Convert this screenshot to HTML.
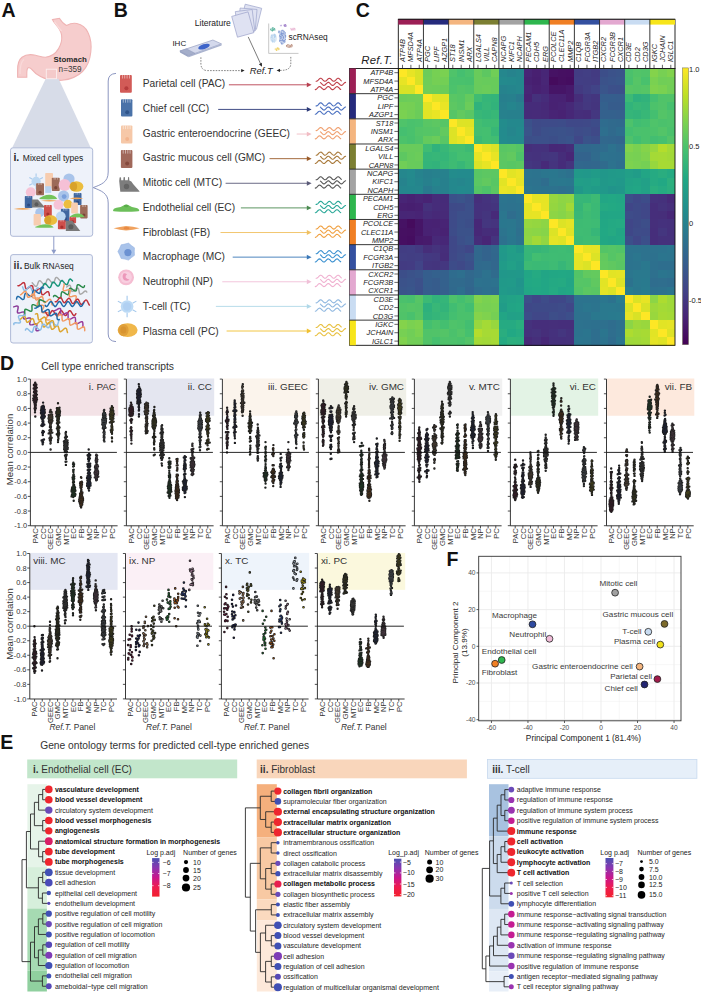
<!DOCTYPE html>
<html><head><meta charset="utf-8"><style>
html,body{margin:0;padding:0;background:#fff;}
body{width:701px;height:993px;overflow:hidden;}
svg{display:block;font-family:"Liberation Sans",sans-serif;}
</style></head><body>
<svg width="701" height="993" viewBox="0 0 701 993">
<rect width="701" height="993" fill="#fff"/>
<text x="1.6" y="16.7" font-weight="bold" font-size="19.5" fill="#111">A</text>
<path d="M52.4 19.6 L59.4 18.3 C61 21 63.5 24 66.5 25.4 C70 23.6 73.5 22.8 76.8 23.5 C82 24.6 86 28 88 32.5 C90.6 38 91.6 45 90.8 52 C90 60 87 67 82.5 71.5 C77.5 76.5 70 79.5 62 80.2 C54 80.8 46 79.6 40.5 76.6 C36.5 74.4 33.5 71.8 31.5 69.2 C30.4 68 29.2 67.2 28.2 67.8 C27 68.6 26.8 71 26.8 73.5 L26.8 77.2 L17.6 77.2 L17.6 70 C17.6 64 19 59.5 22 57.2 C25.5 54.6 30.5 54.2 35.5 55.2 C39.5 56 42.5 57.4 45.5 57.2 C50.5 56.8 55.5 53.8 58.6 48.6 C61.2 44.2 62.2 39.4 61.6 35.2 C61 31.6 58.8 28 56.2 25 C54.6 23.2 53.2 21.4 52.4 19.6 Z" fill="#f6cdcd" stroke="#efb4b4" stroke-width="1.1"/>
<path d="M54.5 21.5 C56.5 25 59.5 28.5 61.5 31" fill="none" stroke="#f9dada" stroke-width="1.4"/>
<path d="M20 74 C20 66 21 61.5 24 59.4" fill="none" stroke="#f9dada" stroke-width="1.2"/>
<text x="53.6" y="62.2" font-weight="bold" font-size="7.9" fill="#2a2a2a">Stomach</text>
<text x="58.6" y="71.8" font-size="8.2" fill="#3a3a3a">n=359</text>
<polygon points="45.7,78.8 58.6,78.8 90.6,147.6 12.3,147.6" fill="#d7dce8"/>
<rect x="46.3" y="69.2" width="10.2" height="9.5" fill="#f4caca" stroke="#fbeeee" stroke-width="0.9"/>
<rect x="10.5" y="147.8" width="82.2" height="88.5" rx="2.4" fill="#eef2fa" stroke="#a7b2d2" stroke-width="0.9"/>
<text x="13.4" y="161.4" font-size="10.5" font-weight="bold" fill="#222">i.</text><text x="22.8" y="161.4" font-size="8.5" fill="#222">Mixed cell types</text>
<g><line x1="36.1" y1="176.8" x2="36.1" y2="173.58" stroke="#a9cbec" stroke-width="1.1"/><line x1="32.12" y1="179.1" x2="29.33" y2="177.49" stroke="#a9cbec" stroke-width="1.1"/><line x1="32.12" y1="183.7" x2="29.33" y2="185.31" stroke="#a9cbec" stroke-width="1.1"/><line x1="36.1" y1="186" x2="36.1" y2="189.22" stroke="#a9cbec" stroke-width="1.1"/><line x1="40.08" y1="183.7" x2="42.87" y2="185.31" stroke="#a9cbec" stroke-width="1.1"/><line x1="40.08" y1="179.1" x2="42.87" y2="177.49" stroke="#a9cbec" stroke-width="1.1"/><circle cx="36.1" cy="181.4" r="4.6" fill="#bcd8f2"/><circle cx="69" cy="179" r="5.6" fill="#a9c4ea"/><rect x="45.2" y="172.9" width="7.8" height="15.7" rx="0.8" fill="#f7cdb0"/><rect x="51.8" y="177.7" width="7.9" height="13.3" rx="0.8" fill="#9c6a58"/><circle cx="55.75" cy="187.68" r="1.58" fill="#7a4436"/><line x1="54.17" y1="177.7" x2="54.17" y2="179.69" stroke="#fff" stroke-width="0.5" opacity="0.7"/><line x1="55.75" y1="177.7" x2="55.75" y2="179.69" stroke="#fff" stroke-width="0.5" opacity="0.7"/><line x1="57.33" y1="177.7" x2="57.33" y2="179.69" stroke="#fff" stroke-width="0.5" opacity="0.7"/><circle cx="64.6" cy="185" r="6" fill="#f5c0d6"/><ellipse cx="76.4" cy="186.5" rx="7" ry="5.2" fill="#ebbd3e"/><ellipse cx="73.6" cy="186.5" rx="3.5" ry="4.42" fill="#d8a22a"/><circle cx="30.8" cy="192.3" r="5" fill="#f6c3d6"/><rect x="45.2" y="186.2" width="6" height="6.7" fill="#b7d3f0"/><rect x="36.1" y="183.2" width="7.9" height="12.1" rx="0.8" fill="#9c6a58"/><circle cx="40.05" cy="192.28" r="1.58" fill="#7a4436"/><line x1="38.47" y1="183.2" x2="38.47" y2="185.01" stroke="#fff" stroke-width="0.5" opacity="0.7"/><line x1="40.05" y1="183.2" x2="40.05" y2="185.01" stroke="#fff" stroke-width="0.5" opacity="0.7"/><line x1="41.63" y1="183.2" x2="41.63" y2="185.01" stroke="#fff" stroke-width="0.5" opacity="0.7"/><path d="M39.1 199 C42.74 194.5 53.66 192.5 57.3 199 C51.84 199.6 44.56 199.6 39.1 199 Z" fill="#74c45a"/><circle cx="63.6" cy="196" r="5.6" fill="#a9c4ea"/><circle cx="64.16" cy="196.56" r="2.4" fill="#7aa0dc"/><rect x="73.7" y="192.9" width="7.8" height="12.1" rx="0.8" fill="#3f66a0"/><circle cx="77.6" cy="201.97" r="1.56" fill="#2c4a80"/><line x1="76.04" y1="192.9" x2="76.04" y2="194.72" stroke="#fff" stroke-width="0.5" opacity="0.7"/><line x1="77.6" y1="192.9" x2="77.6" y2="194.72" stroke="#fff" stroke-width="0.5" opacity="0.7"/><line x1="79.16" y1="192.9" x2="79.16" y2="194.72" stroke="#fff" stroke-width="0.5" opacity="0.7"/><path d="M69.4 198.4 Q76.4 196.8 83.4 198.4 Q76.4 200 69.4 198.4 Z" fill="#f0a55a"/><rect x="24.8" y="195.9" width="7.6" height="12.1" rx="0.8" fill="#3f66a0"/><circle cx="28.6" cy="204.97" r="1.52" fill="#2c4a80"/><line x1="27.08" y1="195.9" x2="27.08" y2="197.72" stroke="#fff" stroke-width="0.5" opacity="0.7"/><line x1="28.6" y1="195.9" x2="28.6" y2="197.72" stroke="#fff" stroke-width="0.5" opacity="0.7"/><line x1="30.12" y1="195.9" x2="30.12" y2="197.72" stroke="#fff" stroke-width="0.5" opacity="0.7"/><path d="M31.8 199.6 L37.83 199.6 L45.2 207.4 L31.8 207.4 Z" fill="#7a7a7a"/><circle cx="36.49" cy="204.3" r="1.95" fill="#5a5a5a"/><path d="M40.9 200.8 Q49.4 199.3 57.9 200.8 Q49.4 202.3 40.9 200.8 Z" fill="#f0a55a"/><circle cx="58.5" cy="204.7" r="5" fill="#f6c3d6"/><circle cx="67.9" cy="204.2" r="4.4" fill="#ecbd3e"/><rect x="71.2" y="202.6" width="6.7" height="10.9" rx="0.8" fill="#f7cdb0"/><rect x="80.1" y="205" width="7.5" height="13.4" rx="0.8" fill="#9c6a58"/><circle cx="83.85" cy="215.05" r="1.5" fill="#7a4436"/><line x1="82.35" y1="205" x2="82.35" y2="207.01" stroke="#fff" stroke-width="0.5" opacity="0.7"/><line x1="83.85" y1="205" x2="83.85" y2="207.01" stroke="#fff" stroke-width="0.5" opacity="0.7"/><line x1="85.35" y1="205" x2="85.35" y2="207.01" stroke="#fff" stroke-width="0.5" opacity="0.7"/><path d="M13.6 208.9 Q22.7 207.3 31.8 208.9 Q22.7 210.5 13.6 208.9 Z" fill="#f0a55a"/><circle cx="39.8" cy="212.5" r="4.6" fill="#a9c4ea"/><rect x="44" y="205" width="7.8" height="12.1" rx="0.8" fill="#cf4f4b"/><circle cx="47.9" cy="214.07" r="1.56" fill="#a8302e"/><line x1="46.34" y1="205" x2="46.34" y2="206.81" stroke="#fff" stroke-width="0.5" opacity="0.7"/><line x1="47.9" y1="205" x2="47.9" y2="206.81" stroke="#fff" stroke-width="0.5" opacity="0.7"/><line x1="49.46" y1="205" x2="49.46" y2="206.81" stroke="#fff" stroke-width="0.5" opacity="0.7"/><rect x="60.9" y="208.7" width="8.5" height="13.3" rx="0.8" fill="#3f66a0"/><circle cx="65.15" cy="218.68" r="1.7" fill="#2c4a80"/><line x1="63.45" y1="208.7" x2="63.45" y2="210.69" stroke="#fff" stroke-width="0.5" opacity="0.7"/><line x1="65.15" y1="208.7" x2="65.15" y2="210.69" stroke="#fff" stroke-width="0.5" opacity="0.7"/><line x1="66.85" y1="208.7" x2="66.85" y2="210.69" stroke="#fff" stroke-width="0.5" opacity="0.7"/><circle cx="60.8" cy="216.5" r="4.9" fill="#bcd6f2"/><path d="M69.4 217.1 C72.44 213.3 81.56 211.3 84.6 217.1 C80.04 217.7 73.96 217.7 69.4 217.1 Z" fill="#74c45a"/><rect x="33.6" y="214.1" width="7.3" height="11.5" rx="0.8" fill="#f7cdb0"/><ellipse cx="50.6" cy="220.2" rx="6.6" ry="4.9" fill="#ebbd3e"/><ellipse cx="47.96" cy="220.2" rx="3.3" ry="4.17" fill="#d8a22a"/><rect x="57.9" y="220.2" width="7.9" height="9.1" rx="0.8" fill="#cf4f4b"/><circle cx="61.85" cy="227.03" r="1.58" fill="#a8302e"/><line x1="60.27" y1="220.2" x2="60.27" y2="221.56" stroke="#fff" stroke-width="0.5" opacity="0.7"/><line x1="61.85" y1="220.2" x2="61.85" y2="221.56" stroke="#fff" stroke-width="0.5" opacity="0.7"/><line x1="63.43" y1="220.2" x2="63.43" y2="221.56" stroke="#fff" stroke-width="0.5" opacity="0.7"/><rect x="69.4" y="217.1" width="6.7" height="6.1" rx="0.8" fill="#cf4f4b"/><circle cx="72.75" cy="221.67" r="1.34" fill="#a8302e"/><line x1="71.41" y1="217.1" x2="71.41" y2="218.01" stroke="#fff" stroke-width="0.5" opacity="0.7"/><line x1="72.75" y1="217.1" x2="72.75" y2="218.01" stroke="#fff" stroke-width="0.5" opacity="0.7"/><line x1="74.09" y1="217.1" x2="74.09" y2="218.01" stroke="#fff" stroke-width="0.5" opacity="0.7"/><path d="M34.9 227.4 C38.66 224.2 49.94 222.2 53.7 227.4 C48.06 228 40.54 228 34.9 227.4 Z" fill="#74c45a"/><path d="M65.8 220.8 L72.33 220.8 L80.3 231.1 L65.8 231.1 Z" fill="#7a7a7a"/><circle cx="70.88" cy="226.75" r="2.57" fill="#5a5a5a"/></g>
<line x1="53.8" y1="236.3" x2="53.8" y2="250.5" stroke="#8d9bc8" stroke-width="1"/>
<polygon points="51.3,249.8 56.3,249.8 53.8,254.2" fill="#8d9bc8"/>
<rect x="10.6" y="254.6" width="81.8" height="88.4" rx="2.4" fill="#eef2fa" stroke="#a7b2d2" stroke-width="0.9"/>
<text x="13.6" y="268.6" font-size="10.5" font-weight="bold" fill="#333">ii.</text><text x="23.9" y="268.6" font-size="8.4" fill="#222">Bulk RNAseq</text>
<polyline points="17.9,285.7 18.8,285.8 19.8,285.2 21.1,284.2 22.3,283.2 23.4,282.6 24.2,282.8 24.7,283.7 25,285.2 25.3,286.8 25.6,288.1 26.2,288.8 27.1,288.7 28.3,287.9 29.5,286.9 30.7,285.9 31.7,285.6 32.4,285.9 32.9,287.1 33.1,288.6 33.4,290.2 33.8,291.4 34.5,291.8 35.5,291.5 36.7,290.6 37.9,289.5 39.1,288.7 40,288.6 40.6,289.2 41,290.5 41.3,292.1 41.6,293.6 42.1,294.6 42.9,294.8 43.9,294.3 45.1,293.3 46.4,292.2 47.5,291.6 48.3,291.6 48.8,292.5 49.2,293.9 49.4,295.5" fill="none" stroke="#c0303a" stroke-width="1.45" stroke-linecap="round" stroke-linejoin="round"/>
<polyline points="32.2,282.8 33.2,283.9 34.3,285.2 35.3,286.2 36.2,286.4 36.9,285.8 37.5,284.5 38,283 38.6,281.5 39.3,280.8 40.1,280.8 41.1,281.6 42.2,282.9 43.2,284.1 44.2,284.7 45,284.6 45.6,283.6 46.2,282.1 46.7,280.6 47.3,279.4 48.1,279 49,279.5 50,280.6 51.1,281.9 52.2,282.8 53,283.1 53.8,282.6 54.4,281.3 54.9,279.7 55.4,278.3 56.1,277.5 56.9,277.5 57.9,278.3 59,279.6 60.1,280.8 61,281.4 61.9,281.3 62.5,280.4" fill="none" stroke="#a8a8a8" stroke-width="1.45" stroke-linecap="round" stroke-linejoin="round"/>
<polyline points="40.9,289.2 41.7,289 42.4,288 42.9,286.5 43.5,285 44.1,283.9 44.9,283.5 45.8,284 46.8,285.1 47.9,286.4 48.9,287.4 49.7,287.7 50.5,287.2 51.1,285.9 51.6,284.4 52.2,282.9 52.9,282.1 53.7,282.1 54.7,282.9 55.7,284.1 56.7,285.4 57.7,286.1 58.5,286.1 59.2,285.2 59.8,283.8 60.3,282.2 60.9,281 61.7,280.5 62.5,280.8 63.6,281.9 64.6,283.2 65.6,284.2 66.5,284.7 67.3,284.3 67.9,283.2 68.5,281.6 69,280.1 69.7,279.2 70.5,279 71.4,279.7 72.5,280.9" fill="none" stroke="#17957a" stroke-width="1.45" stroke-linecap="round" stroke-linejoin="round"/>
<polyline points="22.5,286.8 23.1,288.3 23.7,289.7 24.3,290.7 25.1,290.8 26,290.2 27,289 28,287.7 29,286.8 29.8,286.6 30.5,287.2 31.2,288.4 31.8,290 32.4,291.3 33.1,292.1 33.9,292 34.8,291.1 35.8,289.9 36.8,288.6 37.7,287.9 38.5,287.9" fill="none" stroke="#8cbde6" stroke-width="1.45" stroke-linecap="round" stroke-linejoin="round"/>
<polyline points="66.7,287 68,285.9 69.1,285.2 70,285.3 70.5,286.2 70.9,287.7 71.1,289.4 71.5,290.7 72.2,291.4 73.1,291.2 74.3,290.3 75.6,289.2 76.7,288.3 77.7,288 78.4,288.6 78.8,289.9 79.1,291.5 79.4,293.1 80,294.1 80.8,294.2 81.8,293.7 83.1,292.6 84.3,291.5 85.4,291 86.2,291.1 86.8,292.1" fill="none" stroke="#a8a8a8" stroke-width="1.45" stroke-linecap="round" stroke-linejoin="round"/>
<polyline points="53.5,296.7 53.9,295.7 54.7,295.4 55.8,295.8 57.1,296.7 58.4,297.7 59.6,298.2 60.4,298.1 60.9,297.1 61.1,295.6 61.2,293.9 61.5,292.6 62.1,291.8 63,291.9 64.2,292.6 65.6,293.6 66.8,294.4 67.9,294.7 68.5,294.1 68.8,292.9 69,291.2 69.2,289.7 69.5,288.6 70.3,288.2 71.4,288.6 72.7,289.5 74,290.5 75.2,291 76,290.9 76.5,290 76.7,288.6 76.9,286.9 77.1,285.5 77.7,284.7 78.6,284.7 79.8,285.4 81.1,286.4 82.4,287.2 83.4,287.5 84.1,287 84.5,285.8" fill="none" stroke="#2a8a4a" stroke-width="1.45" stroke-linecap="round" stroke-linejoin="round"/>
<polyline points="64,283.9 64.1,284.9 63.9,286.3 63.4,287.9 63.1,289.4 63.3,290.3 64.1,290.7 65.4,290.5 67,290.1 68.5,289.7 69.6,289.7 70.2,290.3 70.2,291.5 69.8,293 69.3,294.6 69.2,295.8 69.6,296.6 70.6,296.8 72,296.5 73.6,296 75,295.7 76,295.9 76.3,296.7 76.1,298.1 75.7,299.6 75.3,301.2 75.3,302.3 76,302.8 77.1,302.8" fill="none" stroke="#f29a62" stroke-width="1.45" stroke-linecap="round" stroke-linejoin="round"/>
<polyline points="16.5,299.1 16.8,297.6 17.3,296.6 18,296.3 19.1,296.8 20.4,297.8 21.6,298.9 22.7,299.5 23.6,299.4 24.1,298.5 24.4,297 24.6,295.4 25,294 25.6,293.3 26.5,293.4 27.7,294.2 29,295.3 30.2,296.2 31.2,296.5 31.9,296 32.3,294.9 32.5,293.2 32.8,291.7 33.3,290.6 34,290.2 35,290.6 36.3,291.6 37.5,292.6 38.7,293.3 39.6,293.4 40.1,292.6 40.5,291.1 40.7,289.5 41,288 41.6,287.2 42.5,287.3 43.6,288" fill="none" stroke="#1f6aa8" stroke-width="1.45" stroke-linecap="round" stroke-linejoin="round"/>
<polyline points="20.4,294.8 21.4,294.3 22.5,293.2 23.7,292.1 24.8,291.4 25.7,291.4 26.3,292.1 26.7,293.5 27,295.1 27.4,296.5 28,297.3 28.8,297.3 29.8,296.7 31,295.6 32.2,294.5 33.2,294 34,294.1 34.6,295 34.9,296.5 35.3,298.1 35.7,299.4 36.3,300 37.2,299.9 38.3,299.1 39.5,297.9 40.7,297 41.7,296.5 42.4,296.9 42.9,298 43.2,299.5 43.6,301.1 44,302.3 44.7,302.7 45.7,302.3 46.8,301.4 48,300.3 49.1,299.4 50.1,299.2 50.7,299.8 51.2,301 51.5,302.6 51.8,304.1 52.4,305.1" fill="none" stroke="#f29a62" stroke-width="1.45" stroke-linecap="round" stroke-linejoin="round"/>
<polyline points="55.2,301.7 56,301.9 56.9,301.3 57.8,300.1 58.8,298.7 59.7,297.7 60.5,297.4 61.3,298 62,299.3 62.7,300.8 63.4,302.1 64.1,302.8 65,302.6 65.9,301.6 66.8,300.2 67.8,299 68.7,298.3 69.5,298.4 70.2,299.4 70.9,300.9 71.6,302.4 72.3,303.4 73.1,303.6 74,303 74.9,301.8 75.9,300.4 76.8,299.4 77.6,299.1 78.4,299.7 79.1,300.9 79.8,302.5 80.5,303.8 81.2,304.5 82.1,304.3 83,303.3 83.9,302 84.9,300.7 85.8,300 86.6,300.1 87.3,301.1 88,302.5 88.7,304 89.4,305.1" fill="none" stroke="#c0303a" stroke-width="1.45" stroke-linecap="round" stroke-linejoin="round"/>
<polyline points="45.1,305.2 45.9,306.2 46.7,306.5 47.5,305.9 48.3,304.7 49.1,303.2 50,302 50.8,301.5 51.6,301.8 52.4,302.9 53.2,304.3 54,305.6 54.8,306.4 55.6,306.4 56.4,305.5 57.2,304.1 58,302.7 58.8,301.7 59.7,301.5 60.5,302.1 61.3,303.4 62.1,304.8 62.9,306 63.7,306.5 64.5,306.1 65.3,305.1 66.1,303.6 66.9,302.3 67.7,301.6 68.5,301.7 69.4,302.5 70.2,303.9 71,305.3 71.8,306.3 72.6,306.5 73.4,305.8 74.2,304.6 75,303.1 75.8,302 76.6,301.5 77.4,301.9 78.2,303 79.1,304.4 79.9,305.7 80.7,306.4 81.5,306.3 82.3,305.4 83.1,304 83.9,302.6" fill="none" stroke="#1f6aa8" stroke-width="1.45" stroke-linecap="round" stroke-linejoin="round"/>
<polyline points="34.6,291.2 34.8,292 34.3,293.3 33.5,294.7 32.8,296.1 32.6,297.2 33.1,297.9 34.2,298.1 35.8,298.1 37.5,298 38.7,298.2 39.3,298.8 39.2,299.8 38.6,301.1 37.8,302.6 37.2,303.9 37.3,304.8 38,305.3 39.4,305.4 41.1,305.3 42.6,305.3 43.6,305.6 43.9,306.4 43.6,307.6 42.8,309 42.1,310.4 41.7,311.6 42,312.4 43.1,312.7 44.6,312.7 46.3,312.6 47.6,312.7 48.4,313.2 48.4,314.1 47.9,315.4 47,316.9 46.4,318.2 46.3,319.2 46.9,319.8 48.2,320 49.8,319.9" fill="none" stroke="#f29a62" stroke-width="1.45" stroke-linecap="round" stroke-linejoin="round"/>
<polyline points="13.7,306.9 15.3,306.4 16.7,306 17.8,306.1 18.2,306.8 18.1,308 17.8,309.6 17.4,311.2 17.4,312.4 17.9,313 19,313 20.4,312.6 22,312.1 23.4,311.9 24.2,312.2 24.5,313.1 24.2,314.5 23.8,316.1 23.5,317.6 23.7,318.6 24.4,319 25.7,318.9 27.2,318.4 28.7,318 29.9,317.9 30.6,318.4 30.6,319.5 30.3,321 29.9,322.6 29.7,323.9 30.1,324.7 31,324.9 32.4,324.7 34,324.2 35.4,323.8 36.4,323.9 36.9,324.7 36.8,325.9 36.4,327.5 36,329.1 36,330.2 36.6,330.8 37.7,330.8 39.2,330.4" fill="none" stroke="#8a3a98" stroke-width="1.45" stroke-linecap="round" stroke-linejoin="round"/>
<polyline points="23.4,316 24.3,315.8 24.8,315 24.8,313.6 24.7,312 24.7,310.5 25,309.5 25.8,309.2 27,309.6 28.5,310.3 29.9,311 31,311.3 31.8,310.9 32,309.8 32,308.3 31.9,306.6 32,305.3 32.5,304.6 33.4,304.6 34.8,305.1 36.2,305.9 37.6,306.5 38.6,306.5 39.1,305.9 39.2,304.6 39.1,302.9 39.1,301.3 39.3,300.2 40,299.8 41.1,300 42.5,300.7 44,301.4 45.2,301.9" fill="none" stroke="#2a8a4a" stroke-width="1.45" stroke-linecap="round" stroke-linejoin="round"/>
<polyline points="45.1,311.4 45.9,312.7 46.7,314.1 47.5,315.2 48.3,315.6 49.2,315.1 50,313.9 50.8,312.5 51.6,311.2 52.4,310.6 53.2,310.9 54,311.8 54.8,313.3 55.6,314.6 56.4,315.5 57.3,315.5 58.1,314.7 58.9,313.4 59.7,312 60.5,310.9 61.3,310.6 62.1,311.2 62.9,312.4 63.7,313.8 64.6,315 65.4,315.6 66.2,315.3 67,314.2 67.8,312.8 68.6,311.5 69.4,310.7 70.2,310.7 71,311.6 71.8,312.9 72.7,314.4 73.5,315.3 74.3,315.6 75.1,315 75.9,313.7" fill="none" stroke="#c0303a" stroke-width="1.45" stroke-linecap="round" stroke-linejoin="round"/>
<polyline points="54.1,310.6 55.1,310.5 56.5,309.8 57.9,309 59.2,308.4 60.2,308.4 60.7,309.2 60.8,310.6 60.7,312.2 60.8,313.7 61.1,314.8 61.9,315.1 63,314.7 64.4,313.9 65.8,313.1 67,312.8 67.8,313.1 68.1,314.1 68.1,315.6 68.1,317.3 68.2,318.6 68.7,319.4 69.6,319.4 70.9,318.9 72.4,318 73.7,317.4 74.7,317.2 75.3,317.8 75.5,319.1 75.5,320.7 75.5,322.3 75.7,323.5 76.4,323.9 77.5,323.7 78.9,323 80.3,322.1 81.5,321.7 82.4,321.8 82.8,322.7 82.9,324.1 82.9,325.8 82.9,327.2" fill="none" stroke="#9a3a9a" stroke-width="1.45" stroke-linecap="round" stroke-linejoin="round"/>
<polyline points="57,316.5 58.4,315.7 59.8,314.8 60.9,314.5 61.6,314.8 62,316 62,317.5 62.1,319.2 62.3,320.5 62.9,321.1 63.9,320.9 65.3,320.2 66.7,319.3 67.9,318.7 68.9,318.7 69.4,319.4 69.6,320.8 69.6,322.5 69.7,324 70.1,325 70.9,325.2 72.1,324.7 73.5,323.8 74.9,323 76,322.7 76.8,323 77.1,324.1 77.2,325.7 77.2,327.4 77.4,328.7 78.1,329.3 79.1,329.1 80.4,328.4 81.8,327.5 83.1,326.8 84,326.8 84.5,327.6 84.7,329 84.7,330.7" fill="none" stroke="#f29a62" stroke-width="1.45" stroke-linecap="round" stroke-linejoin="round"/>
<polyline points="19.3,319.9 20.3,319.4 21.5,318.3 22.6,317.2 23.7,316.4 24.5,316.3 25.2,317 25.6,318.4 26,320 26.4,321.4 27,322.2 27.9,322.2 28.9,321.4 30.1,320.3 31.2,319.2 32.2,318.6 33,318.8 33.6,319.8 34,321.2 34.4,322.8 34.9,324.1 35.5,324.6 36.4,324.4 37.5,323.5 38.7,322.3 39.8,321.4 40.8,321 41.5,321.4 42,322.5 42.4,324.1 42.8,325.6 43.3,326.7 44.1,327 45,326.5 46.2,325.5 47.3,324.4 48.4,323.5 49.3,323.4 49.9,324 50.4,325.3 50.8,326.9 51.2,328.4 51.8,329.2 52.6,329.3 53.6,328.6 54.8,327.5 55.9,326.4 56.9,325.8 57.8,325.8 58.3,326.7 58.8,328.2 59.1,329.8 59.6,331.1 60.3,331.7 61.1,331.5 62.2,330.7 63.4,329.5 64.5,328.5 65.5,328.1 66.2,328.4 66.8,329.5 67.1,331 67.5,332.6" fill="none" stroke="#dca530" stroke-width="1.45" stroke-linecap="round" stroke-linejoin="round"/>
<polyline points="13.9,324.6 13.8,323.6 14.4,323 15.7,322.8 17.3,322.9 18.9,323 20.1,322.7 20.5,322 20.2,320.9 19.5,319.4 18.7,318 18.4,316.7 18.7,315.9 19.7,315.6 21.2,315.6 22.9,315.7 24.3,315.6 25.1,315.1 25.1,314.2" fill="none" stroke="#8cbde6" stroke-width="1.45" stroke-linecap="round" stroke-linejoin="round"/>
<polyline points="25.4,330.1 25.9,329 26.6,328.5 27.5,328.8 28.6,329.8 29.8,331 30.9,331.9 31.8,332.3 32.5,331.8 33,330.6 33.4,329 33.8,327.5 34.4,326.5 35.2,326.3 36.2,326.9 37.3,327.9 38.4,329.1 39.5,329.9 40.3,330 41,329.3 41.4,327.9 41.8,326.3 42.3,324.9 42.9,324.1 43.8,324.2 44.8,324.9 46,326.1 47.1,327.2 48.1,327.8 48.9,327.6 49.4,326.7 49.9,325.2 50.3,323.6 50.8,322.4 51.5,321.9 52.4,322.1 53.5,323.1 54.6,324.2 55.7,325.2 56.6,325.6 57.4,325.2 57.9,324.1 58.3,322.5 58.7,321 59.3,319.9" fill="none" stroke="#8cbde6" stroke-width="1.45" stroke-linecap="round" stroke-linejoin="round"/>
<polyline points="35.4,314.1 36.5,313.6 37.3,313.8 37.7,314.8 37.9,316.3 38.1,318 38.4,319.3 38.9,320 39.9,319.9 41.1,319.1 42.4,318.2 43.6,317.3 44.6,317 45.3,317.5 45.6,318.7 45.8,320.3 46,321.9 46.4,323 47.1,323.5 48.1,323.2 49.3,322.3 50.6,321.3 51.8,320.6 52.7,320.6 53.3,321.3 53.6,322.7 53.7,324.3 54,325.8 54.4,326.7" fill="none" stroke="#dca530" stroke-width="1.45" stroke-linecap="round" stroke-linejoin="round"/>
<polyline points="34.9,308.2 35.9,308.1 37.1,307.4 38.5,306.4 39.8,305.7 40.8,305.6 41.3,306.2 41.6,307.6 41.7,309.2 41.8,310.8 42.2,311.8 42.9,312.1 44.1,311.7 45.4,310.8 46.8,309.9 47.9,309.4 48.7,309.6 49.2,310.6 49.3,312.1 49.4,313.8 49.6,315.1 50.2,315.9 51.1,315.8 52.3,315.2 53.7,314.2 55,313.5 56,313.2 56.7,313.8 56.9,315 57,316.7 57.1,318.2 57.5,319.4 58.2,319.8 59.3,319.5" fill="none" stroke="#1f6aa8" stroke-width="1.45" stroke-linecap="round" stroke-linejoin="round"/>
<text x="113.7" y="16.8" font-weight="bold" font-size="19.5" fill="#111">B</text>
<rect x="0" y="0" width="17" height="21.6" fill="#dfe2f2" stroke="#959cc6" stroke-width="0.6" transform="translate(245.2 4.2) rotate(14)"/>
<rect x="0" y="0" width="17" height="21.6" fill="#dfe2f2" stroke="#959cc6" stroke-width="0.6" transform="translate(240.1 8) rotate(5)"/>
<rect x="0" y="0" width="17" height="21.6" fill="#dfe2f2" stroke="#959cc6" stroke-width="0.6" transform="translate(235.3 11.6) rotate(-7)"/>
<rect x="0" y="0" width="17" height="21.6" fill="#dfe2f2" stroke="#959cc6" stroke-width="0.6" transform="translate(231.7 16.4) rotate(-15.5)"/>
<text x="194.8" y="26" font-size="8.5" fill="#222">Literature</text>
<polygon points="179.9,51 212.9,40 221.5,43.9 188.5,55.7" fill="#d4d9ec" stroke="#8a94b8" stroke-width="0.6"/>
<polygon points="179.9,51 188.5,55.7 188.6,57.2 180,52.5" fill="#9aa5c4"/>
<polygon points="188.5,55.7 221.5,43.9 221.6,45.4 188.6,57.2" fill="#aab3cf"/>
<polygon points="179.9,51 186.5,48.8 195.2,53.3 188.5,55.7" fill="#a4aeca" stroke="#8a94b8" stroke-width="0.4"/>
<ellipse cx="204" cy="46.6" rx="6" ry="2.4" fill="#3d63c9" transform="rotate(-18 204 46.6)"/>
<text x="172.4" y="46.3" font-size="8" fill="#222">IHC</text>
<path d="M268.7 23.5V53.4H298.5" fill="none" stroke="#b0b0b0" stroke-width="0.7"/>
<ellipse cx="272.8" cy="29.3" rx="2.6" ry="1.8" fill="#4fae96" opacity="0.45"/>
<path d="M274.1 29.6h0M272.7 29h0M273 29.7h0M272.1 30.7h0M272.1 30.6h0M275 30h0M273.5 29.9h0M270.4 29.3h0M272.9 27.5h0M272.9 28.2h0M271 30.1h0M272.5 30.9h0M274.7 28.5h0" stroke="#4fae96" stroke-width="1.0" stroke-linecap="round"/>
<ellipse cx="273.5" cy="38.2" rx="3.4" ry="4.4" fill="#b3d0ec" opacity="0.45"/>
<path d="M272.1 38h0M273 40.4h0M272.4 40.8h0M272 37.6h0M274.4 34.6h0M274.5 36.4h0M271.4 35.9h0M271.8 40h0M274.5 35h0M275.4 36.4h0M275 34.6h0M274.3 34.2h0M272.8 35.4h0M272.4 41.9h0M274.9 40.3h0M273.8 41.6h0M275 36.5h0M274.5 34.5h0M272.7 36.3h0M274.5 35.5h0M273.3 35.2h0M275.4 35.4h0M274.2 39.8h0M274.7 36h0M273 38.8h0M271.5 35.3h0M274.7 37h0M274.4 36.8h0M272 40.1h0M271.3 36.8h0M271.1 37.6h0M275 37.3h0M274.3 42h0M272.6 41.6h0M274.3 37.7h0" stroke="#b3d0ec" stroke-width="1.0" stroke-linecap="round"/>
<ellipse cx="282.5" cy="37" rx="3.6" ry="7.4" fill="#7f98d2" opacity="0.45"/>
<path d="M282.6 35.6h0M280.1 36.7h0M281.3 30.9h0M283.4 37.6h0M280.1 33.2h0M284.1 41.7h0M283.9 41.1h0M285.8 36.2h0M281.6 32.3h0M285.2 33.8h0M285.5 37.1h0M280.3 34.6h0M280.5 38.7h0M281.8 43.4h0M282.2 34.1h0M282.7 30.5h0M282.4 33.5h0M281.6 40.4h0M285.3 32.7h0M281.5 35.1h0M283.9 40.4h0M284.4 40.5h0M282.4 39.5h0M283.3 40.9h0M281.5 33.4h0M280.4 36.4h0M283.4 38.2h0M282.5 40.5h0M285.4 39.5h0M280.6 37.1h0M283.3 33h0M283.2 41.1h0M281.6 33.5h0M282.2 43.9h0M279.5 35.4h0M284 34.7h0M281.2 36.4h0M285.7 35.4h0M281.6 34.3h0M283.2 36.7h0M279.4 40.3h0M281.2 42.9h0M285.5 36h0M281.4 43.9h0M279.7 41.4h0M284.9 42.2h0M282.5 35.4h0M281.6 34h0M279.9 36.4h0M285 41.2h0M285.2 35.7h0M280.1 40.4h0M280.3 40.5h0M281.2 38.2h0M283.8 33.5h0M283.1 37.9h0M281.3 37.7h0M282.2 35.2h0M283.6 37h0M283.5 31.2h0M284.6 31.9h0" stroke="#7f98d2" stroke-width="1.0" stroke-linecap="round"/>
<ellipse cx="285" cy="25.4" rx="1.6" ry="1.3" fill="#9a78c6" opacity="0.45"/>
<path d="M285.2 26.3h0M284.2 25.2h0M284.4 25.9h0M286.2 26h0M285 25.3h0M285.1 26.1h0M285.3 24.5h0" stroke="#9a78c6" stroke-width="1.0" stroke-linecap="round"/>
<ellipse cx="292.7" cy="29.3" rx="2.6" ry="1.6" fill="#e9b7d4" opacity="0.45"/>
<path d="M291.4 29.5h0M290.8 28.4h0M293.1 29.3h0M292.2 29.2h0M293.9 28.2h0M291.6 29.8h0M295 29.9h0M294.8 28.5h0M293.1 29.2h0M293.1 29.1h0M294.9 29.1h0M294.5 28.4h0" stroke="#e9b7d4" stroke-width="1.0" stroke-linecap="round"/>
<ellipse cx="289.5" cy="46" rx="3.6" ry="1.6" fill="#b88a78" opacity="0.45"/>
<path d="M292.1 45.2h0M290 45.9h0M288.1 44.7h0M290.1 45.8h0M286.8 46.2h0M289.9 47h0M291.4 44.6h0M287.8 44.7h0M291 46.9h0M290.8 46.4h0M286.6 45.7h0M289.1 47.3h0M291.8 45h0M286.8 45.4h0M288.1 47.1h0" stroke="#b88a78" stroke-width="1.0" stroke-linecap="round"/>
<ellipse cx="277.3" cy="49" rx="2.4" ry="1.6" fill="#efd062" opacity="0.45"/>
<path d="M277.1 48.7h0M278.7 49.2h0M277.9 48h0M278.1 48.3h0M276.5 50.4h0M276.1 49.8h0M277.7 48.1h0M279.1 49h0M276.4 49.9h0M276.8 50.2h0M275.1 49.1h0" stroke="#efd062" stroke-width="1.0" stroke-linecap="round"/>
<ellipse cx="281" cy="25.5" rx="0.8" ry="0.8" fill="#c3b0e0" opacity="0.45"/>
<path d="M280.7 25.8h0M280.3 25.4h0M281.4 25.3h0M281.5 25.7h0" stroke="#c3b0e0" stroke-width="1.0" stroke-linecap="round"/>
<ellipse cx="279" cy="32" rx="1.2" ry="1" fill="#8aa2d6" opacity="0.45"/>
<path d="M279 31.2h0M279.1 31.3h0M278.5 32.7h0M279 31.2h0M279.7 32.1h0" stroke="#8aa2d6" stroke-width="1.0" stroke-linecap="round"/>
<text x="288.5" y="40" font-size="8.3" fill="#222">scRNAseq</text>
<path d="M200.9 57.3 V64 Q201.2 70.5 207.5 70.6 H241.5" fill="none" stroke="#333" stroke-width="0.6" stroke-dasharray="1.6 1.2"/>
<polygon points="241.2,68.9 244.6,70.6 241.2,72.3" fill="#222"/>
<line x1="248.2" y1="36.9" x2="260.6" y2="63.8" stroke="#222" stroke-width="0.6"/>
<polygon points="258.9,64.2 262,66.8 261.8,62.8" fill="#222"/>
<path d="M290.8 56.9 V64 Q290.6 70.3 281 70.4 H279.5" fill="none" stroke="#333" stroke-width="0.6" stroke-dasharray="1.6 1.2"/>
<polygon points="280,68.8 276.6,70.4 280,72" fill="#222"/>
<text x="249.8" y="73.6" font-style="italic" font-size="9.4" fill="#222">Ref.T</text>
<path d="M116 73.4 Q108.3 73.8 108.2 81 V172 C108.2 182.5 101 184.5 93.2 187.6 C101 190.7 108.2 193 108.2 203 V334 Q108.3 341.3 116 341.6" fill="none" stroke="#8690bd" stroke-width="0.95"/>
<text x="142.8" y="87.1" font-size="10.2" fill="#333">Parietal cell (PAC)</text>
<line x1="228.9" y1="84.8" x2="307.5" y2="84.8" stroke="#b84050" stroke-width="0.9"/>
<polygon points="306.8,82.4 311.6,84.8 306.8,87.2" fill="#b84050"/>
<polyline points="316.1,81.3 316.8,81.3 317.5,80.8 318.2,80.2 318.9,79.4 319.6,78.7 320.3,78.3 321,78.3 321.7,78.6 322.4,79.3 323.1,80.1 323.8,80.8 324.5,81.2 325.2,81.3 325.9,81.1 326.6,80.5 327.3,79.7 328,79 328.7,78.4 329.4,78.2 330.1,78.4 330.8,79 331.5,79.7 332.2,80.5 332.9,81.1 333.6,81.3 334.3,81.2 335,80.8 335.7,80.1 336.4,79.3 337.1,78.6 337.8,78.3 338.5,78.3 339.2,78.7 339.9,79.4 340.6,80.2 341.3,80.8" fill="none" stroke="#c0404a" stroke-width="1.1" stroke-linecap="round"/>
<polyline points="320.4,82.6 321.1,83.2 321.8,83.9 322.5,84.7 323.2,85.2 323.9,85.4 324.6,85.3 325.3,84.8 326,84 326.7,83.3 327.4,82.7 328.1,82.4 328.8,82.4 329.5,82.9 330.2,83.6 330.9,84.4 331.6,85 332.3,85.4 333,85.4 333.7,85 334.4,84.4 335.1,83.6 335.8,82.9 336.5,82.4 337.2,82.4 337.9,82.7 338.6,83.3 339.3,84 340,84.8 340.7,85.3 341.4,85.4 342.1,85.2 342.8,84.7 343.5,83.9 344.2,83.2 344.9,82.6 345.6,82.4" fill="none" stroke="#c0404a" stroke-width="1.1" stroke-linecap="round"/>
<polyline points="315.3,89.6 316,89.4 316.7,88.9 317.4,88.1 318.1,87.4 318.8,86.8 319.5,86.6 320.2,86.7 320.9,87.2 321.6,88 322.4,88.7 323.1,89.3 323.8,89.6 324.5,89.5 325.2,89.1 325.9,88.4 326.6,87.6 327.3,86.9 328,86.6 328.7,86.6 329.4,87 330.1,87.7 330.8,88.5 331.5,89.2 332.2,89.6 332.9,89.6 333.6,89.3 334.4,88.6 335.1,87.8 335.8,87.1 336.5,86.7 337.2,86.6 337.9,86.9 338.6,87.5 339.3,88.2 340,89 340.7,89.5" fill="none" stroke="#c0404a" stroke-width="1.1" stroke-linecap="round"/>
<text x="142.8" y="111.84" font-size="10.2" fill="#333">Chief cell (CC)</text>
<line x1="218.2" y1="109.42" x2="307.5" y2="109.42" stroke="#2c3a78" stroke-width="0.9"/>
<polygon points="306.8,107.02 311.6,109.42 306.8,111.82" fill="#2c3a78"/>
<polyline points="316.1,105.9 316.8,105.9 317.5,105.5 318.2,104.8 318.9,104 319.6,103.3 320.3,102.9 321,102.9 321.7,103.3 322.4,103.9 323.1,104.7 323.8,105.4 324.5,105.8 325.2,106 325.9,105.7 326.6,105.1 327.3,104.3 328,103.6 328.7,103.1 329.4,102.9 330.1,103.1 330.8,103.6 331.5,104.3 332.2,105.1 332.9,105.7 333.6,106 334.3,105.8 335,105.4 335.7,104.7 336.4,103.9 337.1,103.3 337.8,102.9 338.5,102.9 339.2,103.3 339.9,104 340.6,104.8 341.3,105.5" fill="none" stroke="#4a70c0" stroke-width="1.1" stroke-linecap="round"/>
<polyline points="320.4,107.2 321.1,107.8 321.8,108.5 322.5,109.3 323.2,109.8 323.9,110.1 324.6,109.9 325.3,109.4 326,108.7 326.7,107.9 327.4,107.3 328.1,107 328.8,107.1 329.5,107.5 330.2,108.2 330.9,109 331.6,109.6 332.3,110 333,110 333.7,109.6 334.4,109 335.1,108.2 335.8,107.5 336.5,107.1 337.2,107 337.9,107.3 338.6,107.9 339.3,108.7 340,109.4 340.7,109.9 341.4,110.1 342.1,109.8 342.8,109.3 343.5,108.5 344.2,107.8 344.9,107.2 345.6,107" fill="none" stroke="#4a70c0" stroke-width="1.1" stroke-linecap="round"/>
<polyline points="315.3,114.3 316,114 316.7,113.5 317.4,112.7 318.1,112 318.8,111.4 319.5,111.2 320.2,111.3 320.9,111.8 321.6,112.6 322.4,113.4 323.1,114 323.8,114.3 324.5,114.2 325.2,113.7 325.9,113 326.6,112.2 327.3,111.6 328,111.2 328.7,111.2 329.4,111.6 330.1,112.3 330.8,113.1 331.5,113.8 332.2,114.2 332.9,114.2 333.6,113.9 334.4,113.2 335.1,112.5 335.8,111.8 336.5,111.3 337.2,111.2 337.9,111.5 338.6,112.1 339.3,112.8 340,113.6 340.7,114.1" fill="none" stroke="#4a70c0" stroke-width="1.1" stroke-linecap="round"/>
<text x="142.8" y="136.58" font-size="10.2" fill="#333">Gastric enteroendocrine (GEEC)</text>
<line x1="296.7" y1="134.04" x2="307.5" y2="134.04" stroke="#f1bcc4" stroke-width="0.9"/>
<polygon points="306.8,131.64 311.6,134.04 306.8,136.44" fill="#f1bcc4"/>
<polyline points="316.1,130.6 316.8,130.5 317.5,130.1 318.2,129.4 318.9,128.6 319.6,128 320.3,127.6 321,127.5 321.7,127.9 322.4,128.5 323.1,129.3 323.8,130 324.5,130.5 325.2,130.6 325.9,130.3 326.6,129.7 327.3,129 328,128.2 328.7,127.7 329.4,127.5 330.1,127.7 330.8,128.2 331.5,129 332.2,129.7 332.9,130.3 333.6,130.6 334.3,130.5 335,130 335.7,129.3 336.4,128.5 337.1,127.9 337.8,127.5 338.5,127.6 339.2,128 339.9,128.6 340.6,129.4 341.3,130.1" fill="none" stroke="#f0a070" stroke-width="1.1" stroke-linecap="round"/>
<polyline points="320.4,131.8 321.1,132.4 321.8,133.2 322.5,133.9 323.2,134.5 323.9,134.7 324.6,134.5 325.3,134 326,133.3 326.7,132.5 327.4,131.9 328.1,131.6 328.8,131.7 329.5,132.1 330.2,132.8 330.9,133.6 331.6,134.3 332.3,134.6 333,134.6 333.7,134.3 334.4,133.6 335.1,132.8 335.8,132.1 336.5,131.7 337.2,131.6 337.9,131.9 338.6,132.5 339.3,133.3 340,134 340.7,134.5 341.4,134.7 342.1,134.5 342.8,133.9 343.5,133.2 344.2,132.4 344.9,131.8 345.6,131.6" fill="none" stroke="#f0a070" stroke-width="1.1" stroke-linecap="round"/>
<polyline points="315.3,138.9 316,138.7 316.7,138.1 317.4,137.3 318.1,136.6 318.8,136 319.5,135.8 320.2,136 320.9,136.5 321.6,137.2 322.4,138 323.1,138.6 323.8,138.9 324.5,138.8 325.2,138.3 325.9,137.6 326.6,136.8 327.3,136.2 328,135.8 328.7,135.9 329.4,136.3 330.1,136.9 330.8,137.7 331.5,138.4 332.2,138.8 332.9,138.9 333.6,138.5 334.4,137.9 335.1,137.1 335.8,136.4 336.5,135.9 337.2,135.8 337.9,136.1 338.6,136.7 339.3,137.5 340,138.2 340.7,138.7" fill="none" stroke="#f0a070" stroke-width="1.1" stroke-linecap="round"/>
<text x="142.8" y="161.32" font-size="10.2" fill="#333">Gastric mucous cell (GMC)</text>
<line x1="269.5" y1="158.66" x2="307.5" y2="158.66" stroke="#9a5a28" stroke-width="0.9"/>
<polygon points="306.8,156.26 311.6,158.66 306.8,161.06" fill="#9a5a28"/>
<polyline points="316.1,155.2 316.8,155.1 317.5,154.7 318.2,154 318.9,153.2 319.6,152.6 320.3,152.2 321,152.1 321.7,152.5 322.4,153.1 323.1,153.9 323.8,154.6 324.5,155.1 325.2,155.2 325.9,154.9 326.6,154.3 327.3,153.6 328,152.8 328.7,152.3 329.4,152.1 330.1,152.3 330.8,152.8 331.5,153.6 332.2,154.3 332.9,154.9 333.6,155.2 334.3,155.1 335,154.6 335.7,153.9 336.4,153.1 337.1,152.5 337.8,152.1 338.5,152.2 339.2,152.6 339.9,153.2 340.6,154 341.3,154.7" fill="none" stroke="#a87838" stroke-width="1.1" stroke-linecap="round"/>
<polyline points="320.4,156.5 321.1,157 321.8,157.8 322.5,158.5 323.2,159.1 323.9,159.3 324.6,159.1 325.3,158.6 326,157.9 326.7,157.1 327.4,156.5 328.1,156.2 328.8,156.3 329.5,156.8 330.2,157.5 330.9,158.2 331.6,158.9 332.3,159.3 333,159.3 333.7,158.9 334.4,158.2 335.1,157.5 335.8,156.8 336.5,156.3 337.2,156.2 337.9,156.5 338.6,157.1 339.3,157.9 340,158.6 340.7,159.1 341.4,159.3 342.1,159.1 342.8,158.5 343.5,157.8 344.2,157 344.9,156.5 345.6,156.2" fill="none" stroke="#a87838" stroke-width="1.1" stroke-linecap="round"/>
<polyline points="315.3,163.5 316,163.3 316.7,162.7 317.4,162 318.1,161.2 318.8,160.6 319.5,160.4 320.2,160.6 320.9,161.1 321.6,161.8 322.4,162.6 323.1,163.2 323.8,163.5 324.5,163.4 325.2,162.9 325.9,162.2 326.6,161.5 327.3,160.8 328,160.4 328.7,160.5 329.4,160.9 330.1,161.6 330.8,162.3 331.5,163 332.2,163.4 332.9,163.5 333.6,163.1 334.4,162.5 335.1,161.7 335.8,161 336.5,160.5 337.2,160.4 337.9,160.7 338.6,161.3 339.3,162.1 340,162.8 340.7,163.3" fill="none" stroke="#a87838" stroke-width="1.1" stroke-linecap="round"/>
<text x="142.8" y="186.06" font-size="10.2" fill="#333">Mitotic cell (MTC)</text>
<line x1="225.6" y1="183.28" x2="307.5" y2="183.28" stroke="#5a5a78" stroke-width="0.9"/>
<polygon points="306.8,180.88 311.6,183.28 306.8,185.68" fill="#5a5a78"/>
<polyline points="316.1,179.8 316.8,179.7 317.5,179.3 318.2,178.6 318.9,177.9 319.6,177.2 320.3,176.8 321,176.8 321.7,177.1 322.4,177.8 323.1,178.5 323.8,179.2 324.5,179.7 325.2,179.8 325.9,179.5 326.6,179 327.3,178.2 328,177.5 328.7,176.9 329.4,176.7 330.1,176.9 330.8,177.5 331.5,178.2 332.2,179 332.9,179.5 333.6,179.8 334.3,179.7 335,179.2 335.7,178.5 336.4,177.8 337.1,177.1 337.8,176.8 338.5,176.8 339.2,177.2 339.9,177.9 340.6,178.6 341.3,179.3" fill="none" stroke="#555555" stroke-width="1.1" stroke-linecap="round"/>
<polyline points="320.4,181.1 321.1,181.7 321.8,182.4 322.5,183.2 323.2,183.7 323.9,183.9 324.6,183.8 325.3,183.2 326,182.5 326.7,181.8 327.4,181.1 328.1,180.8 328.8,180.9 329.5,181.4 330.2,182.1 330.9,182.8 331.6,183.5 332.3,183.9 333,183.9 333.7,183.5 334.4,182.8 335.1,182.1 335.8,181.4 336.5,180.9 337.2,180.8 337.9,181.1 338.6,181.8 339.3,182.5 340,183.2 340.7,183.8 341.4,183.9 342.1,183.7 342.8,183.2 343.5,182.4 344.2,181.7 344.9,181.1 345.6,180.8" fill="none" stroke="#555555" stroke-width="1.1" stroke-linecap="round"/>
<polyline points="315.3,188.1 316,187.9 316.7,187.3 317.4,186.6 318.1,185.8 318.8,185.3 319.5,185 320.2,185.2 320.9,185.7 321.6,186.4 322.4,187.2 323.1,187.8 323.8,188.1 324.5,188 325.2,187.6 325.9,186.8 326.6,186.1 327.3,185.4 328,185.1 328.7,185.1 329.4,185.5 330.1,186.2 330.8,187 331.5,187.6 332.2,188.1 332.9,188.1 333.6,187.7 334.4,187.1 335.1,186.3 335.8,185.6 336.5,185.1 337.2,185 337.9,185.3 338.6,185.9 339.3,186.7 340,187.4 340.7,188" fill="none" stroke="#555555" stroke-width="1.1" stroke-linecap="round"/>
<text x="142.8" y="210.8" font-size="10.2" fill="#333">Endothelial cell (EC)</text>
<line x1="240.9" y1="207.9" x2="307.5" y2="207.9" stroke="#4a8a50" stroke-width="0.9"/>
<polygon points="306.8,205.5 311.6,207.9 306.8,210.3" fill="#4a8a50"/>
<polyline points="316.1,204.4 316.8,204.4 317.5,203.9 318.2,203.3 318.9,202.5 319.6,201.8 320.3,201.4 321,201.4 321.7,201.7 322.4,202.4 323.1,203.2 323.8,203.9 324.5,204.3 325.2,204.4 325.9,204.2 326.6,203.6 327.3,202.8 328,202.1 328.7,201.5 329.4,201.3 330.1,201.5 330.8,202.1 331.5,202.8 332.2,203.6 332.9,204.2 333.6,204.4 334.3,204.3 335,203.9 335.7,203.2 336.4,202.4 337.1,201.7 337.8,201.4 338.5,201.4 339.2,201.8 339.9,202.5 340.6,203.3 341.3,203.9" fill="none" stroke="#2aa898" stroke-width="1.1" stroke-linecap="round"/>
<polyline points="320.4,205.7 321.1,206.3 321.8,207 322.5,207.8 323.2,208.3 323.9,208.5 324.6,208.4 325.3,207.9 326,207.1 326.7,206.4 327.4,205.8 328.1,205.5 328.8,205.5 329.5,206 330.2,206.7 330.9,207.5 331.6,208.1 332.3,208.5 333,208.5 333.7,208.1 334.4,207.5 335.1,206.7 335.8,206 336.5,205.5 337.2,205.5 337.9,205.8 338.6,206.4 339.3,207.1 340,207.9 340.7,208.4 341.4,208.5 342.1,208.3 342.8,207.8 343.5,207 344.2,206.3 344.9,205.7 345.6,205.5" fill="none" stroke="#2aa898" stroke-width="1.1" stroke-linecap="round"/>
<polyline points="315.3,212.7 316,212.5 316.7,212 317.4,211.2 318.1,210.5 318.8,209.9 319.5,209.7 320.2,209.8 320.9,210.3 321.6,211.1 322.4,211.8 323.1,212.4 323.8,212.7 324.5,212.6 325.2,212.2 325.9,211.5 326.6,210.7 327.3,210 328,209.7 328.7,209.7 329.4,210.1 330.1,210.8 330.8,211.6 331.5,212.3 332.2,212.7 332.9,212.7 333.6,212.4 334.4,211.7 335.1,210.9 335.8,210.2 336.5,209.8 337.2,209.7 337.9,210 338.6,210.6 339.3,211.3 340,212.1 340.7,212.6" fill="none" stroke="#2aa898" stroke-width="1.1" stroke-linecap="round"/>
<text x="142.8" y="235.54" font-size="10.2" fill="#333">Fibroblast (FB)</text>
<line x1="220.5" y1="232.52" x2="307.5" y2="232.52" stroke="#f0c060" stroke-width="0.9"/>
<polygon points="306.8,230.12 311.6,232.52 306.8,234.92" fill="#f0c060"/>
<polyline points="316.1,229 316.8,229 317.5,228.6 318.2,227.9 318.9,227.1 319.6,226.4 320.3,226 321,226 321.7,226.4 322.4,227 323.1,227.8 323.8,228.5 324.5,228.9 325.2,229.1 325.9,228.8 326.6,228.2 327.3,227.4 328,226.7 328.7,226.2 329.4,226 330.1,226.2 330.8,226.7 331.5,227.4 332.2,228.2 332.9,228.8 333.6,229.1 334.3,228.9 335,228.5 335.7,227.8 336.4,227 337.1,226.4 337.8,226 338.5,226 339.2,226.4 339.9,227.1 340.6,227.9 341.3,228.6" fill="none" stroke="#f0a040" stroke-width="1.1" stroke-linecap="round"/>
<polyline points="320.4,230.3 321.1,230.9 321.8,231.6 322.5,232.4 323.2,232.9 323.9,233.2 324.6,233 325.3,232.5 326,231.8 326.7,231 327.4,230.4 328.1,230.1 328.8,230.2 329.5,230.6 330.2,231.3 330.9,232.1 331.6,232.7 332.3,233.1 333,233.1 333.7,232.7 334.4,232.1 335.1,231.3 335.8,230.6 336.5,230.2 337.2,230.1 337.9,230.4 338.6,231 339.3,231.8 340,232.5 340.7,233 341.4,233.2 342.1,232.9 342.8,232.4 343.5,231.6 344.2,230.9 344.9,230.3 345.6,230.1" fill="none" stroke="#f0a040" stroke-width="1.1" stroke-linecap="round"/>
<polyline points="315.3,237.4 316,237.1 316.7,236.6 317.4,235.8 318.1,235.1 318.8,234.5 319.5,234.3 320.2,234.4 320.9,234.9 321.6,235.7 322.4,236.5 323.1,237.1 323.8,237.4 324.5,237.3 325.2,236.8 325.9,236.1 326.6,235.3 327.3,234.7 328,234.3 328.7,234.3 329.4,234.7 330.1,235.4 330.8,236.2 331.5,236.9 332.2,237.3 332.9,237.3 333.6,237 334.4,236.3 335.1,235.6 335.8,234.9 336.5,234.4 337.2,234.3 337.9,234.6 338.6,235.2 339.3,235.9 340,236.7 340.7,237.2" fill="none" stroke="#f0a040" stroke-width="1.1" stroke-linecap="round"/>
<text x="142.8" y="260.28" font-size="10.2" fill="#333">Macrophage (MC)</text>
<line x1="232.7" y1="257.14" x2="307.5" y2="257.14" stroke="#3a78b8" stroke-width="0.9"/>
<polygon points="306.8,254.74 311.6,257.14 306.8,259.54" fill="#3a78b8"/>
<polyline points="316.1,253.7 316.8,253.6 317.5,253.2 318.2,252.5 318.9,251.7 319.6,251.1 320.3,250.7 321,250.6 321.7,251 322.4,251.6 323.1,252.4 323.8,253.1 324.5,253.6 325.2,253.7 325.9,253.4 326.6,252.8 327.3,252.1 328,251.3 328.7,250.8 329.4,250.6 330.1,250.8 330.8,251.3 331.5,252.1 332.2,252.8 332.9,253.4 333.6,253.7 334.3,253.6 335,253.1 335.7,252.4 336.4,251.6 337.1,251 337.8,250.6 338.5,250.7 339.2,251.1 339.9,251.7 340.6,252.5 341.3,253.2" fill="none" stroke="#3a90d0" stroke-width="1.1" stroke-linecap="round"/>
<polyline points="320.4,254.9 321.1,255.5 321.8,256.3 322.5,257 323.2,257.6 323.9,257.8 324.6,257.6 325.3,257.1 326,256.4 326.7,255.6 327.4,255 328.1,254.7 328.8,254.8 329.5,255.2 330.2,255.9 330.9,256.7 331.6,257.4 332.3,257.7 333,257.7 333.7,257.4 334.4,256.7 335.1,255.9 335.8,255.2 336.5,254.8 337.2,254.7 337.9,255 338.6,255.6 339.3,256.4 340,257.1 340.7,257.6 341.4,257.8 342.1,257.6 342.8,257 343.5,256.3 344.2,255.5 344.9,254.9 345.6,254.7" fill="none" stroke="#3a90d0" stroke-width="1.1" stroke-linecap="round"/>
<polyline points="315.3,262 316,261.8 316.7,261.2 317.4,260.4 318.1,259.7 318.8,259.1 319.5,258.9 320.2,259.1 320.9,259.6 321.6,260.3 322.4,261.1 323.1,261.7 323.8,262 324.5,261.9 325.2,261.4 325.9,260.7 326.6,259.9 327.3,259.3 328,258.9 328.7,259 329.4,259.4 330.1,260 330.8,260.8 331.5,261.5 332.2,261.9 332.9,262 333.6,261.6 334.4,261 335.1,260.2 335.8,259.5 336.5,259 337.2,258.9 337.9,259.2 338.6,259.8 339.3,260.6 340,261.3 340.7,261.8" fill="none" stroke="#3a90d0" stroke-width="1.1" stroke-linecap="round"/>
<text x="142.8" y="285.02" font-size="10.2" fill="#333">Neutrophil (NP)</text>
<line x1="222.3" y1="281.76" x2="307.5" y2="281.76" stroke="#f0c0d8" stroke-width="0.9"/>
<polygon points="306.8,279.36 311.6,281.76 306.8,284.16" fill="#f0c0d8"/>
<polyline points="316.1,278.3 316.8,278.2 317.5,277.8 318.2,277.1 318.9,276.3 319.6,275.7 320.3,275.3 321,275.2 321.7,275.6 322.4,276.2 323.1,277 323.8,277.7 324.5,278.2 325.2,278.3 325.9,278 326.6,277.4 327.3,276.7 328,275.9 328.7,275.4 329.4,275.2 330.1,275.4 330.8,275.9 331.5,276.7 332.2,277.4 332.9,278 333.6,278.3 334.3,278.2 335,277.7 335.7,277 336.4,276.2 337.1,275.6 337.8,275.2 338.5,275.3 339.2,275.7 339.9,276.3 340.6,277.1 341.3,277.8" fill="none" stroke="#f0b0d0" stroke-width="1.1" stroke-linecap="round"/>
<polyline points="320.4,279.6 321.1,280.1 321.8,280.9 322.5,281.6 323.2,282.2 323.9,282.4 324.6,282.2 325.3,281.7 326,281 326.7,280.2 327.4,279.6 328.1,279.3 328.8,279.4 329.5,279.9 330.2,280.6 330.9,281.3 331.6,282 332.3,282.4 333,282.4 333.7,282 334.4,281.3 335.1,280.6 335.8,279.9 336.5,279.4 337.2,279.3 337.9,279.6 338.6,280.2 339.3,281 340,281.7 340.7,282.2 341.4,282.4 342.1,282.2 342.8,281.6 343.5,280.9 344.2,280.1 344.9,279.6 345.6,279.3" fill="none" stroke="#f0b0d0" stroke-width="1.1" stroke-linecap="round"/>
<polyline points="315.3,286.6 316,286.4 316.7,285.8 317.4,285.1 318.1,284.3 318.8,283.7 319.5,283.5 320.2,283.7 320.9,284.2 321.6,284.9 322.4,285.7 323.1,286.3 323.8,286.6 324.5,286.5 325.2,286 325.9,285.3 326.6,284.6 327.3,283.9 328,283.5 328.7,283.6 329.4,284 330.1,284.7 330.8,285.4 331.5,286.1 332.2,286.5 332.9,286.6 333.6,286.2 334.4,285.6 335.1,284.8 335.8,284.1 336.5,283.6 337.2,283.5 337.9,283.8 338.6,284.4 339.3,285.2 340,285.9 340.7,286.4" fill="none" stroke="#f0b0d0" stroke-width="1.1" stroke-linecap="round"/>
<text x="142.8" y="309.76" font-size="10.2" fill="#333">T-cell (TC)</text>
<line x1="215.9" y1="306.38" x2="307.5" y2="306.38" stroke="#b0d8e8" stroke-width="0.9"/>
<polygon points="306.8,303.98 311.6,306.38 306.8,308.78" fill="#b0d8e8"/>
<polyline points="316.1,302.9 316.8,302.8 317.5,302.4 318.2,301.7 318.9,301 319.6,300.3 320.3,299.9 321,299.9 321.7,300.2 322.4,300.9 323.1,301.6 323.8,302.3 324.5,302.8 325.2,302.9 325.9,302.6 326.6,302.1 327.3,301.3 328,300.6 328.7,300 329.4,299.8 330.1,300 330.8,300.6 331.5,301.3 332.2,302.1 332.9,302.6 333.6,302.9 334.3,302.8 335,302.3 335.7,301.6 336.4,300.9 337.1,300.2 337.8,299.9 338.5,299.9 339.2,300.3 339.9,301 340.6,301.7 341.3,302.4" fill="none" stroke="#90b8e0" stroke-width="1.1" stroke-linecap="round"/>
<polyline points="320.4,304.2 321.1,304.8 321.8,305.5 322.5,306.3 323.2,306.8 323.9,307 324.6,306.9 325.3,306.3 326,305.6 326.7,304.9 327.4,304.2 328.1,303.9 328.8,304 329.5,304.5 330.2,305.2 330.9,305.9 331.6,306.6 332.3,307 333,307 333.7,306.6 334.4,305.9 335.1,305.2 335.8,304.5 336.5,304 337.2,303.9 337.9,304.2 338.6,304.9 339.3,305.6 340,306.3 340.7,306.9 341.4,307 342.1,306.8 342.8,306.3 343.5,305.5 344.2,304.8 344.9,304.2 345.6,303.9" fill="none" stroke="#90b8e0" stroke-width="1.1" stroke-linecap="round"/>
<polyline points="315.3,311.2 316,311 316.7,310.4 317.4,309.7 318.1,308.9 318.8,308.4 319.5,308.1 320.2,308.3 320.9,308.8 321.6,309.5 322.4,310.3 323.1,310.9 323.8,311.2 324.5,311.1 325.2,310.7 325.9,309.9 326.6,309.2 327.3,308.5 328,308.2 328.7,308.2 329.4,308.6 330.1,309.3 330.8,310.1 331.5,310.7 332.2,311.2 332.9,311.2 333.6,310.8 334.4,310.2 335.1,309.4 335.8,308.7 336.5,308.2 337.2,308.1 337.9,308.4 338.6,309 339.3,309.8 340,310.5 340.7,311.1" fill="none" stroke="#90b8e0" stroke-width="1.1" stroke-linecap="round"/>
<text x="142.8" y="334.5" font-size="10.2" fill="#333">Plasma cell (PC)</text>
<line x1="226.6" y1="331" x2="307.5" y2="331" stroke="#f0c030" stroke-width="0.9"/>
<polygon points="306.8,328.6 311.6,331 306.8,333.4" fill="#f0c030"/>
<polyline points="316.1,327.5 316.8,327.5 317.5,327 318.2,326.4 318.9,325.6 319.6,324.9 320.3,324.5 321,324.5 321.7,324.8 322.4,325.5 323.1,326.3 323.8,327 324.5,327.4 325.2,327.5 325.9,327.3 326.6,326.7 327.3,325.9 328,325.2 328.7,324.6 329.4,324.4 330.1,324.6 330.8,325.2 331.5,325.9 332.2,326.7 332.9,327.3 333.6,327.5 334.3,327.4 335,327 335.7,326.3 336.4,325.5 337.1,324.8 337.8,324.5 338.5,324.5 339.2,324.9 339.9,325.6 340.6,326.4 341.3,327" fill="none" stroke="#e8c040" stroke-width="1.1" stroke-linecap="round"/>
<polyline points="320.4,328.8 321.1,329.4 321.8,330.1 322.5,330.9 323.2,331.4 323.9,331.6 324.6,331.5 325.3,331 326,330.2 326.7,329.5 327.4,328.9 328.1,328.6 328.8,328.6 329.5,329.1 330.2,329.8 330.9,330.6 331.6,331.2 332.3,331.6 333,331.6 333.7,331.2 334.4,330.6 335.1,329.8 335.8,329.1 336.5,328.6 337.2,328.6 337.9,328.9 338.6,329.5 339.3,330.2 340,331 340.7,331.5 341.4,331.6 342.1,331.4 342.8,330.9 343.5,330.1 344.2,329.4 344.9,328.8 345.6,328.6" fill="none" stroke="#e8c040" stroke-width="1.1" stroke-linecap="round"/>
<polyline points="315.3,335.8 316,335.6 316.7,335.1 317.4,334.3 318.1,333.6 318.8,333 319.5,332.8 320.2,332.9 320.9,333.4 321.6,334.2 322.4,334.9 323.1,335.5 323.8,335.8 324.5,335.7 325.2,335.3 325.9,334.6 326.6,333.8 327.3,333.1 328,332.8 328.7,332.8 329.4,333.2 330.1,333.9 330.8,334.7 331.5,335.4 332.2,335.8 332.9,335.8 333.6,335.5 334.4,334.8 335.1,334 335.8,333.3 336.5,332.9 337.2,332.8 337.9,333.1 338.6,333.7 339.3,334.4 340,335.2 340.7,335.7" fill="none" stroke="#e8c040" stroke-width="1.1" stroke-linecap="round"/>
<rect x="120" y="75" width="11.8" height="17.8" rx="1" fill="#d25b57"/><line x1="122.36" y1="75" x2="122.36" y2="78.56" stroke="#fff" stroke-width="0.6" opacity="0.8"/><line x1="124.72" y1="75" x2="124.72" y2="78.56" stroke="#fff" stroke-width="0.6" opacity="0.8"/><line x1="127.08" y1="75" x2="127.08" y2="78.56" stroke="#fff" stroke-width="0.6" opacity="0.8"/><line x1="129.44" y1="75" x2="129.44" y2="78.56" stroke="#fff" stroke-width="0.6" opacity="0.8"/><circle cx="126.4" cy="88.35" r="2.01" fill="#b63c3c"/>
<rect x="121" y="99.2" width="11.4" height="17.4" rx="1" fill="#4a72a8"/><line x1="123.28" y1="99.2" x2="123.28" y2="102.68" stroke="#fff" stroke-width="0.6" opacity="0.8"/><line x1="125.56" y1="99.2" x2="125.56" y2="102.68" stroke="#fff" stroke-width="0.6" opacity="0.8"/><line x1="127.84" y1="99.2" x2="127.84" y2="102.68" stroke="#fff" stroke-width="0.6" opacity="0.8"/><line x1="130.12" y1="99.2" x2="130.12" y2="102.68" stroke="#fff" stroke-width="0.6" opacity="0.8"/><circle cx="127.2" cy="112.25" r="1.94" fill="#2f548a"/>
<rect x="121" y="125.6" width="11.4" height="17.8" rx="1" fill="#f6c8a8"/><line x1="123.28" y1="125.6" x2="123.28" y2="129.16" stroke="#fff" stroke-width="0.6" opacity="0.8"/><line x1="125.56" y1="125.6" x2="125.56" y2="129.16" stroke="#fff" stroke-width="0.6" opacity="0.8"/><line x1="127.84" y1="125.6" x2="127.84" y2="129.16" stroke="#fff" stroke-width="0.6" opacity="0.8"/><line x1="130.12" y1="125.6" x2="130.12" y2="129.16" stroke="#fff" stroke-width="0.6" opacity="0.8"/><circle cx="127.2" cy="138.95" r="1.94" fill="#f2b48e"/>
<rect x="120.9" y="150" width="11.5" height="18" rx="1" fill="#a0685a"/><line x1="123.2" y1="150" x2="123.2" y2="153.6" stroke="#fff" stroke-width="0.6" opacity="0.8"/><line x1="125.5" y1="150" x2="125.5" y2="153.6" stroke="#fff" stroke-width="0.6" opacity="0.8"/><line x1="127.8" y1="150" x2="127.8" y2="153.6" stroke="#fff" stroke-width="0.6" opacity="0.8"/><line x1="130.1" y1="150" x2="130.1" y2="153.6" stroke="#fff" stroke-width="0.6" opacity="0.8"/><circle cx="127.15" cy="163.5" r="1.96" fill="#84493c"/>
<path d="M120.3 191.8 L119.2 181 L119.6 177.6 Q120.3 176.8 121 177.6 L121.2 180.3 L123.3 180.3 L123.6 177.3 Q124.2 176.7 124.9 177.3 L125.1 180.3 L127.8 180.3 L128.1 177.3 Q128.6 176.8 129.1 177.3 L129.3 180.5 Q131.5 180.8 133.1 184.1 L139.5 191.2 Q139.6 191.8 139 191.8 Z" fill="#7d7d7d"/>
<circle cx="126.5" cy="186.5" r="2.7" fill="#646464"/>
<path d="M113 211 Q113.2 208.4 116.5 207.8 Q121 207.4 124 205.3 Q126 203.9 128.5 205.2 Q131.5 207.2 136.5 207.9 Q139.5 208.6 139.2 211 Q138.8 211.8 126 211.8 Q113.2 211.8 113 211 Z" fill="#6cbf5a"/>
<ellipse cx="126.3" cy="206" rx="2.4" ry="1.2" fill="#5aad4a"/>
<path d="M113.5 228.3 Q120 226.7 126 226 Q133 226.2 139.7 228.3 Q133 230.2 126 230.6 Q120 230 113.5 228.3 Z" fill="#f0a25e"/>
<ellipse cx="126.5" cy="228.3" rx="3" ry="1.3" fill="#e88a44"/>
<polygon points="134.3,251.6 134.44,255.37 131.4,257.62 128.54,260.08 124.89,259.11 121.18,258.4 119.66,254.94 117.9,251.6 119.66,248.26 121.18,244.8 124.89,244.09 128.54,243.12 131.4,245.58 134.44,247.83" fill="#a9c3ea" stroke="#98b5e2" stroke-width="0.6" stroke-linejoin="round"/>
<circle cx="127.9" cy="252.6" r="3.6" fill="#6c92d2"/>
<circle cx="126.1" cy="277.3" r="7.9" fill="#f5bdd2"/>
<circle cx="126.1" cy="277.3" r="5.8" fill="#f8cfe0"/>
<path d="M123.5 273.5 Q121.5 276.8 124 280 Q127.5 281.8 129.6 279.4 Q127 279.6 125.6 277.6 Q125.2 275.6 127 274.3 Q125 272.8 123.5 273.5 Z" fill="#ec98ba"/>
<line x1="127.1" y1="300.2" x2="127.1" y2="295.79" stroke="#a3c8ec" stroke-width="1.1"/><line x1="121.64" y1="303.35" x2="117.82" y2="301.14" stroke="#a3c8ec" stroke-width="1.1"/><line x1="121.64" y1="309.65" x2="117.82" y2="311.86" stroke="#a3c8ec" stroke-width="1.1"/><line x1="127.1" y1="312.8" x2="127.1" y2="317.21" stroke="#a3c8ec" stroke-width="1.1"/><line x1="132.56" y1="309.65" x2="136.38" y2="311.86" stroke="#a3c8ec" stroke-width="1.1"/><line x1="132.56" y1="303.35" x2="136.38" y2="301.14" stroke="#a3c8ec" stroke-width="1.1"/><circle cx="127.1" cy="306.5" r="6.3" fill="#bcdaf5"/>
<circle cx="127.1" cy="306.5" r="4.2" fill="#b0d0f2"/>
<ellipse cx="127.6" cy="330.1" rx="10" ry="6.9" fill="#f0b74a"/>
<ellipse cx="123.4" cy="330.1" rx="5.2" ry="6.1" fill="#e0a03a"/>
<ellipse cx="123.4" cy="330.1" rx="3" ry="3.5" fill="#d89430"/>
<g shape-rendering="crispEdges">
<rect x="398.3" y="68.5" width="8.68" height="8.69" fill="#fde725"/>
<rect x="406.68" y="68.5" width="8.68" height="8.69" fill="#e7e425"/>
<rect x="415.07" y="68.5" width="8.68" height="8.69" fill="#d8e226"/>
<rect x="423.45" y="68.5" width="8.68" height="8.69" fill="#6bcc5a"/>
<rect x="431.84" y="68.5" width="8.68" height="8.69" fill="#76d053"/>
<rect x="440.22" y="68.5" width="8.68" height="8.69" fill="#7ad151"/>
<rect x="448.61" y="68.5" width="8.68" height="8.69" fill="#4fc36a"/>
<rect x="456.99" y="68.5" width="8.68" height="8.69" fill="#45bf70"/>
<rect x="465.38" y="68.5" width="8.68" height="8.69" fill="#4cc26b"/>
<rect x="473.76" y="68.5" width="8.68" height="8.69" fill="#69cb5b"/>
<rect x="482.15" y="68.5" width="8.68" height="8.69" fill="#5dc761"/>
<rect x="490.53" y="68.5" width="8.68" height="8.69" fill="#70ce57"/>
<rect x="498.92" y="68.5" width="8.68" height="8.69" fill="#25878d"/>
<rect x="507.3" y="68.5" width="8.68" height="8.69" fill="#26838d"/>
<rect x="515.69" y="68.5" width="8.68" height="8.69" fill="#25868d"/>
<rect x="524.07" y="68.5" width="8.68" height="8.69" fill="#482576"/>
<rect x="532.46" y="68.5" width="8.68" height="8.69" fill="#482071"/>
<rect x="540.84" y="68.5" width="8.68" height="8.69" fill="#472676"/>
<rect x="549.23" y="68.5" width="8.68" height="8.69" fill="#461264"/>
<rect x="557.61" y="68.5" width="8.68" height="8.69" fill="#461062"/>
<rect x="566" y="68.5" width="8.68" height="8.69" fill="#460f62"/>
<rect x="574.38" y="68.5" width="8.68" height="8.69" fill="#423d83"/>
<rect x="582.77" y="68.5" width="8.68" height="8.69" fill="#423f84"/>
<rect x="591.15" y="68.5" width="8.68" height="8.69" fill="#433b82"/>
<rect x="599.54" y="68.5" width="8.68" height="8.69" fill="#3c4e89"/>
<rect x="607.92" y="68.5" width="8.68" height="8.69" fill="#3b528a"/>
<rect x="616.31" y="68.5" width="8.68" height="8.69" fill="#3a548a"/>
<rect x="624.69" y="68.5" width="8.68" height="8.69" fill="#4bc16c"/>
<rect x="633.08" y="68.5" width="8.68" height="8.69" fill="#52c468"/>
<rect x="641.46" y="68.5" width="8.68" height="8.69" fill="#50c369"/>
<rect x="649.85" y="68.5" width="8.68" height="8.69" fill="#84d34b"/>
<rect x="658.23" y="68.5" width="8.68" height="8.69" fill="#77d053"/>
<rect x="666.62" y="68.5" width="8.68" height="8.69" fill="#80d24d"/>
<rect x="398.3" y="76.89" width="8.68" height="8.69" fill="#e7e425"/>
<rect x="406.68" y="76.89" width="8.68" height="8.69" fill="#fde725"/>
<rect x="415.07" y="76.89" width="8.68" height="8.69" fill="#d8e226"/>
<rect x="423.45" y="76.89" width="8.68" height="8.69" fill="#6dcd59"/>
<rect x="431.84" y="76.89" width="8.68" height="8.69" fill="#75cf54"/>
<rect x="440.22" y="76.89" width="8.68" height="8.69" fill="#73cf55"/>
<rect x="448.61" y="76.89" width="8.68" height="8.69" fill="#4ac16d"/>
<rect x="456.99" y="76.89" width="8.68" height="8.69" fill="#49c16d"/>
<rect x="465.38" y="76.89" width="8.68" height="8.69" fill="#48c06d"/>
<rect x="473.76" y="76.89" width="8.68" height="8.69" fill="#69cb5b"/>
<rect x="482.15" y="76.89" width="8.68" height="8.69" fill="#67cb5c"/>
<rect x="490.53" y="76.89" width="8.68" height="8.69" fill="#68cb5b"/>
<rect x="498.92" y="76.89" width="8.68" height="8.69" fill="#248a8d"/>
<rect x="507.3" y="76.89" width="8.68" height="8.69" fill="#24898d"/>
<rect x="515.69" y="76.89" width="8.68" height="8.69" fill="#24878d"/>
<rect x="524.07" y="76.89" width="8.68" height="8.69" fill="#482273"/>
<rect x="532.46" y="76.89" width="8.68" height="8.69" fill="#471f70"/>
<rect x="540.84" y="76.89" width="8.68" height="8.69" fill="#482676"/>
<rect x="549.23" y="76.89" width="8.68" height="8.69" fill="#450b5d"/>
<rect x="557.61" y="76.89" width="8.68" height="8.69" fill="#460f61"/>
<rect x="566" y="76.89" width="8.68" height="8.69" fill="#450d60"/>
<rect x="574.38" y="76.89" width="8.68" height="8.69" fill="#423e84"/>
<rect x="582.77" y="76.89" width="8.68" height="8.69" fill="#423e83"/>
<rect x="591.15" y="76.89" width="8.68" height="8.69" fill="#433c83"/>
<rect x="599.54" y="76.89" width="8.68" height="8.69" fill="#3b528a"/>
<rect x="607.92" y="76.89" width="8.68" height="8.69" fill="#3a548b"/>
<rect x="616.31" y="76.89" width="8.68" height="8.69" fill="#39568b"/>
<rect x="624.69" y="76.89" width="8.68" height="8.69" fill="#48c06e"/>
<rect x="633.08" y="76.89" width="8.68" height="8.69" fill="#56c566"/>
<rect x="641.46" y="76.89" width="8.68" height="8.69" fill="#49c16d"/>
<rect x="649.85" y="76.89" width="8.68" height="8.69" fill="#7ad151"/>
<rect x="658.23" y="76.89" width="8.68" height="8.69" fill="#70ce57"/>
<rect x="666.62" y="76.89" width="8.68" height="8.69" fill="#72ce56"/>
<rect x="398.3" y="85.28" width="8.68" height="8.69" fill="#d8e226"/>
<rect x="406.68" y="85.28" width="8.68" height="8.69" fill="#d8e226"/>
<rect x="415.07" y="85.28" width="8.68" height="8.69" fill="#fde725"/>
<rect x="423.45" y="85.28" width="8.68" height="8.69" fill="#6fcd58"/>
<rect x="431.84" y="85.28" width="8.68" height="8.69" fill="#6dcd58"/>
<rect x="440.22" y="85.28" width="8.68" height="8.69" fill="#6bcc59"/>
<rect x="448.61" y="85.28" width="8.68" height="8.69" fill="#4cc26c"/>
<rect x="456.99" y="85.28" width="8.68" height="8.69" fill="#53c467"/>
<rect x="465.38" y="85.28" width="8.68" height="8.69" fill="#50c369"/>
<rect x="473.76" y="85.28" width="8.68" height="8.69" fill="#68cb5c"/>
<rect x="482.15" y="85.28" width="8.68" height="8.69" fill="#6bcc5a"/>
<rect x="490.53" y="85.28" width="8.68" height="8.69" fill="#67cb5c"/>
<rect x="498.92" y="85.28" width="8.68" height="8.69" fill="#26838d"/>
<rect x="507.3" y="85.28" width="8.68" height="8.69" fill="#25858d"/>
<rect x="515.69" y="85.28" width="8.68" height="8.69" fill="#25878d"/>
<rect x="524.07" y="85.28" width="8.68" height="8.69" fill="#482676"/>
<rect x="532.46" y="85.28" width="8.68" height="8.69" fill="#482172"/>
<rect x="540.84" y="85.28" width="8.68" height="8.69" fill="#482475"/>
<rect x="549.23" y="85.28" width="8.68" height="8.69" fill="#461567"/>
<rect x="557.61" y="85.28" width="8.68" height="8.69" fill="#461567"/>
<rect x="566" y="85.28" width="8.68" height="8.69" fill="#47196b"/>
<rect x="574.38" y="85.28" width="8.68" height="8.69" fill="#433a81"/>
<rect x="582.77" y="85.28" width="8.68" height="8.69" fill="#423f84"/>
<rect x="591.15" y="85.28" width="8.68" height="8.69" fill="#414487"/>
<rect x="599.54" y="85.28" width="8.68" height="8.69" fill="#3a558b"/>
<rect x="607.92" y="85.28" width="8.68" height="8.69" fill="#3c508a"/>
<rect x="616.31" y="85.28" width="8.68" height="8.69" fill="#3b508a"/>
<rect x="624.69" y="85.28" width="8.68" height="8.69" fill="#57c565"/>
<rect x="633.08" y="85.28" width="8.68" height="8.69" fill="#54c467"/>
<rect x="641.46" y="85.28" width="8.68" height="8.69" fill="#56c566"/>
<rect x="649.85" y="85.28" width="8.68" height="8.69" fill="#7fd24e"/>
<rect x="658.23" y="85.28" width="8.68" height="8.69" fill="#7ad151"/>
<rect x="666.62" y="85.28" width="8.68" height="8.69" fill="#70ce57"/>
<rect x="398.3" y="93.66" width="8.68" height="8.69" fill="#6bcc5a"/>
<rect x="406.68" y="93.66" width="8.68" height="8.69" fill="#6dcd59"/>
<rect x="415.07" y="93.66" width="8.68" height="8.69" fill="#6fcd58"/>
<rect x="423.45" y="93.66" width="8.68" height="8.69" fill="#fde725"/>
<rect x="431.84" y="93.66" width="8.68" height="8.69" fill="#e3e425"/>
<rect x="440.22" y="93.66" width="8.68" height="8.69" fill="#e1e425"/>
<rect x="448.61" y="93.66" width="8.68" height="8.69" fill="#59c664"/>
<rect x="456.99" y="93.66" width="8.68" height="8.69" fill="#55c566"/>
<rect x="465.38" y="93.66" width="8.68" height="8.69" fill="#64ca5d"/>
<rect x="473.76" y="93.66" width="8.68" height="8.69" fill="#3fbc73"/>
<rect x="482.15" y="93.66" width="8.68" height="8.69" fill="#35b579"/>
<rect x="490.53" y="93.66" width="8.68" height="8.69" fill="#33b47a"/>
<rect x="498.92" y="93.66" width="8.68" height="8.69" fill="#277f8d"/>
<rect x="507.3" y="93.66" width="8.68" height="8.69" fill="#27808d"/>
<rect x="515.69" y="93.66" width="8.68" height="8.69" fill="#297a8e"/>
<rect x="524.07" y="93.66" width="8.68" height="8.69" fill="#482374"/>
<rect x="532.46" y="93.66" width="8.68" height="8.69" fill="#45317c"/>
<rect x="540.84" y="93.66" width="8.68" height="8.69" fill="#462c7a"/>
<rect x="549.23" y="93.66" width="8.68" height="8.69" fill="#482274"/>
<rect x="557.61" y="93.66" width="8.68" height="8.69" fill="#482273"/>
<rect x="566" y="93.66" width="8.68" height="8.69" fill="#471b6c"/>
<rect x="574.38" y="93.66" width="8.68" height="8.69" fill="#462e7a"/>
<rect x="582.77" y="93.66" width="8.68" height="8.69" fill="#433981"/>
<rect x="591.15" y="93.66" width="8.68" height="8.69" fill="#44367f"/>
<rect x="599.54" y="93.66" width="8.68" height="8.69" fill="#355e8d"/>
<rect x="607.92" y="93.66" width="8.68" height="8.69" fill="#355e8d"/>
<rect x="616.31" y="93.66" width="8.68" height="8.69" fill="#365d8d"/>
<rect x="624.69" y="93.66" width="8.68" height="8.69" fill="#3cba75"/>
<rect x="633.08" y="93.66" width="8.68" height="8.69" fill="#2eb07d"/>
<rect x="641.46" y="93.66" width="8.68" height="8.69" fill="#31b27b"/>
<rect x="649.85" y="93.66" width="8.68" height="8.69" fill="#44bf70"/>
<rect x="658.23" y="93.66" width="8.68" height="8.69" fill="#50c369"/>
<rect x="666.62" y="93.66" width="8.68" height="8.69" fill="#51c368"/>
<rect x="398.3" y="102.05" width="8.68" height="8.69" fill="#76d053"/>
<rect x="406.68" y="102.05" width="8.68" height="8.69" fill="#75cf54"/>
<rect x="415.07" y="102.05" width="8.68" height="8.69" fill="#6dcd58"/>
<rect x="423.45" y="102.05" width="8.68" height="8.69" fill="#e3e425"/>
<rect x="431.84" y="102.05" width="8.68" height="8.69" fill="#fde725"/>
<rect x="440.22" y="102.05" width="8.68" height="8.69" fill="#e9e525"/>
<rect x="448.61" y="102.05" width="8.68" height="8.69" fill="#5dc762"/>
<rect x="456.99" y="102.05" width="8.68" height="8.69" fill="#57c565"/>
<rect x="465.38" y="102.05" width="8.68" height="8.69" fill="#6bcc5a"/>
<rect x="473.76" y="102.05" width="8.68" height="8.69" fill="#30b27c"/>
<rect x="482.15" y="102.05" width="8.68" height="8.69" fill="#37b678"/>
<rect x="490.53" y="102.05" width="8.68" height="8.69" fill="#32b27b"/>
<rect x="498.92" y="102.05" width="8.68" height="8.69" fill="#27818d"/>
<rect x="507.3" y="102.05" width="8.68" height="8.69" fill="#25858d"/>
<rect x="515.69" y="102.05" width="8.68" height="8.69" fill="#27818d"/>
<rect x="524.07" y="102.05" width="8.68" height="8.69" fill="#462c7a"/>
<rect x="532.46" y="102.05" width="8.68" height="8.69" fill="#462c7a"/>
<rect x="540.84" y="102.05" width="8.68" height="8.69" fill="#472978"/>
<rect x="549.23" y="102.05" width="8.68" height="8.69" fill="#482273"/>
<rect x="557.61" y="102.05" width="8.68" height="8.69" fill="#482475"/>
<rect x="566" y="102.05" width="8.68" height="8.69" fill="#472978"/>
<rect x="574.38" y="102.05" width="8.68" height="8.69" fill="#45337d"/>
<rect x="582.77" y="102.05" width="8.68" height="8.69" fill="#443880"/>
<rect x="591.15" y="102.05" width="8.68" height="8.69" fill="#44357e"/>
<rect x="599.54" y="102.05" width="8.68" height="8.69" fill="#34618d"/>
<rect x="607.92" y="102.05" width="8.68" height="8.69" fill="#365c8c"/>
<rect x="616.31" y="102.05" width="8.68" height="8.69" fill="#365c8c"/>
<rect x="624.69" y="102.05" width="8.68" height="8.69" fill="#32b37b"/>
<rect x="633.08" y="102.05" width="8.68" height="8.69" fill="#38b777"/>
<rect x="641.46" y="102.05" width="8.68" height="8.69" fill="#35b579"/>
<rect x="649.85" y="102.05" width="8.68" height="8.69" fill="#4cc26b"/>
<rect x="658.23" y="102.05" width="8.68" height="8.69" fill="#51c369"/>
<rect x="666.62" y="102.05" width="8.68" height="8.69" fill="#46c06f"/>
<rect x="398.3" y="110.44" width="8.68" height="8.69" fill="#7ad151"/>
<rect x="406.68" y="110.44" width="8.68" height="8.69" fill="#73cf55"/>
<rect x="415.07" y="110.44" width="8.68" height="8.69" fill="#6bcc59"/>
<rect x="423.45" y="110.44" width="8.68" height="8.69" fill="#e1e425"/>
<rect x="431.84" y="110.44" width="8.68" height="8.69" fill="#e9e525"/>
<rect x="440.22" y="110.44" width="8.68" height="8.69" fill="#fde725"/>
<rect x="448.61" y="110.44" width="8.68" height="8.69" fill="#56c566"/>
<rect x="456.99" y="110.44" width="8.68" height="8.69" fill="#62c95f"/>
<rect x="465.38" y="110.44" width="8.68" height="8.69" fill="#5ac664"/>
<rect x="473.76" y="110.44" width="8.68" height="8.69" fill="#38b777"/>
<rect x="482.15" y="110.44" width="8.68" height="8.69" fill="#35b579"/>
<rect x="490.53" y="110.44" width="8.68" height="8.69" fill="#38b777"/>
<rect x="498.92" y="110.44" width="8.68" height="8.69" fill="#27818d"/>
<rect x="507.3" y="110.44" width="8.68" height="8.69" fill="#27808d"/>
<rect x="515.69" y="110.44" width="8.68" height="8.69" fill="#27808d"/>
<rect x="524.07" y="110.44" width="8.68" height="8.69" fill="#462b79"/>
<rect x="532.46" y="110.44" width="8.68" height="8.69" fill="#472b79"/>
<rect x="540.84" y="110.44" width="8.68" height="8.69" fill="#472a78"/>
<rect x="549.23" y="110.44" width="8.68" height="8.69" fill="#482475"/>
<rect x="557.61" y="110.44" width="8.68" height="8.69" fill="#482273"/>
<rect x="566" y="110.44" width="8.68" height="8.69" fill="#472777"/>
<rect x="574.38" y="110.44" width="8.68" height="8.69" fill="#462e7b"/>
<rect x="582.77" y="110.44" width="8.68" height="8.69" fill="#462d7a"/>
<rect x="591.15" y="110.44" width="8.68" height="8.69" fill="#443780"/>
<rect x="599.54" y="110.44" width="8.68" height="8.69" fill="#34618d"/>
<rect x="607.92" y="110.44" width="8.68" height="8.69" fill="#34618d"/>
<rect x="616.31" y="110.44" width="8.68" height="8.69" fill="#35608d"/>
<rect x="624.69" y="110.44" width="8.68" height="8.69" fill="#35b579"/>
<rect x="633.08" y="110.44" width="8.68" height="8.69" fill="#33b37a"/>
<rect x="641.46" y="110.44" width="8.68" height="8.69" fill="#38b777"/>
<rect x="649.85" y="110.44" width="8.68" height="8.69" fill="#44bf70"/>
<rect x="658.23" y="110.44" width="8.68" height="8.69" fill="#54c467"/>
<rect x="666.62" y="110.44" width="8.68" height="8.69" fill="#4ec26a"/>
<rect x="398.3" y="118.83" width="8.68" height="8.69" fill="#4fc36a"/>
<rect x="406.68" y="118.83" width="8.68" height="8.69" fill="#4ac16d"/>
<rect x="415.07" y="118.83" width="8.68" height="8.69" fill="#4cc26c"/>
<rect x="423.45" y="118.83" width="8.68" height="8.69" fill="#59c664"/>
<rect x="431.84" y="118.83" width="8.68" height="8.69" fill="#5dc762"/>
<rect x="440.22" y="118.83" width="8.68" height="8.69" fill="#56c566"/>
<rect x="448.61" y="118.83" width="8.68" height="8.69" fill="#fde725"/>
<rect x="456.99" y="118.83" width="8.68" height="8.69" fill="#dde326"/>
<rect x="465.38" y="118.83" width="8.68" height="8.69" fill="#dde325"/>
<rect x="473.76" y="118.83" width="8.68" height="8.69" fill="#42be71"/>
<rect x="482.15" y="118.83" width="8.68" height="8.69" fill="#3dbb74"/>
<rect x="490.53" y="118.83" width="8.68" height="8.69" fill="#3ebb73"/>
<rect x="498.92" y="118.83" width="8.68" height="8.69" fill="#238c8c"/>
<rect x="507.3" y="118.83" width="8.68" height="8.69" fill="#24888d"/>
<rect x="515.69" y="118.83" width="8.68" height="8.69" fill="#24888d"/>
<rect x="524.07" y="118.83" width="8.68" height="8.69" fill="#3b518a"/>
<rect x="532.46" y="118.83" width="8.68" height="8.69" fill="#3e4a88"/>
<rect x="540.84" y="118.83" width="8.68" height="8.69" fill="#3e4b89"/>
<rect x="549.23" y="118.83" width="8.68" height="8.69" fill="#3e4b89"/>
<rect x="557.61" y="118.83" width="8.68" height="8.69" fill="#3d4c89"/>
<rect x="566" y="118.83" width="8.68" height="8.69" fill="#3f4888"/>
<rect x="574.38" y="118.83" width="8.68" height="8.69" fill="#3f4888"/>
<rect x="582.77" y="118.83" width="8.68" height="8.69" fill="#3f4988"/>
<rect x="591.15" y="118.83" width="8.68" height="8.69" fill="#3d4c89"/>
<rect x="599.54" y="118.83" width="8.68" height="8.69" fill="#2f6c8e"/>
<rect x="607.92" y="118.83" width="8.68" height="8.69" fill="#306a8d"/>
<rect x="616.31" y="118.83" width="8.68" height="8.69" fill="#30698d"/>
<rect x="624.69" y="118.83" width="8.68" height="8.69" fill="#4dc26b"/>
<rect x="633.08" y="118.83" width="8.68" height="8.69" fill="#41bd72"/>
<rect x="641.46" y="118.83" width="8.68" height="8.69" fill="#44bf70"/>
<rect x="649.85" y="118.83" width="8.68" height="8.69" fill="#4fc36a"/>
<rect x="658.23" y="118.83" width="8.68" height="8.69" fill="#4bc16c"/>
<rect x="666.62" y="118.83" width="8.68" height="8.69" fill="#4dc26b"/>
<rect x="398.3" y="127.22" width="8.68" height="8.69" fill="#45bf70"/>
<rect x="406.68" y="127.22" width="8.68" height="8.69" fill="#49c16d"/>
<rect x="415.07" y="127.22" width="8.68" height="8.69" fill="#53c467"/>
<rect x="423.45" y="127.22" width="8.68" height="8.69" fill="#55c566"/>
<rect x="431.84" y="127.22" width="8.68" height="8.69" fill="#57c565"/>
<rect x="440.22" y="127.22" width="8.68" height="8.69" fill="#62c95f"/>
<rect x="448.61" y="127.22" width="8.68" height="8.69" fill="#dde326"/>
<rect x="456.99" y="127.22" width="8.68" height="8.69" fill="#fde725"/>
<rect x="465.38" y="127.22" width="8.68" height="8.69" fill="#e8e425"/>
<rect x="473.76" y="127.22" width="8.68" height="8.69" fill="#43be71"/>
<rect x="482.15" y="127.22" width="8.68" height="8.69" fill="#44bf70"/>
<rect x="490.53" y="127.22" width="8.68" height="8.69" fill="#38b777"/>
<rect x="498.92" y="127.22" width="8.68" height="8.69" fill="#238b8d"/>
<rect x="507.3" y="127.22" width="8.68" height="8.69" fill="#25868d"/>
<rect x="515.69" y="127.22" width="8.68" height="8.69" fill="#238a8d"/>
<rect x="524.07" y="127.22" width="8.68" height="8.69" fill="#3a548a"/>
<rect x="532.46" y="127.22" width="8.68" height="8.69" fill="#3e4b88"/>
<rect x="540.84" y="127.22" width="8.68" height="8.69" fill="#3c508a"/>
<rect x="549.23" y="127.22" width="8.68" height="8.69" fill="#3b518a"/>
<rect x="557.61" y="127.22" width="8.68" height="8.69" fill="#3b528a"/>
<rect x="566" y="127.22" width="8.68" height="8.69" fill="#3c508a"/>
<rect x="574.38" y="127.22" width="8.68" height="8.69" fill="#3e4c89"/>
<rect x="582.77" y="127.22" width="8.68" height="8.69" fill="#3d4e89"/>
<rect x="591.15" y="127.22" width="8.68" height="8.69" fill="#3f4988"/>
<rect x="599.54" y="127.22" width="8.68" height="8.69" fill="#2e6f8e"/>
<rect x="607.92" y="127.22" width="8.68" height="8.69" fill="#306a8d"/>
<rect x="616.31" y="127.22" width="8.68" height="8.69" fill="#2e6e8e"/>
<rect x="624.69" y="127.22" width="8.68" height="8.69" fill="#44bf70"/>
<rect x="633.08" y="127.22" width="8.68" height="8.69" fill="#4ac16d"/>
<rect x="641.46" y="127.22" width="8.68" height="8.69" fill="#4ac16c"/>
<rect x="649.85" y="127.22" width="8.68" height="8.69" fill="#4cc26b"/>
<rect x="658.23" y="127.22" width="8.68" height="8.69" fill="#53c468"/>
<rect x="666.62" y="127.22" width="8.68" height="8.69" fill="#4ac16c"/>
<rect x="398.3" y="135.6" width="8.68" height="8.69" fill="#4cc26b"/>
<rect x="406.68" y="135.6" width="8.68" height="8.69" fill="#48c06d"/>
<rect x="415.07" y="135.6" width="8.68" height="8.69" fill="#50c369"/>
<rect x="423.45" y="135.6" width="8.68" height="8.69" fill="#64ca5d"/>
<rect x="431.84" y="135.6" width="8.68" height="8.69" fill="#6bcc5a"/>
<rect x="440.22" y="135.6" width="8.68" height="8.69" fill="#5ac664"/>
<rect x="448.61" y="135.6" width="8.68" height="8.69" fill="#dde325"/>
<rect x="456.99" y="135.6" width="8.68" height="8.69" fill="#e8e425"/>
<rect x="465.38" y="135.6" width="8.68" height="8.69" fill="#fde725"/>
<rect x="473.76" y="135.6" width="8.68" height="8.69" fill="#3dba74"/>
<rect x="482.15" y="135.6" width="8.68" height="8.69" fill="#43bf70"/>
<rect x="490.53" y="135.6" width="8.68" height="8.69" fill="#41bd72"/>
<rect x="498.92" y="135.6" width="8.68" height="8.69" fill="#238b8d"/>
<rect x="507.3" y="135.6" width="8.68" height="8.69" fill="#24898d"/>
<rect x="515.69" y="135.6" width="8.68" height="8.69" fill="#24898d"/>
<rect x="524.07" y="135.6" width="8.68" height="8.69" fill="#3c4f89"/>
<rect x="532.46" y="135.6" width="8.68" height="8.69" fill="#3c508a"/>
<rect x="540.84" y="135.6" width="8.68" height="8.69" fill="#3c508a"/>
<rect x="549.23" y="135.6" width="8.68" height="8.69" fill="#3c4e89"/>
<rect x="557.61" y="135.6" width="8.68" height="8.69" fill="#3b528a"/>
<rect x="566" y="135.6" width="8.68" height="8.69" fill="#3a548b"/>
<rect x="574.38" y="135.6" width="8.68" height="8.69" fill="#404788"/>
<rect x="582.77" y="135.6" width="8.68" height="8.69" fill="#3a538a"/>
<rect x="591.15" y="135.6" width="8.68" height="8.69" fill="#3c4f8a"/>
<rect x="599.54" y="135.6" width="8.68" height="8.69" fill="#31688d"/>
<rect x="607.92" y="135.6" width="8.68" height="8.69" fill="#31678d"/>
<rect x="616.31" y="135.6" width="8.68" height="8.69" fill="#32658d"/>
<rect x="624.69" y="135.6" width="8.68" height="8.69" fill="#4ec26a"/>
<rect x="633.08" y="135.6" width="8.68" height="8.69" fill="#42be71"/>
<rect x="641.46" y="135.6" width="8.68" height="8.69" fill="#4ac16c"/>
<rect x="649.85" y="135.6" width="8.68" height="8.69" fill="#43be71"/>
<rect x="658.23" y="135.6" width="8.68" height="8.69" fill="#46c06f"/>
<rect x="666.62" y="135.6" width="8.68" height="8.69" fill="#53c468"/>
<rect x="398.3" y="143.99" width="8.68" height="8.69" fill="#69cb5b"/>
<rect x="406.68" y="143.99" width="8.68" height="8.69" fill="#69cb5b"/>
<rect x="415.07" y="143.99" width="8.68" height="8.69" fill="#68cb5c"/>
<rect x="423.45" y="143.99" width="8.68" height="8.69" fill="#3fbc73"/>
<rect x="431.84" y="143.99" width="8.68" height="8.69" fill="#30b27c"/>
<rect x="440.22" y="143.99" width="8.68" height="8.69" fill="#38b777"/>
<rect x="448.61" y="143.99" width="8.68" height="8.69" fill="#42be71"/>
<rect x="456.99" y="143.99" width="8.68" height="8.69" fill="#43be71"/>
<rect x="465.38" y="143.99" width="8.68" height="8.69" fill="#3dba74"/>
<rect x="473.76" y="143.99" width="8.68" height="8.69" fill="#fde725"/>
<rect x="482.15" y="143.99" width="8.68" height="8.69" fill="#e8e425"/>
<rect x="490.53" y="143.99" width="8.68" height="8.69" fill="#dbe326"/>
<rect x="498.92" y="143.99" width="8.68" height="8.69" fill="#59c664"/>
<rect x="507.3" y="143.99" width="8.68" height="8.69" fill="#5bc763"/>
<rect x="515.69" y="143.99" width="8.68" height="8.69" fill="#55c566"/>
<rect x="524.07" y="143.99" width="8.68" height="8.69" fill="#462f7b"/>
<rect x="532.46" y="143.99" width="8.68" height="8.69" fill="#45317d"/>
<rect x="540.84" y="143.99" width="8.68" height="8.69" fill="#45317c"/>
<rect x="549.23" y="143.99" width="8.68" height="8.69" fill="#472777"/>
<rect x="557.61" y="143.99" width="8.68" height="8.69" fill="#472877"/>
<rect x="566" y="143.99" width="8.68" height="8.69" fill="#462d7a"/>
<rect x="574.38" y="143.99" width="8.68" height="8.69" fill="#31688d"/>
<rect x="582.77" y="143.99" width="8.68" height="8.69" fill="#31688d"/>
<rect x="591.15" y="143.99" width="8.68" height="8.69" fill="#306a8d"/>
<rect x="599.54" y="143.99" width="8.68" height="8.69" fill="#2f6c8e"/>
<rect x="607.92" y="143.99" width="8.68" height="8.69" fill="#2d728e"/>
<rect x="616.31" y="143.99" width="8.68" height="8.69" fill="#2f6d8e"/>
<rect x="624.69" y="143.99" width="8.68" height="8.69" fill="#82d34c"/>
<rect x="633.08" y="143.99" width="8.68" height="8.69" fill="#79d151"/>
<rect x="641.46" y="143.99" width="8.68" height="8.69" fill="#85d34a"/>
<rect x="649.85" y="143.99" width="8.68" height="8.69" fill="#97d73e"/>
<rect x="658.23" y="143.99" width="8.68" height="8.69" fill="#b3dd2d"/>
<rect x="666.62" y="143.99" width="8.68" height="8.69" fill="#a4da36"/>
<rect x="398.3" y="152.38" width="8.68" height="8.69" fill="#5dc761"/>
<rect x="406.68" y="152.38" width="8.68" height="8.69" fill="#67cb5c"/>
<rect x="415.07" y="152.38" width="8.68" height="8.69" fill="#6bcc5a"/>
<rect x="423.45" y="152.38" width="8.68" height="8.69" fill="#35b579"/>
<rect x="431.84" y="152.38" width="8.68" height="8.69" fill="#37b678"/>
<rect x="440.22" y="152.38" width="8.68" height="8.69" fill="#35b579"/>
<rect x="448.61" y="152.38" width="8.68" height="8.69" fill="#3dbb74"/>
<rect x="456.99" y="152.38" width="8.68" height="8.69" fill="#44bf70"/>
<rect x="465.38" y="152.38" width="8.68" height="8.69" fill="#43bf70"/>
<rect x="473.76" y="152.38" width="8.68" height="8.69" fill="#e8e425"/>
<rect x="482.15" y="152.38" width="8.68" height="8.69" fill="#fde725"/>
<rect x="490.53" y="152.38" width="8.68" height="8.69" fill="#e7e425"/>
<rect x="498.92" y="152.38" width="8.68" height="8.69" fill="#5dc762"/>
<rect x="507.3" y="152.38" width="8.68" height="8.69" fill="#62c95f"/>
<rect x="515.69" y="152.38" width="8.68" height="8.69" fill="#4ec26a"/>
<rect x="524.07" y="152.38" width="8.68" height="8.69" fill="#45337e"/>
<rect x="532.46" y="152.38" width="8.68" height="8.69" fill="#45327d"/>
<rect x="540.84" y="152.38" width="8.68" height="8.69" fill="#44357e"/>
<rect x="549.23" y="152.38" width="8.68" height="8.69" fill="#44367f"/>
<rect x="557.61" y="152.38" width="8.68" height="8.69" fill="#462d7a"/>
<rect x="566" y="152.38" width="8.68" height="8.69" fill="#482676"/>
<rect x="574.38" y="152.38" width="8.68" height="8.69" fill="#33638d"/>
<rect x="582.77" y="152.38" width="8.68" height="8.69" fill="#33638d"/>
<rect x="591.15" y="152.38" width="8.68" height="8.69" fill="#306b8d"/>
<rect x="599.54" y="152.38" width="8.68" height="8.69" fill="#2d728e"/>
<rect x="607.92" y="152.38" width="8.68" height="8.69" fill="#2d718e"/>
<rect x="616.31" y="152.38" width="8.68" height="8.69" fill="#2d708e"/>
<rect x="624.69" y="152.38" width="8.68" height="8.69" fill="#79d151"/>
<rect x="633.08" y="152.38" width="8.68" height="8.69" fill="#77d053"/>
<rect x="641.46" y="152.38" width="8.68" height="8.69" fill="#7fd24e"/>
<rect x="649.85" y="152.38" width="8.68" height="8.69" fill="#a4da36"/>
<rect x="658.23" y="152.38" width="8.68" height="8.69" fill="#a6da35"/>
<rect x="666.62" y="152.38" width="8.68" height="8.69" fill="#a2d937"/>
<rect x="398.3" y="160.77" width="8.68" height="8.69" fill="#70ce57"/>
<rect x="406.68" y="160.77" width="8.68" height="8.69" fill="#68cb5b"/>
<rect x="415.07" y="160.77" width="8.68" height="8.69" fill="#67cb5c"/>
<rect x="423.45" y="160.77" width="8.68" height="8.69" fill="#33b47a"/>
<rect x="431.84" y="160.77" width="8.68" height="8.69" fill="#32b27b"/>
<rect x="440.22" y="160.77" width="8.68" height="8.69" fill="#38b777"/>
<rect x="448.61" y="160.77" width="8.68" height="8.69" fill="#3ebb73"/>
<rect x="456.99" y="160.77" width="8.68" height="8.69" fill="#38b777"/>
<rect x="465.38" y="160.77" width="8.68" height="8.69" fill="#41bd72"/>
<rect x="473.76" y="160.77" width="8.68" height="8.69" fill="#dbe326"/>
<rect x="482.15" y="160.77" width="8.68" height="8.69" fill="#e7e425"/>
<rect x="490.53" y="160.77" width="8.68" height="8.69" fill="#fde725"/>
<rect x="498.92" y="160.77" width="8.68" height="8.69" fill="#5bc763"/>
<rect x="507.3" y="160.77" width="8.68" height="8.69" fill="#58c664"/>
<rect x="515.69" y="160.77" width="8.68" height="8.69" fill="#5cc762"/>
<rect x="524.07" y="160.77" width="8.68" height="8.69" fill="#443780"/>
<rect x="532.46" y="160.77" width="8.68" height="8.69" fill="#44347e"/>
<rect x="540.84" y="160.77" width="8.68" height="8.69" fill="#472a79"/>
<rect x="549.23" y="160.77" width="8.68" height="8.69" fill="#45347e"/>
<rect x="557.61" y="160.77" width="8.68" height="8.69" fill="#462c7a"/>
<rect x="566" y="160.77" width="8.68" height="8.69" fill="#45347e"/>
<rect x="574.38" y="160.77" width="8.68" height="8.69" fill="#31688d"/>
<rect x="582.77" y="160.77" width="8.68" height="8.69" fill="#31678d"/>
<rect x="591.15" y="160.77" width="8.68" height="8.69" fill="#32678d"/>
<rect x="599.54" y="160.77" width="8.68" height="8.69" fill="#306b8d"/>
<rect x="607.92" y="160.77" width="8.68" height="8.69" fill="#2d728e"/>
<rect x="616.31" y="160.77" width="8.68" height="8.69" fill="#2e6e8e"/>
<rect x="624.69" y="160.77" width="8.68" height="8.69" fill="#7dd24f"/>
<rect x="633.08" y="160.77" width="8.68" height="8.69" fill="#79d152"/>
<rect x="641.46" y="160.77" width="8.68" height="8.69" fill="#75cf54"/>
<rect x="649.85" y="160.77" width="8.68" height="8.69" fill="#97d73e"/>
<rect x="658.23" y="160.77" width="8.68" height="8.69" fill="#a7da34"/>
<rect x="666.62" y="160.77" width="8.68" height="8.69" fill="#a6da35"/>
<rect x="398.3" y="169.15" width="8.68" height="8.69" fill="#25878d"/>
<rect x="406.68" y="169.15" width="8.68" height="8.69" fill="#248a8d"/>
<rect x="415.07" y="169.15" width="8.68" height="8.69" fill="#26838d"/>
<rect x="423.45" y="169.15" width="8.68" height="8.69" fill="#277f8d"/>
<rect x="431.84" y="169.15" width="8.68" height="8.69" fill="#27818d"/>
<rect x="440.22" y="169.15" width="8.68" height="8.69" fill="#27818d"/>
<rect x="448.61" y="169.15" width="8.68" height="8.69" fill="#238c8c"/>
<rect x="456.99" y="169.15" width="8.68" height="8.69" fill="#238b8d"/>
<rect x="465.38" y="169.15" width="8.68" height="8.69" fill="#238b8d"/>
<rect x="473.76" y="169.15" width="8.68" height="8.69" fill="#59c664"/>
<rect x="482.15" y="169.15" width="8.68" height="8.69" fill="#5dc762"/>
<rect x="490.53" y="169.15" width="8.68" height="8.69" fill="#5bc763"/>
<rect x="498.92" y="169.15" width="8.68" height="8.69" fill="#fde725"/>
<rect x="507.3" y="169.15" width="8.68" height="8.69" fill="#e2e425"/>
<rect x="515.69" y="169.15" width="8.68" height="8.69" fill="#eae525"/>
<rect x="524.07" y="169.15" width="8.68" height="8.69" fill="#2c748e"/>
<rect x="532.46" y="169.15" width="8.68" height="8.69" fill="#2c738e"/>
<rect x="540.84" y="169.15" width="8.68" height="8.69" fill="#2b768e"/>
<rect x="549.23" y="169.15" width="8.68" height="8.69" fill="#2a778e"/>
<rect x="557.61" y="169.15" width="8.68" height="8.69" fill="#2c748e"/>
<rect x="566" y="169.15" width="8.68" height="8.69" fill="#2d718e"/>
<rect x="574.38" y="169.15" width="8.68" height="8.69" fill="#219989"/>
<rect x="582.77" y="169.15" width="8.68" height="8.69" fill="#21988a"/>
<rect x="591.15" y="169.15" width="8.68" height="8.69" fill="#219b88"/>
<rect x="599.54" y="169.15" width="8.68" height="8.69" fill="#21978a"/>
<rect x="607.92" y="169.15" width="8.68" height="8.69" fill="#219989"/>
<rect x="616.31" y="169.15" width="8.68" height="8.69" fill="#219a89"/>
<rect x="624.69" y="169.15" width="8.68" height="8.69" fill="#229f87"/>
<rect x="633.08" y="169.15" width="8.68" height="8.69" fill="#219c88"/>
<rect x="641.46" y="169.15" width="8.68" height="8.69" fill="#22a585"/>
<rect x="649.85" y="169.15" width="8.68" height="8.69" fill="#26aa82"/>
<rect x="658.23" y="169.15" width="8.68" height="8.69" fill="#2aad7f"/>
<rect x="666.62" y="169.15" width="8.68" height="8.69" fill="#25aa82"/>
<rect x="398.3" y="177.54" width="8.68" height="8.69" fill="#26838d"/>
<rect x="406.68" y="177.54" width="8.68" height="8.69" fill="#24898d"/>
<rect x="415.07" y="177.54" width="8.68" height="8.69" fill="#25858d"/>
<rect x="423.45" y="177.54" width="8.68" height="8.69" fill="#27808d"/>
<rect x="431.84" y="177.54" width="8.68" height="8.69" fill="#25858d"/>
<rect x="440.22" y="177.54" width="8.68" height="8.69" fill="#27808d"/>
<rect x="448.61" y="177.54" width="8.68" height="8.69" fill="#24888d"/>
<rect x="456.99" y="177.54" width="8.68" height="8.69" fill="#25868d"/>
<rect x="465.38" y="177.54" width="8.68" height="8.69" fill="#24898d"/>
<rect x="473.76" y="177.54" width="8.68" height="8.69" fill="#5bc763"/>
<rect x="482.15" y="177.54" width="8.68" height="8.69" fill="#62c95f"/>
<rect x="490.53" y="177.54" width="8.68" height="8.69" fill="#58c664"/>
<rect x="498.92" y="177.54" width="8.68" height="8.69" fill="#e2e425"/>
<rect x="507.3" y="177.54" width="8.68" height="8.69" fill="#fde725"/>
<rect x="515.69" y="177.54" width="8.68" height="8.69" fill="#e7e425"/>
<rect x="524.07" y="177.54" width="8.68" height="8.69" fill="#2c738e"/>
<rect x="532.46" y="177.54" width="8.68" height="8.69" fill="#2d728e"/>
<rect x="540.84" y="177.54" width="8.68" height="8.69" fill="#2f6d8e"/>
<rect x="549.23" y="177.54" width="8.68" height="8.69" fill="#2b778e"/>
<rect x="557.61" y="177.54" width="8.68" height="8.69" fill="#2a788e"/>
<rect x="566" y="177.54" width="8.68" height="8.69" fill="#2a778e"/>
<rect x="574.38" y="177.54" width="8.68" height="8.69" fill="#229e87"/>
<rect x="582.77" y="177.54" width="8.68" height="8.69" fill="#229d88"/>
<rect x="591.15" y="177.54" width="8.68" height="8.69" fill="#22a087"/>
<rect x="599.54" y="177.54" width="8.68" height="8.69" fill="#219889"/>
<rect x="607.92" y="177.54" width="8.68" height="8.69" fill="#219a89"/>
<rect x="616.31" y="177.54" width="8.68" height="8.69" fill="#21988a"/>
<rect x="624.69" y="177.54" width="8.68" height="8.69" fill="#22a286"/>
<rect x="633.08" y="177.54" width="8.68" height="8.69" fill="#22a485"/>
<rect x="641.46" y="177.54" width="8.68" height="8.69" fill="#22a087"/>
<rect x="649.85" y="177.54" width="8.68" height="8.69" fill="#26aa82"/>
<rect x="658.23" y="177.54" width="8.68" height="8.69" fill="#22a884"/>
<rect x="666.62" y="177.54" width="8.68" height="8.69" fill="#2caf7e"/>
<rect x="398.3" y="185.93" width="8.68" height="8.69" fill="#25868d"/>
<rect x="406.68" y="185.93" width="8.68" height="8.69" fill="#24878d"/>
<rect x="415.07" y="185.93" width="8.68" height="8.69" fill="#25878d"/>
<rect x="423.45" y="185.93" width="8.68" height="8.69" fill="#297a8e"/>
<rect x="431.84" y="185.93" width="8.68" height="8.69" fill="#27818d"/>
<rect x="440.22" y="185.93" width="8.68" height="8.69" fill="#27808d"/>
<rect x="448.61" y="185.93" width="8.68" height="8.69" fill="#24888d"/>
<rect x="456.99" y="185.93" width="8.68" height="8.69" fill="#238a8d"/>
<rect x="465.38" y="185.93" width="8.68" height="8.69" fill="#24898d"/>
<rect x="473.76" y="185.93" width="8.68" height="8.69" fill="#55c566"/>
<rect x="482.15" y="185.93" width="8.68" height="8.69" fill="#4ec26a"/>
<rect x="490.53" y="185.93" width="8.68" height="8.69" fill="#5cc762"/>
<rect x="498.92" y="185.93" width="8.68" height="8.69" fill="#eae525"/>
<rect x="507.3" y="185.93" width="8.68" height="8.69" fill="#e7e425"/>
<rect x="515.69" y="185.93" width="8.68" height="8.69" fill="#fde725"/>
<rect x="524.07" y="185.93" width="8.68" height="8.69" fill="#2c758e"/>
<rect x="532.46" y="185.93" width="8.68" height="8.69" fill="#2c738e"/>
<rect x="540.84" y="185.93" width="8.68" height="8.69" fill="#2c728e"/>
<rect x="549.23" y="185.93" width="8.68" height="8.69" fill="#2d728e"/>
<rect x="557.61" y="185.93" width="8.68" height="8.69" fill="#2e708e"/>
<rect x="566" y="185.93" width="8.68" height="8.69" fill="#2c728e"/>
<rect x="574.38" y="185.93" width="8.68" height="8.69" fill="#219889"/>
<rect x="582.77" y="185.93" width="8.68" height="8.69" fill="#229e87"/>
<rect x="591.15" y="185.93" width="8.68" height="8.69" fill="#219b88"/>
<rect x="599.54" y="185.93" width="8.68" height="8.69" fill="#21988a"/>
<rect x="607.92" y="185.93" width="8.68" height="8.69" fill="#21948b"/>
<rect x="616.31" y="185.93" width="8.68" height="8.69" fill="#21968a"/>
<rect x="624.69" y="185.93" width="8.68" height="8.69" fill="#22a485"/>
<rect x="633.08" y="185.93" width="8.68" height="8.69" fill="#22a685"/>
<rect x="641.46" y="185.93" width="8.68" height="8.69" fill="#22a186"/>
<rect x="649.85" y="185.93" width="8.68" height="8.69" fill="#2aae7f"/>
<rect x="658.23" y="185.93" width="8.68" height="8.69" fill="#26ab82"/>
<rect x="666.62" y="185.93" width="8.68" height="8.69" fill="#2bae7f"/>
<rect x="398.3" y="194.32" width="8.68" height="8.69" fill="#482576"/>
<rect x="406.68" y="194.32" width="8.68" height="8.69" fill="#482273"/>
<rect x="415.07" y="194.32" width="8.68" height="8.69" fill="#482676"/>
<rect x="423.45" y="194.32" width="8.68" height="8.69" fill="#482374"/>
<rect x="431.84" y="194.32" width="8.68" height="8.69" fill="#462c7a"/>
<rect x="440.22" y="194.32" width="8.68" height="8.69" fill="#462b79"/>
<rect x="448.61" y="194.32" width="8.68" height="8.69" fill="#3b518a"/>
<rect x="456.99" y="194.32" width="8.68" height="8.69" fill="#3a548a"/>
<rect x="465.38" y="194.32" width="8.68" height="8.69" fill="#3c4f89"/>
<rect x="473.76" y="194.32" width="8.68" height="8.69" fill="#462f7b"/>
<rect x="482.15" y="194.32" width="8.68" height="8.69" fill="#45337e"/>
<rect x="490.53" y="194.32" width="8.68" height="8.69" fill="#443780"/>
<rect x="498.92" y="194.32" width="8.68" height="8.69" fill="#2c748e"/>
<rect x="507.3" y="194.32" width="8.68" height="8.69" fill="#2c738e"/>
<rect x="515.69" y="194.32" width="8.68" height="8.69" fill="#2c758e"/>
<rect x="524.07" y="194.32" width="8.68" height="8.69" fill="#fde725"/>
<rect x="532.46" y="194.32" width="8.68" height="8.69" fill="#e5e425"/>
<rect x="540.84" y="194.32" width="8.68" height="8.69" fill="#e6e425"/>
<rect x="549.23" y="194.32" width="8.68" height="8.69" fill="#97d73f"/>
<rect x="557.61" y="194.32" width="8.68" height="8.69" fill="#8ed544"/>
<rect x="566" y="194.32" width="8.68" height="8.69" fill="#91d642"/>
<rect x="574.38" y="194.32" width="8.68" height="8.69" fill="#37b678"/>
<rect x="582.77" y="194.32" width="8.68" height="8.69" fill="#36b678"/>
<rect x="591.15" y="194.32" width="8.68" height="8.69" fill="#3dba74"/>
<rect x="599.54" y="194.32" width="8.68" height="8.69" fill="#22a685"/>
<rect x="607.92" y="194.32" width="8.68" height="8.69" fill="#22a884"/>
<rect x="616.31" y="194.32" width="8.68" height="8.69" fill="#22a685"/>
<rect x="624.69" y="194.32" width="8.68" height="8.69" fill="#3d4e89"/>
<rect x="633.08" y="194.32" width="8.68" height="8.69" fill="#3f4888"/>
<rect x="641.46" y="194.32" width="8.68" height="8.69" fill="#3d4c89"/>
<rect x="649.85" y="194.32" width="8.68" height="8.69" fill="#45327d"/>
<rect x="658.23" y="194.32" width="8.68" height="8.69" fill="#45317c"/>
<rect x="666.62" y="194.32" width="8.68" height="8.69" fill="#472a78"/>
<rect x="398.3" y="202.71" width="8.68" height="8.69" fill="#482071"/>
<rect x="406.68" y="202.71" width="8.68" height="8.69" fill="#471f70"/>
<rect x="415.07" y="202.71" width="8.68" height="8.69" fill="#482172"/>
<rect x="423.45" y="202.71" width="8.68" height="8.69" fill="#45317c"/>
<rect x="431.84" y="202.71" width="8.68" height="8.69" fill="#462c7a"/>
<rect x="440.22" y="202.71" width="8.68" height="8.69" fill="#472b79"/>
<rect x="448.61" y="202.71" width="8.68" height="8.69" fill="#3e4a88"/>
<rect x="456.99" y="202.71" width="8.68" height="8.69" fill="#3e4b88"/>
<rect x="465.38" y="202.71" width="8.68" height="8.69" fill="#3c508a"/>
<rect x="473.76" y="202.71" width="8.68" height="8.69" fill="#45317d"/>
<rect x="482.15" y="202.71" width="8.68" height="8.69" fill="#45327d"/>
<rect x="490.53" y="202.71" width="8.68" height="8.69" fill="#44347e"/>
<rect x="498.92" y="202.71" width="8.68" height="8.69" fill="#2c738e"/>
<rect x="507.3" y="202.71" width="8.68" height="8.69" fill="#2d728e"/>
<rect x="515.69" y="202.71" width="8.68" height="8.69" fill="#2c738e"/>
<rect x="524.07" y="202.71" width="8.68" height="8.69" fill="#e5e425"/>
<rect x="532.46" y="202.71" width="8.68" height="8.69" fill="#fde725"/>
<rect x="540.84" y="202.71" width="8.68" height="8.69" fill="#e7e425"/>
<rect x="549.23" y="202.71" width="8.68" height="8.69" fill="#94d640"/>
<rect x="557.61" y="202.71" width="8.68" height="8.69" fill="#8bd546"/>
<rect x="566" y="202.71" width="8.68" height="8.69" fill="#a2d937"/>
<rect x="574.38" y="202.71" width="8.68" height="8.69" fill="#36b578"/>
<rect x="582.77" y="202.71" width="8.68" height="8.69" fill="#42be71"/>
<rect x="591.15" y="202.71" width="8.68" height="8.69" fill="#3bb975"/>
<rect x="599.54" y="202.71" width="8.68" height="8.69" fill="#25aa82"/>
<rect x="607.92" y="202.71" width="8.68" height="8.69" fill="#23a983"/>
<rect x="616.31" y="202.71" width="8.68" height="8.69" fill="#22a884"/>
<rect x="624.69" y="202.71" width="8.68" height="8.69" fill="#404688"/>
<rect x="633.08" y="202.71" width="8.68" height="8.69" fill="#3e4a88"/>
<rect x="641.46" y="202.71" width="8.68" height="8.69" fill="#404788"/>
<rect x="649.85" y="202.71" width="8.68" height="8.69" fill="#462e7b"/>
<rect x="658.23" y="202.71" width="8.68" height="8.69" fill="#45337d"/>
<rect x="666.62" y="202.71" width="8.68" height="8.69" fill="#462f7b"/>
<rect x="398.3" y="211.09" width="8.68" height="8.69" fill="#472676"/>
<rect x="406.68" y="211.09" width="8.68" height="8.69" fill="#482676"/>
<rect x="415.07" y="211.09" width="8.68" height="8.69" fill="#482475"/>
<rect x="423.45" y="211.09" width="8.68" height="8.69" fill="#462c7a"/>
<rect x="431.84" y="211.09" width="8.68" height="8.69" fill="#472978"/>
<rect x="440.22" y="211.09" width="8.68" height="8.69" fill="#472a78"/>
<rect x="448.61" y="211.09" width="8.68" height="8.69" fill="#3e4b89"/>
<rect x="456.99" y="211.09" width="8.68" height="8.69" fill="#3c508a"/>
<rect x="465.38" y="211.09" width="8.68" height="8.69" fill="#3c508a"/>
<rect x="473.76" y="211.09" width="8.68" height="8.69" fill="#45317c"/>
<rect x="482.15" y="211.09" width="8.68" height="8.69" fill="#44357e"/>
<rect x="490.53" y="211.09" width="8.68" height="8.69" fill="#472a79"/>
<rect x="498.92" y="211.09" width="8.68" height="8.69" fill="#2b768e"/>
<rect x="507.3" y="211.09" width="8.68" height="8.69" fill="#2f6d8e"/>
<rect x="515.69" y="211.09" width="8.68" height="8.69" fill="#2c728e"/>
<rect x="524.07" y="211.09" width="8.68" height="8.69" fill="#e6e425"/>
<rect x="532.46" y="211.09" width="8.68" height="8.69" fill="#e7e425"/>
<rect x="540.84" y="211.09" width="8.68" height="8.69" fill="#fde725"/>
<rect x="549.23" y="211.09" width="8.68" height="8.69" fill="#8dd545"/>
<rect x="557.61" y="211.09" width="8.68" height="8.69" fill="#87d449"/>
<rect x="566" y="211.09" width="8.68" height="8.69" fill="#92d642"/>
<rect x="574.38" y="211.09" width="8.68" height="8.69" fill="#39b777"/>
<rect x="582.77" y="211.09" width="8.68" height="8.69" fill="#3fbb73"/>
<rect x="591.15" y="211.09" width="8.68" height="8.69" fill="#3bb976"/>
<rect x="599.54" y="211.09" width="8.68" height="8.69" fill="#22a585"/>
<rect x="607.92" y="211.09" width="8.68" height="8.69" fill="#22a685"/>
<rect x="616.31" y="211.09" width="8.68" height="8.69" fill="#22a685"/>
<rect x="624.69" y="211.09" width="8.68" height="8.69" fill="#3e4c89"/>
<rect x="633.08" y="211.09" width="8.68" height="8.69" fill="#3e4a88"/>
<rect x="641.46" y="211.09" width="8.68" height="8.69" fill="#404788"/>
<rect x="649.85" y="211.09" width="8.68" height="8.69" fill="#462e7b"/>
<rect x="658.23" y="211.09" width="8.68" height="8.69" fill="#462e7a"/>
<rect x="666.62" y="211.09" width="8.68" height="8.69" fill="#472777"/>
<rect x="398.3" y="219.48" width="8.68" height="8.69" fill="#461264"/>
<rect x="406.68" y="219.48" width="8.68" height="8.69" fill="#450b5d"/>
<rect x="415.07" y="219.48" width="8.68" height="8.69" fill="#461567"/>
<rect x="423.45" y="219.48" width="8.68" height="8.69" fill="#482274"/>
<rect x="431.84" y="219.48" width="8.68" height="8.69" fill="#482273"/>
<rect x="440.22" y="219.48" width="8.68" height="8.69" fill="#482475"/>
<rect x="448.61" y="219.48" width="8.68" height="8.69" fill="#3e4b89"/>
<rect x="456.99" y="219.48" width="8.68" height="8.69" fill="#3b518a"/>
<rect x="465.38" y="219.48" width="8.68" height="8.69" fill="#3c4e89"/>
<rect x="473.76" y="219.48" width="8.68" height="8.69" fill="#472777"/>
<rect x="482.15" y="219.48" width="8.68" height="8.69" fill="#44367f"/>
<rect x="490.53" y="219.48" width="8.68" height="8.69" fill="#45347e"/>
<rect x="498.92" y="219.48" width="8.68" height="8.69" fill="#2a778e"/>
<rect x="507.3" y="219.48" width="8.68" height="8.69" fill="#2b778e"/>
<rect x="515.69" y="219.48" width="8.68" height="8.69" fill="#2d728e"/>
<rect x="524.07" y="219.48" width="8.68" height="8.69" fill="#97d73f"/>
<rect x="532.46" y="219.48" width="8.68" height="8.69" fill="#94d640"/>
<rect x="540.84" y="219.48" width="8.68" height="8.69" fill="#8dd545"/>
<rect x="549.23" y="219.48" width="8.68" height="8.69" fill="#fde725"/>
<rect x="557.61" y="219.48" width="8.68" height="8.69" fill="#dce326"/>
<rect x="566" y="219.48" width="8.68" height="8.69" fill="#e4e425"/>
<rect x="574.38" y="219.48" width="8.68" height="8.69" fill="#3ebb73"/>
<rect x="582.77" y="219.48" width="8.68" height="8.69" fill="#3fbc73"/>
<rect x="591.15" y="219.48" width="8.68" height="8.69" fill="#3ebb74"/>
<rect x="599.54" y="219.48" width="8.68" height="8.69" fill="#22a784"/>
<rect x="607.92" y="219.48" width="8.68" height="8.69" fill="#24a983"/>
<rect x="616.31" y="219.48" width="8.68" height="8.69" fill="#25aa83"/>
<rect x="624.69" y="219.48" width="8.68" height="8.69" fill="#404688"/>
<rect x="633.08" y="219.48" width="8.68" height="8.69" fill="#3e4a88"/>
<rect x="641.46" y="219.48" width="8.68" height="8.69" fill="#3d4e89"/>
<rect x="649.85" y="219.48" width="8.68" height="8.69" fill="#462f7b"/>
<rect x="658.23" y="219.48" width="8.68" height="8.69" fill="#45317d"/>
<rect x="666.62" y="219.48" width="8.68" height="8.69" fill="#45307c"/>
<rect x="398.3" y="227.87" width="8.68" height="8.69" fill="#461062"/>
<rect x="406.68" y="227.87" width="8.68" height="8.69" fill="#460f61"/>
<rect x="415.07" y="227.87" width="8.68" height="8.69" fill="#461567"/>
<rect x="423.45" y="227.87" width="8.68" height="8.69" fill="#482273"/>
<rect x="431.84" y="227.87" width="8.68" height="8.69" fill="#482475"/>
<rect x="440.22" y="227.87" width="8.68" height="8.69" fill="#482273"/>
<rect x="448.61" y="227.87" width="8.68" height="8.69" fill="#3d4c89"/>
<rect x="456.99" y="227.87" width="8.68" height="8.69" fill="#3b528a"/>
<rect x="465.38" y="227.87" width="8.68" height="8.69" fill="#3b528a"/>
<rect x="473.76" y="227.87" width="8.68" height="8.69" fill="#472877"/>
<rect x="482.15" y="227.87" width="8.68" height="8.69" fill="#462d7a"/>
<rect x="490.53" y="227.87" width="8.68" height="8.69" fill="#462c7a"/>
<rect x="498.92" y="227.87" width="8.68" height="8.69" fill="#2c748e"/>
<rect x="507.3" y="227.87" width="8.68" height="8.69" fill="#2a788e"/>
<rect x="515.69" y="227.87" width="8.68" height="8.69" fill="#2e708e"/>
<rect x="524.07" y="227.87" width="8.68" height="8.69" fill="#8ed544"/>
<rect x="532.46" y="227.87" width="8.68" height="8.69" fill="#8bd546"/>
<rect x="540.84" y="227.87" width="8.68" height="8.69" fill="#87d449"/>
<rect x="549.23" y="227.87" width="8.68" height="8.69" fill="#dce326"/>
<rect x="557.61" y="227.87" width="8.68" height="8.69" fill="#fde725"/>
<rect x="566" y="227.87" width="8.68" height="8.69" fill="#dfe325"/>
<rect x="574.38" y="227.87" width="8.68" height="8.69" fill="#3fbc73"/>
<rect x="582.77" y="227.87" width="8.68" height="8.69" fill="#3fbb73"/>
<rect x="591.15" y="227.87" width="8.68" height="8.69" fill="#37b678"/>
<rect x="599.54" y="227.87" width="8.68" height="8.69" fill="#22a884"/>
<rect x="607.92" y="227.87" width="8.68" height="8.69" fill="#25aa82"/>
<rect x="616.31" y="227.87" width="8.68" height="8.69" fill="#22a585"/>
<rect x="624.69" y="227.87" width="8.68" height="8.69" fill="#3f4788"/>
<rect x="633.08" y="227.87" width="8.68" height="8.69" fill="#3e4c89"/>
<rect x="641.46" y="227.87" width="8.68" height="8.69" fill="#3e4b89"/>
<rect x="649.85" y="227.87" width="8.68" height="8.69" fill="#462e7b"/>
<rect x="658.23" y="227.87" width="8.68" height="8.69" fill="#44367f"/>
<rect x="666.62" y="227.87" width="8.68" height="8.69" fill="#45307c"/>
<rect x="398.3" y="236.26" width="8.68" height="8.69" fill="#460f62"/>
<rect x="406.68" y="236.26" width="8.68" height="8.69" fill="#450d60"/>
<rect x="415.07" y="236.26" width="8.68" height="8.69" fill="#47196b"/>
<rect x="423.45" y="236.26" width="8.68" height="8.69" fill="#471b6c"/>
<rect x="431.84" y="236.26" width="8.68" height="8.69" fill="#472978"/>
<rect x="440.22" y="236.26" width="8.68" height="8.69" fill="#472777"/>
<rect x="448.61" y="236.26" width="8.68" height="8.69" fill="#3f4888"/>
<rect x="456.99" y="236.26" width="8.68" height="8.69" fill="#3c508a"/>
<rect x="465.38" y="236.26" width="8.68" height="8.69" fill="#3a548b"/>
<rect x="473.76" y="236.26" width="8.68" height="8.69" fill="#462d7a"/>
<rect x="482.15" y="236.26" width="8.68" height="8.69" fill="#482676"/>
<rect x="490.53" y="236.26" width="8.68" height="8.69" fill="#45347e"/>
<rect x="498.92" y="236.26" width="8.68" height="8.69" fill="#2d718e"/>
<rect x="507.3" y="236.26" width="8.68" height="8.69" fill="#2a778e"/>
<rect x="515.69" y="236.26" width="8.68" height="8.69" fill="#2c728e"/>
<rect x="524.07" y="236.26" width="8.68" height="8.69" fill="#91d642"/>
<rect x="532.46" y="236.26" width="8.68" height="8.69" fill="#a2d937"/>
<rect x="540.84" y="236.26" width="8.68" height="8.69" fill="#92d642"/>
<rect x="549.23" y="236.26" width="8.68" height="8.69" fill="#e4e425"/>
<rect x="557.61" y="236.26" width="8.68" height="8.69" fill="#dfe325"/>
<rect x="566" y="236.26" width="8.68" height="8.69" fill="#fde725"/>
<rect x="574.38" y="236.26" width="8.68" height="8.69" fill="#3dba74"/>
<rect x="582.77" y="236.26" width="8.68" height="8.69" fill="#3fbc73"/>
<rect x="591.15" y="236.26" width="8.68" height="8.69" fill="#3fbb73"/>
<rect x="599.54" y="236.26" width="8.68" height="8.69" fill="#22a784"/>
<rect x="607.92" y="236.26" width="8.68" height="8.69" fill="#22a585"/>
<rect x="616.31" y="236.26" width="8.68" height="8.69" fill="#22a784"/>
<rect x="624.69" y="236.26" width="8.68" height="8.69" fill="#3c4f8a"/>
<rect x="633.08" y="236.26" width="8.68" height="8.69" fill="#404788"/>
<rect x="641.46" y="236.26" width="8.68" height="8.69" fill="#3c4f8a"/>
<rect x="649.85" y="236.26" width="8.68" height="8.69" fill="#462e7b"/>
<rect x="658.23" y="236.26" width="8.68" height="8.69" fill="#45317c"/>
<rect x="666.62" y="236.26" width="8.68" height="8.69" fill="#45317c"/>
<rect x="398.3" y="244.65" width="8.68" height="8.69" fill="#423d83"/>
<rect x="406.68" y="244.65" width="8.68" height="8.69" fill="#423e84"/>
<rect x="415.07" y="244.65" width="8.68" height="8.69" fill="#433a81"/>
<rect x="423.45" y="244.65" width="8.68" height="8.69" fill="#462e7a"/>
<rect x="431.84" y="244.65" width="8.68" height="8.69" fill="#45337d"/>
<rect x="440.22" y="244.65" width="8.68" height="8.69" fill="#462e7b"/>
<rect x="448.61" y="244.65" width="8.68" height="8.69" fill="#3f4888"/>
<rect x="456.99" y="244.65" width="8.68" height="8.69" fill="#3e4c89"/>
<rect x="465.38" y="244.65" width="8.68" height="8.69" fill="#404788"/>
<rect x="473.76" y="244.65" width="8.68" height="8.69" fill="#31688d"/>
<rect x="482.15" y="244.65" width="8.68" height="8.69" fill="#33638d"/>
<rect x="490.53" y="244.65" width="8.68" height="8.69" fill="#31688d"/>
<rect x="498.92" y="244.65" width="8.68" height="8.69" fill="#219989"/>
<rect x="507.3" y="244.65" width="8.68" height="8.69" fill="#229e87"/>
<rect x="515.69" y="244.65" width="8.68" height="8.69" fill="#219889"/>
<rect x="524.07" y="244.65" width="8.68" height="8.69" fill="#37b678"/>
<rect x="532.46" y="244.65" width="8.68" height="8.69" fill="#36b578"/>
<rect x="540.84" y="244.65" width="8.68" height="8.69" fill="#39b777"/>
<rect x="549.23" y="244.65" width="8.68" height="8.69" fill="#3ebb73"/>
<rect x="557.61" y="244.65" width="8.68" height="8.69" fill="#3fbc73"/>
<rect x="566" y="244.65" width="8.68" height="8.69" fill="#3dba74"/>
<rect x="574.38" y="244.65" width="8.68" height="8.69" fill="#fde725"/>
<rect x="582.77" y="244.65" width="8.68" height="8.69" fill="#e7e425"/>
<rect x="591.15" y="244.65" width="8.68" height="8.69" fill="#e5e425"/>
<rect x="599.54" y="244.65" width="8.68" height="8.69" fill="#53c467"/>
<rect x="607.92" y="244.65" width="8.68" height="8.69" fill="#56c566"/>
<rect x="616.31" y="244.65" width="8.68" height="8.69" fill="#52c468"/>
<rect x="624.69" y="244.65" width="8.68" height="8.69" fill="#2c738e"/>
<rect x="633.08" y="244.65" width="8.68" height="8.69" fill="#2c738e"/>
<rect x="641.46" y="244.65" width="8.68" height="8.69" fill="#2d728e"/>
<rect x="649.85" y="244.65" width="8.68" height="8.69" fill="#2d728e"/>
<rect x="658.23" y="244.65" width="8.68" height="8.69" fill="#2c738e"/>
<rect x="666.62" y="244.65" width="8.68" height="8.69" fill="#2b758e"/>
<rect x="398.3" y="253.03" width="8.68" height="8.69" fill="#423f84"/>
<rect x="406.68" y="253.03" width="8.68" height="8.69" fill="#423e83"/>
<rect x="415.07" y="253.03" width="8.68" height="8.69" fill="#423f84"/>
<rect x="423.45" y="253.03" width="8.68" height="8.69" fill="#433981"/>
<rect x="431.84" y="253.03" width="8.68" height="8.69" fill="#443880"/>
<rect x="440.22" y="253.03" width="8.68" height="8.69" fill="#462d7a"/>
<rect x="448.61" y="253.03" width="8.68" height="8.69" fill="#3f4988"/>
<rect x="456.99" y="253.03" width="8.68" height="8.69" fill="#3d4e89"/>
<rect x="465.38" y="253.03" width="8.68" height="8.69" fill="#3a538a"/>
<rect x="473.76" y="253.03" width="8.68" height="8.69" fill="#31688d"/>
<rect x="482.15" y="253.03" width="8.68" height="8.69" fill="#33638d"/>
<rect x="490.53" y="253.03" width="8.68" height="8.69" fill="#31678d"/>
<rect x="498.92" y="253.03" width="8.68" height="8.69" fill="#21988a"/>
<rect x="507.3" y="253.03" width="8.68" height="8.69" fill="#229d88"/>
<rect x="515.69" y="253.03" width="8.68" height="8.69" fill="#229e87"/>
<rect x="524.07" y="253.03" width="8.68" height="8.69" fill="#36b678"/>
<rect x="532.46" y="253.03" width="8.68" height="8.69" fill="#42be71"/>
<rect x="540.84" y="253.03" width="8.68" height="8.69" fill="#3fbb73"/>
<rect x="549.23" y="253.03" width="8.68" height="8.69" fill="#3fbc73"/>
<rect x="557.61" y="253.03" width="8.68" height="8.69" fill="#3fbb73"/>
<rect x="566" y="253.03" width="8.68" height="8.69" fill="#3fbc73"/>
<rect x="574.38" y="253.03" width="8.68" height="8.69" fill="#e7e425"/>
<rect x="582.77" y="253.03" width="8.68" height="8.69" fill="#fde725"/>
<rect x="591.15" y="253.03" width="8.68" height="8.69" fill="#dce326"/>
<rect x="599.54" y="253.03" width="8.68" height="8.69" fill="#62c95f"/>
<rect x="607.92" y="253.03" width="8.68" height="8.69" fill="#55c566"/>
<rect x="616.31" y="253.03" width="8.68" height="8.69" fill="#5cc762"/>
<rect x="624.69" y="253.03" width="8.68" height="8.69" fill="#2c738e"/>
<rect x="633.08" y="253.03" width="8.68" height="8.69" fill="#2b768e"/>
<rect x="641.46" y="253.03" width="8.68" height="8.69" fill="#2d728e"/>
<rect x="649.85" y="253.03" width="8.68" height="8.69" fill="#2d718e"/>
<rect x="658.23" y="253.03" width="8.68" height="8.69" fill="#2b758e"/>
<rect x="666.62" y="253.03" width="8.68" height="8.69" fill="#2c748e"/>
<rect x="398.3" y="261.42" width="8.68" height="8.69" fill="#433b82"/>
<rect x="406.68" y="261.42" width="8.68" height="8.69" fill="#433c83"/>
<rect x="415.07" y="261.42" width="8.68" height="8.69" fill="#414487"/>
<rect x="423.45" y="261.42" width="8.68" height="8.69" fill="#44367f"/>
<rect x="431.84" y="261.42" width="8.68" height="8.69" fill="#44357e"/>
<rect x="440.22" y="261.42" width="8.68" height="8.69" fill="#443780"/>
<rect x="448.61" y="261.42" width="8.68" height="8.69" fill="#3d4c89"/>
<rect x="456.99" y="261.42" width="8.68" height="8.69" fill="#3f4988"/>
<rect x="465.38" y="261.42" width="8.68" height="8.69" fill="#3c4f8a"/>
<rect x="473.76" y="261.42" width="8.68" height="8.69" fill="#306a8d"/>
<rect x="482.15" y="261.42" width="8.68" height="8.69" fill="#306b8d"/>
<rect x="490.53" y="261.42" width="8.68" height="8.69" fill="#32678d"/>
<rect x="498.92" y="261.42" width="8.68" height="8.69" fill="#219b88"/>
<rect x="507.3" y="261.42" width="8.68" height="8.69" fill="#22a087"/>
<rect x="515.69" y="261.42" width="8.68" height="8.69" fill="#219b88"/>
<rect x="524.07" y="261.42" width="8.68" height="8.69" fill="#3dba74"/>
<rect x="532.46" y="261.42" width="8.68" height="8.69" fill="#3bb975"/>
<rect x="540.84" y="261.42" width="8.68" height="8.69" fill="#3bb976"/>
<rect x="549.23" y="261.42" width="8.68" height="8.69" fill="#3ebb74"/>
<rect x="557.61" y="261.42" width="8.68" height="8.69" fill="#37b678"/>
<rect x="566" y="261.42" width="8.68" height="8.69" fill="#3fbb73"/>
<rect x="574.38" y="261.42" width="8.68" height="8.69" fill="#e5e425"/>
<rect x="582.77" y="261.42" width="8.68" height="8.69" fill="#dce326"/>
<rect x="591.15" y="261.42" width="8.68" height="8.69" fill="#fde725"/>
<rect x="599.54" y="261.42" width="8.68" height="8.69" fill="#64ca5e"/>
<rect x="607.92" y="261.42" width="8.68" height="8.69" fill="#60c860"/>
<rect x="616.31" y="261.42" width="8.68" height="8.69" fill="#5ac663"/>
<rect x="624.69" y="261.42" width="8.68" height="8.69" fill="#2c738e"/>
<rect x="633.08" y="261.42" width="8.68" height="8.69" fill="#2c748e"/>
<rect x="641.46" y="261.42" width="8.68" height="8.69" fill="#2a788e"/>
<rect x="649.85" y="261.42" width="8.68" height="8.69" fill="#2d708e"/>
<rect x="658.23" y="261.42" width="8.68" height="8.69" fill="#2e6e8e"/>
<rect x="666.62" y="261.42" width="8.68" height="8.69" fill="#2e6e8e"/>
<rect x="398.3" y="269.81" width="8.68" height="8.69" fill="#3c4e89"/>
<rect x="406.68" y="269.81" width="8.68" height="8.69" fill="#3b528a"/>
<rect x="415.07" y="269.81" width="8.68" height="8.69" fill="#3a558b"/>
<rect x="423.45" y="269.81" width="8.68" height="8.69" fill="#355e8d"/>
<rect x="431.84" y="269.81" width="8.68" height="8.69" fill="#34618d"/>
<rect x="440.22" y="269.81" width="8.68" height="8.69" fill="#34618d"/>
<rect x="448.61" y="269.81" width="8.68" height="8.69" fill="#2f6c8e"/>
<rect x="456.99" y="269.81" width="8.68" height="8.69" fill="#2e6f8e"/>
<rect x="465.38" y="269.81" width="8.68" height="8.69" fill="#31688d"/>
<rect x="473.76" y="269.81" width="8.68" height="8.69" fill="#2f6c8e"/>
<rect x="482.15" y="269.81" width="8.68" height="8.69" fill="#2d728e"/>
<rect x="490.53" y="269.81" width="8.68" height="8.69" fill="#306b8d"/>
<rect x="498.92" y="269.81" width="8.68" height="8.69" fill="#21978a"/>
<rect x="507.3" y="269.81" width="8.68" height="8.69" fill="#219889"/>
<rect x="515.69" y="269.81" width="8.68" height="8.69" fill="#21988a"/>
<rect x="524.07" y="269.81" width="8.68" height="8.69" fill="#22a685"/>
<rect x="532.46" y="269.81" width="8.68" height="8.69" fill="#25aa82"/>
<rect x="540.84" y="269.81" width="8.68" height="8.69" fill="#22a585"/>
<rect x="549.23" y="269.81" width="8.68" height="8.69" fill="#22a784"/>
<rect x="557.61" y="269.81" width="8.68" height="8.69" fill="#22a884"/>
<rect x="566" y="269.81" width="8.68" height="8.69" fill="#22a784"/>
<rect x="574.38" y="269.81" width="8.68" height="8.69" fill="#53c467"/>
<rect x="582.77" y="269.81" width="8.68" height="8.69" fill="#62c95f"/>
<rect x="591.15" y="269.81" width="8.68" height="8.69" fill="#64ca5e"/>
<rect x="599.54" y="269.81" width="8.68" height="8.69" fill="#fde725"/>
<rect x="607.92" y="269.81" width="8.68" height="8.69" fill="#e2e425"/>
<rect x="616.31" y="269.81" width="8.68" height="8.69" fill="#e5e425"/>
<rect x="624.69" y="269.81" width="8.68" height="8.69" fill="#2b768e"/>
<rect x="633.08" y="269.81" width="8.68" height="8.69" fill="#2a798e"/>
<rect x="641.46" y="269.81" width="8.68" height="8.69" fill="#2a798e"/>
<rect x="649.85" y="269.81" width="8.68" height="8.69" fill="#2e708e"/>
<rect x="658.23" y="269.81" width="8.68" height="8.69" fill="#2b758e"/>
<rect x="666.62" y="269.81" width="8.68" height="8.69" fill="#2c738e"/>
<rect x="398.3" y="278.2" width="8.68" height="8.69" fill="#3b528a"/>
<rect x="406.68" y="278.2" width="8.68" height="8.69" fill="#3a548b"/>
<rect x="415.07" y="278.2" width="8.68" height="8.69" fill="#3c508a"/>
<rect x="423.45" y="278.2" width="8.68" height="8.69" fill="#355e8d"/>
<rect x="431.84" y="278.2" width="8.68" height="8.69" fill="#365c8c"/>
<rect x="440.22" y="278.2" width="8.68" height="8.69" fill="#34618d"/>
<rect x="448.61" y="278.2" width="8.68" height="8.69" fill="#306a8d"/>
<rect x="456.99" y="278.2" width="8.68" height="8.69" fill="#306a8d"/>
<rect x="465.38" y="278.2" width="8.68" height="8.69" fill="#31678d"/>
<rect x="473.76" y="278.2" width="8.68" height="8.69" fill="#2d728e"/>
<rect x="482.15" y="278.2" width="8.68" height="8.69" fill="#2d718e"/>
<rect x="490.53" y="278.2" width="8.68" height="8.69" fill="#2d728e"/>
<rect x="498.92" y="278.2" width="8.68" height="8.69" fill="#219989"/>
<rect x="507.3" y="278.2" width="8.68" height="8.69" fill="#219a89"/>
<rect x="515.69" y="278.2" width="8.68" height="8.69" fill="#21948b"/>
<rect x="524.07" y="278.2" width="8.68" height="8.69" fill="#22a884"/>
<rect x="532.46" y="278.2" width="8.68" height="8.69" fill="#23a983"/>
<rect x="540.84" y="278.2" width="8.68" height="8.69" fill="#22a685"/>
<rect x="549.23" y="278.2" width="8.68" height="8.69" fill="#24a983"/>
<rect x="557.61" y="278.2" width="8.68" height="8.69" fill="#25aa82"/>
<rect x="566" y="278.2" width="8.68" height="8.69" fill="#22a585"/>
<rect x="574.38" y="278.2" width="8.68" height="8.69" fill="#56c566"/>
<rect x="582.77" y="278.2" width="8.68" height="8.69" fill="#55c566"/>
<rect x="591.15" y="278.2" width="8.68" height="8.69" fill="#60c860"/>
<rect x="599.54" y="278.2" width="8.68" height="8.69" fill="#e2e425"/>
<rect x="607.92" y="278.2" width="8.68" height="8.69" fill="#fde725"/>
<rect x="616.31" y="278.2" width="8.68" height="8.69" fill="#dce326"/>
<rect x="624.69" y="278.2" width="8.68" height="8.69" fill="#2c728e"/>
<rect x="633.08" y="278.2" width="8.68" height="8.69" fill="#2a798e"/>
<rect x="641.46" y="278.2" width="8.68" height="8.69" fill="#297a8e"/>
<rect x="649.85" y="278.2" width="8.68" height="8.69" fill="#2f6d8e"/>
<rect x="658.23" y="278.2" width="8.68" height="8.69" fill="#2f6e8e"/>
<rect x="666.62" y="278.2" width="8.68" height="8.69" fill="#2f6c8e"/>
<rect x="398.3" y="286.58" width="8.68" height="8.69" fill="#3a548a"/>
<rect x="406.68" y="286.58" width="8.68" height="8.69" fill="#39568b"/>
<rect x="415.07" y="286.58" width="8.68" height="8.69" fill="#3b508a"/>
<rect x="423.45" y="286.58" width="8.68" height="8.69" fill="#365d8d"/>
<rect x="431.84" y="286.58" width="8.68" height="8.69" fill="#365c8c"/>
<rect x="440.22" y="286.58" width="8.68" height="8.69" fill="#35608d"/>
<rect x="448.61" y="286.58" width="8.68" height="8.69" fill="#30698d"/>
<rect x="456.99" y="286.58" width="8.68" height="8.69" fill="#2e6e8e"/>
<rect x="465.38" y="286.58" width="8.68" height="8.69" fill="#32658d"/>
<rect x="473.76" y="286.58" width="8.68" height="8.69" fill="#2f6d8e"/>
<rect x="482.15" y="286.58" width="8.68" height="8.69" fill="#2d708e"/>
<rect x="490.53" y="286.58" width="8.68" height="8.69" fill="#2e6e8e"/>
<rect x="498.92" y="286.58" width="8.68" height="8.69" fill="#219a89"/>
<rect x="507.3" y="286.58" width="8.68" height="8.69" fill="#21988a"/>
<rect x="515.69" y="286.58" width="8.68" height="8.69" fill="#21968a"/>
<rect x="524.07" y="286.58" width="8.68" height="8.69" fill="#22a685"/>
<rect x="532.46" y="286.58" width="8.68" height="8.69" fill="#22a884"/>
<rect x="540.84" y="286.58" width="8.68" height="8.69" fill="#22a685"/>
<rect x="549.23" y="286.58" width="8.68" height="8.69" fill="#25aa83"/>
<rect x="557.61" y="286.58" width="8.68" height="8.69" fill="#22a585"/>
<rect x="566" y="286.58" width="8.68" height="8.69" fill="#22a784"/>
<rect x="574.38" y="286.58" width="8.68" height="8.69" fill="#52c468"/>
<rect x="582.77" y="286.58" width="8.68" height="8.69" fill="#5cc762"/>
<rect x="591.15" y="286.58" width="8.68" height="8.69" fill="#5ac663"/>
<rect x="599.54" y="286.58" width="8.68" height="8.69" fill="#e5e425"/>
<rect x="607.92" y="286.58" width="8.68" height="8.69" fill="#dce326"/>
<rect x="616.31" y="286.58" width="8.68" height="8.69" fill="#fde725"/>
<rect x="624.69" y="286.58" width="8.68" height="8.69" fill="#297c8e"/>
<rect x="633.08" y="286.58" width="8.68" height="8.69" fill="#2a788e"/>
<rect x="641.46" y="286.58" width="8.68" height="8.69" fill="#297b8e"/>
<rect x="649.85" y="286.58" width="8.68" height="8.69" fill="#2d718e"/>
<rect x="658.23" y="286.58" width="8.68" height="8.69" fill="#2d728e"/>
<rect x="666.62" y="286.58" width="8.68" height="8.69" fill="#2b758e"/>
<rect x="398.3" y="294.97" width="8.68" height="8.69" fill="#4bc16c"/>
<rect x="406.68" y="294.97" width="8.68" height="8.69" fill="#48c06e"/>
<rect x="415.07" y="294.97" width="8.68" height="8.69" fill="#57c565"/>
<rect x="423.45" y="294.97" width="8.68" height="8.69" fill="#3cba75"/>
<rect x="431.84" y="294.97" width="8.68" height="8.69" fill="#32b37b"/>
<rect x="440.22" y="294.97" width="8.68" height="8.69" fill="#35b579"/>
<rect x="448.61" y="294.97" width="8.68" height="8.69" fill="#4dc26b"/>
<rect x="456.99" y="294.97" width="8.68" height="8.69" fill="#44bf70"/>
<rect x="465.38" y="294.97" width="8.68" height="8.69" fill="#4ec26a"/>
<rect x="473.76" y="294.97" width="8.68" height="8.69" fill="#82d34c"/>
<rect x="482.15" y="294.97" width="8.68" height="8.69" fill="#79d151"/>
<rect x="490.53" y="294.97" width="8.68" height="8.69" fill="#7dd24f"/>
<rect x="498.92" y="294.97" width="8.68" height="8.69" fill="#229f87"/>
<rect x="507.3" y="294.97" width="8.68" height="8.69" fill="#22a286"/>
<rect x="515.69" y="294.97" width="8.68" height="8.69" fill="#22a485"/>
<rect x="524.07" y="294.97" width="8.68" height="8.69" fill="#3d4e89"/>
<rect x="532.46" y="294.97" width="8.68" height="8.69" fill="#404688"/>
<rect x="540.84" y="294.97" width="8.68" height="8.69" fill="#3e4c89"/>
<rect x="549.23" y="294.97" width="8.68" height="8.69" fill="#404688"/>
<rect x="557.61" y="294.97" width="8.68" height="8.69" fill="#3f4788"/>
<rect x="566" y="294.97" width="8.68" height="8.69" fill="#3c4f8a"/>
<rect x="574.38" y="294.97" width="8.68" height="8.69" fill="#2c738e"/>
<rect x="582.77" y="294.97" width="8.68" height="8.69" fill="#2c738e"/>
<rect x="591.15" y="294.97" width="8.68" height="8.69" fill="#2c738e"/>
<rect x="599.54" y="294.97" width="8.68" height="8.69" fill="#2b768e"/>
<rect x="607.92" y="294.97" width="8.68" height="8.69" fill="#2c728e"/>
<rect x="616.31" y="294.97" width="8.68" height="8.69" fill="#297c8e"/>
<rect x="624.69" y="294.97" width="8.68" height="8.69" fill="#fde725"/>
<rect x="633.08" y="294.97" width="8.68" height="8.69" fill="#dbe326"/>
<rect x="641.46" y="294.97" width="8.68" height="8.69" fill="#e7e425"/>
<rect x="649.85" y="294.97" width="8.68" height="8.69" fill="#8cd546"/>
<rect x="658.23" y="294.97" width="8.68" height="8.69" fill="#addc30"/>
<rect x="666.62" y="294.97" width="8.68" height="8.69" fill="#9fd939"/>
<rect x="398.3" y="303.36" width="8.68" height="8.69" fill="#52c468"/>
<rect x="406.68" y="303.36" width="8.68" height="8.69" fill="#56c566"/>
<rect x="415.07" y="303.36" width="8.68" height="8.69" fill="#54c467"/>
<rect x="423.45" y="303.36" width="8.68" height="8.69" fill="#2eb07d"/>
<rect x="431.84" y="303.36" width="8.68" height="8.69" fill="#38b777"/>
<rect x="440.22" y="303.36" width="8.68" height="8.69" fill="#33b37a"/>
<rect x="448.61" y="303.36" width="8.68" height="8.69" fill="#41bd72"/>
<rect x="456.99" y="303.36" width="8.68" height="8.69" fill="#4ac16d"/>
<rect x="465.38" y="303.36" width="8.68" height="8.69" fill="#42be71"/>
<rect x="473.76" y="303.36" width="8.68" height="8.69" fill="#79d151"/>
<rect x="482.15" y="303.36" width="8.68" height="8.69" fill="#77d053"/>
<rect x="490.53" y="303.36" width="8.68" height="8.69" fill="#79d152"/>
<rect x="498.92" y="303.36" width="8.68" height="8.69" fill="#219c88"/>
<rect x="507.3" y="303.36" width="8.68" height="8.69" fill="#22a485"/>
<rect x="515.69" y="303.36" width="8.68" height="8.69" fill="#22a685"/>
<rect x="524.07" y="303.36" width="8.68" height="8.69" fill="#3f4888"/>
<rect x="532.46" y="303.36" width="8.68" height="8.69" fill="#3e4a88"/>
<rect x="540.84" y="303.36" width="8.68" height="8.69" fill="#3e4a88"/>
<rect x="549.23" y="303.36" width="8.68" height="8.69" fill="#3e4a88"/>
<rect x="557.61" y="303.36" width="8.68" height="8.69" fill="#3e4c89"/>
<rect x="566" y="303.36" width="8.68" height="8.69" fill="#404788"/>
<rect x="574.38" y="303.36" width="8.68" height="8.69" fill="#2c738e"/>
<rect x="582.77" y="303.36" width="8.68" height="8.69" fill="#2b768e"/>
<rect x="591.15" y="303.36" width="8.68" height="8.69" fill="#2c748e"/>
<rect x="599.54" y="303.36" width="8.68" height="8.69" fill="#2a798e"/>
<rect x="607.92" y="303.36" width="8.68" height="8.69" fill="#2a798e"/>
<rect x="616.31" y="303.36" width="8.68" height="8.69" fill="#2a788e"/>
<rect x="624.69" y="303.36" width="8.68" height="8.69" fill="#dbe326"/>
<rect x="633.08" y="303.36" width="8.68" height="8.69" fill="#fde725"/>
<rect x="641.46" y="303.36" width="8.68" height="8.69" fill="#d8e226"/>
<rect x="649.85" y="303.36" width="8.68" height="8.69" fill="#9dd83b"/>
<rect x="658.23" y="303.36" width="8.68" height="8.69" fill="#a4da36"/>
<rect x="666.62" y="303.36" width="8.68" height="8.69" fill="#a0d938"/>
<rect x="398.3" y="311.75" width="8.68" height="8.69" fill="#50c369"/>
<rect x="406.68" y="311.75" width="8.68" height="8.69" fill="#49c16d"/>
<rect x="415.07" y="311.75" width="8.68" height="8.69" fill="#56c566"/>
<rect x="423.45" y="311.75" width="8.68" height="8.69" fill="#31b27b"/>
<rect x="431.84" y="311.75" width="8.68" height="8.69" fill="#35b579"/>
<rect x="440.22" y="311.75" width="8.68" height="8.69" fill="#38b777"/>
<rect x="448.61" y="311.75" width="8.68" height="8.69" fill="#44bf70"/>
<rect x="456.99" y="311.75" width="8.68" height="8.69" fill="#4ac16c"/>
<rect x="465.38" y="311.75" width="8.68" height="8.69" fill="#4ac16c"/>
<rect x="473.76" y="311.75" width="8.68" height="8.69" fill="#85d34a"/>
<rect x="482.15" y="311.75" width="8.68" height="8.69" fill="#7fd24e"/>
<rect x="490.53" y="311.75" width="8.68" height="8.69" fill="#75cf54"/>
<rect x="498.92" y="311.75" width="8.68" height="8.69" fill="#22a585"/>
<rect x="507.3" y="311.75" width="8.68" height="8.69" fill="#22a087"/>
<rect x="515.69" y="311.75" width="8.68" height="8.69" fill="#22a186"/>
<rect x="524.07" y="311.75" width="8.68" height="8.69" fill="#3d4c89"/>
<rect x="532.46" y="311.75" width="8.68" height="8.69" fill="#404788"/>
<rect x="540.84" y="311.75" width="8.68" height="8.69" fill="#404788"/>
<rect x="549.23" y="311.75" width="8.68" height="8.69" fill="#3d4e89"/>
<rect x="557.61" y="311.75" width="8.68" height="8.69" fill="#3e4b89"/>
<rect x="566" y="311.75" width="8.68" height="8.69" fill="#3c4f8a"/>
<rect x="574.38" y="311.75" width="8.68" height="8.69" fill="#2d728e"/>
<rect x="582.77" y="311.75" width="8.68" height="8.69" fill="#2d728e"/>
<rect x="591.15" y="311.75" width="8.68" height="8.69" fill="#2a788e"/>
<rect x="599.54" y="311.75" width="8.68" height="8.69" fill="#2a798e"/>
<rect x="607.92" y="311.75" width="8.68" height="8.69" fill="#297a8e"/>
<rect x="616.31" y="311.75" width="8.68" height="8.69" fill="#297b8e"/>
<rect x="624.69" y="311.75" width="8.68" height="8.69" fill="#e7e425"/>
<rect x="633.08" y="311.75" width="8.68" height="8.69" fill="#d8e226"/>
<rect x="641.46" y="311.75" width="8.68" height="8.69" fill="#fde725"/>
<rect x="649.85" y="311.75" width="8.68" height="8.69" fill="#99d73d"/>
<rect x="658.23" y="311.75" width="8.68" height="8.69" fill="#a7da34"/>
<rect x="666.62" y="311.75" width="8.68" height="8.69" fill="#a4da36"/>
<rect x="398.3" y="320.14" width="8.68" height="8.69" fill="#84d34b"/>
<rect x="406.68" y="320.14" width="8.68" height="8.69" fill="#7ad151"/>
<rect x="415.07" y="320.14" width="8.68" height="8.69" fill="#7fd24e"/>
<rect x="423.45" y="320.14" width="8.68" height="8.69" fill="#44bf70"/>
<rect x="431.84" y="320.14" width="8.68" height="8.69" fill="#4cc26b"/>
<rect x="440.22" y="320.14" width="8.68" height="8.69" fill="#44bf70"/>
<rect x="448.61" y="320.14" width="8.68" height="8.69" fill="#4fc36a"/>
<rect x="456.99" y="320.14" width="8.68" height="8.69" fill="#4cc26b"/>
<rect x="465.38" y="320.14" width="8.68" height="8.69" fill="#43be71"/>
<rect x="473.76" y="320.14" width="8.68" height="8.69" fill="#97d73e"/>
<rect x="482.15" y="320.14" width="8.68" height="8.69" fill="#a4da36"/>
<rect x="490.53" y="320.14" width="8.68" height="8.69" fill="#97d73e"/>
<rect x="498.92" y="320.14" width="8.68" height="8.69" fill="#26aa82"/>
<rect x="507.3" y="320.14" width="8.68" height="8.69" fill="#26aa82"/>
<rect x="515.69" y="320.14" width="8.68" height="8.69" fill="#2aae7f"/>
<rect x="524.07" y="320.14" width="8.68" height="8.69" fill="#45327d"/>
<rect x="532.46" y="320.14" width="8.68" height="8.69" fill="#462e7b"/>
<rect x="540.84" y="320.14" width="8.68" height="8.69" fill="#462e7b"/>
<rect x="549.23" y="320.14" width="8.68" height="8.69" fill="#462f7b"/>
<rect x="557.61" y="320.14" width="8.68" height="8.69" fill="#462e7b"/>
<rect x="566" y="320.14" width="8.68" height="8.69" fill="#462e7b"/>
<rect x="574.38" y="320.14" width="8.68" height="8.69" fill="#2d728e"/>
<rect x="582.77" y="320.14" width="8.68" height="8.69" fill="#2d718e"/>
<rect x="591.15" y="320.14" width="8.68" height="8.69" fill="#2d708e"/>
<rect x="599.54" y="320.14" width="8.68" height="8.69" fill="#2e708e"/>
<rect x="607.92" y="320.14" width="8.68" height="8.69" fill="#2f6d8e"/>
<rect x="616.31" y="320.14" width="8.68" height="8.69" fill="#2d718e"/>
<rect x="624.69" y="320.14" width="8.68" height="8.69" fill="#8cd546"/>
<rect x="633.08" y="320.14" width="8.68" height="8.69" fill="#9dd83b"/>
<rect x="641.46" y="320.14" width="8.68" height="8.69" fill="#99d73d"/>
<rect x="649.85" y="320.14" width="8.68" height="8.69" fill="#fde725"/>
<rect x="658.23" y="320.14" width="8.68" height="8.69" fill="#e2e425"/>
<rect x="666.62" y="320.14" width="8.68" height="8.69" fill="#e5e425"/>
<rect x="398.3" y="328.52" width="8.68" height="8.69" fill="#77d053"/>
<rect x="406.68" y="328.52" width="8.68" height="8.69" fill="#70ce57"/>
<rect x="415.07" y="328.52" width="8.68" height="8.69" fill="#7ad151"/>
<rect x="423.45" y="328.52" width="8.68" height="8.69" fill="#50c369"/>
<rect x="431.84" y="328.52" width="8.68" height="8.69" fill="#51c369"/>
<rect x="440.22" y="328.52" width="8.68" height="8.69" fill="#54c467"/>
<rect x="448.61" y="328.52" width="8.68" height="8.69" fill="#4bc16c"/>
<rect x="456.99" y="328.52" width="8.68" height="8.69" fill="#53c468"/>
<rect x="465.38" y="328.52" width="8.68" height="8.69" fill="#46c06f"/>
<rect x="473.76" y="328.52" width="8.68" height="8.69" fill="#b3dd2d"/>
<rect x="482.15" y="328.52" width="8.68" height="8.69" fill="#a6da35"/>
<rect x="490.53" y="328.52" width="8.68" height="8.69" fill="#a7da34"/>
<rect x="498.92" y="328.52" width="8.68" height="8.69" fill="#2aad7f"/>
<rect x="507.3" y="328.52" width="8.68" height="8.69" fill="#22a884"/>
<rect x="515.69" y="328.52" width="8.68" height="8.69" fill="#26ab82"/>
<rect x="524.07" y="328.52" width="8.68" height="8.69" fill="#45317c"/>
<rect x="532.46" y="328.52" width="8.68" height="8.69" fill="#45337d"/>
<rect x="540.84" y="328.52" width="8.68" height="8.69" fill="#462e7a"/>
<rect x="549.23" y="328.52" width="8.68" height="8.69" fill="#45317d"/>
<rect x="557.61" y="328.52" width="8.68" height="8.69" fill="#44367f"/>
<rect x="566" y="328.52" width="8.68" height="8.69" fill="#45317c"/>
<rect x="574.38" y="328.52" width="8.68" height="8.69" fill="#2c738e"/>
<rect x="582.77" y="328.52" width="8.68" height="8.69" fill="#2b758e"/>
<rect x="591.15" y="328.52" width="8.68" height="8.69" fill="#2e6e8e"/>
<rect x="599.54" y="328.52" width="8.68" height="8.69" fill="#2b758e"/>
<rect x="607.92" y="328.52" width="8.68" height="8.69" fill="#2f6e8e"/>
<rect x="616.31" y="328.52" width="8.68" height="8.69" fill="#2d728e"/>
<rect x="624.69" y="328.52" width="8.68" height="8.69" fill="#addc30"/>
<rect x="633.08" y="328.52" width="8.68" height="8.69" fill="#a4da36"/>
<rect x="641.46" y="328.52" width="8.68" height="8.69" fill="#a7da34"/>
<rect x="649.85" y="328.52" width="8.68" height="8.69" fill="#e2e425"/>
<rect x="658.23" y="328.52" width="8.68" height="8.69" fill="#fde725"/>
<rect x="666.62" y="328.52" width="8.68" height="8.69" fill="#dee325"/>
<rect x="398.3" y="336.91" width="8.68" height="8.69" fill="#80d24d"/>
<rect x="406.68" y="336.91" width="8.68" height="8.69" fill="#72ce56"/>
<rect x="415.07" y="336.91" width="8.68" height="8.69" fill="#70ce57"/>
<rect x="423.45" y="336.91" width="8.68" height="8.69" fill="#51c368"/>
<rect x="431.84" y="336.91" width="8.68" height="8.69" fill="#46c06f"/>
<rect x="440.22" y="336.91" width="8.68" height="8.69" fill="#4ec26a"/>
<rect x="448.61" y="336.91" width="8.68" height="8.69" fill="#4dc26b"/>
<rect x="456.99" y="336.91" width="8.68" height="8.69" fill="#4ac16c"/>
<rect x="465.38" y="336.91" width="8.68" height="8.69" fill="#53c468"/>
<rect x="473.76" y="336.91" width="8.68" height="8.69" fill="#a4da36"/>
<rect x="482.15" y="336.91" width="8.68" height="8.69" fill="#a2d937"/>
<rect x="490.53" y="336.91" width="8.68" height="8.69" fill="#a6da35"/>
<rect x="498.92" y="336.91" width="8.68" height="8.69" fill="#25aa82"/>
<rect x="507.3" y="336.91" width="8.68" height="8.69" fill="#2caf7e"/>
<rect x="515.69" y="336.91" width="8.68" height="8.69" fill="#2bae7f"/>
<rect x="524.07" y="336.91" width="8.68" height="8.69" fill="#472a78"/>
<rect x="532.46" y="336.91" width="8.68" height="8.69" fill="#462f7b"/>
<rect x="540.84" y="336.91" width="8.68" height="8.69" fill="#472777"/>
<rect x="549.23" y="336.91" width="8.68" height="8.69" fill="#45307c"/>
<rect x="557.61" y="336.91" width="8.68" height="8.69" fill="#45307c"/>
<rect x="566" y="336.91" width="8.68" height="8.69" fill="#45317c"/>
<rect x="574.38" y="336.91" width="8.68" height="8.69" fill="#2b758e"/>
<rect x="582.77" y="336.91" width="8.68" height="8.69" fill="#2c748e"/>
<rect x="591.15" y="336.91" width="8.68" height="8.69" fill="#2e6e8e"/>
<rect x="599.54" y="336.91" width="8.68" height="8.69" fill="#2c738e"/>
<rect x="607.92" y="336.91" width="8.68" height="8.69" fill="#2f6c8e"/>
<rect x="616.31" y="336.91" width="8.68" height="8.69" fill="#2b758e"/>
<rect x="624.69" y="336.91" width="8.68" height="8.69" fill="#9fd939"/>
<rect x="633.08" y="336.91" width="8.68" height="8.69" fill="#a0d938"/>
<rect x="641.46" y="336.91" width="8.68" height="8.69" fill="#a4da36"/>
<rect x="649.85" y="336.91" width="8.68" height="8.69" fill="#e5e425"/>
<rect x="658.23" y="336.91" width="8.68" height="8.69" fill="#dee325"/>
<rect x="666.62" y="336.91" width="8.68" height="8.69" fill="#fde725"/>
</g>
<rect x="398.3" y="68.5" width="276.7" height="276.8" fill="none" stroke="#111" stroke-width="0.9"/>
<rect x="398.3" y="19.3" width="276.7" height="49.2" fill="#fff" stroke="#111" stroke-width="0.9"/>
<rect x="398.3" y="19.3" width="25.15" height="5.3" fill="#9c1f55"/>
<rect x="423.45" y="19.3" width="25.15" height="5.3" fill="#252a7c"/>
<line x1="423.45" y1="19.3" x2="423.45" y2="68.5" stroke="#222" stroke-width="0.9"/>
<rect x="448.61" y="19.3" width="25.15" height="5.3" fill="#f4b57f"/>
<line x1="448.61" y1="19.3" x2="448.61" y2="68.5" stroke="#222" stroke-width="0.9"/>
<rect x="473.76" y="19.3" width="25.15" height="5.3" fill="#7c7f32"/>
<line x1="473.76" y1="19.3" x2="473.76" y2="68.5" stroke="#222" stroke-width="0.9"/>
<rect x="498.92" y="19.3" width="25.15" height="5.3" fill="#a3a3a3"/>
<line x1="498.92" y1="19.3" x2="498.92" y2="68.5" stroke="#222" stroke-width="0.9"/>
<rect x="524.07" y="19.3" width="25.15" height="5.3" fill="#2eb64e"/>
<line x1="524.07" y1="19.3" x2="524.07" y2="68.5" stroke="#222" stroke-width="0.9"/>
<rect x="549.23" y="19.3" width="25.15" height="5.3" fill="#f07f24"/>
<line x1="549.23" y1="19.3" x2="549.23" y2="68.5" stroke="#222" stroke-width="0.9"/>
<rect x="574.38" y="19.3" width="25.15" height="5.3" fill="#3450a0"/>
<line x1="574.38" y1="19.3" x2="574.38" y2="68.5" stroke="#222" stroke-width="0.9"/>
<rect x="599.54" y="19.3" width="25.15" height="5.3" fill="#e3a8d0"/>
<line x1="599.54" y1="19.3" x2="599.54" y2="68.5" stroke="#222" stroke-width="0.9"/>
<rect x="624.69" y="19.3" width="25.15" height="5.3" fill="#c9dcf2"/>
<line x1="624.69" y1="19.3" x2="624.69" y2="68.5" stroke="#222" stroke-width="0.9"/>
<rect x="649.85" y="19.3" width="25.15" height="5.3" fill="#f7e51a"/>
<line x1="649.85" y1="19.3" x2="649.85" y2="68.5" stroke="#222" stroke-width="0.9"/>
<line x1="398.3" y1="19.3" x2="675" y2="19.3" stroke="#111" stroke-width="0.9"/>
<g font-style="italic" font-size="7.4" fill="#1a1a1a">
<text transform="translate(405.09,62) rotate(-90)">ATP4B</text>
<text transform="translate(413.48,62) rotate(-90)">MFSD4A</text>
<text transform="translate(421.86,62) rotate(-90)">ATP4A</text>
<text transform="translate(430.25,62) rotate(-90)">PGC</text>
<text transform="translate(438.63,62) rotate(-90)">LIPF</text>
<text transform="translate(447.02,62) rotate(-90)">AZGP1</text>
<text transform="translate(455.4,62) rotate(-90)">ST18</text>
<text transform="translate(463.79,62) rotate(-90)">INSM1</text>
<text transform="translate(472.17,62) rotate(-90)">ARX</text>
<text transform="translate(480.56,62) rotate(-90)">LGALS4</text>
<text transform="translate(488.94,62) rotate(-90)">VILL</text>
<text transform="translate(497.33,62) rotate(-90)">CAPN8</text>
<text transform="translate(505.71,62) rotate(-90)">NCAPG</text>
<text transform="translate(514.1,62) rotate(-90)">KIFC1</text>
<text transform="translate(522.48,62) rotate(-90)">NCAPH</text>
<text transform="translate(530.87,62) rotate(-90)">PECAM1</text>
<text transform="translate(539.25,62) rotate(-90)">CDH5</text>
<text transform="translate(547.63,62) rotate(-90)">ERG</text>
<text transform="translate(556.02,62) rotate(-90)">PCOLCE</text>
<text transform="translate(564.4,62) rotate(-90)">CLEC11A</text>
<text transform="translate(572.79,62) rotate(-90)">MMP2</text>
<text transform="translate(581.17,62) rotate(-90)">C1QB</text>
<text transform="translate(589.56,62) rotate(-90)">FCGR3A</text>
<text transform="translate(597.94,62) rotate(-90)">ITGB2</text>
<text transform="translate(606.33,62) rotate(-90)">CXCR2</text>
<text transform="translate(614.71,62) rotate(-90)">FCGR3B</text>
<text transform="translate(623.1,62) rotate(-90)">CXCR1</text>
<text transform="translate(631.48,62) rotate(-90)">CD3E</text>
<text transform="translate(639.87,62) rotate(-90)">CD2</text>
<text transform="translate(648.25,62) rotate(-90)">CD3G</text>
<text transform="translate(656.64,62) rotate(-90)">IGKC</text>
<text transform="translate(665.02,62) rotate(-90)">JCHAIN</text>
<text transform="translate(673.41,62) rotate(-90)">IGLC1</text>
</g>
<g stroke="#222" stroke-width="0.7">
<line x1="402.49" y1="64.8" x2="402.49" y2="68.5"/>
<line x1="410.88" y1="64.8" x2="410.88" y2="68.5"/>
<line x1="419.26" y1="64.8" x2="419.26" y2="68.5"/>
<line x1="427.65" y1="64.8" x2="427.65" y2="68.5"/>
<line x1="436.03" y1="64.8" x2="436.03" y2="68.5"/>
<line x1="444.42" y1="64.8" x2="444.42" y2="68.5"/>
<line x1="452.8" y1="64.8" x2="452.8" y2="68.5"/>
<line x1="461.19" y1="64.8" x2="461.19" y2="68.5"/>
<line x1="469.57" y1="64.8" x2="469.57" y2="68.5"/>
<line x1="477.96" y1="64.8" x2="477.96" y2="68.5"/>
<line x1="486.34" y1="64.8" x2="486.34" y2="68.5"/>
<line x1="494.73" y1="64.8" x2="494.73" y2="68.5"/>
<line x1="503.11" y1="64.8" x2="503.11" y2="68.5"/>
<line x1="511.5" y1="64.8" x2="511.5" y2="68.5"/>
<line x1="519.88" y1="64.8" x2="519.88" y2="68.5"/>
<line x1="528.27" y1="64.8" x2="528.27" y2="68.5"/>
<line x1="536.65" y1="64.8" x2="536.65" y2="68.5"/>
<line x1="545.03" y1="64.8" x2="545.03" y2="68.5"/>
<line x1="553.42" y1="64.8" x2="553.42" y2="68.5"/>
<line x1="561.8" y1="64.8" x2="561.8" y2="68.5"/>
<line x1="570.19" y1="64.8" x2="570.19" y2="68.5"/>
<line x1="578.57" y1="64.8" x2="578.57" y2="68.5"/>
<line x1="586.96" y1="64.8" x2="586.96" y2="68.5"/>
<line x1="595.34" y1="64.8" x2="595.34" y2="68.5"/>
<line x1="603.73" y1="64.8" x2="603.73" y2="68.5"/>
<line x1="612.11" y1="64.8" x2="612.11" y2="68.5"/>
<line x1="620.5" y1="64.8" x2="620.5" y2="68.5"/>
<line x1="628.88" y1="64.8" x2="628.88" y2="68.5"/>
<line x1="637.27" y1="64.8" x2="637.27" y2="68.5"/>
<line x1="645.65" y1="64.8" x2="645.65" y2="68.5"/>
<line x1="654.04" y1="64.8" x2="654.04" y2="68.5"/>
<line x1="662.42" y1="64.8" x2="662.42" y2="68.5"/>
<line x1="670.81" y1="64.8" x2="670.81" y2="68.5"/>
</g>
<rect x="349.6" y="68.5" width="48.7" height="276.8" fill="#fff" stroke="#111" stroke-width="0.9"/>
<rect x="349.6" y="68.5" width="6.3" height="25.16" fill="#9c1f55"/>
<rect x="349.6" y="93.66" width="6.3" height="25.16" fill="#252a7c"/>
<line x1="349.6" y1="93.66" x2="398.3" y2="93.66" stroke="#222" stroke-width="0.9"/>
<rect x="349.6" y="118.83" width="6.3" height="25.16" fill="#f4b57f"/>
<line x1="349.6" y1="118.83" x2="398.3" y2="118.83" stroke="#222" stroke-width="0.9"/>
<rect x="349.6" y="143.99" width="6.3" height="25.16" fill="#7c7f32"/>
<line x1="349.6" y1="143.99" x2="398.3" y2="143.99" stroke="#222" stroke-width="0.9"/>
<rect x="349.6" y="169.15" width="6.3" height="25.16" fill="#a3a3a3"/>
<line x1="349.6" y1="169.15" x2="398.3" y2="169.15" stroke="#222" stroke-width="0.9"/>
<rect x="349.6" y="194.32" width="6.3" height="25.16" fill="#2eb64e"/>
<line x1="349.6" y1="194.32" x2="398.3" y2="194.32" stroke="#222" stroke-width="0.9"/>
<rect x="349.6" y="219.48" width="6.3" height="25.16" fill="#f07f24"/>
<line x1="349.6" y1="219.48" x2="398.3" y2="219.48" stroke="#222" stroke-width="0.9"/>
<rect x="349.6" y="244.65" width="6.3" height="25.16" fill="#3450a0"/>
<line x1="349.6" y1="244.65" x2="398.3" y2="244.65" stroke="#222" stroke-width="0.9"/>
<rect x="349.6" y="269.81" width="6.3" height="25.16" fill="#e3a8d0"/>
<line x1="349.6" y1="269.81" x2="398.3" y2="269.81" stroke="#222" stroke-width="0.9"/>
<rect x="349.6" y="294.97" width="6.3" height="25.16" fill="#c9dcf2"/>
<line x1="349.6" y1="294.97" x2="398.3" y2="294.97" stroke="#222" stroke-width="0.9"/>
<rect x="349.6" y="320.14" width="6.3" height="25.16" fill="#f7e51a"/>
<line x1="349.6" y1="320.14" x2="398.3" y2="320.14" stroke="#222" stroke-width="0.9"/>
<g font-style="italic" font-size="7.4" fill="#1a1a1a" text-anchor="end">
<text x="393.3" y="75.29">ATP4B</text>
<text x="393.3" y="83.68">MFSD4A</text>
<text x="393.3" y="92.07">ATP4A</text>
<text x="393.3" y="100.46">PGC</text>
<text x="393.3" y="108.85">LIPF</text>
<text x="393.3" y="117.23">AZGP1</text>
<text x="393.3" y="125.62">ST18</text>
<text x="393.3" y="134.01">INSM1</text>
<text x="393.3" y="142.4">ARX</text>
<text x="393.3" y="150.78">LGALS4</text>
<text x="393.3" y="159.17">VILL</text>
<text x="393.3" y="167.56">CAPN8</text>
<text x="393.3" y="175.95">NCAPG</text>
<text x="393.3" y="184.34">KIFC1</text>
<text x="393.3" y="192.72">NCAPH</text>
<text x="393.3" y="201.11">PECAM1</text>
<text x="393.3" y="209.5">CDH5</text>
<text x="393.3" y="217.89">ERG</text>
<text x="393.3" y="226.28">PCOLCE</text>
<text x="393.3" y="234.66">CLEC11A</text>
<text x="393.3" y="243.05">MMP2</text>
<text x="393.3" y="251.44">C1QB</text>
<text x="393.3" y="259.83">FCGR3A</text>
<text x="393.3" y="268.22">ITGB2</text>
<text x="393.3" y="276.6">CXCR2</text>
<text x="393.3" y="284.99">FCGR3B</text>
<text x="393.3" y="293.38">CXCR1</text>
<text x="393.3" y="301.77">CD3E</text>
<text x="393.3" y="310.15">CD2</text>
<text x="393.3" y="318.54">CD3G</text>
<text x="393.3" y="326.93">IGKC</text>
<text x="393.3" y="335.32">JCHAIN</text>
<text x="393.3" y="343.71">IGLC1</text>
</g>
<g stroke="#222" stroke-width="0.7">
<line x1="394.4" y1="72.69" x2="398.3" y2="72.69"/>
<line x1="394.4" y1="81.08" x2="398.3" y2="81.08"/>
<line x1="394.4" y1="89.47" x2="398.3" y2="89.47"/>
<line x1="394.4" y1="97.86" x2="398.3" y2="97.86"/>
<line x1="394.4" y1="106.25" x2="398.3" y2="106.25"/>
<line x1="394.4" y1="114.63" x2="398.3" y2="114.63"/>
<line x1="394.4" y1="123.02" x2="398.3" y2="123.02"/>
<line x1="394.4" y1="131.41" x2="398.3" y2="131.41"/>
<line x1="394.4" y1="139.8" x2="398.3" y2="139.8"/>
<line x1="394.4" y1="148.18" x2="398.3" y2="148.18"/>
<line x1="394.4" y1="156.57" x2="398.3" y2="156.57"/>
<line x1="394.4" y1="164.96" x2="398.3" y2="164.96"/>
<line x1="394.4" y1="173.35" x2="398.3" y2="173.35"/>
<line x1="394.4" y1="181.74" x2="398.3" y2="181.74"/>
<line x1="394.4" y1="190.12" x2="398.3" y2="190.12"/>
<line x1="394.4" y1="198.51" x2="398.3" y2="198.51"/>
<line x1="394.4" y1="206.9" x2="398.3" y2="206.9"/>
<line x1="394.4" y1="215.29" x2="398.3" y2="215.29"/>
<line x1="394.4" y1="223.68" x2="398.3" y2="223.68"/>
<line x1="394.4" y1="232.06" x2="398.3" y2="232.06"/>
<line x1="394.4" y1="240.45" x2="398.3" y2="240.45"/>
<line x1="394.4" y1="248.84" x2="398.3" y2="248.84"/>
<line x1="394.4" y1="257.23" x2="398.3" y2="257.23"/>
<line x1="394.4" y1="265.62" x2="398.3" y2="265.62"/>
<line x1="394.4" y1="274" x2="398.3" y2="274"/>
<line x1="394.4" y1="282.39" x2="398.3" y2="282.39"/>
<line x1="394.4" y1="290.78" x2="398.3" y2="290.78"/>
<line x1="394.4" y1="299.17" x2="398.3" y2="299.17"/>
<line x1="394.4" y1="307.55" x2="398.3" y2="307.55"/>
<line x1="394.4" y1="315.94" x2="398.3" y2="315.94"/>
<line x1="394.4" y1="324.33" x2="398.3" y2="324.33"/>
<line x1="394.4" y1="332.72" x2="398.3" y2="332.72"/>
<line x1="394.4" y1="341.11" x2="398.3" y2="341.11"/>
</g>
<text x="361.2" y="64.3" font-style="italic" font-size="11.4" letter-spacing="0.3" fill="#222">Ref.T.</text>
<defs><linearGradient id="vg" x1="0" y1="1" x2="0" y2="0">
<stop offset="0" stop-color="#440154"/>
<stop offset="0.1" stop-color="#482475"/>
<stop offset="0.2" stop-color="#414487"/>
<stop offset="0.3" stop-color="#355f8d"/>
<stop offset="0.4" stop-color="#2a788e"/>
<stop offset="0.5" stop-color="#21918c"/>
<stop offset="0.6" stop-color="#22a884"/>
<stop offset="0.7" stop-color="#44bf70"/>
<stop offset="0.8" stop-color="#7ad151"/>
<stop offset="0.9" stop-color="#bddf26"/>
<stop offset="1" stop-color="#fde725"/>
</linearGradient></defs>
<rect x="682.5" y="67.9" width="6.0" height="276.8" fill="url(#vg)" stroke="#6a6a50" stroke-width="0.5"/>
<g font-size="7.5" fill="#222">
<text x="689" y="71.8">1.0</text>
<text x="689" y="148.9">0.5</text>
<text x="689" y="225.9">0</text>
<text x="689" y="303">-0.5</text>
</g>
<text x="355.8" y="16.9" font-weight="bold" font-size="19.5" fill="#111">C</text>
<rect x="31" y="378.5" width="87.2" height="37.25" fill="#f3e2e6"/>
<text x="116" y="389.7" font-size="9.9" fill="#333" text-anchor="end">i. PAC</text>
<g stroke="#222" stroke-width="0.9" fill="none">
<path d="M30.4 379.1V525.8H117.6"/>
<path d="M30.4 525.7h-2.6M30.4 511.04h-2.6M30.4 496.38h-2.6M30.4 481.72h-2.6M30.4 467.06h-2.6M30.4 452.4h-2.6M30.4 437.74h-2.6M30.4 423.08h-2.6M30.4 408.42h-2.6M30.4 393.76h-2.6M30.4 379.1h-2.6M35.2 525.8v2.6M42.86 525.8v2.6M50.52 525.8v2.6M58.18 525.8v2.6M65.84 525.8v2.6M73.5 525.8v2.6M81.16 525.8v2.6M88.82 525.8v2.6M96.48 525.8v2.6M104.14 525.8v2.6M111.8 525.8v2.6" stroke-width="0.8"/>
</g>
<defs>
<path id="di0" d="M35.3 416.5h0M35 412.2h0M35.1 410.1h0M35.3 409.1h0M34.6 408.4h0M35.8 408.3h0M35 406.9h0M35.5 406.5h0M35 405.9h0M35 405.2h0M35.8 404.9h0M34.8 404.4h0M35.6 403.6h0M35.4 403h0M34.3 402.5h0M35 402.3h0M36.1 402.2h0M34.3 401.3h0M35.3 401.2h0M36.3 401.2h0M33.4 400.3h0M33.9 400.1h0M34.4 400.1h0M35.4 400.1h0M35.6 399.8h0M36.6 399.6h0M37 399.6h0M34.6 399.4h0M35.4 398.9h0M35.9 398.5h0M33.3 398.5h0M34.6 398.4h0M35.1 398.3h0M36.2 397.9h0M36.7 397.8h0M34.2 396.4h0M35.3 396.3h0M35.9 395.9h0M33.6 395.4h0M34.2 395.3h0M34.4 395.3h0M34.9 395.1h0M35.2 394.7h0M35.9 394.6h0M36.2 394.6h0M36.9 394.6h0M34.9 393h0M35.7 393h0M34 392.3h0M34.8 392h0M35.8 391.9h0M36.5 391.5h0M34.1 391.4h0M34.7 391.2h0M35.4 390.9h0M36.3 390.7h0M35.3 389.8h0M34.6 389.1h0M35.8 388.6h0M33.7 388.5h0M34.4 388h0M35 387.7h0M36.1 387.6h0M36.8 387.6h0M34.6 387h0M35.1 386.8h0M35.9 386.7h0M33.9 385h0M34.8 385h0M35.5 385h0M36.4 384.8h0M34.4 384.5h0M35.2 384.2h0M35.8 384.2h0M35.2 382.8h0"/>
<path id="di1" d="M42.7 444.3h0M42.5 442.8h0M43.1 442.5h0M42.8 441.2h0M41.6 440.5h0M42.5 439.9h0M43.1 439.7h0M44 439.5h0M42.8 435h0M42.9 433.3h0M42.2 432.5h0M42.9 431.8h0M43.9 431.8h0M42.8 431h0M42.3 426h0M43.2 425.5h0M41.3 425.5h0M42.4 425.2h0M43.4 424.8h0M44.3 424.6h0M42.3 424.1h0M43.4 423.7h0M42.6 423.4h0M43.4 423.2h0M42.7 421.7h0M43.3 421.5h0M42.4 421.1h0M43.3 421.1h0M42.6 419.8h0M42.2 419h0M43.3 418.5h0M41.5 418.2h0M42.3 417.8h0M43.2 417.7h0M44.2 417.5h0M41.2 417.5h0M42 417.5h0M43 417h0M43.5 416.6h0M44.8 416.5h0M41.7 416.2h0M42.4 415.9h0M43.4 415.9h0M44.4 415.8h0M42.1 415.5h0M42.9 415.1h0M43.8 414.8h0M42.6 414.3h0M43.5 413.6h0M41 413.4h0M41.5 413.4h0M42.2 413.2h0M42.8 413h0M43.3 412.9h0M44 412.7h0M44.8 412.7h0M41 412.4h0M41.8 411.9h0M42.7 411.9h0M43 411.7h0M43.8 411.6h0M44.6 411.5h0M41.3 411.3h0M42 411.3h0M42.4 410.9h0M43.4 410.9h0M43.8 410.7h0M44.4 410.6h0M41 410.3h0M41.7 410.2h0M42.4 410.2h0M42.6 410h0M43.3 410h0M44.1 410h0M44.7 409.7h0M42.7 409.4h0M41.4 408.3h0M42.5 408.2h0M43.4 407.9h0M43.9 407.7h0M41.6 407h0M42.3 407h0M43.3 406.9h0M43.9 406.6h0M42.3 406.3h0M43.3 405.6h0M43.1 402.6h0"/>
<path id="di2" d="M50.6 449.5h0M50.5 443.6h0M50.6 443.2h0M50.6 441.6h0M49.9 440.2h0M50.9 440h0M49.5 438.3h0M50.1 437.8h0M51 437.8h0M51.6 437.7h0M50.6 436.6h0M50.6 435.1h0M48.7 433.4h0M49.9 432.9h0M50.5 432.9h0M51.3 432.6h0M52.3 432.6h0M50.7 431.7h0M50.3 431.3h0M51 430.7h0M49.4 430.5h0M50.5 430.2h0M51.4 429.9h0M50.7 428.9h0M49.9 426.9h0M50.9 426.9h0M50.6 425.7h0M50.2 425.3h0M50.7 424.8h0M50.3 424.3h0M50.8 424h0M49.8 423.2h0M50.7 423.2h0M51.4 423h0M49.3 422.3h0M50 422h0M50.9 421.8h0M52 421.6h0M48.9 421.4h0M49.4 421.4h0M49.9 421.1h0M50.8 421.1h0M51.3 421h0M51.9 420.9h0M52.4 420.8h0M50 420.1h0M51.1 420h0M48.9 419.3h0M49.6 419.2h0M50.1 419h0M50.7 418.7h0M51.2 418.7h0M51.7 418.6h0M52.3 418.5h0M48.6 418.5h0M49.4 418.2h0M50.3 418.2h0M50.7 417.8h0M51.5 417.7h0M52.3 417.7h0M48.8 417.4h0M49.3 417.2h0M50 417h0M50.9 416.9h0M51.6 416.8h0M52.3 416.7h0M49 416.5h0M49.6 416.4h0M49.9 416.2h0M50.7 416.1h0M51.1 415.9h0M51.7 415.8h0M52 415.7h0M48.8 415.3h0M49.9 415.2h0M50.7 414.9h0M51.3 414.9h0M52.1 414.8h0M49.9 412.3h0M50.5 412.3h0M51.6 412.3h0M50.3 410.9h0M50.6 409.9h0"/>
<path id="di3" d="M58 442.1h0M58.1 440h0M58.4 438.8h0M58.3 437.1h0M57.9 435.4h0M58.7 435.4h0M56.8 434.2h0M57.6 434h0M58.8 434h0M59.3 433.7h0M58 432.4h0M58.8 432.4h0M58 430.9h0M58.7 430.7h0M57.8 430.2h0M58.5 429.6h0M57.9 429.4h0M58.6 428.8h0M56.9 428.4h0M57.6 428.2h0M58.4 428.2h0M59.5 427.5h0M57.6 426.7h0M58.7 426.5h0M58.1 426.3h0M58 424.9h0M56.9 423.2h0M57.9 422.9h0M58.8 422.6h0M59.3 422.5h0M57.7 422.3h0M58.6 421.7h0M58.2 421.3h0M57.2 420.4h0M58.1 420.3h0M58.8 419.7h0M57.4 419.3h0M58.4 419.1h0M58.8 418.7h0M57.4 418.2h0M58.2 417.9h0M58.9 417.7h0M57.7 417.3h0M58.8 417h0M56.3 416.4h0M57.4 416.2h0M58.2 416.1h0M59.3 416h0M59.7 415.5h0M57.9 415.4h0M56.7 414.1h0M57.2 413.9h0M58.1 413.6h0M58.8 413.5h0M59.7 413.5h0M56.3 413.2h0M57.3 413h0M57.7 412.9h0M58.4 412.8h0M59.2 412.8h0M59.8 412.5h0M56.3 412h0M57.6 411.9h0M58.4 411.9h0M59.2 411.5h0M60 411.5h0M57.3 411.5h0M58.3 410.9h0M59.2 410.6h0M57 410.5h0M57.9 410.3h0M58.7 410.2h0M59.6 410.1h0M57.5 409.3h0M58.3 409.1h0M58.9 408.9h0M56.9 408.2h0M57.6 408.1h0M58.6 408.1h0M59.5 407.7h0M58 403.3h0"/>
<path id="di4" d="M65.9 464.9h0M65.6 461.8h0M66.4 461.6h0M66 458.9h0M65.9 458.2h0M65.5 456.4h0M66.1 456.3h0M65 455.5h0M65.6 455.2h0M66.7 454.8h0M64.8 452h0M66 452h0M66.9 451.8h0M65 451.4h0M66.1 451.2h0M66.5 450.9h0M65.5 450.2h0M66.2 449.6h0M64.2 449.4h0M65.1 449.3h0M66.1 449h0M66.9 449h0M67.6 448.9h0M64.3 448.5h0M64.5 448.4h0M65.1 448.1h0M65.4 448h0M66 448h0M66.1 447.9h0M66.8 447.8h0M67.3 447.7h0M67.7 447.7h0M64.4 447.3h0M65.5 447.1h0M66.4 446.9h0M67 446.6h0M64.4 446.3h0M64.9 446.2h0M65.7 446.1h0M66.8 445.8h0M67.3 445.6h0M64.2 445.5h0M64.7 445.2h0M65.5 445.1h0M65.7 445.1h0M66.4 444.8h0M66.7 444.6h0M67.5 444.6h0M65.1 444.4h0M65.7 444.2h0M66.6 443.7h0M64.3 443.4h0M64.8 443.3h0M65.4 443.2h0M66 443.2h0M66.6 442.9h0M67.7 442.8h0M65.4 442.1h0M66.2 441.7h0M63.9 441.4h0M65.1 441.2h0M66 440.8h0M66.6 440.8h0M67.5 440.5h0M65.2 440.5h0M65.7 440.4h0M66.6 440.4h0M65.8 438.6h0M65 437.5h0M65.8 437.1h0M66.9 436.8h0M66 436.2h0M65.7 434.8h0M65.6 433h0M66 431.9h0"/>
<path id="di5" d="M73.7 500.8h0M73.3 497h0M71.6 496.4h0M72.4 496.3h0M73.3 496.2h0M74 496h0M74.4 495.8h0M75 495.7h0M71.9 495.4h0M72.2 495.3h0M73.1 494.9h0M73.5 494.9h0M74.1 494.7h0M74.5 494.6h0M75.4 494.6h0M72 494.5h0M72.5 494h0M73.1 493.9h0M73.4 493.8h0M73.9 493.7h0M74.4 493.7h0M75.2 493.6h0M72.8 493.3h0M73.3 492.7h0M74.3 492.6h0M72.6 492.3h0M73.6 492.2h0M74.1 492.1h0M71.6 491.5h0M72.2 491.4h0M73 491.4h0M73.5 491.1h0M74.3 491h0M74.6 490.7h0M75.4 490.7h0M71.6 490.3h0M72.4 490h0M73.7 489.7h0M74.3 489.6h0M75 489.5h0M72.7 489.2h0M73.5 488.8h0M74.2 488.6h0M72 488.3h0M72.8 488.2h0M73.5 488h0M74.2 487.8h0M75.1 487.6h0M72.4 487.1h0M73 487.1h0M74 487h0M74.6 486.8h0M73.5 486.2h0M73.3 485.2h0M74.1 484.9h0M73.4 483.6h0M73 482.2h0M74 482h0M73.5 480.6h0M73.2 479.9h0M73.7 479.8h0M72.8 479.1h0M73.7 478.7h0M74.2 478.6h0M73.5 478.2h0M72.6 477.4h0M73.7 477.2h0M74.2 476.5h0M73.3 475.8h0M73.4 474.6h0M73.7 474.5h0M73.4 472h0M73.3 471.2h0M73.2 470h0M73.7 469.8h0M73.2 466.5h0M73.9 466h0M73 464.1h0M74.1 464.1h0M73.4 462.7h0"/>
<path id="di6" d="M81.1 507.4h0M80.5 505.9h0M81.6 505.6h0M80.5 504.7h0M81.4 504.7h0M82.2 504.6h0M80.2 504.5h0M81.2 504.3h0M81.9 503.8h0M79.9 503.3h0M81 503.1h0M81.6 502.9h0M82.5 502.5h0M80.3 502.2h0M81.2 502.1h0M82 501.6h0M79.2 501.4h0M80.2 501.4h0M81.3 501.2h0M82 500.9h0M83 500.6h0M79.3 500h0M79.9 500h0M80.9 499.9h0M81.5 499.8h0M82.2 499.8h0M83 499.5h0M79.3 499.5h0M80.2 499.5h0M80.8 499.3h0M81.4 499.3h0M81.9 499.3h0M82.2 498.8h0M83 498.6h0M79.7 498.2h0M80.5 498.1h0M81.4 498.1h0M82.1 497.6h0M82.7 497.5h0M79.7 497.3h0M80.8 497.1h0M81.8 496.7h0M82.4 496.7h0M80.7 496.2h0M81.7 495.5h0M80.1 495.3h0M81.1 495.3h0M81.9 494.9h0M80.2 494.3h0M81 493.8h0M82.2 493.8h0M80.1 493.4h0M80.9 493.1h0M81.8 492.6h0M82.4 492.5h0M81.1 491.2h0M81.4 490h0M81 488.6h0M80.5 487.5h0M81.6 487.2h0M80.9 486.4h0M81.6 486.2h0M80.3 485.4h0M81.2 485.1h0M82 484.7h0M80.8 484.4h0M81.5 484.3h0M80.1 483.4h0M81.2 483.3h0M82.1 482.8h0M80.4 482.3h0M81.2 481.9h0M81.8 481.7h0M81.3 477.7h0M81 477.3h0"/>
<path id="di7" d="M89 490.5h0M88.2 488.2h0M89.3 488.1h0M88.9 487.3h0M87.2 486.1h0M88 486.1h0M89 485.7h0M89.9 485.7h0M90.5 485.5h0M87.1 485.5h0M87.7 485.4h0M88.7 484.9h0M89.1 484.7h0M90.1 484.7h0M90.3 484.6h0M87.4 484.3h0M87.7 484.3h0M88.3 483.9h0M88.9 483.8h0M90 483.7h0M90.5 483.7h0M87.2 483.4h0M87.8 483.3h0M88.7 483.1h0M89.2 483h0M90 482.8h0M90.4 482.7h0M87.7 482.3h0M88.2 482.3h0M89.5 482.3h0M89.9 481.8h0M88.4 481.4h0M89.1 480.9h0M87.4 480.3h0M88.4 480.3h0M89 479.9h0M90 479.8h0M87 477.9h0M88.1 477.9h0M89 477.9h0M89.7 477.8h0M90.6 477.5h0M87.9 477.4h0M88.6 477.2h0M89.8 476.8h0M87.5 476.2h0M88.4 476.2h0M89.5 476h0M90.3 475.5h0M88.7 475h0M88.6 473.8h0M89.4 473.6h0M87.9 473.4h0M88.9 472.9h0M89.9 472.9h0M88.4 472.4h0M89.2 472.1h0M88.8 471.1h0M87.7 470.1h0M88.2 470h0M89.1 469.6h0M90.1 469.6h0M88.2 467.4h0M88.9 467.2h0M89.7 466.9h0M87.7 466.3h0M88.2 466h0M89.3 466h0M90.2 465.9h0M87.4 464.1h0M88.3 464h0M89.2 464h0M90.2 463.7h0M88.6 461.3h0M89 460.8h0M88.1 459h0M88.9 458.9h0M89.9 458.5h0M88.4 456.9h0M89.4 456.6h0M87.6 455.3h0M88.2 455h0M89.3 454.9h0M90.2 454.9h0M89 453.6h0M88.7 449.5h0"/>
<path id="di8" d="M96.2 480.3h0M96.9 479.8h0M96.1 479.4h0M96.9 478.8h0M96.6 478h0M94.8 477.4h0M95.3 477.1h0M95.8 477.1h0M96.2 477.1h0M96.8 477h0M97.1 477h0M97.8 476.7h0M98.3 476.6h0M96 476h0M96.7 475.8h0M95.3 475.1h0M96.1 475.1h0M96.7 474.8h0M97.8 474.6h0M94.9 474.1h0M95.6 473.8h0M96.2 473.6h0M97.3 473.6h0M98.1 473.6h0M94.7 473.5h0M95.2 473.2h0M95.7 473.1h0M96.1 473h0M96.5 472.9h0M97.4 472.5h0M97.5 472.5h0M98.1 472.5h0M94.6 472.4h0M95.3 471.8h0M96.1 471.8h0M96.8 471.8h0M97.5 471.8h0M98.1 471.5h0M95.2 471.3h0M95.8 471.2h0M96.9 471h0M97.6 470.6h0M95.7 470.2h0M96.3 470.1h0M97.1 469.9h0M95.5 469.2h0M96.5 469h0M97.3 468.9h0M95 467.4h0M95.8 467.2h0M96.5 467h0M97.5 466.6h0M98 466.6h0M95.1 466.4h0M95.9 466.1h0M97.1 466h0M97.6 465.6h0M95.6 465.5h0M96.3 465.2h0M97.5 465.2h0M96.5 463.2h0M95.9 461.7h0M97.1 461.6h0M96.2 460.6h0M97 460.5h0M95.7 460.2h0M96.5 459.7h0M97.4 459.6h0M96.3 459.5h0M96 458.2h0M96.8 458h0M96.6 457.5h0M96.1 455.6h0M97.1 455.5h0M96.3 454.6h0"/>
<path id="di9" d="M104.4 441.4h0M103.9 440.3h0M104.3 438.6h0M103.7 437.3h0M104.5 437.1h0M103.8 435.4h0M104.5 434.6h0M104.3 434.1h0M104 432.8h0M104.5 432.7h0M103.5 432.4h0M104.5 432.1h0M104.1 430.9h0M104 430h0M102.8 428.3h0M103.6 428h0M104.7 427.8h0M105.5 427.7h0M103.2 427h0M104 427h0M104.9 426.8h0M103.5 426.1h0M103.9 426h0M104.8 425.5h0M104 425.4h0M102.3 424.5h0M103.3 424.5h0M104.2 424.3h0M105.2 423.8h0M105.6 423.6h0M102.6 423.5h0M103.3 423.5h0M104.3 423.4h0M105.1 423.1h0M105.7 422.7h0M102.5 421.9h0M102.9 421.9h0M103.8 421.6h0M104.4 421.6h0M105.2 421.6h0M105.9 421.5h0M102.5 421.5h0M103 421.4h0M103.6 421.3h0M104.7 421.2h0M105.3 420.9h0M105.9 420.8h0M102.4 420.3h0M103.2 420.2h0M103.9 420.2h0M105.1 419.7h0M105.7 419.7h0M102.3 419.5h0M103.2 419.5h0M104.3 419.4h0M104.9 419h0M106.1 418.7h0M104.2 418h0M103 417.2h0M103.9 416.8h0M104.5 416.7h0M105.5 416.6h0M103 415h0M103.9 414.9h0M104.5 414.9h0M105.5 414.8h0M103.1 414.1h0M104.1 414h0M105.1 413.8h0M103.3 413.4h0M104.1 413.1h0M104.9 413h0M104 412.5h0M103.9 410.7h0M104.2 409.9h0"/>
<path id="di10" d="M112 441.4h0M112 438.3h0M111.9 437.4h0M112 433.7h0M111.2 432.1h0M112 431.9h0M111.7 430.9h0M110.8 430.2h0M112 430.2h0M112.5 429.9h0M111.6 428.7h0M112.3 428.6h0M111.9 428.4h0M111.6 427h0M112.3 427h0M111.4 426.1h0M112 425.5h0M111.9 425h0M111.8 423.5h0M109.9 422.4h0M110.8 422.3h0M112 421.9h0M112.6 421.9h0M113.6 421.6h0M111.3 421.2h0M112 420.7h0M111.2 419.6h0M112.5 419.6h0M110.2 419.1h0M110.8 418.8h0M111.6 418.7h0M112.5 418.6h0M113.4 418.6h0M111.7 417.9h0M110.3 417.4h0M110.5 417.3h0M111.3 417.1h0M111.7 416.8h0M112.3 416.8h0M113 416.8h0M113.3 416.6h0M111.3 416.2h0M112.2 416h0M110 415.4h0M110.7 415.4h0M111.8 415.4h0M112.5 414.6h0M113.7 414.6h0M109.9 414.3h0M110.8 414.3h0M111.5 414.1h0M112.2 413.8h0M112.7 413.6h0M113.7 413.5h0M110.6 413.5h0M111.4 413.3h0M112.3 412.8h0M112.9 412.6h0M110.6 412.3h0M111.5 412.2h0M112.3 412h0M112.8 411.7h0M110.4 411.4h0M111.2 411.3h0M112.3 411.1h0M113.3 410.9h0M111 410.1h0M111.6 409.8h0M112.7 409.5h0M111.7 408.6h0M110.6 408.4h0M111.5 408.2h0M112.3 408.2h0M112.9 407.8h0M111.9 406.2h0"/>
</defs>
<g fill="none" stroke-linecap="round">
<use href="#di0" stroke="#1c1c1c" stroke-width="2.4"/>
<use href="#di1" stroke="#1c1c1c" stroke-width="2.4"/>
<use href="#di2" stroke="#1c1c1c" stroke-width="2.4"/>
<use href="#di3" stroke="#1c1c1c" stroke-width="2.4"/>
<use href="#di4" stroke="#1c1c1c" stroke-width="2.4"/>
<use href="#di5" stroke="#1c1c1c" stroke-width="2.4"/>
<use href="#di6" stroke="#1c1c1c" stroke-width="2.4"/>
<use href="#di7" stroke="#1c1c1c" stroke-width="2.4"/>
<use href="#di8" stroke="#1c1c1c" stroke-width="2.4"/>
<use href="#di9" stroke="#1c1c1c" stroke-width="2.4"/>
<use href="#di10" stroke="#1c1c1c" stroke-width="2.4"/>
<g opacity="0.42">
<use href="#di0" stroke="#6a2040" stroke-width="0.6"/>
<use href="#di1" stroke="#2a2d68" stroke-width="0.6"/>
<use href="#di2" stroke="#a08060" stroke-width="0.6"/>
<use href="#di3" stroke="#5e5e2a" stroke-width="0.6"/>
<use href="#di4" stroke="#6a6a6a" stroke-width="0.6"/>
<use href="#di5" stroke="#2a6a38" stroke-width="0.6"/>
<use href="#di6" stroke="#9a5a20" stroke-width="0.6"/>
<use href="#di7" stroke="#2a3a70" stroke-width="0.6"/>
<use href="#di8" stroke="#987088" stroke-width="0.6"/>
<use href="#di9" stroke="#8a98aa" stroke-width="0.6"/>
<use href="#di10" stroke="#948a22" stroke-width="0.6"/>
</g>
</g>
<path d="M30.4 452.4h86.5" stroke="#111" stroke-width="0.9"/>
<g font-size="7.6" fill="#333" text-anchor="end">
<text transform="translate(37.9,528.3) rotate(-90)">PAC</text>
<text transform="translate(45.56,528.3) rotate(-90)">CC</text>
<text transform="translate(53.22,528.3) rotate(-90)">GEEC</text>
<text transform="translate(60.88,528.3) rotate(-90)">GMC</text>
<text transform="translate(68.54,528.3) rotate(-90)">MTC</text>
<text transform="translate(76.2,528.3) rotate(-90)">EC</text>
<text transform="translate(83.86,528.3) rotate(-90)">FB</text>
<text transform="translate(91.52,528.3) rotate(-90)">MC</text>
<text transform="translate(99.18,528.3) rotate(-90)">NP</text>
<text transform="translate(106.84,528.3) rotate(-90)">TC</text>
<text transform="translate(114.5,528.3) rotate(-90)">PC</text>
</g>
<g font-size="7.4" fill="#333" text-anchor="end">
<text x="27.1" y="528.3">-1.0</text>
<text x="27.1" y="513.64">-0.8</text>
<text x="27.1" y="498.98">-0.6</text>
<text x="27.1" y="484.32">-0.4</text>
<text x="27.1" y="469.66">-0.2</text>
<text x="27.1" y="455">0.0</text>
<text x="27.1" y="440.34">0.2</text>
<text x="27.1" y="425.68">0.4</text>
<text x="27.1" y="411.02">0.6</text>
<text x="27.1" y="396.36">0.8</text>
<text x="27.1" y="381.7">1.0</text>
</g>
<rect x="127" y="378.5" width="87.2" height="37.25" fill="#e4e6f0"/>
<text x="212" y="389.7" font-size="9.9" fill="#333" text-anchor="end">ii. CC</text>
<g stroke="#222" stroke-width="0.9" fill="none">
<path d="M126.4 379.1V525.8H213.6"/>
<path d="M126.4 525.7h-2.6M126.4 511.04h-2.6M126.4 496.38h-2.6M126.4 481.72h-2.6M126.4 467.06h-2.6M126.4 452.4h-2.6M126.4 437.74h-2.6M126.4 423.08h-2.6M126.4 408.42h-2.6M126.4 393.76h-2.6M126.4 379.1h-2.6M131.2 525.8v2.6M138.86 525.8v2.6M146.52 525.8v2.6M154.18 525.8v2.6M161.84 525.8v2.6M169.5 525.8v2.6M177.16 525.8v2.6M184.82 525.8v2.6M192.48 525.8v2.6M200.14 525.8v2.6M207.8 525.8v2.6" stroke-width="0.8"/>
</g>
<defs>
<path id="dii0" d="M131.4 443.6h0M131.4 440.2h0M131.3 438.1h0M131.3 436.8h0M130.8 434.8h0M131.5 434.8h0M130.9 434.4h0M131.5 434.3h0M131.3 432.5h0M131.2 431.6h0M130.4 431.2h0M131.4 431h0M132 430.7h0M131.3 430.5h0M131 428.7h0M130.7 428.2h0M131.4 427.6h0M131.1 427.2h0M131.3 422.8h0M131.2 421.8h0M131.4 420.8h0M130.4 420.3h0M131.2 420.2h0M132.1 419.6h0M131.4 418.9h0M130.5 416.1h0M131.1 415.6h0M132.2 415.5h0M129.5 415.3h0M130.1 415.2h0M131.3 414.8h0M132.2 414.8h0M132.7 414.8h0M129.4 414.5h0M130.2 414.2h0M131.2 414.1h0M132 414h0M132.9 413.6h0M130 413.3h0M130.5 413.2h0M131.5 412.8h0M132.7 412.7h0M129.7 412.2h0M130.2 412.1h0M130.9 411.8h0M131.4 411.8h0M132.3 411.8h0M133.1 411.6h0M129.5 411.5h0M130.1 411.3h0M130.2 411.2h0M130.8 411.2h0M131.3 411.1h0M131.5 410.9h0M132.1 410.8h0M132.5 410.6h0M132.9 410.6h0M129.4 410.2h0M130.1 410.1h0M130.7 410.1h0M131.4 409.8h0M132 409.7h0M132.9 409.7h0M129.3 409.4h0M130 409.3h0M130.6 409.2h0M130.6 409h0M131 408.8h0M131.6 408.7h0M132.2 408.6h0M132.6 408.6h0M132.8 408.5h0M129.5 408.3h0M130.6 407.8h0M131 407.8h0M132.2 407.7h0M132.7 407.6h0M130.2 407.5h0M130.8 407.4h0M131.5 407.3h0M132.5 406.9h0M131.3 406h0M130.6 405.4h0M131.6 404.6h0M131.4 404.4h0M131 402.6h0"/>
<path id="dii1" d="M138.9 416.5h0M139 414.2h0M139 410.6h0M138.8 410.5h0M139 409.5h0M139.1 407.8h0M138.6 406.9h0M138.9 406h0M138.9 404.5h0M139.1 403.8h0M137.3 403.2h0M138.6 403.1h0M139.1 403.1h0M140.4 402.5h0M138.8 402h0M137.4 401.3h0M138.3 401h0M139.1 400.5h0M140.1 400.5h0M138.2 400.4h0M139.1 399.8h0M139.7 399.6h0M137.9 399.4h0M139 398.6h0M139.6 398.6h0M137.4 398.4h0M138.4 398.3h0M139.3 398.2h0M140 397.5h0M137.1 397.4h0M137.6 397.3h0M138.1 397.2h0M138.6 397.1h0M139.1 397h0M139.6 396.8h0M139.8 396.5h0M140.6 396.5h0M138.3 396.5h0M139.4 395.7h0M137.4 395.5h0M138.1 394.8h0M138.9 394.6h0M139.7 394.6h0M140.8 394.5h0M137.2 394.4h0M137.6 394.1h0M138.4 394.1h0M139.1 393.9h0M139.9 393.7h0M140.6 393.6h0M137 393.4h0M137.7 393.4h0M138.7 393.4h0M139 393.1h0M139.8 393h0M140.5 392.9h0M137.5 392.4h0M138.5 392h0M139.1 392h0M140 391.7h0M137.2 391.1h0M137.9 391.1h0M139.1 390.9h0M139.7 390.8h0M140.6 390.7h0M137.4 390.4h0M138.2 390.2h0M139.1 389.9h0M139.6 389.7h0M140.4 389.7h0M138.1 389.5h0M138.6 389.3h0M139.9 388.5h0M139.1 386.7h0M138.8 384.2h0"/>
<path id="dii2" d="M145.9 433.3h0M147.2 432.8h0M145.6 431.1h0M146.4 431h0M147.6 430.9h0M146 429.4h0M146.8 428.9h0M145.9 428.1h0M146.8 427.9h0M146.4 427.3h0M145.6 426.4h0M146.3 426.2h0M147.2 425.8h0M145.8 424.5h0M146.3 424.2h0M147.6 423.6h0M146.6 422.8h0M146.6 421.6h0M146.2 421.5h0M147 421.4h0M146.3 420.1h0M146.8 420.1h0M146.3 419.2h0M147.1 419.1h0M145.8 418.3h0M147.2 418.3h0M146.2 417.1h0M147.1 416.6h0M146.3 415.6h0M146.6 414.9h0M145.1 414.1h0M146 413.7h0M146.8 413.6h0M147.8 413.6h0M145.7 413.3h0M146.7 413.1h0M147.4 412.9h0M145.3 412.4h0M146 412.3h0M147.1 412h0M147.8 411.6h0M144.6 411.4h0M145.6 411.3h0M146.5 411.3h0M147.6 411.2h0M148.2 411h0M145.5 410.4h0M146.6 410.1h0M147.2 409.8h0M145.5 409.5h0M146.2 409.3h0M147.1 409.3h0M147.7 409h0M145 408.3h0M145.3 408.3h0M146.3 408.2h0M146.7 408.1h0M147.6 407.9h0M148 407.8h0M145.1 407h0M146.2 406.9h0M146.9 406.8h0M147.9 406.7h0M145.1 406.5h0M146 406.1h0M146.8 406h0M148 405.8h0M146 404.8h0M147.1 404.6h0M145 404.3h0M145.5 404h0M146.7 403.8h0M147.4 403.7h0M148 403.5h0M146.4 402.6h0"/>
<path id="dii3" d="M153.8 455.3h0M154.8 454.6h0M154.3 449.5h0M154.2 448.2h0M154.1 444.4h0M154 442.9h0M154 442.2h0M154.5 441.5h0M154.2 439.9h0M154.1 438h0M152.9 437.3h0M153.6 437.2h0M154.4 437h0M155.3 436.9h0M154 435.2h0M154.2 433.7h0M154.1 433.2h0M154.4 430.9h0M154.3 429.6h0M153.7 429.1h0M154.5 428.7h0M153.1 428.1h0M154.2 427.9h0M154.9 427.9h0M152.7 427.1h0M153.6 427h0M154.8 426.9h0M155.3 426.5h0M152.5 426.4h0M153.1 426.4h0M153.6 426.3h0M154.1 426.3h0M154.6 426.2h0M154.9 426h0M155.5 425.9h0M155.8 425.6h0M152.7 425h0M153.9 424.9h0M154.7 424.7h0M155.3 424.6h0M152.6 424.4h0M152.7 424.4h0M153.1 424.3h0M153.4 424.2h0M153.8 424h0M154.5 423.9h0M154.5 423.8h0M155.3 423.7h0M155.7 423.7h0M155.7 423.7h0M152.5 423.4h0M152.7 423.4h0M153.2 423.3h0M153.8 423.3h0M154.4 423.2h0M154.5 422.7h0M154.9 422.5h0M155.3 422.5h0M156 422.5h0M152.6 422.2h0M152.9 422.2h0M153.2 422.1h0M153.8 422.1h0M154.1 422h0M154.5 422h0M155.3 421.7h0M155.3 421.6h0M156 421.5h0M152.5 421.2h0M153 421.1h0M153.9 421.1h0M154.5 421h0M155.2 420.8h0M155.9 420.6h0M152.6 420.4h0M153.3 420.3h0M153.8 420h0M154.7 420h0M155.2 419.8h0M155.7 419.7h0M153 419.3h0M153.7 419.2h0M154.8 419.1h0M155.5 418.7h0M153.6 418.4h0M154 418.3h0M155 417.6h0M154 417.3h0M153.2 416.3h0M154.4 415.9h0M154.8 415.6h0M153.1 415.4h0M154.4 414.9h0M154.8 414.9h0M154 413.7h0M153.7 413.2h0M154.5 413h0M154.1 412.2h0M154 410.7h0M154.2 409.9h0M154.4 407h0"/>
<path id="dii4" d="M162 465.6h0M161.7 463.5h0M161.7 459.9h0M162 459.4h0M161 458h0M161.6 457.8h0M162.8 457.6h0M161.6 456.1h0M162.5 456h0M160.2 455.2h0M160.8 455.1h0M161.9 455.1h0M162.5 454.8h0M163.8 454.7h0M161.2 454.1h0M162.3 453.6h0M161.1 453.1h0M161.9 453h0M162.6 452.8h0M161.9 451.7h0M161.8 450.8h0M160.2 450.5h0M160.7 450.4h0M161.9 450.4h0M162.8 450.2h0M163.3 450.2h0M161.5 449.2h0M162.3 448.6h0M160.4 448.5h0M161 448.4h0M161.7 448.1h0M162.6 448h0M163.7 447.7h0M161.5 446.8h0M162.4 446.7h0M160.1 446.5h0M160.8 446.3h0M161.6 446.1h0M162.4 446h0M162.8 445.9h0M163.7 445.8h0M162 445.5h0M160.2 444.5h0M160.6 444.4h0M161.3 444.4h0M162 444.3h0M162.2 444.2h0M163 443.8h0M163.5 443.7h0M160.3 443.2h0M161 443h0M162.1 443h0M162.8 442.8h0M163.6 442.8h0M161.1 442.3h0M162.1 442h0M162.8 441.6h0M161.2 441.5h0M162.1 441.3h0M162.6 440.9h0M160.9 440.2h0M161.7 440.2h0M162.9 440h0M161.6 439.1h0M162.1 439.1h0M161.9 437.9h0M161.4 437.2h0M162.3 436.9h0M161.6 435.4h0M162.4 434.8h0M160.5 433.3h0M161.4 433.3h0M162.2 433.1h0M163 432.5h0M161.7 431.8h0M161.5 431.2h0M162.4 431h0M161.9 429.6h0M161.3 429.1h0M162.5 429h0M161.7 427.6h0M161.6 427h0M161.6 425.9h0M162.1 425.3h0"/>
<path id="dii5" d="M169.5 497.8h0M168.7 496h0M169.6 496h0M170.4 495.5h0M169.5 495.3h0M169.3 494.2h0M170 493.7h0M168.7 493.3h0M169.3 492.6h0M170.1 492.6h0M167.7 492.5h0M168.1 492.1h0M168.9 492h0M169.4 492h0M169.9 491.9h0M170.5 491.7h0M171.4 491.6h0M168.8 491.1h0M169.5 490.8h0M170.5 490.8h0M168.5 490.3h0M169.1 490h0M170 489.9h0M171 489.8h0M168.5 489.3h0M169.6 489.2h0M170.5 488.6h0M168 488.2h0M168.1 488.1h0M168.6 488.1h0M169.1 488h0M169.5 487.9h0M170.1 487.8h0M171 487.7h0M171 487.6h0M168.8 487.2h0M169.6 487h0M170.4 486.9h0M167.9 486.5h0M168.6 486.4h0M168.8 486.4h0M169.3 486.2h0M170.1 485.7h0M170.7 485.6h0M171.1 485.6h0M168.4 484.9h0M169.1 484.8h0M170 484.8h0M170.9 484.8h0M169.4 483.9h0M168.5 483.1h0M169.3 482.8h0M170.3 482.5h0M169 482.3h0M169.7 482.1h0M168.9 481.5h0M169.9 481h0M169.5 479.7h0M169.7 478.6h0M169.6 477.8h0M169 477.1h0M170.1 476.9h0M169.5 475.8h0M168.9 475.5h0M170.1 475.1h0M169.6 474.2h0M169.3 473h0M169.3 470.7h0M168.9 468h0M170.2 467.6h0M168.6 466.9h0M169.5 466.7h0M170.2 466.7h0M169.4 464.8h0M168.9 464.5h0M169.7 464.4h0M170.5 463.8h0M169.7 463h0M168.5 462.3h0M169.7 462h0M170.5 461.8h0M169.3 461.5h0M169.3 458.3h0"/>
<path id="dii6" d="M177.1 500h0M176.9 499.2h0M176 498.3h0M176.5 498.2h0M177.4 497.9h0M178.4 497.6h0M176.2 497.1h0M177.3 497h0M178.2 496.6h0M176 496.3h0M176.5 496h0M177.7 495.9h0M178.7 495.8h0M176.1 495.2h0M176.8 495.1h0M177.8 495.1h0M178.4 494.7h0M175.9 494.4h0M176.7 494.1h0M177.4 493.8h0M178.4 493.5h0M175.6 493.3h0M176 493.2h0M176.8 493.1h0M177.6 492.9h0M178.2 492.7h0M178.9 492.5h0M176.1 492.5h0M177.1 492.3h0M178.1 491.8h0M175.5 491.1h0M175.9 491h0M176.7 491h0M177.7 490.9h0M178.4 490.6h0M178.9 490.5h0M175.6 490.4h0M176 490.2h0M177.1 489.8h0M177.7 489.7h0M178.3 489.6h0M178.8 489.6h0M175.9 489h0M176.9 488.9h0M177.4 488.6h0M178.4 488.5h0M176.8 488h0M177.5 488h0M175.9 487.4h0M176.6 487.2h0M177.8 486.8h0M178.4 486.6h0M176.1 486.2h0M177.1 485.9h0M178.1 485.7h0M176.2 484.5h0M177.2 484.3h0M178 484.3h0M176.9 483.1h0M177.4 482.7h0M176.5 482.1h0M177.4 481.7h0M177.8 481.6h0M176.6 481.3h0M177.7 480.7h0M177.1 479.2h0M177.3 478.2h0M177.1 477.4h0M176.5 476.5h0M177.3 475.8h0M177.9 475.6h0M176.7 474.8h0M177.7 474.8h0M177.2 470.5h0M176.9 470.4h0M177.4 469.1h0M177.3 468h0M176.7 465.4h0M177.6 465.2h0M177.1 463h0M176.9 461.3h0M177.4 461.1h0M176.9 460h0M177.4 459.6h0M176.5 459.3h0M177.5 459h0"/>
<path id="dii7" d="M184.9 497.1h0M184.6 493h0M185.4 492.5h0M184.7 492.4h0M184.5 491.4h0M185.3 491.2h0M183.1 490.1h0M183.8 490.1h0M184.8 489.8h0M185.8 489.8h0M186.4 489.6h0M182.9 489.2h0M183.7 489.2h0M184.5 489.1h0M185.1 489h0M185.6 488.9h0M186.7 488.6h0M183 488.4h0M183.9 488.1h0M184.3 488h0M184.8 488h0M185.3 487.9h0M186.1 487.7h0M186.3 487.7h0M182.9 487.5h0M184.2 487.4h0M184.6 487h0M185.9 486.8h0M186.7 486.7h0M183.8 486.4h0M184.9 486.4h0M185.4 485.8h0M184.2 484.8h0M184.6 484.8h0M185.8 484.6h0M184.1 484.4h0M184.9 484.1h0M185.8 483.6h0M183.5 483.4h0M184.2 483h0M185.2 482.8h0M186 482.5h0M183.7 482.2h0M184.9 482h0M185.9 481.7h0M182.9 481.5h0M184 481h0M184.4 481h0M185 480.9h0M186.1 480.8h0M186.6 480.6h0M184.7 479.8h0M184.2 479.5h0M185 479h0M184.8 478.3h0M184.6 477.4h0M184.6 476.2h0M184 474.4h0M185 474.1h0M185.4 473.9h0M184.7 471.6h0M184.7 470.5h0M183.8 468.9h0M184.8 468.9h0M185.8 468.6h0M184.3 468.4h0M185 468.3h0M184.1 467.4h0M184.7 467.1h0M185.6 466.7h0M184 465.4h0M184.9 464.9h0M185.7 464.9h0M184.4 463.7h0M185.3 463.6h0M184.7 462.8h0M184.5 461.4h0M185.1 460.5h0M184.6 460.5h0M185.4 460.3h0M184.7 458.9h0M184.7 458.4h0M183.8 457.4h0M184.9 457.4h0M185.8 457h0M184.8 456.1h0"/>
<path id="dii8" d="M192.4 475.1h0M191.6 474.4h0M192.3 474.1h0M193.3 473.9h0M192.3 473.3h0M192.8 472.9h0M192.4 471.7h0M191.7 471h0M192.7 470.7h0M193.5 470.7h0M191 470.3h0M192.2 470h0M193 469.9h0M193.8 469.6h0M192.1 469.2h0M192.7 468.8h0M192 468.4h0M193 467.8h0M190.7 467.4h0M191.5 467.1h0M192.2 467h0M193.1 466.9h0M193.4 466.6h0M194 466.6h0M191 466.2h0M191.9 465.8h0M192.7 465.8h0M193.7 465.6h0M190.6 465.1h0M191.5 465h0M192.5 465h0M193.5 464.9h0M194.4 464.7h0M190.9 464.3h0M191.5 464.2h0M192 464h0M192.7 464h0M193.1 463.8h0M193.5 463.8h0M194.1 463.5h0M191.6 463.2h0M192.3 462.8h0M193.4 462.5h0M190.7 462.3h0M191.6 462.2h0M192.3 462.2h0M193.4 462h0M194 461.7h0M192.2 461.2h0M193 460.8h0M191.7 460h0M192.4 459.9h0M193.1 459.7h0M191.4 459.4h0M192.6 459.2h0M193.3 458.6h0M190.7 458.2h0M191.3 458h0M192.3 457.9h0M192.8 457.9h0M193.7 457.7h0M194.2 457.7h0M192.7 456.9h0M192.6 455.8h0M192.3 455h0M192.4 453.8h0M191.8 451.5h0M193 451.5h0M192.3 451.3h0M191.5 449.4h0M192.4 449h0M193.3 448.7h0M192.4 445.9h0M192.3 444.9h0M192.5 443.6h0"/>
<path id="dii9" d="M200 450.2h0M199.6 447.2h0M200.4 446.7h0M200.1 444.6h0M200 442.7h0M200.2 441.6h0M199.6 440.4h0M200.7 440.1h0M200.1 438.1h0M199.2 437.3h0M200.2 436.9h0M201.2 436.8h0M200.3 436.2h0M199.9 435.4h0M199.6 434.2h0M200.5 433.7h0M199.9 433.1h0M200.3 432.8h0M200.3 431.7h0M199.6 431.2h0M200.5 430.8h0M199.3 430.5h0M200.3 429.5h0M201.2 429.5h0M199.3 429.4h0M200.1 429.4h0M201 428.8h0M198.3 428.5h0M199 428.3h0M199.8 428h0M200.4 428h0M201.3 427.7h0M201.9 427.7h0M198.4 427.5h0M199 427.1h0M199.9 427h0M200.7 426.8h0M201 426.6h0M201.7 426.5h0M198.9 426h0M199.9 425.9h0M200.8 425.7h0M201.4 425.5h0M198.5 425.4h0M199.4 425.3h0M200.3 425.2h0M200.8 425h0M201.9 424.7h0M199.7 424.2h0M200.7 423.9h0M198.6 423.4h0M199.2 423.2h0M200 423.2h0M200.5 422.9h0M201.2 422.7h0M201.9 422.6h0M198.9 422.4h0M199.6 422.3h0M200.6 422h0M201.6 421.7h0M198.4 421.4h0M199.4 421.3h0M200 421.3h0M201.1 420.9h0M201.8 420.8h0M199.2 420.3h0M200.4 419.9h0M200.8 419.7h0M199.4 419.3h0M200.3 419h0M201 418.9h0M199.8 418.2h0M200.4 418.2h0M199.9 417.1h0M200.6 417.1h0M199.9 415.3h0M200.7 414.9h0M200.2 412.8h0"/>
<path id="dii10" d="M207.1 449.5h0M207.8 449h0M208.6 448.9h0M207.6 445.3h0M205.9 443.2h0M206.8 442.8h0M207.8 442.8h0M208.4 442.7h0M209.7 442.6h0M207.6 441.4h0M208.4 440.6h0M206.9 440.5h0M207.8 439.7h0M208.5 439.5h0M208 439.4h0M208 436.6h0M207.9 435.3h0M207.4 434.1h0M208.1 433.7h0M207.4 433.2h0M208.5 432.9h0M207.3 432.2h0M208.1 431.9h0M207.2 431.4h0M208.2 430.6h0M206.2 429.4h0M206.8 429h0M207.3 428.9h0M208.2 428.8h0M208.9 428.7h0M209.4 428.6h0M207.3 428.4h0M208.4 427.7h0M207.3 427.5h0M208.2 426.9h0M206.5 426.5h0M207.5 426.3h0M208.1 425.9h0M208.8 425.5h0M207.5 425.2h0M208.1 425h0M207.9 423.9h0M207 422h0M207.8 421.9h0M208.5 421.6h0M206.1 421h0M206.8 421h0M207.7 420.9h0M208.6 420.9h0M209.6 420.8h0M206.8 420.2h0M207.8 419.7h0M208.4 419.5h0M206.1 419.3h0M206.5 419.3h0M206.9 419.2h0M207.3 419.2h0M208 418.8h0M208.5 418.8h0M209.1 418.6h0M209.5 418.5h0M207.2 418.2h0M208.3 417.6h0M207.1 417.5h0M207.6 417.4h0M208.5 417.2h0M206.7 416.2h0M207.5 416h0M208.4 415.6h0M208.9 415.5h0M208 415.2h0M207.4 414.2h0M208 413.5h0M206.4 413.2h0M207.4 413.2h0M208.3 413h0M208.9 412.8h0M208 412.1h0"/>
</defs>
<g fill="none" stroke-linecap="round">
<use href="#dii0" stroke="#1c1c1c" stroke-width="2.4"/>
<use href="#dii1" stroke="#1c1c1c" stroke-width="2.4"/>
<use href="#dii2" stroke="#1c1c1c" stroke-width="2.4"/>
<use href="#dii3" stroke="#1c1c1c" stroke-width="2.4"/>
<use href="#dii4" stroke="#1c1c1c" stroke-width="2.4"/>
<use href="#dii5" stroke="#1c1c1c" stroke-width="2.4"/>
<use href="#dii6" stroke="#1c1c1c" stroke-width="2.4"/>
<use href="#dii7" stroke="#1c1c1c" stroke-width="2.4"/>
<use href="#dii8" stroke="#1c1c1c" stroke-width="2.4"/>
<use href="#dii9" stroke="#1c1c1c" stroke-width="2.4"/>
<use href="#dii10" stroke="#1c1c1c" stroke-width="2.4"/>
<g opacity="0.42">
<use href="#dii0" stroke="#6a2040" stroke-width="0.6"/>
<use href="#dii1" stroke="#2a2d68" stroke-width="0.6"/>
<use href="#dii2" stroke="#a08060" stroke-width="0.6"/>
<use href="#dii3" stroke="#5e5e2a" stroke-width="0.6"/>
<use href="#dii4" stroke="#6a6a6a" stroke-width="0.6"/>
<use href="#dii5" stroke="#2a6a38" stroke-width="0.6"/>
<use href="#dii6" stroke="#9a5a20" stroke-width="0.6"/>
<use href="#dii7" stroke="#2a3a70" stroke-width="0.6"/>
<use href="#dii8" stroke="#987088" stroke-width="0.6"/>
<use href="#dii9" stroke="#8a98aa" stroke-width="0.6"/>
<use href="#dii10" stroke="#948a22" stroke-width="0.6"/>
</g>
</g>
<path d="M126.4 452.4h86.5" stroke="#111" stroke-width="0.9"/>
<g font-size="7.6" fill="#333" text-anchor="end">
<text transform="translate(133.9,528.3) rotate(-90)">PAC</text>
<text transform="translate(141.56,528.3) rotate(-90)">CC</text>
<text transform="translate(149.22,528.3) rotate(-90)">GEEC</text>
<text transform="translate(156.88,528.3) rotate(-90)">GMC</text>
<text transform="translate(164.54,528.3) rotate(-90)">MTC</text>
<text transform="translate(172.2,528.3) rotate(-90)">EC</text>
<text transform="translate(179.86,528.3) rotate(-90)">FB</text>
<text transform="translate(187.52,528.3) rotate(-90)">MC</text>
<text transform="translate(195.18,528.3) rotate(-90)">NP</text>
<text transform="translate(202.84,528.3) rotate(-90)">TC</text>
<text transform="translate(210.5,528.3) rotate(-90)">PC</text>
</g>
<rect x="223" y="378.5" width="87.2" height="37.25" fill="#fbf4ec"/>
<text x="308" y="389.7" font-size="9.9" fill="#333" text-anchor="end">iii. GEEC</text>
<g stroke="#222" stroke-width="0.9" fill="none">
<path d="M222.4 379.1V525.8H309.6"/>
<path d="M222.4 525.7h-2.6M222.4 511.04h-2.6M222.4 496.38h-2.6M222.4 481.72h-2.6M222.4 467.06h-2.6M222.4 452.4h-2.6M222.4 437.74h-2.6M222.4 423.08h-2.6M222.4 408.42h-2.6M222.4 393.76h-2.6M222.4 379.1h-2.6M227.2 525.8v2.6M234.86 525.8v2.6M242.52 525.8v2.6M250.18 525.8v2.6M257.84 525.8v2.6M265.5 525.8v2.6M273.16 525.8v2.6M280.82 525.8v2.6M288.48 525.8v2.6M296.14 525.8v2.6M303.8 525.8v2.6" stroke-width="0.8"/>
</g>
<defs>
<path id="diii0" d="M227 452.4h0M227.1 448.3h0M227.1 446.8h0M227 445.8h0M227 445.1h0M227.6 444.9h0M226.7 443.3h0M227.6 442.7h0M226.8 442.3h0M227.6 442h0M227.4 439.7h0M226.6 439.3h0M227.9 438.6h0M226.5 438.3h0M227.1 437.9h0M228.1 437.9h0M227.1 437h0M226.7 436.3h0M227.4 435.8h0M226.8 435.3h0M227.5 434.8h0M225.9 432.3h0M227 432.2h0M227.7 432.2h0M228.4 432.2h0M227.4 429h0M227.4 428.1h0M227.1 427.5h0M226.9 426.5h0M227.8 425.6h0M227.4 425.1h0M227.3 424.5h0M227 423.1h0M227.6 423h0M227 422.4h0M226 421.4h0M226.8 421.2h0M227.4 420.8h0M228.4 420.7h0M225.9 420.4h0M226.8 420.3h0M227.4 419.8h0M228.5 419.6h0M227 418.7h0M227.1 417.6h0M227.2 417.4h0M227.4 416.4h0M227.1 414.6h0M227 414.2h0M227.1 413h0M226.6 412.2h0M227.8 411.9h0M227.1 411h0M227.3 410.3h0M227.1 407.7h0"/>
<path id="diii1" d="M234.9 442.9h0M234.9 438.2h0M234.7 436h0M234.6 435.3h0M234.6 434.5h0M234 432.5h0M234.7 432.4h0M235.6 432h0M234.7 430.5h0M234.8 429.4h0M234.7 428.1h0M233.4 427.5h0M233.8 427.2h0M234.3 427.1h0M235.3 426.8h0M236 426.8h0M236.4 426.7h0M234.2 426.4h0M234.8 426.2h0M235.9 425.7h0M234.7 424.3h0M234.7 423.2h0M234.4 422.3h0M235.5 422.1h0M234.6 420.2h0M235.3 419.7h0M234.5 419.4h0M235.3 418.9h0M234.6 418.5h0M235.1 417.7h0M234.3 416.1h0M235.1 415.8h0M234.4 415.2h0M235.4 414.9h0M234.8 414.2h0M234.6 413.5h0M235.1 412.8h0M234.7 412.2h0M233.4 410.9h0M234.6 410.8h0M235.5 410.7h0M236.4 410.7h0M233.8 410.5h0M235 409.7h0M235.5 409.7h0M234.7 409.2h0M234.4 407.5h0M235.4 407.1h0M235 405.6h0M234.7 405.2h0M234.5 404h0M235.5 403.6h0M234.6 402.5h0M234.7 401.8h0M234.7 400.4h0"/>
<path id="diii2" d="M242.6 415.8h0M242.1 412.3h0M242.9 411.8h0M241.9 411.4h0M243 410.6h0M242.2 409.9h0M243.2 409.6h0M242.6 409h0M241.9 408.3h0M242.4 408.3h0M243.2 407.6h0M242.5 407.1h0M241.5 406.5h0M242.6 405.8h0M243.4 405.6h0M242.1 405.5h0M242.9 404.8h0M242.2 404.4h0M242.8 403.7h0M241 403.1h0M241.6 403h0M242.2 402.9h0M242.6 402.9h0M243.3 402.8h0M244.3 402.7h0M242 401.8h0M242.9 401.5h0M242.3 401.1h0M243.1 400.9h0M242.4 400.3h0M241.8 399.4h0M242.7 399.1h0M243.3 398.7h0M241.9 397.5h0M242.5 397.3h0M243.5 397h0M241.6 396.3h0M242.7 395.9h0M243.5 395.9h0M242.5 394.5h0M241.3 394.5h0M242.3 394.3h0M242.9 394.3h0M243.5 393.6h0M242.3 392.5h0M241.9 391.4h0M242.6 391h0M243.1 391h0M242.3 390.4h0M243.1 390.4h0M242.3 387.8h0M242.3 387.1h0M242.9 386.6h0M242.3 386.2h0M242.8 384.2h0"/>
<path id="diii3" d="M250 454.6h0M250.3 454.1h0M250 451.6h0M250.2 449.2h0M250.4 448h0M250.3 445.7h0M249.9 441.5h0M250.8 440.9h0M249.9 438.6h0M250.4 438.5h0M250.2 437h0M250.1 432.9h0M249.9 432.3h0M250.5 431.8h0M248.9 431.1h0M250 431h0M250.5 430.7h0M251.3 430.6h0M249.6 430h0M250.6 429.7h0M250.3 428.9h0M249.2 428h0M249.9 427.8h0M251.2 427.6h0M249.2 427.5h0M250.4 427.3h0M251 427.1h0M248.7 426.4h0M250 426h0M250.4 425.8h0M251.6 425.7h0M249.5 424.7h0M250 424.6h0M251 424.6h0M250.4 423.8h0M248.5 423.2h0M249.6 423.2h0M250.4 422.9h0M251.2 422.9h0M252 422.8h0M249.3 422.5h0M250.1 421.7h0M250.8 421.6h0M250.1 421.5h0M249.5 420.4h0M250.8 419.9h0M249.7 418.8h0M250.4 418.6h0M250.1 418.4h0M249.6 416.7h0M250.6 416.6h0M249.9 415.9h0M250.4 415.8h0M250.1 414h0M250.1 411.4h0"/>
<path id="diii4" d="M257.8 460.5h0M257.5 458.7h0M258.1 458.5h0M257.7 458h0M257.7 457h0M257.8 456.1h0M257.6 452.9h0M258.3 452.6h0M257.6 452.4h0M257.6 450.8h0M257.6 450.1h0M257.4 449.1h0M258.4 448.6h0M257.6 447.3h0M256.8 446.5h0M257.3 446h0M258.3 446h0M258.9 445.5h0M256.6 445.5h0M257.5 445.2h0M258.1 444.8h0M259 444.7h0M257.4 443.8h0M258.4 443.6h0M257.5 443.2h0M258.3 442.6h0M257.2 442.5h0M257.8 442.2h0M258.6 442.1h0M257.2 441.1h0M257.9 440.7h0M258.7 440.6h0M257.4 440.1h0M258.4 439.7h0M257.8 439.3h0M257 438.4h0M257.6 438.4h0M258.7 438.1h0M258 437.5h0M256.2 436.5h0M256.7 436.1h0M257.3 435.8h0M258.3 435.7h0M258.6 435.6h0M259.4 435.5h0M257.7 434.5h0M258 434.3h0M257.3 432.4h0M258.5 432.4h0M257.5 430.6h0M258.3 430.6h0M257.9 429.7h0M258 429h0M257.9 427.7h0M257.7 424.5h0"/>
<path id="diii5" d="M265.4 487.6h0M265.6 483.6h0M265.4 481.2h0M264.8 480.1h0M265.3 480.1h0M266.5 479.7h0M265.7 478.9h0M264.8 478.5h0M265.6 478.3h0M266.3 477.9h0M265.3 477.3h0M266.1 477.1h0M263.7 476.5h0M264.6 476.5h0M265.2 476.2h0M265.8 476.1h0M266.7 476.1h0M267 475.6h0M264 475.2h0M264.9 474.8h0M265.4 474.7h0M266.4 474.6h0M267.4 474.5h0M264.9 474.1h0M265.4 474.1h0M266.4 473.9h0M263.7 473.3h0M264.3 473.2h0M265.4 473h0M265.7 473h0M266.3 472.8h0M267.1 472.6h0M265.6 471.7h0M265.7 470.7h0M265 470.4h0M265.9 470.3h0M265.3 468.3h0M265.9 468h0M265.5 466.3h0M265.6 464.1h0M265.6 461.6h0M265.4 461.5h0M265.1 460.2h0M266.1 459.5h0M265.5 457.8h0M265.2 456.4h0M265.9 455.8h0M265.5 453.5h0M265.7 452.8h0M265.6 451.5h0M265.6 449h0M265.6 448h0M265.3 447.4h0M265.8 446.8h0M265.5 442.1h0"/>
<path id="diii6" d="M273.2 486.1h0M273.3 483.1h0M272.9 481.8h0M273.4 481.6h0M272.4 481.4h0M273 481.2h0M274 480.6h0M272.5 480.4h0M273.3 480.2h0M274.2 479.6h0M273.3 479.1h0M272.7 478h0M273.4 477.8h0M271.3 477.1h0M272.4 477.1h0M273 477h0M273.9 477h0M275 476.7h0M271.8 476.2h0M272.8 476.1h0M273.5 475.9h0M274.5 475.8h0M273.2 474.4h0M272 473.3h0M272.7 473.3h0M273.5 473h0M274.3 472.9h0M271.3 472.1h0M272 472h0M272.7 471.9h0M273.3 471.9h0M274.2 471.6h0M274.8 471.6h0M272.1 471.4h0M273.2 471.2h0M274 471h0M272.4 470.5h0M273 470.3h0M273.9 469.8h0M272.9 468.9h0M273.4 468.7h0M272.6 465.2h0M273.7 465.2h0M273.3 456h0M273.3 455.1h0M272.2 454.2h0M273.2 453.7h0M273.9 453.6h0M273.1 453h0M273.3 450.6h0M273.2 449.6h0M272.9 449h0M273.4 448.6h0M273.2 448.1h0M273.4 445.1h0"/>
<path id="diii7" d="M280.6 486.9h0M280.6 484.6h0M280.7 483.9h0M280.5 483h0M281.4 482.6h0M281 481.7h0M280.6 481.3h0M281.1 481.2h0M280.1 480.3h0M280.8 480.1h0M281.6 479.8h0M280.1 478.6h0M281.2 478.5h0M279.1 478.3h0M279.9 478.1h0M280.5 477.9h0M281.4 477.9h0M282.1 477.7h0M282.3 477.7h0M279.9 477.4h0M280.9 477.2h0M281.5 476.8h0M279 476.2h0M279.7 476.1h0M280.2 475.9h0M280.6 475.8h0M281.6 475.8h0M281.8 475.7h0M282.6 475.7h0M280.4 475.1h0M281.3 475.1h0M279.8 474.2h0M280.7 474.1h0M281.5 473.8h0M279.6 473.1h0M280.3 472.8h0M281.2 472.8h0M282 472.7h0M280.8 471.8h0M280.9 470.7h0M281.1 468.9h0M280.5 468h0M281.1 467.7h0M280.5 466.8h0M281.3 466.5h0M279.8 466.4h0M280.7 466.4h0M281.8 466.3h0M280.7 465h0M280.2 464.2h0M281 463.8h0M280.8 460.5h0M280.5 458.2h0M281.5 457.6h0M280.7 453.9h0"/>
<path id="diii8" d="M288.4 470h0M288.7 468.2h0M287.1 467.2h0M288.3 467h0M288.7 466.8h0M289.7 466.7h0M287.8 466.3h0M289 465.7h0M288.3 465.2h0M288.1 464.1h0M288.9 463.7h0M287.7 463.2h0M288.3 463.1h0M289.4 462.7h0M286.9 461.5h0M287.2 461.4h0M287.7 461.3h0M288.5 460.9h0M289.2 460.8h0M289.6 460.8h0M290.4 460.6h0M287.6 460.2h0M288.5 459.9h0M289.3 459.6h0M287 459.4h0M287.9 459.3h0M288.8 459.3h0M289.8 459.2h0M287.2 458.4h0M288 458h0M288.8 458h0M289.9 457.7h0M287 457.2h0M287.5 457h0M288.3 456.9h0M288.8 456.8h0M289.6 456.7h0M290.1 456.6h0M287.3 456.5h0M288.2 456.2h0M289.1 455.5h0M289.6 455.5h0M287.8 454.8h0M288.7 454.7h0M289.3 454.6h0M286.6 454.4h0M287.5 454.1h0M288.6 454h0M289.3 454h0M290.2 453.7h0M287.9 452.9h0M288.8 452.7h0M288.6 452.2h0M288.2 449.6h0M288.4 442.1h0"/>
<path id="diii9" d="M296.2 448h0M296.4 444.1h0M296.1 443.1h0M296 441.8h0M296.2 441.4h0M296 440h0M296.2 438.8h0M295.5 437.4h0M296.4 437.3h0M295.9 436h0M296.5 435.8h0M295 435.5h0M295.6 435.5h0M296.3 435.1h0M297.4 434.9h0M295.8 434.4h0M296.3 434.2h0M296 432.5h0M295.5 430.5h0M296.4 429.5h0M296.2 429.5h0M295.9 427.3h0M296.3 425.8h0M295.5 424.4h0M296.5 423.9h0M294.2 423.4h0M295 423.4h0M295.4 422.9h0M296.3 422.9h0M296.7 422.7h0M297.4 422.7h0M297.7 422.5h0M294.7 422.4h0M295.9 422.1h0M296.3 421.7h0M297.6 421.6h0M295.2 420.5h0M296.4 420.2h0M296.8 420h0M295.8 418.3h0M296.5 417.9h0M295.1 417.2h0M296 417h0M297.1 416.6h0M295.2 416.4h0M296.2 416.4h0M297.1 415.9h0M295.2 415.4h0M296.1 414.9h0M296.8 414.6h0M295.9 414.2h0M296.8 413.7h0M295.6 413.5h0M296.8 413.4h0M296.3 411.4h0"/>
<path id="diii10" d="M304 449.5h0M303.7 448.1h0M303.6 446.8h0M303.6 445.7h0M303.6 442.5h0M303.7 437.6h0M303.7 437h0M303.2 436.4h0M304.3 436.4h0M303.2 434.5h0M304.3 434.4h0M303.4 433.4h0M304.2 433h0M303.9 429.8h0M303 427.4h0M304 427.2h0M304.8 427.1h0M303.4 425.6h0M304.2 425.6h0M303.2 424.9h0M304.4 424.6h0M302.1 424.1h0M302.9 423.9h0M303.6 423.8h0M304.4 423.6h0M305.6 423.6h0M303.1 423h0M303.9 422.8h0M304.8 422.5h0M302 422.5h0M303 422.2h0M303.6 422.1h0M304.6 422.1h0M305.7 421.6h0M302.9 421.3h0M303.9 420.8h0M304.4 420.7h0M302.9 420.1h0M303.8 419.9h0M304.7 419.7h0M304 419.5h0M302.4 418.4h0M303.3 418.4h0M304.4 417.8h0M304.8 417.7h0M303.5 416.8h0M304.2 416.5h0M302.5 416.4h0M303.2 416h0M304.2 415.8h0M305 415.7h0M303.2 414h0M304.4 413.5h0M303.2 413.4h0M304.1 412.8h0"/>
</defs>
<g fill="none" stroke-linecap="round">
<use href="#diii0" stroke="#1c1c1c" stroke-width="2.4"/>
<use href="#diii1" stroke="#1c1c1c" stroke-width="2.4"/>
<use href="#diii2" stroke="#1c1c1c" stroke-width="2.4"/>
<use href="#diii3" stroke="#1c1c1c" stroke-width="2.4"/>
<use href="#diii4" stroke="#1c1c1c" stroke-width="2.4"/>
<use href="#diii5" stroke="#1c1c1c" stroke-width="2.4"/>
<use href="#diii6" stroke="#1c1c1c" stroke-width="2.4"/>
<use href="#diii7" stroke="#1c1c1c" stroke-width="2.4"/>
<use href="#diii8" stroke="#1c1c1c" stroke-width="2.4"/>
<use href="#diii9" stroke="#1c1c1c" stroke-width="2.4"/>
<use href="#diii10" stroke="#1c1c1c" stroke-width="2.4"/>
<g opacity="0.42">
<use href="#diii0" stroke="#6a2040" stroke-width="0.6"/>
<use href="#diii1" stroke="#2a2d68" stroke-width="0.6"/>
<use href="#diii2" stroke="#a08060" stroke-width="0.6"/>
<use href="#diii3" stroke="#5e5e2a" stroke-width="0.6"/>
<use href="#diii4" stroke="#6a6a6a" stroke-width="0.6"/>
<use href="#diii5" stroke="#2a6a38" stroke-width="0.6"/>
<use href="#diii6" stroke="#9a5a20" stroke-width="0.6"/>
<use href="#diii7" stroke="#2a3a70" stroke-width="0.6"/>
<use href="#diii8" stroke="#987088" stroke-width="0.6"/>
<use href="#diii9" stroke="#8a98aa" stroke-width="0.6"/>
<use href="#diii10" stroke="#948a22" stroke-width="0.6"/>
</g>
</g>
<path d="M222.4 452.4h86.5" stroke="#111" stroke-width="0.9"/>
<g font-size="7.6" fill="#333" text-anchor="end">
<text transform="translate(229.9,528.3) rotate(-90)">PAC</text>
<text transform="translate(237.56,528.3) rotate(-90)">CC</text>
<text transform="translate(245.22,528.3) rotate(-90)">GEEC</text>
<text transform="translate(252.88,528.3) rotate(-90)">GMC</text>
<text transform="translate(260.54,528.3) rotate(-90)">MTC</text>
<text transform="translate(268.2,528.3) rotate(-90)">EC</text>
<text transform="translate(275.86,528.3) rotate(-90)">FB</text>
<text transform="translate(283.52,528.3) rotate(-90)">MC</text>
<text transform="translate(291.18,528.3) rotate(-90)">NP</text>
<text transform="translate(298.84,528.3) rotate(-90)">TC</text>
<text transform="translate(306.5,528.3) rotate(-90)">PC</text>
</g>
<rect x="319" y="378.5" width="87.2" height="37.25" fill="#efefe7"/>
<text x="404" y="389.7" font-size="9.9" fill="#333" text-anchor="end">iv. GMC</text>
<g stroke="#222" stroke-width="0.9" fill="none">
<path d="M318.4 379.1V525.8H405.6"/>
<path d="M318.4 525.7h-2.6M318.4 511.04h-2.6M318.4 496.38h-2.6M318.4 481.72h-2.6M318.4 467.06h-2.6M318.4 452.4h-2.6M318.4 437.74h-2.6M318.4 423.08h-2.6M318.4 408.42h-2.6M318.4 393.76h-2.6M318.4 379.1h-2.6M323.2 525.8v2.6M330.86 525.8v2.6M338.52 525.8v2.6M346.18 525.8v2.6M353.84 525.8v2.6M361.5 525.8v2.6M369.16 525.8v2.6M376.82 525.8v2.6M384.48 525.8v2.6M392.14 525.8v2.6M399.8 525.8v2.6" stroke-width="0.8"/>
</g>
<defs>
<path id="div0" d="M323 445.8h0M323.3 445h0M323.4 444.2h0M323.4 442.7h0M322.9 442.5h0M323.4 442.1h0M322.7 441.2h0M323.6 440.7h0M323.1 439.7h0M323.1 436.8h0M323 435.9h0M323.5 435.9h0M323.3 435.3h0M322.5 434.5h0M323.3 433.8h0M323.9 433.6h0M323.3 432.9h0M322.9 432.1h0M323.7 431.8h0M323 431h0M322.8 429.9h0M323.6 429.8h0M323 429.1h0M323 427.8h0M322.1 427.3h0M322.9 427.3h0M323.4 427.3h0M324.4 427.1h0M322.3 426.4h0M323.2 426h0M324.1 425.6h0M323 423.5h0M322.7 422h0M323.6 421.9h0M322.5 421.2h0M323.1 421.1h0M324 420.9h0M322.7 419.5h0M323.5 419.3h0M323.2 418.3h0M321.9 417.4h0M322.9 417.2h0M323.8 417.1h0M324.4 416.7h0M323.3 414.7h0M321.7 414.4h0M322.3 414.2h0M322.8 414.2h0M323.5 414.2h0M324 413.8h0M324.9 413.8h0M322.1 413.3h0M323.4 413.1h0M324 412.6h0M321.3 412.5h0M322.2 412.2h0M323 411.8h0M324.2 411.7h0M325.1 411.6h0M321.4 411.3h0M322.1 410.9h0M322.7 410.8h0M323.5 410.8h0M324.4 410.6h0M324.8 410.6h0M321.4 410.2h0M322 410.1h0M322.4 409.9h0M323 409.8h0M323.7 409.8h0M324.5 409.7h0M325.1 409.6h0M322.2 409.1h0M323.1 408.9h0M323.9 408.9h0M323.1 407.6h0M322.1 407.4h0M322.9 407.1h0M323.8 407.1h0M324.5 406.9h0M322.1 406.5h0M323.4 405.7h0M324.3 405.5h0M321.5 405.4h0M321.9 405.3h0M322.4 405.1h0M323 405.1h0M323.7 405h0M324.3 405h0M325.1 404.8h0M322.3 404.3h0M323.3 404.2h0M323.9 404h0M323.4 401.7h0M323.2 400.4h0"/>
<path id="div1" d="M330.5 459h0M331.5 458.7h0M330.8 453.8h0M330.9 449h0M330.1 447.3h0M330.8 447.1h0M331.5 446.7h0M330.9 445.9h0M330.5 444.9h0M331.1 444.7h0M331.1 440.9h0M330.6 440.4h0M331.1 439.8h0M330.9 437.6h0M330.6 437.3h0M331.1 437h0M329.7 436h0M330.3 436h0M331.3 435.9h0M332.2 435.7h0M331 432.2h0M330.9 431h0M330.3 430.4h0M330.6 430.3h0M331.8 430.1h0M330.7 428.9h0M330.1 428.4h0M331.1 427.8h0M331.8 427.7h0M329.8 427.4h0M331 427.1h0M331.8 427h0M330.3 425.7h0M331 425.6h0M329.8 425.3h0M330.5 425h0M331 424.9h0M332.1 424.5h0M329 424.5h0M329.7 424.5h0M330.4 424.5h0M330.5 424.5h0M331.1 424.4h0M331.5 424.1h0M332.1 424.1h0M332.4 424h0M329.3 423.3h0M330 423h0M330.7 422.8h0M331.8 422.6h0M332.8 422.6h0M329.1 422.5h0M329.8 422.3h0M329.9 422.2h0M330.2 422.2h0M330.8 422h0M331.1 422h0M331.6 421.8h0M332 421.7h0M332.7 421.6h0M328.9 421.4h0M330 421.3h0M330.7 420.9h0M331.4 420.8h0M331.6 420.6h0M332.6 420.6h0M329 420.5h0M329.5 420.4h0M329.9 420.3h0M330 420.1h0M330.2 420.1h0M330.7 420h0M330.9 419.9h0M331.2 419.9h0M331.3 419.8h0M331.6 419.8h0M332.1 419.7h0M332.2 419.6h0M332.4 419.6h0M329.4 419.4h0M330.1 419.1h0M330.7 418.9h0M331.8 418.8h0M332.4 418.5h0M329.8 417.8h0M330.6 417.7h0M331.9 417.7h0M329.1 417.4h0M329.7 417.4h0M330.5 417.2h0M331.3 416.9h0M331.9 416.9h0M332.5 416.6h0M329.6 416h0M330.2 415.8h0M331.4 415.7h0M332 415.6h0M329.5 415.3h0M330.5 415.3h0M331.3 414.8h0M332.1 414.7h0M330.6 411.9h0M331.3 411.8h0M330.4 411.5h0M331.4 411.5h0M329.5 408.3h0M330.5 408.2h0M331.5 408.1h0M332.3 407.8h0M330.9 406.2h0"/>
<path id="div2" d="M337.9 452.4h0M338.6 452.2h0M339.3 451.8h0M338.5 451.4h0M338.1 450.3h0M339.1 450.1h0M338.6 448.9h0M338.5 446.7h0M338.5 445.7h0M338.2 443.4h0M338.8 443.4h0M338.7 441.5h0M338.3 439.7h0M338.5 439.2h0M337.9 438.3h0M339 437.5h0M338.5 433.9h0M338.4 432.7h0M337.8 432.4h0M338.4 432.4h0M339.4 432.2h0M337.4 431.4h0M338.4 431.4h0M339.4 431.3h0M338.6 429.5h0M338.6 428.9h0M338.5 427.8h0M338.6 426.9h0M338.7 426.1h0M338.4 423.2h0M337.7 422.2h0M338.6 421.9h0M339.5 421.6h0M337.1 421.2h0M338.2 421.2h0M338.8 420.8h0M339.6 420.7h0M338.6 419.5h0M336.8 419.2h0M337.7 419.1h0M338.7 419h0M339.5 418.9h0M340 418.8h0M336.7 418.4h0M337.5 418.3h0M338.5 418.1h0M339.5 418h0M340.3 417.8h0M336.6 417.2h0M337.5 417.2h0M338.4 417h0M339.5 416.8h0M340.3 416.7h0M336.7 416.2h0M337.1 416h0M337.7 416h0M338.5 415.9h0M338.5 415.9h0M339.3 415.8h0M339.6 415.8h0M340 415.8h0M337.8 415.5h0M338.5 415.1h0M339.4 415.1h0M337.4 414.5h0M337.9 414.3h0M339.1 414.1h0M339.6 413.7h0M337.1 413.4h0M337.7 413.3h0M338.7 413.2h0M339.6 413.1h0M340.2 412.7h0M336.7 412.3h0M337.4 412.1h0M338.1 412.1h0M339.1 412h0M339.3 412h0M340 411.7h0M337.1 411.4h0M337.6 411.4h0M338.5 411.3h0M339.5 411h0M340.2 410.6h0M337 410.5h0M337.5 409.9h0M338.5 409.9h0M339.2 409.9h0M340.4 409.7h0M337.7 409.2h0M338.5 409.1h0M339.3 409h0M337.7 408.4h0M338.5 408.4h0M339.5 407.8h0M338.3 407h0M338.6 406.4h0M338.7 405.5h0"/>
<path id="div3" d="M346.1 416.5h0M346 414.7h0M345.8 414.3h0M346.5 413.9h0M345.9 413.1h0M346.5 412.7h0M345.8 412.3h0M346.7 411.7h0M346.4 411.3h0M346.1 410h0M346.1 408.6h0M345.9 408.1h0M346.7 407.6h0M346 407.5h0M345.8 406.2h0M346.4 405.5h0M346.2 403.9h0M345.2 403.5h0M346.2 402.9h0M346.9 402.6h0M346.3 401.7h0M346.3 398.7h0M345.7 397.8h0M346.4 397.7h0M345.9 397h0M346.8 396.8h0M345.7 396h0M346.5 395.9h0M346.4 395h0M346.1 394.5h0M345.7 392.8h0M346.4 392.5h0M344.5 392.4h0M345.5 392.3h0M345.9 392.1h0M346.9 392h0M348 391.9h0M345 391.4h0M345.6 391h0M346.4 390.6h0M347.3 390.6h0M345.6 390.3h0M346.5 390h0M344.7 389.4h0M345.1 389.4h0M345.4 389.3h0M346.1 389.3h0M346.5 389.2h0M346.9 389.1h0M347.5 388.8h0M348 388.7h0M344.6 388.4h0M345.1 388.1h0M345.8 388.1h0M346.2 388.1h0M346.7 387.9h0M347.2 387.9h0M347.7 387.6h0M344.7 387.5h0M344.8 387.3h0M345.6 387.2h0M346 386.8h0M346.7 386.8h0M346.9 386.7h0M347.6 386.6h0M348 386.6h0M346.1 386h0M345.6 384.9h0M346.7 384.6h0M345 384.5h0M345.9 383.8h0M346.4 383.6h0M347.2 383.5h0M346.3 383.1h0M346.4 382h0"/>
<path id="div4" d="M354.1 442.1h0M353.3 439.3h0M354.5 438.7h0M353.4 438.1h0M354.2 437.6h0M353.5 437.3h0M354.3 436.8h0M354 435.7h0M354 435.2h0M353 433.5h0M354 433.4h0M354.7 432.8h0M353.6 430h0M353.8 427.8h0M353.7 425.9h0M352.8 425h0M353.5 424.7h0M354.4 424.6h0M355 424.5h0M353.9 422.7h0M353.5 421.8h0M354.5 421.7h0M353.3 420.8h0M354.2 420.7h0M353.6 420.4h0M354.2 419.8h0M352.4 419.5h0M352.5 419.4h0M353.1 419h0M353.6 418.9h0M354 418.7h0M354.5 418.7h0M355 418.7h0M355.4 418.6h0M352.4 418.1h0M352.7 417.8h0M353.4 417.7h0M354.3 417.7h0M354.7 417.7h0M355.7 417.6h0M352.3 417.3h0M352.7 417.2h0M353.6 417.1h0M354 417.1h0M354.7 416.7h0M355.4 416.6h0M352 416.3h0M352.4 416.3h0M352.9 416.2h0M353.3 416.1h0M353.6 416h0M354 416h0M354.9 416h0M355 415.8h0M355.6 415.6h0M352 415.5h0M353.1 415.4h0M354.1 415h0M354.7 414.7h0M355.5 414.6h0M353.5 414.3h0M354 413.5h0M352.7 413.3h0M353.6 412.9h0M354.7 412.6h0M352.7 412.5h0M353.5 412.3h0M354.3 412.1h0M354.9 411.9h0M353.6 411.5h0M354.2 411.4h0M353.2 409.1h0M354.4 408.7h0M353.6 408h0M354.1 406.2h0"/>
<path id="div5" d="M361.3 494.9h0M360.9 494.1h0M362 494h0M360.9 493.1h0M362.1 493.1h0M361.4 492.5h0M360.8 491h0M361.7 490.8h0M362.2 490.7h0M360.2 490.4h0M360.9 490.3h0M362 490.2h0M362.8 489.8h0M361 489.4h0M361.7 488.5h0M360.4 488.5h0M360.9 488.1h0M361.8 487.6h0M363 487.5h0M360 487.3h0M360.3 487.1h0M360.8 487.1h0M361.3 487h0M361.6 487h0M362.2 487h0M362.6 486.9h0M363.2 486.8h0M360 486.4h0M360.6 486.2h0M360.8 486.2h0M361.7 486h0M362.1 485.8h0M362.5 485.7h0M363.1 485.6h0M359.9 485.4h0M360 485.4h0M360.2 485.4h0M360.5 485.3h0M361 485.2h0M361.1 485.2h0M361.4 485.1h0M361.7 485.1h0M361.9 484.8h0M362.6 484.8h0M362.5 484.8h0M363 484.8h0M363.1 484.5h0M361.2 483.8h0M362.1 483.6h0M359.8 483.4h0M360.8 483.1h0M361.6 483.1h0M362.6 483h0M363 482.7h0M360.9 481.9h0M361.9 481.8h0M361.2 481.1h0M361.7 480.7h0M361.1 480.2h0M361.8 479.7h0M360.3 479.4h0M360.9 479.3h0M362 479.1h0M362.9 478.9h0M361.4 478.2h0M361.2 477.5h0M361.8 477.4h0M359.9 476.3h0M360.5 476.3h0M361.4 476h0M362.3 475.7h0M363.2 475.6h0M360.8 475.1h0M361.3 474.9h0M362.6 474.7h0M360.5 474.5h0M361.7 473.9h0M362.2 473.6h0M361.3 472.1h0M361.4 470.6h0M360.5 470.4h0M361.7 470h0M362.3 469.7h0M361.5 468.5h0M361.6 467.4h0M361.5 466.3h0M360.9 464.4h0M361.9 464.3h0M361.2 462.4h0M362 462.2h0M361.3 461.4h0M361.6 460h0M361.1 459.4h0M361.7 458.7h0M361.2 456.4h0M361.9 455.6h0M360.5 455h0M361.6 454.8h0M362.5 454.7h0M361.5 453.8h0M361.6 453.1h0M361.3 451.9h0M361.3 450.7h0M359.9 446.2h0M360.5 446.2h0M361.3 446h0M362.3 445.6h0M363.1 445.6h0M361.7 442.9h0"/>
<path id="div6" d="M369.4 500.8h0M368.9 497.8h0M369.7 497.5h0M367.8 497.3h0M368.6 497.3h0M369.4 496.6h0M370.6 496.6h0M367.5 496.3h0M368.3 496.1h0M369 495.9h0M370.2 495.9h0M370.9 495.5h0M367.5 495.4h0M368 495.3h0M368.3 495.3h0M368.4 495.2h0M369.2 495.2h0M369.3 494.9h0M369.6 494.7h0M370.3 494.7h0M370.7 494.6h0M371 494.5h0M367.6 494.1h0M368 494h0M368.9 493.8h0M369.7 493.7h0M370.3 493.6h0M370.9 493.5h0M367.5 493.5h0M367.9 493.4h0M368.1 493.4h0M368.4 493.4h0M368.9 493h0M369.6 492.9h0M369.9 492.8h0M370 492.8h0M370.3 492.8h0M370.7 492.6h0M368 492.4h0M369 492.1h0M369.6 492.1h0M370.5 491.9h0M367.6 491.3h0M368.2 490.8h0M368.4 490.7h0M369 490.7h0M369.9 490.6h0M370.3 490.6h0M370.6 490.6h0M367.5 490.3h0M368 490.2h0M368.4 490h0M369.1 489.9h0M369.9 489.7h0M370.3 489.6h0M371 489.5h0M369.1 489.2h0M368 488.1h0M368.6 488h0M369.3 487.7h0M370.3 487.7h0M368.1 487.2h0M368.9 487.2h0M369.5 486.9h0M370.3 486.6h0M368.1 484.9h0M369.2 484.9h0M370.1 484.5h0M368.9 483.6h0M369.2 482.4h0M368.8 481.2h0M369.7 481h0M369 480.3h0M368.7 479.2h0M369.7 478.6h0M367.7 478.3h0M368.6 478.3h0M369.4 478.3h0M370.6 478.1h0M369 476.8h0M367.9 476.5h0M368.8 476h0M369.7 475.8h0M370.5 475.7h0M369.3 475h0M368.5 473.3h0M369.3 472.9h0M369.8 472.7h0M369.2 471.8h0M368.8 471.3h0M369.6 470.8h0M368.7 470.4h0M369.4 469.9h0M368.9 467.6h0M369.2 466.9h0M369.1 465.6h0M369 465.1h0M369 463.9h0M369.1 462.9h0M369.1 461h0M368.6 459.4h0M369.7 458.5h0M369.1 457.5h0M369.1 455.6h0M369.2 454.8h0M369.4 453.9h0M369.2 450.6h0M369.1 449.7h0M369.1 448.7h0"/>
<path id="div7" d="M376.5 477.3h0M377.5 476.8h0M376.5 474.8h0M377.5 474.6h0M375.3 474.4h0M375.9 474.4h0M376.7 474.2h0M377.2 473.9h0M377.7 473.9h0M378.5 473.6h0M377.1 472.7h0M376.5 472.4h0M377.4 471.5h0M375.7 471.5h0M377.1 471h0M377.5 470.6h0M376.4 469.9h0M377.4 469.6h0M376.5 469.1h0M377.1 468.6h0M376.2 468.4h0M377.5 467.9h0M375.8 467.1h0M377.1 467h0M377.6 467h0M375.5 466.3h0M376.4 466.1h0M377.3 465.9h0M378.3 465.9h0M376.3 465.4h0M377.4 465.2h0M375.3 464.4h0M376 464.3h0M376.5 464.2h0M377 463.8h0M377.8 463.8h0M378.5 463.6h0M375.1 463.4h0M375.5 463.3h0M376.3 463.2h0M376.4 463.1h0M376.9 462.9h0M377.8 462.9h0M377.9 462.7h0M378.3 462.6h0M375 462.5h0M375.8 462.3h0M376.7 462h0M377.8 461.6h0M378.7 461.6h0M376.2 461.2h0M376.8 460.8h0M377.8 460.5h0M376.3 460.3h0M377.3 459.7h0M376.4 459.2h0M377 458.8h0M376.1 458.3h0M376.8 458.2h0M377.9 457.5h0M376.2 457h0M377.4 456.6h0M376.5 456h0M377.2 455.7h0M376.9 455.1h0M376.6 454.3h0M377.2 454.2h0M376.5 453.4h0M377.3 452.6h0M376.1 452.3h0M376.6 452h0M377.7 451.5h0M376.5 449.3h0M377.1 449.2h0M376.6 448.2h0M377.1 446.2h0M376.6 444.8h0M377.4 444.6h0M376.2 444.2h0M377.5 443.8h0M376.8 438.5h0"/>
<path id="div8" d="M384.4 468.5h0M384.6 467.9h0M384.2 467.1h0M384.9 467h0M384.6 466.3h0M383.4 465.4h0M384.3 465.2h0M385.1 465h0M384.7 464.4h0M383 463.4h0M384.1 463.2h0M384.8 463h0M385.5 462.6h0M383.8 461.8h0M384.5 461.8h0M385.2 461.6h0M383 461h0M384.2 461h0M384.9 460.7h0M386 460.7h0M382.6 460.4h0M383.5 460.2h0M383.8 460.2h0M384.5 460.2h0M384.9 459.9h0M385.4 459.8h0M386.3 459.8h0M382.6 459.4h0M383.2 459.2h0M383.4 459.1h0M383.9 459h0M384.5 458.9h0M384.4 458.8h0M385.3 458.8h0M385.4 458.8h0M385.8 458.6h0M386.1 458.5h0M383.4 457.9h0M384 457.6h0M384.9 457.6h0M385.6 457.5h0M383.6 457.3h0M384.7 457.3h0M385.2 456.7h0M383 456.4h0M383.5 456.4h0M384.6 456.2h0M385.4 456h0M386.4 455.5h0M382.7 455.4h0M383.5 455.3h0M384 455.2h0M384.6 455h0M385.6 454.9h0M386.3 454.6h0M383.8 453.7h0M384.8 453.6h0M383.9 452.7h0M384.8 452.6h0M384.5 452.5h0M384.7 451.2h0M384.3 449.7h0M384 449.3h0M384.9 448.6h0M384.5 447.9h0M383.9 447.4h0M385 447.1h0M384.6 446.1h0M384 445.4h0M385 445.1h0M384.1 444.5h0M385 443.8h0M384.6 441.6h0M384.5 441h0M384.3 439.9h0"/>
<path id="div9" d="M392.1 434.1h0M391.5 433.4h0M392.4 433.3h0M392.1 432.3h0M391.9 429h0M392.4 428.5h0M391.8 428.2h0M392.4 427.9h0M392.1 426.7h0M391.1 425.5h0M392 425.3h0M392.7 424.7h0M392.2 422.9h0M392 421.7h0M392.3 418.8h0M390.2 418.4h0M391.1 418.3h0M392.2 418h0M393 417.9h0M394.1 417.9h0M391.9 417.3h0M392.8 416.8h0M391.8 416.1h0M392.4 415.7h0M391.8 415.3h0M392.6 415h0M391.9 413.7h0M391.9 413.3h0M392.4 412.7h0M391.1 412.5h0M392.3 412.3h0M393.1 412h0M391.8 411.5h0M392.6 411.1h0M391.6 410.2h0M392.3 410.1h0M391.4 409.3h0M392.2 409.1h0M393.1 409.1h0M390.7 408.1h0M391.5 408h0M392.4 407.8h0M393.3 407.6h0M390.6 407.2h0M391.3 407.2h0M392 407.1h0M393.2 407h0M393.9 406.9h0M390.5 406.2h0M391 406.2h0M391.9 406.1h0M392.7 405.9h0M393.3 405.6h0M394 405.6h0M391 405.3h0M391.9 405.2h0M392.4 404.9h0M393.4 404.6h0M391.9 404h0M392.7 403.9h0M391.5 403.3h0M392.4 403.2h0M392.9 403.2h0M390.9 402.3h0M391.7 402.1h0M392.6 402.1h0M393.6 401.7h0M391.3 401.1h0M392.3 400.9h0M393 400.5h0M390.4 399.3h0M391.3 399.2h0M392.1 398.8h0M393 398.7h0M393.9 398.7h0M392.3 397.4h0"/>
<path id="div10" d="M399.6 440.7h0M399.6 437.9h0M399.7 436.6h0M399.4 435.1h0M400.3 434.6h0M399.6 433.2h0M399.6 432.1h0M399.8 431.2h0M399.6 429.5h0M400.2 429.2h0M399.8 427.9h0M399.1 427.2h0M400.4 427h0M399.3 426.3h0M400.1 425.9h0M399.6 423.7h0M400.2 423.6h0M399.3 423.2h0M400.1 422.7h0M399.6 422.3h0M400 422.2h0M399.6 421h0M399.6 420.4h0M400 419.2h0M399.3 418.2h0M400.4 418.2h0M398.7 417.1h0M399.9 417.1h0M400.6 417h0M399.9 414.5h0M399.1 414.1h0M399.8 413.9h0M400.6 413.7h0M398.7 413.4h0M399.6 413.2h0M400.1 413h0M401.2 412.9h0M399 411.7h0M399.7 411.6h0M400.8 411.5h0M399.5 410.8h0M400.1 410.7h0M398.8 410.4h0M399.6 410h0M400 409.6h0M401.2 409.6h0M399 409.3h0M399.8 408.9h0M400.5 408.8h0M398.2 408.5h0M398.5 408.3h0M398.9 408.3h0M399.6 408.1h0M400.1 408h0M400.7 408h0M400.9 407.7h0M401.6 407.5h0M398.3 407.4h0M398.9 407.3h0M399.6 407.2h0M400.4 407.1h0M400.7 407.1h0M401.3 406.8h0M398.9 406.5h0M399.7 406.2h0M400.7 406.1h0M398.3 405.3h0M399.5 405.1h0M400.4 404.8h0M400.8 404.5h0M398.2 404.5h0M398.9 404.4h0M399.6 404.3h0M400 404.1h0M401 404h0M401.4 403.5h0M399.1 403.5h0M399.6 403.3h0M400.4 403h0M399.6 401.5h0M399.2 401.4h0M399.9 401.2h0M400.6 401.2h0M398.8 400.4h0M399.7 400.3h0M400.7 400.3h0M399.6 398.9h0"/>
</defs>
<g fill="none" stroke-linecap="round">
<use href="#div0" stroke="#1c1c1c" stroke-width="2.4"/>
<use href="#div1" stroke="#1c1c1c" stroke-width="2.4"/>
<use href="#div2" stroke="#1c1c1c" stroke-width="2.4"/>
<use href="#div3" stroke="#1c1c1c" stroke-width="2.4"/>
<use href="#div4" stroke="#1c1c1c" stroke-width="2.4"/>
<use href="#div5" stroke="#1c1c1c" stroke-width="2.4"/>
<use href="#div6" stroke="#1c1c1c" stroke-width="2.4"/>
<use href="#div7" stroke="#1c1c1c" stroke-width="2.4"/>
<use href="#div8" stroke="#1c1c1c" stroke-width="2.4"/>
<use href="#div9" stroke="#1c1c1c" stroke-width="2.4"/>
<use href="#div10" stroke="#1c1c1c" stroke-width="2.4"/>
<g opacity="0.42">
<use href="#div0" stroke="#6a2040" stroke-width="0.6"/>
<use href="#div1" stroke="#2a2d68" stroke-width="0.6"/>
<use href="#div2" stroke="#a08060" stroke-width="0.6"/>
<use href="#div3" stroke="#5e5e2a" stroke-width="0.6"/>
<use href="#div4" stroke="#6a6a6a" stroke-width="0.6"/>
<use href="#div5" stroke="#2a6a38" stroke-width="0.6"/>
<use href="#div6" stroke="#9a5a20" stroke-width="0.6"/>
<use href="#div7" stroke="#2a3a70" stroke-width="0.6"/>
<use href="#div8" stroke="#987088" stroke-width="0.6"/>
<use href="#div9" stroke="#8a98aa" stroke-width="0.6"/>
<use href="#div10" stroke="#948a22" stroke-width="0.6"/>
</g>
</g>
<path d="M318.4 452.4h86.5" stroke="#111" stroke-width="0.9"/>
<g font-size="7.6" fill="#333" text-anchor="end">
<text transform="translate(325.9,528.3) rotate(-90)">PAC</text>
<text transform="translate(333.56,528.3) rotate(-90)">CC</text>
<text transform="translate(341.22,528.3) rotate(-90)">GEEC</text>
<text transform="translate(348.88,528.3) rotate(-90)">GMC</text>
<text transform="translate(356.54,528.3) rotate(-90)">MTC</text>
<text transform="translate(364.2,528.3) rotate(-90)">EC</text>
<text transform="translate(371.86,528.3) rotate(-90)">FB</text>
<text transform="translate(379.52,528.3) rotate(-90)">MC</text>
<text transform="translate(387.18,528.3) rotate(-90)">NP</text>
<text transform="translate(394.84,528.3) rotate(-90)">TC</text>
<text transform="translate(402.5,528.3) rotate(-90)">PC</text>
</g>
<rect x="415" y="378.5" width="87.2" height="37.25" fill="#f1f1f1"/>
<text x="500" y="389.7" font-size="9.9" fill="#333" text-anchor="end">v. MTC</text>
<g stroke="#222" stroke-width="0.9" fill="none">
<path d="M414.4 379.1V525.8H501.6"/>
<path d="M414.4 525.7h-2.6M414.4 511.04h-2.6M414.4 496.38h-2.6M414.4 481.72h-2.6M414.4 467.06h-2.6M414.4 452.4h-2.6M414.4 437.74h-2.6M414.4 423.08h-2.6M414.4 408.42h-2.6M414.4 393.76h-2.6M414.4 379.1h-2.6M419.2 525.8v2.6M426.86 525.8v2.6M434.52 525.8v2.6M442.18 525.8v2.6M449.84 525.8v2.6M457.5 525.8v2.6M465.16 525.8v2.6M472.82 525.8v2.6M480.48 525.8v2.6M488.14 525.8v2.6M495.8 525.8v2.6" stroke-width="0.8"/>
</g>
<defs>
<path id="dv0" d="M419.4 481.7h0M419.3 479.6h0M419.4 479.2h0M418.9 478.3h0M419.8 477.8h0M417.7 477.4h0M418.4 477.1h0M419.2 476.9h0M419.9 476.7h0M420.9 476.5h0M419 475.6h0M419.3 474.4h0M419 472.2h0M418.2 470.5h0M419.2 470.4h0M420.2 470.3h0M419.4 468.9h0M418.5 468.4h0M419.2 468.2h0M420.3 467.9h0M419.1 465.7h0M419 465.4h0M419.8 464.7h0M419 462.7h0M418.7 461h0M419.6 460.8h0M419 459.7h0M417.8 459.3h0M418.9 459.3h0M419.8 459.2h0M420.6 458.7h0M418.3 458.1h0M419.1 457.9h0M420 457.7h0M418.1 457.2h0M419.3 456.9h0M420.2 456.7h0M417.9 456.3h0M419 456h0M419.8 455.8h0M420.6 455.6h0M417.7 454.3h0M418.7 454.2h0M419.5 453.7h0M420.3 453.5h0M417.7 453.5h0M418.2 453.2h0M419 453.1h0M419.9 452.5h0M420.9 452.5h0M418.2 452.3h0M419.1 451.9h0M419.9 451.7h0M417.9 450.4h0M419 450h0M419.5 449.9h0M420.3 449.6h0M417.6 449.4h0M418.2 449h0M419.2 448.9h0M420.1 448.7h0M420.9 448.6h0M417.4 448.4h0M418.2 448.4h0M418.1 448.4h0M418.8 448.2h0M419.4 448.2h0M419.7 448h0M419.9 447.9h0M420.4 447.7h0M421.1 447.5h0M418.9 446.8h0M419.8 446.5h0M419.3 446.1h0M418 445.2h0M418.8 444.8h0M419.7 444.7h0M420.6 444.7h0M418.7 444.5h0M419.4 444h0M418.5 443.3h0M419.4 443.2h0M420.1 443.1h0M419 442.4h0M419.8 441.6h0M418.6 441.2h0M419.4 440.9h0M418.4 440.4h0M419 440.3h0M420 439.7h0M417.5 439.4h0M418.3 439.4h0M419 439.2h0M419.8 439.2h0M420.2 438.8h0M421.1 438.8h0M417.4 438.1h0M418.4 438h0M419.2 437.9h0M420.2 437.8h0M420.7 437.7h0M418.9 436.3h0M419.4 435.8h0M418.9 435.5h0M419.7 434.7h0M418.2 433.3h0M419.1 432.7h0M419.9 432.7h0M419 432.4h0M419.6 431.6h0M419.3 430.7h0M419 429.4h0M419.3 427.5h0"/>
<path id="dv1" d="M426.7 477.3h0M427 475.9h0M426.8 473.2h0M427 471.6h0M425.2 471.4h0M426 471.4h0M426.6 470.9h0M427.7 470.8h0M428.5 470.5h0M427 469.9h0M426.7 466.6h0M426.3 465h0M427.5 464.6h0M426.2 462.3h0M427.1 462h0M427.6 461.5h0M426.1 461.4h0M426.9 461.2h0M427.6 460.8h0M425.6 460.5h0M426.5 460.4h0M427.2 460.2h0M428 459.7h0M426.6 459.3h0M427.4 459.1h0M426 458.2h0M426.7 457.6h0M427.7 457.6h0M425.2 457.5h0M425.8 457.5h0M426.5 457.3h0M427 457.1h0M428 456.9h0M428.6 456.8h0M426.7 456.2h0M427.1 455.6h0M425.9 455.1h0M427.1 454.6h0M427.6 454.6h0M426.5 454.4h0M427.2 453.9h0M426.7 452.6h0M426.7 452h0M425.1 451.4h0M425.9 451.3h0M426.7 450.8h0M427.9 450.6h0M428.6 450.6h0M426.5 450h0M427.1 449.5h0M425.2 449.3h0M426 449h0M426.9 448.9h0M427.7 448.9h0M428.4 448.7h0M426.6 448h0M427.1 447.9h0M425.9 447.2h0M426.7 447.2h0M427.9 446.7h0M425.3 446.4h0M425.8 446.3h0M427.1 446.1h0M427.6 446h0M428.6 445.6h0M425.8 445.5h0M426.8 445.3h0M427.9 445.3h0M426.2 444.2h0M426.8 443.8h0M427.6 443.6h0M425.8 443.2h0M426.9 443.1h0M427.6 442.7h0M427 442.3h0M426.3 441.1h0M427.1 440.8h0M425.8 440.5h0M426.7 440.4h0M427.9 440.2h0M425.1 439.1h0M425.9 439.1h0M426.8 438.8h0M427.7 438.8h0M428.6 438.6h0M426.2 437.7h0M427.2 437.5h0M426.4 437.2h0M427 436.6h0M425.9 436.4h0M426.9 436.2h0M427.7 435.5h0M426 435h0M427 434.9h0M427.9 434.5h0M426.4 434.1h0M427.1 433.9h0M426.9 433.2h0M426.6 430.2h0M426.6 429.4h0M427.4 428.9h0"/>
<path id="dv2" d="M434.4 468.5h0M434.3 462.7h0M434.4 462.4h0M434.6 460.6h0M434.1 459.8h0M434.9 459.6h0M434.6 459h0M434.6 454.9h0M434.3 454.4h0M434.9 453.7h0M433.3 453.5h0M434.1 453.2h0M434.8 453h0M435.6 452.9h0M434.3 452.4h0M435 451.9h0M433 451.4h0M433.9 450.7h0M434.7 450.5h0M435.9 450.5h0M433.9 450.5h0M434.5 450.4h0M435.4 449.8h0M434.3 448.7h0M433.6 448.4h0M434.3 448.1h0M435.3 448h0M433.9 447.3h0M435 447.3h0M433 446.4h0M433.6 446.3h0M433.7 446.2h0M434.6 446.2h0M435.1 445.8h0M435.4 445.6h0M436.5 445.5h0M432.9 445.3h0M433.6 445.3h0M434.4 444.9h0M435.1 444.7h0M436.3 444.6h0M432.7 444.4h0M433.2 444.3h0M433.6 444.1h0M433.7 444h0M434.3 444h0M434.6 443.9h0M435 443.9h0M435.4 443.8h0M435.6 443.8h0M435.9 443.6h0M436.4 443.6h0M433.1 443.4h0M434.2 442.9h0M434.9 442.8h0M435.9 442.6h0M434.3 442h0M435 441.6h0M433.9 441.2h0M434.8 440.9h0M433.4 440.2h0M434.4 439.9h0M435.3 439.8h0M433.6 439.3h0M434.4 438.7h0M435.5 438.6h0M432.6 438.4h0M433.6 438.4h0M434.4 438.2h0M435.1 437.6h0M436.3 437.6h0M434 437.4h0M435 437.4h0M432.8 436.2h0M433.7 436.2h0M434.7 435.6h0M435.6 435.6h0M436.1 435.5h0M434.7 434.7h0M434.5 433.6h0M434.4 430.7h0M434.2 429.8h0M435.1 429.6h0M433.1 427.5h0M434.3 427.3h0M435.1 426.9h0M436 426.5h0M434.1 426.4h0M435.2 426.1h0M434.3 425.3h0"/>
<path id="dv3" d="M442 443.6h0M441.5 442.9h0M442.5 442.6h0M442.3 440.5h0M442.4 439.4h0M442.1 438.2h0M441.5 436.9h0M442.3 436.6h0M443.2 436.5h0M441.6 435.3h0M442.5 434.5h0M441.8 433.8h0M442.8 433.5h0M442.3 432.9h0M441.9 432.3h0M441.8 431.2h0M442.7 430.7h0M442.3 430.3h0M441.2 429.3h0M442.4 429.2h0M443.2 428.6h0M440.4 428.5h0M441 428.4h0M441.9 428.1h0M442.5 428h0M443.1 427.8h0M443.7 427.5h0M442 427.4h0M442 425.8h0M442.1 425.3h0M441.5 424.3h0M442 424.1h0M442.9 424h0M441.4 423.5h0M442.2 423.4h0M443.2 422.6h0M440.7 422.4h0M441.7 422.4h0M442.6 422h0M443.5 421.9h0M442.3 421.4h0M440.6 420.3h0M441.1 420.3h0M441.3 420.2h0M441.9 420.2h0M442.5 420.1h0M442.8 419.8h0M443.2 419.8h0M443.6 419.5h0M442 419.4h0M442.8 418.6h0M441.9 417.7h0M440.2 417.4h0M441.5 417.3h0M442.4 417.2h0M443.2 416.9h0M443.8 416.7h0M441.9 416.3h0M442.4 416h0M441.3 415.5h0M441.9 415h0M442.9 415h0M441.1 414.5h0M442.3 414.4h0M443 414.1h0M441.8 413.1h0M442.6 412.8h0M441.1 412.5h0M442 412.3h0M442.9 411.5h0M441.7 411h0M442.6 410.6h0M442.2 409.6h0M442 409.1h0M442.5 409.1h0M441.3 408.5h0M442 408.1h0M442.9 408h0M441.9 407.3h0M442.4 406.7h0M441.5 406.5h0M442.4 406.2h0M441.8 405.5h0M442.6 405.3h0M442 404.2h0M442.8 404.2h0M442 401.8h0"/>
<path id="dv4" d="M449.9 416.5h0M449.6 413.7h0M450.1 413.6h0M448.9 413.4h0M449.7 413.1h0M450.7 412.7h0M450 411.6h0M450 405.6h0M449.4 405.5h0M450.5 404.5h0M449.7 403.6h0M450.2 403.5h0M448.7 403.1h0M449.6 402.9h0M450.4 402.6h0M449.8 401.2h0M448.6 399.3h0M449.5 399.3h0M450.1 398.5h0M451.1 398.5h0M449.4 398.3h0M450.3 398.1h0M448.8 397.4h0M449.6 397.2h0M450.6 396.5h0M449.6 396.2h0M450.1 395.3h0M448.4 394.4h0M449.7 394.3h0M450 394h0M451.3 393.9h0M447.9 393.5h0M448.8 393.3h0M449.5 393.3h0M449.8 393.1h0M450.2 393.1h0M451.2 392.8h0M451.4 392.6h0M448.2 392.4h0M449.2 392.2h0M449.7 392h0M450.8 391.8h0M451.3 391.7h0M449.2 391.2h0M449.7 391.2h0M450.5 391.2h0M449.4 390.2h0M450 390.1h0M448.6 389.4h0M449.5 389.2h0M450.1 389h0M451.3 388.9h0M448.3 388.2h0M448.6 388h0M449 387.8h0M449.7 387.8h0M450 387.6h0M450.8 387.6h0M450.9 387.6h0M451.4 387.5h0M448.2 387.3h0M449.2 387h0M449.9 387h0M450.6 386.6h0M451.3 386.5h0M448.5 386.3h0M449.6 386.2h0M450.3 386h0M451.3 385.8h0M450.1 384.7h0M448.9 384.3h0M449.8 384.2h0M450.5 383.6h0M449.7 383.2h0M449.8 382h0"/>
<path id="dv5" d="M457.7 470.7h0M457 470.4h0M457.7 470h0M457.3 469.3h0M457.1 468.5h0M457.8 467.7h0M457.2 467.2h0M458 466.5h0M457.6 466.4h0M457.1 465.5h0M458.2 465.3h0M456.7 464.1h0M457.7 463.9h0M458.5 463.8h0M457.2 461.5h0M458.1 461.2h0M455.8 458.4h0M456.7 458.2h0M457.3 458h0M457.7 457.9h0M458.7 457.9h0M459.4 457.5h0M456 457.4h0M457.1 457.2h0M458 456.8h0M458.9 456.6h0M456.8 456.5h0M457.6 456.1h0M458.3 456h0M455.8 455.2h0M456.9 455h0M457.3 454.9h0M458.2 454.8h0M459.1 454.7h0M456.4 454.2h0M457.7 454.2h0M458.5 453.6h0M456.5 453.3h0M457.2 453.1h0M458 452.9h0M459 452.7h0M456.8 452h0M457.4 451.7h0M458.4 451.6h0M455.8 450.9h0M456.4 450.8h0M457.3 450.8h0M458.6 450.8h0M459 450.7h0M456.6 450.4h0M457.3 450.2h0M458.3 449.5h0M456.9 449.5h0M457.6 448.7h0M458.3 448.6h0M456.4 448.4h0M457.7 447.9h0M458.5 447.8h0M457.6 447.5h0M455.8 446.2h0M456.6 446h0M457.6 446h0M458.4 445.6h0M459.1 445.6h0M456.8 445.4h0M457.7 445.1h0M458.3 444.6h0M456.9 444.3h0M457.7 443.8h0M457.3 442.9h0M457.5 442.4h0M456.2 441.2h0M457.2 441.1h0M458 441h0M459 440.6h0M457.2 440.1h0M457.9 440h0M457.7 439.3h0M456.4 438.3h0M457.4 437.6h0M458.4 437.5h0M457.3 437.2h0M457.8 437.1h0M457.1 435.4h0M458 434.8h0M456.2 434.5h0M457.3 434.2h0M457.9 433.9h0M458.9 433.6h0M457.3 432.7h0M457.7 432.5h0M457.6 430.6h0M457.5 427.7h0M457.6 425.6h0M457.1 425h0M457.7 424.5h0"/>
<path id="dv6" d="M465.3 475.1h0M464.9 473.6h0M465.5 473.6h0M464.7 472.4h0M465.7 471.8h0M464.9 471.3h0M465 470.3h0M463.2 469.5h0M464.4 469.3h0M465 469h0M465.8 469h0M467 468.6h0M464.2 468.2h0M465.1 468.2h0M465.9 467.6h0M464.5 467.3h0M465.2 467h0M465.9 466.7h0M465.4 465.9h0M464.1 465.2h0M464.9 464.8h0M465.7 464.6h0M466.4 464.5h0M464.9 464h0M464.1 463.3h0M464.9 463.1h0M465.6 462.8h0M466.2 462.8h0M464.1 461.8h0M465.2 461.8h0M466 461.7h0M464.5 461.4h0M465.2 460.7h0M466 460.5h0M464.9 460.2h0M465.5 459.5h0M465.2 459.3h0M463.7 458.4h0M464 458.4h0M464.7 458.1h0M465.1 458.1h0M465.6 458.1h0M466.4 457.9h0M466.9 457.5h0M464.2 457.4h0M465.2 456.9h0M465.9 456.7h0M463.4 456.4h0M464.4 456.2h0M465.2 455.7h0M466 455.5h0M466.7 455.5h0M464.3 455.4h0M465.3 455.3h0M465.9 454.7h0M464 454.5h0M464.9 454.2h0M465.4 453.7h0M466.2 453.6h0M463.6 453.4h0M464.5 453.3h0M465.3 453.3h0M466.1 453.2h0M466.7 453h0M464.6 452.2h0M465.5 452h0M464.6 450.4h0M465.7 449.6h0M464.9 449.3h0M465.5 449h0M464.2 448.1h0M464.9 447.6h0M466.1 447.6h0M464.5 447.3h0M465.3 446.9h0M465.1 445.7h0M464.4 445.3h0M465.1 445.2h0M466.2 444.7h0M465.2 444.1h0M464.8 443.4h0M465.5 443.2h0M464.9 441.7h0M464.6 441.4h0M465.7 441.3h0M464.9 440.3h0M465.7 440.1h0M464.6 436.8h0M465.4 436.5h0M464.3 436.5h0M465 436.3h0M466 435.5h0M465.2 434.3h0M465 431.6h0M465 431.4h0M464.9 430h0M465.7 429.8h0M465 429.3h0M465.8 429h0M464.6 428h0M465.5 428h0M465 427.1h0M464.9 426.1h0M465.4 425.9h0M464.6 425.3h0M465.5 424.5h0"/>
<path id="dv7" d="M472.9 448h0M472.9 445.4h0M472.6 442.9h0M472.5 441.5h0M473.4 440.7h0M472.6 439.1h0M473 438.4h0M471.5 437.4h0M472.6 437.2h0M473.1 437.2h0M474.3 436.8h0M472.4 436.1h0M473.2 436h0M471.1 435.5h0M471.6 435.4h0M472.6 435.2h0M473.3 434.9h0M473.9 434.7h0M474.8 434.7h0M471.7 434.3h0M472.2 434.1h0M473.4 433.8h0M474.1 433.6h0M472.1 432.9h0M473.1 432.8h0M472.6 432h0M473.3 431.8h0M471.9 431.1h0M473 430.8h0M473.7 430.6h0M471 429.9h0M472 429.7h0M472.8 429.7h0M473.8 429.6h0M474.7 429.6h0M471.4 429.4h0M471.6 429.2h0M472 429.2h0M472.4 429.2h0M473.3 429.2h0M473.7 429.1h0M474.2 429h0M474.5 428.8h0M472.6 428.2h0M473.1 428h0M471.2 427.4h0M472 427.4h0M472.8 427.1h0M473.8 426.9h0M474.6 426.8h0M472.7 425.8h0M471.9 425.5h0M473 425.3h0M473.6 424.7h0M472.6 423.9h0M472.2 423.4h0M472.8 423.3h0M473.5 422.8h0M472.6 421.9h0M473.4 421.6h0M471.8 421.4h0M472.6 420.9h0M473.8 420.7h0M472.6 419.3h0M473.2 418.6h0M471.9 418.3h0M472.8 417.9h0M473.8 417.6h0M472.6 417.4h0M473.2 417.1h0M472.6 416.3h0M473.2 415.6h0M473 415.5h0M472.7 414h0M472.7 412.1h0"/>
<path id="dv8" d="M480.4 448h0M479.9 447.3h0M480.2 446.7h0M481.4 446.6h0M480.5 445.9h0M479.6 445.3h0M480.4 445.1h0M481.5 444.9h0M479.7 444.4h0M480.4 443.6h0M481.2 443.6h0M480.4 443.2h0M479.3 441.4h0M480.1 441.2h0M481.1 440.9h0M481.5 440.5h0M479 440.4h0M479.4 440.3h0M480.3 440.1h0M480.6 439.9h0M481.4 439.9h0M482 439.8h0M478.5 439.4h0M479.3 439.4h0M479.3 439.3h0M479.7 439.2h0M480.4 439.2h0M480.6 439h0M481.2 439h0M481.3 439h0M481.9 438.7h0M482.2 438.6h0M478.7 438.5h0M479.6 438.1h0M480.4 437.9h0M481.1 437.8h0M482.3 437.6h0M479.1 437.3h0M480.1 437.2h0M480.9 436.7h0M481.8 436.7h0M479.4 436.1h0M480.6 436h0M481.5 435.8h0M479.4 435.5h0M480.6 435.2h0M481.1 435.1h0M478.9 434.4h0M479.6 434.4h0M480.5 434.3h0M481.1 433.8h0M482.3 433.7h0M480.6 433.4h0M480 432.3h0M480.8 431.7h0M479.2 431.2h0M479.9 431.1h0M481 430.6h0M481.7 430.5h0M479.1 429.9h0M480 429.8h0M480.9 429.7h0M481.6 429.6h0M478.7 429.3h0M479.4 429.1h0M480.5 429.1h0M481.2 428.9h0M481.9 428.9h0M479.7 426.4h0M480.4 426.3h0M481.1 425.9h0M480.3 425.3h0M481 424.6h0M480.5 424.3h0M480.3 422.3h0"/>
<path id="dv9" d="M488 450.9h0M487.6 447.9h0M488.6 447.8h0M488 446.2h0M487.6 444.4h0M488.8 443.7h0M488 442h0M488.4 439.7h0M487.8 439.3h0M488.8 438.8h0M488.4 438.1h0M488.1 435.7h0M488.3 435h0M487.1 434.2h0M488.4 434h0M488.8 433.8h0M488.1 433.5h0M487.9 431.5h0M488.7 431h0M487.3 429.2h0M488.1 428.9h0M488.8 428.8h0M487.9 428h0M488.6 427.5h0M487.8 426.1h0M488.5 425.6h0M487.7 425.1h0M488.6 424.7h0M488.1 423.5h0M486.2 423.2h0M487.2 423h0M487.4 422.9h0M488.2 422.9h0M488.8 422.7h0M489.1 422.6h0M489.7 422.5h0M486.3 422.5h0M487.3 422h0M488.2 422h0M488.9 421.8h0M490 421.6h0M486.6 421.5h0M486.8 421.5h0M487.6 421.4h0M488.4 421.3h0M488.7 420.9h0M489 420.8h0M490 420.7h0M486.7 420.3h0M486.9 420.3h0M487.2 420.2h0M487.4 420.1h0M488 420h0M488.6 419.8h0M488.6 419.8h0M489.2 419.8h0M489.6 419.8h0M489.9 419.7h0M486.3 419.2h0M487.3 419h0M487.7 418.9h0M488.7 418.7h0M489.1 418.7h0M490 418.7h0M486.9 418.3h0M487.9 417.9h0M488.7 417.7h0M489.5 417.6h0M486.3 417.4h0M486.8 417.3h0M487.7 417.1h0M488.3 417h0M488.8 416.8h0M489.3 416.7h0M489.7 416.6h0M487.5 416.3h0M488.6 415.8h0M487.8 415.1h0M488.3 414.8h0M488.3 414.1h0M487.9 412.1h0"/>
<path id="dv10" d="M495.8 459.7h0M495.8 457.6h0M495.4 456.3h0M496.4 456h0M496 454.9h0M494.5 454.5h0M495.6 454.4h0M496.4 454.1h0M497 453.7h0M496 452.8h0M495.4 452.1h0M496.3 451.8h0M495.8 450.6h0M496 449.5h0M495.2 449.5h0M496.2 449.1h0M495.7 447.7h0M495.6 447.2h0M495.4 446.3h0M496.4 445.6h0M495.1 444.9h0M496 444.6h0M495.2 443.9h0M496.3 443.6h0M494.2 443.2h0M494.7 443.2h0M495.3 442.9h0M496.2 442.8h0M496.9 442.7h0M497.3 442.5h0M494.7 442.4h0M495.6 442.1h0M496.7 442h0M495.8 440.6h0M495.6 440.1h0M496.1 439.8h0M495.7 439.3h0M495.5 438.1h0M496.1 437.9h0M494.4 437.4h0M495.6 437.3h0M496.2 437h0M497 436.8h0M494.8 436.5h0M495.6 435.6h0M496.6 435.5h0M494.1 434.5h0M495.2 434.3h0M495.9 434h0M496.6 433.6h0M497.5 433.5h0M494.3 433.5h0M494.5 433.4h0M495.3 433.4h0M496.1 433.2h0M497 433h0M497.5 433h0M495.8 432.4h0M495 431.1h0M496 430.6h0M496.7 430.6h0M494.2 430.4h0M494.9 430.4h0M495.6 430.2h0M496.7 430.2h0M497.7 429.6h0M495.6 429h0M494.2 428.4h0M494.9 428.2h0M496 428.1h0M496.7 427.9h0M497.3 427.9h0M494.5 427.1h0M495.4 427.1h0M496.4 427h0M497.2 426.6h0M494.8 424.4h0M495.6 424.2h0M496.7 423.7h0M495.6 422.9h0M494.6 422.4h0M495.3 422.3h0M496 421.6h0M497.1 421.6h0M495.7 420.6h0M495.4 420h0M496.1 420h0M495.5 419.1h0M496.1 418.7h0M496 417.8h0M495.5 416.7h0M496 416.6h0M495.5 415.8h0M496.4 415.6h0M495.9 414.3h0"/>
</defs>
<g fill="none" stroke-linecap="round">
<use href="#dv0" stroke="#1c1c1c" stroke-width="2.4"/>
<use href="#dv1" stroke="#1c1c1c" stroke-width="2.4"/>
<use href="#dv2" stroke="#1c1c1c" stroke-width="2.4"/>
<use href="#dv3" stroke="#1c1c1c" stroke-width="2.4"/>
<use href="#dv4" stroke="#1c1c1c" stroke-width="2.4"/>
<use href="#dv5" stroke="#1c1c1c" stroke-width="2.4"/>
<use href="#dv6" stroke="#1c1c1c" stroke-width="2.4"/>
<use href="#dv7" stroke="#1c1c1c" stroke-width="2.4"/>
<use href="#dv8" stroke="#1c1c1c" stroke-width="2.4"/>
<use href="#dv9" stroke="#1c1c1c" stroke-width="2.4"/>
<use href="#dv10" stroke="#1c1c1c" stroke-width="2.4"/>
<g opacity="0.42">
<use href="#dv0" stroke="#6a2040" stroke-width="0.6"/>
<use href="#dv1" stroke="#2a2d68" stroke-width="0.6"/>
<use href="#dv2" stroke="#a08060" stroke-width="0.6"/>
<use href="#dv3" stroke="#5e5e2a" stroke-width="0.6"/>
<use href="#dv4" stroke="#6a6a6a" stroke-width="0.6"/>
<use href="#dv5" stroke="#2a6a38" stroke-width="0.6"/>
<use href="#dv6" stroke="#9a5a20" stroke-width="0.6"/>
<use href="#dv7" stroke="#2a3a70" stroke-width="0.6"/>
<use href="#dv8" stroke="#987088" stroke-width="0.6"/>
<use href="#dv9" stroke="#8a98aa" stroke-width="0.6"/>
<use href="#dv10" stroke="#948a22" stroke-width="0.6"/>
</g>
</g>
<path d="M414.4 452.4h86.5" stroke="#111" stroke-width="0.9"/>
<g font-size="7.6" fill="#333" text-anchor="end">
<text transform="translate(421.9,528.3) rotate(-90)">PAC</text>
<text transform="translate(429.56,528.3) rotate(-90)">CC</text>
<text transform="translate(437.22,528.3) rotate(-90)">GEEC</text>
<text transform="translate(444.88,528.3) rotate(-90)">GMC</text>
<text transform="translate(452.54,528.3) rotate(-90)">MTC</text>
<text transform="translate(460.2,528.3) rotate(-90)">EC</text>
<text transform="translate(467.86,528.3) rotate(-90)">FB</text>
<text transform="translate(475.52,528.3) rotate(-90)">MC</text>
<text transform="translate(483.18,528.3) rotate(-90)">NP</text>
<text transform="translate(490.84,528.3) rotate(-90)">TC</text>
<text transform="translate(498.5,528.3) rotate(-90)">PC</text>
</g>
<rect x="511" y="378.5" width="87.2" height="37.25" fill="#e3f3e5"/>
<text x="596" y="389.7" font-size="9.9" fill="#333" text-anchor="end">vi. EC</text>
<g stroke="#222" stroke-width="0.9" fill="none">
<path d="M510.4 379.1V525.8H597.6"/>
<path d="M510.4 525.7h-2.6M510.4 511.04h-2.6M510.4 496.38h-2.6M510.4 481.72h-2.6M510.4 467.06h-2.6M510.4 452.4h-2.6M510.4 437.74h-2.6M510.4 423.08h-2.6M510.4 408.42h-2.6M510.4 393.76h-2.6M510.4 379.1h-2.6M515.2 525.8v2.6M522.86 525.8v2.6M530.52 525.8v2.6M538.18 525.8v2.6M545.84 525.8v2.6M553.5 525.8v2.6M561.16 525.8v2.6M568.82 525.8v2.6M576.48 525.8v2.6M584.14 525.8v2.6M591.8 525.8v2.6" stroke-width="0.8"/>
</g>
<defs>
<path id="dvi0" d="M515.2 500h0M515 499.2h0M515.7 498.8h0M515.4 498.1h0M513.8 497.4h0M515 496.9h0M515.8 496.8h0M516.6 496.6h0M513.7 496h0M514.2 495.9h0M515 495.8h0M516 495.8h0M516.7 495.6h0M513.5 495.3h0M514.1 495.1h0M514.8 495h0M515.4 494.8h0M515.7 494.7h0M516.2 494.6h0M517.1 494.5h0M513.7 494.4h0M514.1 494.3h0M514.3 494.2h0M514.5 494.2h0M514.9 494.1h0M515.5 494.1h0M515.5 493.9h0M516.3 493.8h0M516.4 493.7h0M516.8 493.6h0M514.1 493h0M514.8 492.7h0M515.7 492.7h0M516.4 492.5h0M514.3 491.4h0M515 491.2h0M515.8 491.2h0M513.4 490.5h0M514 490.4h0M514.2 490.1h0M514.8 490h0M515.3 489.9h0M515.7 489.9h0M516.3 489.8h0M517 489.7h0M514.7 489h0M515.9 488.5h0M514.5 488.3h0M515 488.3h0M516.1 488h0M514.6 487.4h0M515.7 486.6h0M513.6 486.3h0M514 486h0M514.3 486h0M514.8 485.8h0M515.7 485.8h0M515.9 485.8h0M516.2 485.6h0M516.7 485.5h0M514.9 485.4h0M515.5 485.2h0M515.2 484.3h0M515.3 483.3h0M514.7 482.2h0M515.7 482.1h0M515.2 481h0M515.4 479.2h0M515 477.4h0M515.4 474.5h0M514.5 473.5h0M515.2 473h0M516 472.7h0M515.2 471.9h0M514.6 471.5h0M515.8 470.7h0M515 468.6h0M514.1 467.2h0M514.9 466.7h0M515.7 466.7h0M516.7 466.5h0M514.8 464.9h0M515.9 464.7h0M515.2 459.7h0"/>
<path id="dvi1" d="M522.7 497.8h0M522 497.2h0M522.8 497.1h0M523.8 497.1h0M522.6 495.5h0M521.9 494.5h0M522.8 494.2h0M523.9 494.1h0M521.4 493.5h0M522.3 493.4h0M523.2 493.2h0M524.2 492.6h0M521.4 492.5h0M521.6 492.4h0M522.5 492.4h0M523.2 492.3h0M523.9 492.1h0M524.5 491.7h0M521.5 491.2h0M522.5 491.1h0M523.2 491h0M524.2 490.5h0M522.7 490.1h0M523.1 489.9h0M521.6 489.3h0M522.4 489.2h0M523.4 488.9h0M524.3 488.6h0M520.9 488.2h0M521.9 488h0M522.7 487.9h0M523.1 487.9h0M524 487.7h0M524.7 487.6h0M521.2 487.5h0M521.9 487.5h0M522.8 487.1h0M523.6 487.1h0M524.5 486.8h0M521.5 486.4h0M522.6 485.7h0M523.5 485.7h0M524.4 485.7h0M521 485.3h0M522 485.2h0M522.7 485h0M523.7 484.9h0M524.3 484.9h0M522.6 484.2h0M522.4 483.1h0M523.1 483.1h0M522.8 482.3h0M521.9 481.5h0M522.9 481.3h0M523.9 481h0M522.4 479.5h0M523.3 479.5h0M522.9 477.7h0M522.9 477.3h0M522 476.3h0M523 476.2h0M523.6 475.5h0M522.2 475.4h0M523.5 474.6h0M522.5 474.1h0M523.1 473.7h0M522.6 472.4h0M523.4 472.4h0M523 469.9h0M522.2 468.1h0M522.8 467.7h0M523.7 467.7h0M521.4 465.4h0M522.6 465.1h0M523.3 464.6h0M524.3 464.6h0M523 463.7h0M523 460.5h0"/>
<path id="dvi2" d="M530.6 486.9h0M530.6 484.6h0M529.1 484.2h0M530.3 484.1h0M531.1 483.9h0M531.6 483.7h0M530 483.5h0M530.9 483h0M529.4 482.2h0M530.2 481.9h0M531.1 481.8h0M531.9 481.7h0M530.6 481.3h0M530.3 480.3h0M531.1 479.6h0M530.2 479.3h0M530.7 478.6h0M529.1 478.2h0M529.9 477.9h0M530.3 477.9h0M531.3 477.7h0M532.1 477.6h0M529.2 477.3h0M530.1 476.9h0M530.8 476.8h0M531.9 476.6h0M529 476.2h0M530.1 475.9h0M531.1 475.8h0M531.8 475.7h0M528.9 475.3h0M529.1 475h0M529.9 475h0M530 475h0M530.4 474.9h0M531 474.8h0M531.6 474.7h0M531.6 474.6h0M532.4 474.6h0M528.8 474.3h0M529.7 474.2h0M530.3 474h0M531.5 473.7h0M532 473.6h0M528.8 473.4h0M529.8 473.2h0M530.6 473.2h0M531.3 472.9h0M532.1 472.5h0M529.8 472.2h0M530.5 472.1h0M531.6 472.1h0M529.8 471.3h0M531.2 471.2h0M529.5 470.5h0M530.6 470.1h0M531.6 469.8h0M529.9 467.8h0M531.1 467.7h0M529.3 467.3h0M530.2 467.3h0M531.2 466.7h0M531.6 466.6h0M530.5 465.7h0M530.8 464.9h0M530.6 464.1h0M530.5 461.7h0M530.7 459.7h0M530.5 458.7h0M530.2 458.5h0M530.7 457.7h0M530.7 456.9h0M530.6 455.9h0M530.5 453.9h0M530.4 452.4h0"/>
<path id="dvi3" d="M538.1 492.7h0M537.9 491.8h0M537.6 490.8h0M538.7 490.8h0M537.4 490.3h0M537.9 490.1h0M538.8 489.8h0M537.5 489.1h0M538.2 488.6h0M539.2 488.5h0M537.8 488.2h0M538.7 488.1h0M536.9 487.1h0M537.6 487h0M538.4 487h0M539.4 486.6h0M536.6 486.2h0M537 486.2h0M537.6 485.9h0M538.5 485.8h0M539.4 485.7h0M539.7 485.6h0M536.6 485.5h0M537.2 485.4h0M537.6 485.2h0M538.1 485.1h0M538.6 484.7h0M539.5 484.6h0M539.8 484.6h0M537.5 483.8h0M538.7 483.8h0M536.3 483.5h0M537.2 483.5h0M537.3 483.4h0M538.1 483.3h0M538.5 483h0M538.9 482.9h0M539.4 482.8h0M540.1 482.5h0M537.1 482.1h0M538.1 481.9h0M538.9 481.7h0M536.3 481.5h0M537 481.4h0M537.2 481.2h0M537.9 481.2h0M538.6 481.2h0M538.7 481.1h0M539.5 480.6h0M539.8 480.5h0M536.8 480.4h0M537.7 480.3h0M538.5 480.2h0M539.6 479.7h0M537.5 479.3h0M538.3 479h0M538.9 478.9h0M537.2 478.5h0M537.9 478h0M538.4 477.8h0M539.4 477.7h0M538.3 476.7h0M538.2 475.7h0M538 474.9h0M538 473h0M538.6 472.5h0M537.6 471.7h0M538.7 471.6h0M537.7 471.1h0M538.4 470.8h0M537.6 469.2h0M538.8 469.1h0M538 468.4h0M538.2 466.6h0M537.3 465.2h0M538.1 464.9h0M539 464.8h0M537.6 462.9h0M538.4 462.8h0M538 461.9h0M537.9 459.2h0M538.5 458.5h0M538.1 458h0M538 455.3h0M538.4 454.7h0M537.8 451.5h0M538.4 450.9h0"/>
<path id="dvi4" d="M545.7 470.7h0M545.4 467.7h0M546.4 467.7h0M545.5 467.2h0M546.2 466.8h0M545.3 465.2h0M546.2 464.9h0M546 463.6h0M545.8 463.4h0M545.8 461.6h0M545 461.4h0M545.8 461h0M546.5 460.9h0M544.9 460.5h0M545.9 459.7h0M546.7 459.6h0M544.5 459.4h0M545.6 459.3h0M546.3 458.7h0M546.9 458.7h0M545.7 457.2h0M544.1 456.4h0M545 456h0M545.9 455.6h0M546.8 455.6h0M547.5 455.5h0M544.1 455.4h0M544.6 455.3h0M545.6 455.2h0M546 455.2h0M546.9 455.1h0M547.7 454.6h0M544.8 454.4h0M545.2 454.3h0M546.1 454.2h0M547.2 454.1h0M544 453.5h0M544.8 453.4h0M545.9 452.8h0M546.8 452.8h0M547.7 452.6h0M544.1 452.5h0M544.8 452.5h0M545.8 452.3h0M546.5 451.9h0M547.4 451.5h0M545.9 451.2h0M544.2 450.4h0M544.9 450.1h0M545.9 450h0M546.7 449.9h0M547.5 449.5h0M544.1 449.4h0M545 449.2h0M545.7 449.1h0M546.9 448.7h0M547.4 448.7h0M545.3 447.4h0M546.1 446.7h0M545.6 446.4h0M546 445.2h0M545.9 443.8h0M545 443.4h0M545.9 443.1h0M546.5 443.1h0M545.8 441.9h0M545.7 441.4h0M546.1 441.3h0M545 440.2h0M545.8 439.8h0M546.6 439.7h0M545.6 439.4h0M545.7 437.9h0M545.7 437.5h0M545.7 434.8h0"/>
<path id="dvi5" d="M553.5 415.8h0M553.7 413.9h0M553.4 412.6h0M552.9 412.3h0M553.8 412h0M553.7 411h0M553.6 409.2h0M552.9 407.4h0M554.1 406.7h0M553.6 406.2h0M552.5 404.9h0M553.3 404.9h0M554.5 404.7h0M552.4 404.1h0M553.2 404h0M554.2 403.9h0M554.7 403.8h0M552.9 403.2h0M553.5 402.8h0M554.3 402.7h0M552.5 402.4h0M553.3 402.3h0M554.4 402.1h0M551.8 401.2h0M552.4 401h0M552.7 400.9h0M553.4 400.8h0M554.3 400.7h0M554.6 400.7h0M555 400.6h0M553 400.4h0M554 400.1h0M553.2 399.1h0M553.9 398.7h0M552.3 398.2h0M552.9 398.1h0M553.8 398h0M554.6 397.6h0M552.9 397.5h0M553.3 397.2h0M554.3 396.6h0M552 396.2h0M552.5 396.2h0M553.6 396h0M554.2 396h0M555.4 395.7h0M552.4 394.8h0M553.7 394.8h0M554.3 394.5h0M552.6 394.4h0M553.7 394h0M554.4 393.9h0M553.7 392.9h0M551.7 392.4h0M552.7 392.4h0M553.3 392.4h0M553.7 392.3h0M554.3 392.3h0M555.3 391.9h0M552.8 390.9h0M553.7 390.7h0M554.3 390.5h0M553 390.4h0M554.2 389.9h0M551.8 389.4h0M552.4 389.4h0M553.1 389h0M554 388.9h0M554.3 388.7h0M555.2 388.5h0M553.2 388.5h0M553.8 387.7h0M553.6 387.5h0M553.5 385.3h0M553.5 383.5h0"/>
<path id="dvi6" d="M561.3 438.5h0M561.1 437.2h0M561.3 436.4h0M560.5 434.4h0M561 433.8h0M562 433.6h0M561.2 433.4h0M560.7 432.1h0M561.3 431.6h0M561 431.1h0M560 430.2h0M560.7 430.1h0M561.4 430.1h0M562.4 429.6h0M559.9 429h0M560.8 428.8h0M561.8 428.7h0M562.2 428.7h0M561.3 428.2h0M560.8 426.8h0M561.4 426.7h0M560.9 426.4h0M561.4 426.4h0M561.1 425.4h0M560.8 423.9h0M561.8 423.6h0M561.2 423.4h0M560.1 422.4h0M560.8 422.3h0M561.4 421.8h0M562.6 421.6h0M560.5 421.5h0M560.9 420.9h0M562 420.9h0M560 420.4h0M560.5 420.1h0M561.4 420.1h0M562.3 420h0M559.5 419.4h0M560.2 419.3h0M560.4 419.2h0M561.1 419.1h0M561.8 418.7h0M562.5 418.6h0M562.7 418.6h0M560.3 418.5h0M561 418.3h0M562.2 417.7h0M560.1 417.5h0M561.3 417.1h0M562 416.9h0M560 416.3h0M560.8 416.3h0M561.4 415.8h0M562.7 415.8h0M559.3 415.5h0M560 415h0M560.7 415h0M561.7 415h0M562.3 414.9h0M563 414.6h0M559.3 414.2h0M559.9 414.1h0M560.7 414h0M561.2 414h0M561.9 413.8h0M562.3 413.6h0M562.8 413.6h0M560 413.5h0M560.9 413.4h0M561.7 413.2h0M562.5 413h0M560.3 412.4h0M561.1 412.3h0M562.2 412h0M560.9 410.5h0M561.5 410.5h0M561.2 409.7h0M561.1 405.6h0M561.1 405.4h0M560.8 401.6h0M561.5 401.5h0M561 400.6h0M561.3 398.2h0"/>
<path id="dvi7" d="M568.6 443.6h0M568.8 441.2h0M569 439.9h0M568.6 439.2h0M568.6 437.3h0M569 435.8h0M568.9 435.5h0M568.5 432.9h0M569.4 432.8h0M567.3 432.4h0M568 432.3h0M569 431.9h0M569.7 431.6h0M570.4 431.5h0M567.8 431.4h0M568.7 431.3h0M569.5 430.7h0M568.5 430h0M569.3 429.7h0M568.9 429h0M568.2 427.7h0M569.2 427.6h0M567.2 427.4h0M567.5 427.4h0M567.9 427.3h0M568.7 427.2h0M569.3 427.1h0M569.8 427h0M570.1 426.9h0M570.4 426.9h0M568.3 425.8h0M569.2 425.6h0M568.1 424.8h0M569.3 424.7h0M567.3 424.5h0M567.8 424.5h0M568.3 424.4h0M569.1 424.2h0M569.7 423.6h0M570.5 423.5h0M567 423.4h0M567.9 423.3h0M568.5 423.2h0M569 423.2h0M569.3 423.1h0M569.8 423h0M570.6 422.9h0M568.2 422.3h0M569 422.2h0M567.7 421.5h0M568.6 421.4h0M569.4 421.3h0M570.1 421.1h0M566.9 420.5h0M568 420.5h0M568.6 420.4h0M568.9 420h0M569.9 419.8h0M570.3 419.7h0M568.3 419.4h0M569.5 418.8h0M568.5 418.1h0M569.2 417.9h0M567.8 417.2h0M568.6 416.9h0M569.5 416.7h0M568.6 416.5h0M569.4 416.3h0M567.5 415.2h0M568.5 415h0M569.2 414.7h0M570.3 414.5h0M568.6 414.1h0M569.1 414.1h0M568.6 411.4h0M568.3 409.5h0M569.2 408.7h0M568.6 406.2h0"/>
<path id="dvi8" d="M575.1 439.9h0M575.9 439.6h0M576.8 439.6h0M577.6 439.5h0M576.2 438.2h0M576.8 437.7h0M575 437.5h0M575.8 437.1h0M577 436.9h0M577.7 436.7h0M575.5 436.4h0M576.7 436h0M577.1 435.7h0M575.8 435.4h0M576.7 435.2h0M576.2 434.2h0M574.8 433.5h0M575.7 433.5h0M576.4 433.4h0M577.3 433.2h0M578.2 432.7h0M575.4 432.4h0M576.3 431.9h0M577.5 431.9h0M575.2 431.4h0M576.3 431.2h0M577.1 430.8h0M577.9 430.7h0M574.7 430.2h0M575.3 430.1h0M576.3 429.8h0M576.7 429.7h0M577.7 429.6h0M578.2 429.6h0M575.2 428.9h0M575.9 428.9h0M576.8 428.9h0M577.9 428.5h0M574.7 428.5h0M575.4 428.5h0M576.6 428.2h0M577.1 428h0M578.4 427.8h0M574.8 427.5h0M575.5 427.3h0M576.3 427.2h0M576.8 427.2h0M577.3 427.1h0M578.2 426.7h0M575.5 426h0M576.5 425.8h0M577.4 425.6h0M574.8 425.4h0M575.4 425.2h0M576.1 425.1h0M576.8 425h0M577.6 424.7h0M578.3 424.6h0M574.8 424.2h0M575.4 424.2h0M576.1 424h0M576.3 423.9h0M576.9 423.8h0M577.4 423.7h0M578.1 423.7h0M574.7 423.5h0M575.8 423.3h0M576.3 423h0M577.5 422.7h0M578.2 422.7h0M576.2 422.4h0M577 421.8h0M576.3 420.7h0M576.5 420.3h0M576.7 419.4h0"/>
<path id="dvi9" d="M583.9 486.1h0M583.9 483.9h0M583.1 481.4h0M584.3 481.3h0M585.2 480.8h0M583.1 480.3h0M584.4 479.7h0M584.8 479.7h0M583.8 479h0M584.4 478.8h0M583.4 478.5h0M584.1 477.8h0M585.2 477.8h0M582.5 477.5h0M583.3 477.4h0M583.6 477.3h0M584.3 477h0M585.2 476.8h0M585.8 476.6h0M583.7 475.8h0M584.7 475.7h0M583 475h0M584.3 474.7h0M584.8 474.6h0M582.4 474.4h0M583.1 474.2h0M583.5 474.2h0M584 474.1h0M584.8 474h0M585.1 473.6h0M586.1 473.5h0M583 473.5h0M583.8 473.1h0M584.7 472.7h0M585.6 472.7h0M582.3 471.8h0M583.1 471.7h0M584.1 471.7h0M585.2 471.6h0M585.8 471.5h0M583.1 471.5h0M583.7 471.3h0M584.7 471h0M585.3 470.7h0M583 470.3h0M583.5 469.8h0M584.3 469.7h0M585.4 469.7h0M582.8 469.2h0M583.9 468.9h0M584.6 468.7h0M585.3 468.5h0M583.4 467.5h0M584.4 467.1h0M585.2 467h0M584.1 466h0M583.2 464.4h0M584.4 464h0M585.2 463.9h0M583.7 462.9h0M584.8 462.8h0M582.7 461.3h0M583.9 461.3h0M584.4 460.8h0M585.5 460.6h0M583.1 460.1h0M584.2 459.7h0M585.2 459.5h0M584 458.9h0M584.1 456.6h0M584.3 456.1h0M584.1 453h0M584.4 451.8h0M583.9 451.2h0M583.2 450.4h0M584.2 450.2h0M584.8 449.7h0M583.5 449.4h0M584.1 449.2h0M585.2 448.8h0M583.9 447.3h0"/>
<path id="dvi10" d="M592 494.9h0M591.8 493h0M592 492.1h0M591.2 491.1h0M592 491h0M590.1 490.4h0M590.9 490.2h0M591.6 490.1h0M592.1 490.1h0M592.7 489.7h0M593.7 489.6h0M590.5 489.4h0M591.4 489.2h0M592.4 489.1h0M592.9 488.5h0M590.6 488.4h0M591.4 488.3h0M592.4 488h0M593.1 487.6h0M590.1 487.2h0M591.2 487.1h0M591.9 486.7h0M592.4 486.6h0M593.5 486.5h0M591.1 486h0M591.9 485.9h0M592.5 485.5h0M591 485.2h0M591.9 484.8h0M592.5 484.8h0M589.9 484.3h0M590.4 484.2h0M591.3 484h0M591.6 483.8h0M592.5 483.7h0M593 483.7h0M593.6 483.6h0M590.3 483.4h0M590.8 483.3h0M591.3 482.9h0M591.9 482.9h0M592.3 482.9h0M592.7 482.8h0M593.7 482.7h0M591.5 482.2h0M592.5 482h0M591.2 481h0M592.4 480.9h0M591.2 479.3h0M592 479h0M592.6 478.6h0M591.6 477.2h0M591.1 476.2h0M591.6 475.7h0M592.7 475.7h0M591.4 475.4h0M592 474.7h0M591 473h0M591.7 472.9h0M592.6 472.9h0M591 471.5h0M591.9 471.4h0M592.8 470.6h0M591.1 470.3h0M591.6 469.5h0M592.5 469.5h0M591.6 469.2h0M591.3 466.8h0M592.2 466.6h0M591.9 465.3h0M591.8 463.9h0M591.8 461.8h0M591.6 461.1h0M592.3 461h0M591.9 460.5h0"/>
</defs>
<g fill="none" stroke-linecap="round">
<use href="#dvi0" stroke="#1c1c1c" stroke-width="2.4"/>
<use href="#dvi1" stroke="#1c1c1c" stroke-width="2.4"/>
<use href="#dvi2" stroke="#1c1c1c" stroke-width="2.4"/>
<use href="#dvi3" stroke="#1c1c1c" stroke-width="2.4"/>
<use href="#dvi4" stroke="#1c1c1c" stroke-width="2.4"/>
<use href="#dvi5" stroke="#1c1c1c" stroke-width="2.4"/>
<use href="#dvi6" stroke="#1c1c1c" stroke-width="2.4"/>
<use href="#dvi7" stroke="#1c1c1c" stroke-width="2.4"/>
<use href="#dvi8" stroke="#1c1c1c" stroke-width="2.4"/>
<use href="#dvi9" stroke="#1c1c1c" stroke-width="2.4"/>
<use href="#dvi10" stroke="#1c1c1c" stroke-width="2.4"/>
<g opacity="0.42">
<use href="#dvi0" stroke="#6a2040" stroke-width="0.6"/>
<use href="#dvi1" stroke="#2a2d68" stroke-width="0.6"/>
<use href="#dvi2" stroke="#a08060" stroke-width="0.6"/>
<use href="#dvi3" stroke="#5e5e2a" stroke-width="0.6"/>
<use href="#dvi4" stroke="#6a6a6a" stroke-width="0.6"/>
<use href="#dvi5" stroke="#2a6a38" stroke-width="0.6"/>
<use href="#dvi6" stroke="#9a5a20" stroke-width="0.6"/>
<use href="#dvi7" stroke="#2a3a70" stroke-width="0.6"/>
<use href="#dvi8" stroke="#987088" stroke-width="0.6"/>
<use href="#dvi9" stroke="#8a98aa" stroke-width="0.6"/>
<use href="#dvi10" stroke="#948a22" stroke-width="0.6"/>
</g>
</g>
<path d="M510.4 452.4h86.5" stroke="#111" stroke-width="0.9"/>
<g font-size="7.6" fill="#333" text-anchor="end">
<text transform="translate(517.9,528.3) rotate(-90)">PAC</text>
<text transform="translate(525.56,528.3) rotate(-90)">CC</text>
<text transform="translate(533.22,528.3) rotate(-90)">GEEC</text>
<text transform="translate(540.88,528.3) rotate(-90)">GMC</text>
<text transform="translate(548.54,528.3) rotate(-90)">MTC</text>
<text transform="translate(556.2,528.3) rotate(-90)">EC</text>
<text transform="translate(563.86,528.3) rotate(-90)">FB</text>
<text transform="translate(571.52,528.3) rotate(-90)">MC</text>
<text transform="translate(579.18,528.3) rotate(-90)">NP</text>
<text transform="translate(586.84,528.3) rotate(-90)">TC</text>
<text transform="translate(594.5,528.3) rotate(-90)">PC</text>
</g>
<rect x="607.1" y="378.5" width="87.2" height="37.25" fill="#fde9dd"/>
<text x="692.1" y="389.7" font-size="9.9" fill="#333" text-anchor="end">vii. FB</text>
<g stroke="#222" stroke-width="0.9" fill="none">
<path d="M606.5 379.1V525.8H693.7"/>
<path d="M606.5 525.7h-2.6M606.5 511.04h-2.6M606.5 496.38h-2.6M606.5 481.72h-2.6M606.5 467.06h-2.6M606.5 452.4h-2.6M606.5 437.74h-2.6M606.5 423.08h-2.6M606.5 408.42h-2.6M606.5 393.76h-2.6M606.5 379.1h-2.6M611.3 525.8v2.6M618.96 525.8v2.6M626.62 525.8v2.6M634.28 525.8v2.6M641.94 525.8v2.6M649.6 525.8v2.6M657.26 525.8v2.6M664.92 525.8v2.6M672.58 525.8v2.6M680.24 525.8v2.6M687.9 525.8v2.6" stroke-width="0.8"/>
</g>
<defs>
<path id="dvii0" d="M611.3 511.8h0M610.5 511.1h0M611.3 511h0M612.2 510.6h0M610.2 510.3h0M610.8 509.8h0M611.7 509.8h0M612.6 509.6h0M610 509.2h0M610.7 509.1h0M611.7 508.9h0M612.4 508.6h0M610.4 508.3h0M611.4 508.2h0M612 507.8h0M610.2 507.5h0M610.8 507.4h0M611.7 507h0M612.5 506.9h0M609.8 506.4h0M610.1 506.2h0M611.2 506h0M611.8 505.8h0M612.3 505.8h0M613.1 505.6h0M609.8 505.3h0M610.6 505.2h0M611.3 505.1h0M612.1 505h0M613.1 504.9h0M609.5 504.4h0M610.6 504.3h0M611.1 503.9h0M612.1 503.8h0M613.1 503.7h0M609.6 503.4h0M610.1 503.3h0M611.2 503.3h0M611.9 503.1h0M612.3 502.8h0M613 502.7h0M609.8 502.4h0M610.1 502.3h0M611.2 502.3h0M611.6 502.2h0M612.1 502.1h0M613.1 502h0M609.7 501.5h0M610.4 501.3h0M610.8 501.2h0M611.4 501.1h0M612.5 501h0M613.2 500.7h0M609.8 500.1h0M610.7 500h0M611.8 499.8h0M612.4 499.5h0M611.3 498.8h0M610.5 498.2h0M611.1 498h0M612.3 497.5h0M611.4 496.6h0M611.4 495h0M611 493h0M611.5 492.9h0M611.4 492.1h0M611.1 490.2h0M611.6 490h0M611.5 489.3h0M610.3 488.4h0M611 488.2h0M611.6 488.1h0M612.4 488h0M610.7 487.1h0M611.5 486.5h0M610.7 484.8h0M611.9 484.8h0M611.3 482.8h0M610.7 481.8h0M611.9 481.8h0M611.1 480.9h0M611.2 478.5h0M611.1 478.3h0M611.1 476.2h0M611.2 474.9h0M611.1 474h0M611.4 473.1h0M610.7 472.1h0M611.9 471.9h0M611.2 468.5h0"/>
<path id="dvii1" d="M618.8 503.7h0M618.8 502.5h0M618.5 500.9h0M619.2 500.5h0M618.5 499.8h0M619.4 499.8h0M618.9 499.2h0M617.4 498.4h0M618.3 498h0M618.8 497.8h0M619.6 497.7h0M620.8 497.6h0M618.2 497.4h0M619.1 497.3h0M619.7 496.6h0M617.2 496.4h0M618 496.3h0M619 495.9h0M619.8 495.7h0M620.4 495.5h0M617 495.5h0M617.9 495.4h0M618.8 495h0M620 494.7h0M620.4 494.7h0M618.3 494.3h0M619.2 494h0M619.7 493.8h0M618.6 493h0M619.6 492.5h0M618.1 492.4h0M619 492.3h0M620.1 492h0M617.6 491.5h0M618.5 491.5h0M619.4 491.4h0M620.3 491h0M617.2 490.5h0M618 490.2h0M618.6 490.1h0M619.5 490h0M619.9 489.7h0M620.5 489.6h0M618.9 489.1h0M618.5 488.4h0M619.6 487.8h0M617.7 487.1h0M618.3 486.8h0M619.2 486.7h0M620.3 486.7h0M618 486h0M618.8 486h0M619.6 485.8h0M617.9 485.1h0M618.5 484.9h0M619.4 484.8h0M620.1 484.7h0M618.3 484.4h0M619.4 484.2h0M617.5 482.5h0M618.5 482.4h0M619.4 481.8h0M620 481.5h0M619 480.7h0M619.2 480.5h0M619.1 478.5h0M618.1 478.4h0M618.7 478.1h0M619.9 477.7h0M619.1 477.2h0M617.7 474.3h0M618.5 474.1h0M619.3 473.8h0M620.3 473.6h0M619 472.6h0M619 472h0M618.3 470.3h0M619.2 470.2h0M619.2 467.9h0M619.1 465.6h0"/>
<path id="dvii2" d="M626.5 489.8h0M626.1 488.4h0M627 487.7h0M626.4 486.9h0M626.4 485.7h0M626.9 485.6h0M625.2 485.4h0M625.5 485.2h0M626 485h0M626.3 484.8h0M626.4 484.8h0M627.3 484.7h0M627.3 484.7h0M627.9 484.6h0M628.2 484.6h0M624.8 484.5h0M625.6 484.4h0M626 484.4h0M626.5 484.3h0M626.6 484.2h0M627.5 484.2h0M627.8 483.8h0M628.5 483.6h0M625.9 483.2h0M626.8 482.6h0M627.3 482.5h0M625.1 482.5h0M625.6 482.4h0M625.9 482.1h0M626.6 482h0M627.1 481.9h0M627.5 481.6h0M628.1 481.5h0M626 481h0M626.4 480.7h0M627.5 480.6h0M626.1 480.3h0M627 480.3h0M624.9 479.4h0M625.7 479.3h0M626.6 478.8h0M627.3 478.8h0M628.2 478.7h0M626.1 477.7h0M626.8 477.7h0M626.2 476.5h0M627 475.9h0M625.1 475.3h0M625.6 475.2h0M626.7 475.1h0M627.7 474.9h0M628.3 474.7h0M626.1 474.5h0M626.8 473.9h0M626.5 472.4h0M626.5 471.1h0M626 470.2h0M626.9 470h0M626.4 468.9h0M627.3 468.6h0M626.5 467.9h0M625.6 465.5h0M626.4 465.2h0M627.4 464.8h0M625.7 464.1h0M626.6 464h0M627.3 463.5h0M626.4 462.6h0M626.3 462.1h0M627.1 461.7h0M626 461.3h0M626.4 461.2h0M627.3 460.8h0M626 460.4h0M627 460h0M626.8 456h0M626.2 455.2h0M627.1 455.1h0M626.3 451.8h0M627.2 451.6h0M626.2 451.5h0M626.8 451.3h0M626.6 450.1h0M626.8 449.5h0"/>
<path id="dvii3" d="M633.7 504.4h0M634.6 503.7h0M634.1 502.9h0M634.3 502.1h0M632.4 501.4h0M633.4 501.2h0M634.3 501h0M635 500.8h0M636.1 500.8h0M633.4 500.4h0M634 500.2h0M635.2 499.6h0M633.2 499.3h0M634.5 498.8h0M635.2 498.6h0M632.8 498.4h0M632.7 498.3h0M633.4 498.3h0M633.4 498.1h0M634.1 498.1h0M634.4 498h0M634.7 498h0M634.7 497.9h0M635.4 497.8h0M635.5 497.6h0M635.9 497.6h0M632.8 497.2h0M633.9 497.2h0M634.6 496.9h0M635.6 496.9h0M632.4 496.4h0M633.3 496.3h0M633.5 496.3h0M634 495.8h0M634.9 495.7h0M635.2 495.6h0M636.2 495.5h0M633.2 495.4h0M633.7 495.1h0M634.9 495h0M635.5 495h0M632.9 494.1h0M633.8 493.9h0M634.7 493.9h0M635.3 493.5h0M633.6 493.3h0M634.3 493h0M635.3 492.6h0M632.8 492.5h0M633 492.5h0M633.7 492.2h0M634.3 492h0M634.9 492h0M635.5 491.8h0M636.2 491.6h0M633.2 491h0M634.3 490.9h0M635.3 490.6h0M633.8 490.3h0M634.8 489.8h0M633.6 489.2h0M634.5 489h0M634 487.8h0M633.8 487.3h0M634.6 486.7h0M634.4 485.9h0M634.1 485.4h0M634.2 483.5h0M634.1 482.3h0M634.5 481.8h0M633.6 481.4h0M634.2 481.2h0M635.2 481h0M634.2 480.2h0M634.5 475.9h0M634 473.6h0M634.6 473.5h0M633.9 470.7h0M634.5 470.5h0M634 469.1h0M634.8 469h0M633.8 467.2h0M634.6 466.5h0M634.2 466.4h0M633.8 465.1h0M634.8 464.7h0M633.9 464.1h0M634.5 464.1h0M634.1 462.8h0M633.8 462.2h0M634.7 462.1h0M634.3 460.7h0M634.5 459.7h0"/>
<path id="dvii4" d="M642.1 481h0M642.2 479.4h0M641.5 478.4h0M642.5 477.6h0M641.5 477.1h0M642.4 476.7h0M641.1 476.1h0M642 475.7h0M642.9 475.6h0M641.4 474.9h0M642.2 474.7h0M640.6 474.2h0M641.5 473.8h0M642.1 473.7h0M643 473.6h0M641.5 472.9h0M642.5 472.7h0M641.7 472.4h0M642.6 471.8h0M640.9 471.1h0M641.6 471.1h0M642.2 471.1h0M643.4 470.7h0M641.8 470.1h0M640.1 469.4h0M641.3 469.3h0M641.9 469.3h0M642.9 468.9h0M643.7 468.8h0M640.4 468.1h0M640.8 468.1h0M641.6 467.9h0M642.1 467.7h0M642.9 467.6h0M643.9 467.6h0M640.8 467.4h0M641.6 467.3h0M642.5 467.1h0M643.2 466.7h0M640.1 466.2h0M641.3 466h0M642 466h0M642.9 465.9h0M643.6 465.6h0M640.3 465.5h0M640.9 465.2h0M642.1 465h0M642.9 464.7h0M643.4 464.5h0M640.9 464.3h0M641.6 464.1h0M642.5 464h0M643.2 463.9h0M640.2 463.3h0M641.1 463h0M641.9 462.8h0M642.8 462.7h0M643.4 462.6h0M642.1 461.7h0M640.4 459.5h0M641 459.3h0M642 459h0M642.6 458.9h0M643.7 458.8h0M641.3 457.3h0M642 457.1h0M642.7 456.6h0M641.7 456.5h0M641.8 454.3h0M642.4 454h0M642 453h0M641.7 452.5h0M642.5 452.2h0M641.7 449.9h0M642.2 449.6h0M642 449.1h0M641.5 448.4h0M642.1 448.3h0M641.8 446.6h0M641.9 442.8h0M641.8 442.1h0"/>
<path id="dvii5" d="M649.7 432.6h0M649.4 430.5h0M649.1 428.1h0M650.2 427.6h0M649.1 426.7h0M650 426.7h0M649.4 425.8h0M649.3 424.6h0M649.9 424.6h0M649.3 422.4h0M650 422.2h0M649.5 419.8h0M649.3 419.1h0M650.2 418.9h0M648.6 417.8h0M649.6 417.8h0M650.4 417.6h0M649.2 415.4h0M650.1 415.1h0M649 414.5h0M650.1 413.9h0M648.2 413.2h0M649 413h0M650 412.9h0M650.9 412.6h0M649.1 412.5h0M650.2 412.4h0M649.4 410.9h0M649.8 409.9h0M647.9 409.4h0M648.9 409.3h0M649.7 408.9h0M650.6 408.7h0M651.2 408.7h0M647.9 408.5h0M648.6 408.4h0M649.5 408.2h0M650.4 407.9h0M651.4 407.8h0M648.1 407.4h0M648.5 407.4h0M648.8 407.3h0M649.3 407.3h0M649.9 407h0M650.2 406.8h0M650.8 406.5h0M651.5 406.5h0M648.1 406.3h0M648.5 406.1h0M649.5 406.1h0M650.3 405.8h0M651.3 405.6h0M648.8 405.4h0M649.4 404.8h0M650.3 404.8h0M648.3 404.4h0M649.3 404.4h0M650.2 403.9h0M650.9 403.6h0M648.5 403.3h0M649.4 403.2h0M650.3 403.2h0M650.9 402.9h0M648.8 402.4h0M649.5 402.4h0M650.3 401.8h0M648.4 401.1h0M649.4 400.9h0M650.1 400.9h0M650.8 400.6h0M648.5 400.4h0M649 400.3h0M649.8 400.2h0M651.1 399.6h0M649.7 396.7h0"/>
<path id="dvii6" d="M657.2 417.9h0M657.5 416.2h0M656.1 414.4h0M656.7 414.2h0M657.5 414h0M658.5 413.8h0M656.9 413.4h0M657.5 412.7h0M657.1 412.3h0M657.4 410.2h0M656.7 409h0M657.7 408.6h0M657 408.5h0M656.7 407.5h0M657.8 406.6h0M656.8 406.3h0M657.8 405.6h0M656.6 405.4h0M657.9 404.9h0M656.3 404.5h0M657.3 404.2h0M658 403.7h0M656.7 403.2h0M657.5 403h0M656.2 402h0M657.1 402h0M658 401.9h0M657.3 401.4h0M656.4 400.4h0M657 400h0M658.3 399.8h0M655.3 399.5h0M656.3 399.2h0M656.8 399.1h0M657.3 398.9h0M657.6 398.7h0M658.4 398.7h0M658.7 398.7h0M656.6 398.3h0M657.1 398h0M658.1 397.9h0M656.2 397.3h0M657.4 397.2h0M657.9 397.1h0M656.8 396.3h0M657.6 395.7h0M656.4 395.3h0M657.3 395.2h0M658.3 395h0M655.5 394.2h0M656.1 394.1h0M656.4 394.1h0M656.8 394.1h0M657.7 393.9h0M658.1 393.9h0M658.5 393.7h0M659.1 393.5h0M657 392.8h0M657.9 392.5h0M656.4 392.4h0M657.1 392.4h0M658.2 392.3h0M657.1 390.7h0M655.9 390.3h0M656.9 389.7h0M657.8 389.6h0M658.5 389.5h0M657.2 389.4h0M656.7 388.1h0M657.7 387.9h0M656.8 387.3h0M657.9 386.9h0M656.8 386.2h0M657.7 385.9h0M657.3 385h0"/>
<path id="dvii7" d="M664.8 451.7h0M664.8 450h0M664 449.3h0M665.2 448.7h0M665.8 448.7h0M664.8 447.7h0M665.1 446.9h0M664.4 446.1h0M665.2 445.9h0M664.7 444.9h0M664.7 444.2h0M664.9 443.5h0M663.5 442.5h0M664.3 442.4h0M665.3 442.3h0M666 441.7h0M664.3 441.2h0M664.9 441.1h0M666 440.6h0M664.9 439.7h0M664.7 439.1h0M665 437.7h0M664.8 436.7h0M665 434.6h0M664 433.9h0M665.1 433.9h0M665.8 433.6h0M664.7 432.5h0M663.1 432.5h0M664.1 432.1h0M664.7 432.1h0M665.4 431.7h0M665.9 431.7h0M666.8 431.7h0M663 431.5h0M663.8 431.3h0M664.8 431.1h0M665.3 431h0M666 430.7h0M666.7 430.7h0M663.1 430.4h0M663.9 430.2h0M664.2 430.2h0M665.2 430.1h0M665.4 430h0M666.2 429.8h0M666.5 429.6h0M663.3 429.4h0M664 429.2h0M665.2 429.2h0M665.6 429.1h0M666.4 428.6h0M663.6 428.1h0M664.2 428h0M665.3 427.9h0M666.4 427.8h0M663 427.5h0M663.9 427.4h0M664.2 427.2h0M664.9 427.2h0M665 427h0M665.5 426.7h0M666 426.7h0M666.6 426.6h0M664 426.2h0M664.8 425.8h0M665.8 425.7h0M663.7 425.4h0M664.3 425.2h0M665.4 424.8h0M666 424.7h0M664.1 424.4h0M665 424.1h0M666 423.8h0M664.3 423h0M665.4 422.9h0M664.6 422.4h0M665.2 422.1h0M664.4 421.2h0M665.3 420.5h0M664.7 420h0M665.1 418.9h0M664.6 415.5h0M665.5 414.8h0M664.8 412.8h0M664.9 410.6h0"/>
<path id="dvii8" d="M672.6 451.7h0M672.8 449.7h0M672 449.4h0M672.8 449.1h0M673.5 448.6h0M672.5 447.9h0M672.5 447.1h0M672.6 445.5h0M671.8 445.3h0M672.7 445h0M673.7 444.9h0M672.3 444.2h0M672.8 444h0M672.6 442.7h0M671.6 441.2h0M672.8 440.7h0M673.3 440.7h0M671.4 440.2h0M672.3 439.9h0M672.9 439.6h0M673.7 439.6h0M670.7 439.2h0M671.4 439h0M671.9 438.9h0M672.8 438.8h0M673.3 438.8h0M673.6 438.7h0M674.2 438.6h0M672.7 437.6h0M670.7 437.4h0M671.4 436.9h0M672.4 436.9h0M673 436.9h0M673.4 436.8h0M674.1 436.5h0M670.8 436.5h0M671.3 436.2h0M671.8 436.1h0M672.1 436.1h0M672.9 435.8h0M673.3 435.8h0M673.9 435.6h0M674.2 435.6h0M670.8 435.2h0M671.5 434.9h0M672.5 434.7h0M673.4 434.7h0M674.2 434.6h0M672 434.3h0M673.1 433.8h0M670.9 433.4h0M671.3 433.4h0M672.3 433.2h0M672.7 433.2h0M673.4 433.1h0M674.2 432.7h0M671.4 432.4h0M672.3 432.4h0M672.9 432.4h0M674 432.4h0M671 431.4h0M671.7 431.2h0M672.6 431.2h0M673.3 430.7h0M674.1 430.6h0M671.9 429.8h0M673 429.7h0M672.6 428.5h0M672.8 428.3h0M672.4 427.5h0M672.6 425.8h0M671.7 425.4h0M672.7 425.3h0M673.5 424.9h0M672.4 423.8h0"/>
<path id="dvii9" d="M680 494.2h0M680.3 492.7h0M679.7 491.9h0M680.7 491.7h0M679 491.3h0M679.7 490.7h0M680.7 490.6h0M681.6 490.5h0M678.7 490.2h0M679.5 490.2h0M680.4 490.2h0M681.1 489.7h0M682 489.7h0M679.1 489.4h0M679.8 489.4h0M680.6 489h0M681.7 488.5h0M678.5 488.4h0M678.8 488.4h0M679.4 488.1h0M679.9 488.1h0M680.1 488.1h0M680.4 488.1h0M680.8 488.1h0M681.2 488h0M681.6 487.7h0M681.8 487.7h0M679 487.2h0M679.9 487.1h0M680.6 487.1h0M681.5 486.6h0M678.6 486.5h0M679.1 486.1h0M680.1 486.1h0M680.6 486h0M681 485.6h0M682 485.5h0M679.5 485.5h0M680.3 484.9h0M681.2 484.6h0M679.3 484.3h0M680 484.2h0M681.2 483.7h0M678.6 483.3h0M679.3 483h0M680.3 482.9h0M680.8 482.7h0M682.1 482.6h0M679.7 482.2h0M680.5 481.9h0M679.6 481.2h0M680.3 480.9h0M681.3 480.7h0M680.2 480.3h0M680.1 478.6h0M680.2 478.4h0M680.2 475.9h0M680.5 474.6h0M679.6 474.2h0M680.4 473.9h0M681.1 473.9h0M679.8 473.1h0M680.7 472.8h0M679.5 471.9h0M680.2 471.9h0M681.2 471.8h0M679.9 470.9h0M680.5 470.7h0M680.2 469.6h0M679.6 469.3h0M680.5 469h0M680 468h0M680 467.3h0M680.4 466.9h0M679.8 466.3h0M680.7 466.1h0M679.1 465.4h0M680.3 464.7h0M681 464.6h0M680.5 462.4h0M680.4 461h0M679.9 458.9h0M680.5 458.9h0M680.3 456.7h0M680.3 456.5h0M679.8 455.1h0M680.7 454.9h0M679.7 454.1h0M680.5 453.6h0M680.2 453h0M680 452.5h0M680.5 452.4h0M679.5 450.1h0M680.4 450h0M681.1 449.9h0M680.5 448h0"/>
<path id="dvii10" d="M688 498.6h0M688 497.5h0M687.1 497.4h0M688.1 496.7h0M688.8 496.6h0M686.1 496.5h0M687.2 496.4h0M687.9 496.1h0M688.6 496h0M689.6 495.9h0M686.2 495.5h0M687 495.3h0M687.5 494.9h0M688.1 494.9h0M689.1 494.6h0M689.7 494.6h0M686.2 494.3h0M687.1 494.1h0M687.7 493.8h0M688.9 493.7h0M689.8 493.7h0M686.3 493.2h0M686.7 493.2h0M686.7 493.2h0M686.9 493.2h0M687.3 493.2h0M687.8 493.1h0M688 493h0M688.4 493h0M688.7 493h0M688.9 492.9h0M689.3 492.7h0M689.8 492.7h0M686.3 492.4h0M686.6 492.3h0M687 492.3h0M687.2 492.2h0M687.6 492.2h0M688.3 492.2h0M688.4 491.9h0M688.6 491.7h0M689 491.6h0M689.6 491.5h0M687.4 491.3h0M688.1 491.1h0M686.9 490.5h0M687.9 489.6h0M688.8 489.6h0M686.8 487.4h0M687.4 487.3h0M688.2 487.2h0M689.3 486.6h0M687.4 486h0M688.2 485.5h0M688.1 485.1h0M687.3 484.2h0M688.3 483.8h0M687.6 483.4h0M688.3 483.4h0M687.8 481.7h0M687.6 481.4h0M688.4 480.7h0M687.7 480.2h0M688.5 479.6h0M686.6 478.8h0M687.6 478.8h0M688.4 478.6h0M689.3 478.5h0M687.1 478.5h0M688.1 478.1h0M688.5 477.8h0M687.8 473.7h0M687.4 472.2h0M688.5 471.9h0M687.8 471.3h0M687.7 468.2h0M687.7 464.3h0M688.3 463.7h0M687.2 463.4h0M688.1 463.4h0M688.9 462.9h0M688.1 462.3h0M687.9 460.8h0M686.8 458.4h0M687.7 458.3h0M688.9 458h0M687.8 456.8h0"/>
</defs>
<g fill="none" stroke-linecap="round">
<use href="#dvii0" stroke="#1c1c1c" stroke-width="2.4"/>
<use href="#dvii1" stroke="#1c1c1c" stroke-width="2.4"/>
<use href="#dvii2" stroke="#1c1c1c" stroke-width="2.4"/>
<use href="#dvii3" stroke="#1c1c1c" stroke-width="2.4"/>
<use href="#dvii4" stroke="#1c1c1c" stroke-width="2.4"/>
<use href="#dvii5" stroke="#1c1c1c" stroke-width="2.4"/>
<use href="#dvii6" stroke="#1c1c1c" stroke-width="2.4"/>
<use href="#dvii7" stroke="#1c1c1c" stroke-width="2.4"/>
<use href="#dvii8" stroke="#1c1c1c" stroke-width="2.4"/>
<use href="#dvii9" stroke="#1c1c1c" stroke-width="2.4"/>
<use href="#dvii10" stroke="#1c1c1c" stroke-width="2.4"/>
<g opacity="0.42">
<use href="#dvii0" stroke="#6a2040" stroke-width="0.6"/>
<use href="#dvii1" stroke="#2a2d68" stroke-width="0.6"/>
<use href="#dvii2" stroke="#a08060" stroke-width="0.6"/>
<use href="#dvii3" stroke="#5e5e2a" stroke-width="0.6"/>
<use href="#dvii4" stroke="#6a6a6a" stroke-width="0.6"/>
<use href="#dvii5" stroke="#2a6a38" stroke-width="0.6"/>
<use href="#dvii6" stroke="#9a5a20" stroke-width="0.6"/>
<use href="#dvii7" stroke="#2a3a70" stroke-width="0.6"/>
<use href="#dvii8" stroke="#987088" stroke-width="0.6"/>
<use href="#dvii9" stroke="#8a98aa" stroke-width="0.6"/>
<use href="#dvii10" stroke="#948a22" stroke-width="0.6"/>
</g>
</g>
<path d="M606.5 452.4h86.5" stroke="#111" stroke-width="0.9"/>
<g font-size="7.6" fill="#333" text-anchor="end">
<text transform="translate(614,528.3) rotate(-90)">PAC</text>
<text transform="translate(621.66,528.3) rotate(-90)">CC</text>
<text transform="translate(629.32,528.3) rotate(-90)">GEEC</text>
<text transform="translate(636.98,528.3) rotate(-90)">GMC</text>
<text transform="translate(644.64,528.3) rotate(-90)">MTC</text>
<text transform="translate(652.3,528.3) rotate(-90)">EC</text>
<text transform="translate(659.96,528.3) rotate(-90)">FB</text>
<text transform="translate(667.62,528.3) rotate(-90)">MC</text>
<text transform="translate(675.28,528.3) rotate(-90)">NP</text>
<text transform="translate(682.94,528.3) rotate(-90)">TC</text>
<text transform="translate(690.6,528.3) rotate(-90)">PC</text>
</g>
<rect x="30.4" y="552.9" width="87.2" height="36.95" fill="#e4e7f3"/>
<text x="33.3" y="563.8" font-size="9.9" fill="#333">viii. MC</text>
<g stroke="#222" stroke-width="0.9" fill="none">
<path d="M29.8 553.5V699H117"/>
<path d="M29.8 698.9h-2.6M29.8 684.36h-2.6M29.8 669.82h-2.6M29.8 655.28h-2.6M29.8 640.74h-2.6M29.8 626.2h-2.6M29.8 611.66h-2.6M29.8 597.12h-2.6M29.8 582.58h-2.6M29.8 568.04h-2.6M29.8 553.5h-2.6M34.6 699v2.6M42.26 699v2.6M49.92 699v2.6M57.58 699v2.6M65.24 699v2.6M72.9 699v2.6M80.56 699v2.6M88.22 699v2.6M95.88 699v2.6M103.54 699v2.6M111.2 699v2.6" stroke-width="0.8"/>
</g>
<defs>
<path id="dviii0" d="M34.6 672.7h0M34.2 671.2h0M35.3 670.9h0M34.4 669.6h0M34.4 669.2h0M33.2 668.2h0M34.4 668h0M35.2 667.7h0M35.8 667.5h0M34.6 666.8h0M34.6 666.2h0M34.1 665.3h0M35.2 664.6h0M34.7 664.3h0M32.9 663.4h0M33.8 663.3h0M34.6 663.3h0M35.5 663.1h0M36.5 662.9h0M33.5 662.5h0M34.1 662.3h0M34.9 661.8h0M35.7 661.7h0M34.7 661.5h0M34.8 660h0M34 659.5h0M34.4 659.2h0M35.6 658.6h0M34.1 658h0M34.8 658h0M32.7 657.5h0M33.7 657.4h0M34.4 657.3h0M35.4 657.2h0M36.3 656.6h0M34.5 655.9h0M33.7 655.2h0M34.6 654.7h0M35.2 654.5h0M33.1 654.3h0M33.5 654.2h0M33.9 653.9h0M34.8 653.8h0M35.3 653.8h0M36 653.7h0M36.3 653.6h0M34.3 653.4h0M35.1 653.2h0M33.5 652.4h0M34 652.3h0M35 651.8h0M36 651.8h0M34 651.1h0M35 650.5h0M34.6 649.9h0M33.7 649.5h0M34.4 649.2h0M35.2 648.5h0M34.6 647.9h0M34.5 647h0M34.1 646.3h0M35 646.2h0M34.4 645.4h0M34.9 644.6h0M33.7 644.2h0M34.5 643.8h0M35.7 643.6h0M34.5 642.7h0M34.7 641.7h0M33.9 641.3h0M34.9 640.8h0M34.4 640.5h0M34.8 640.3h0M34.8 639.5h0M34.6 637.1h0M34.4 626.2h0"/>
<path id="dviii1" d="M42 670.5h0M42.1 664.8h0M41.2 664.5h0M42 663.7h0M42.8 663.6h0M43.4 663.5h0M40.8 663.4h0M41.3 663.4h0M42.1 663.2h0M43.3 662.9h0M44 662.5h0M40.7 662.4h0M41.2 661.8h0M42 661.8h0M42.4 661.7h0M43.1 661.7h0M44 661.6h0M41.9 661.3h0M42.7 660.9h0M41.6 660.4h0M42.3 659.9h0M43.3 659.7h0M40.9 659.2h0M41.9 659.1h0M42.5 658.8h0M43.8 658.5h0M41.6 658.4h0M42.9 657.9h0M41.3 657.3h0M42.3 657.1h0M43.2 656.9h0M41.7 655.8h0M42.9 655.7h0M41.1 655.5h0M41.8 655.4h0M42.8 655.2h0M43.6 654.7h0M41.1 654.2h0M41.9 653.8h0M42.7 653.7h0M43.6 653.5h0M40.9 653.3h0M41.8 653.2h0M42.7 653.1h0M43.4 653.1h0M41.9 652.5h0M42.9 652.3h0M41.9 651.3h0M42.7 651.1h0M40.6 650.3h0M41.5 649.7h0M42.4 649.6h0M43.3 649.6h0M43.8 649.5h0M42.1 649.1h0M42.5 648.9h0M42 648.4h0M42.7 647.5h0M42 647.3h0M41.9 646.3h0M42.7 646.1h0M42.5 645.3h0M41.7 644.5h0M42.5 644.4h0M42.3 643.4h0M41.5 642.5h0M42 642.1h0M43.3 642h0M42.5 640.7h0M41.7 638.9h0M42.7 638.6h0M41.8 638.2h0M42.9 637.7h0M41.9 635.3h0M42.9 634.9h0"/>
<path id="dviii2" d="M49.7 661.8h0M50.1 661.1h0M50 658.4h0M49.8 656.5h0M48.7 655.4h0M49.7 654.9h0M50.4 654.8h0M51.1 654.8h0M50.1 653.9h0M49 652.4h0M50.2 652h0M50.5 651.9h0M49.3 651.4h0M49.9 651.4h0M50.6 650.6h0M49.4 650.3h0M50.6 650.1h0M48.9 649.4h0M49.8 649h0M50.6 648.7h0M48 647.1h0M48.9 647h0M49.8 646.8h0M51 646.7h0M51.4 646.6h0M48.9 646h0M50 645.5h0M50.8 645.5h0M49.4 644.7h0M50.5 644.6h0M48.1 644.4h0M49.1 644.2h0M50.2 643.9h0M50.7 643.9h0M51.8 643.6h0M48.8 643.5h0M49.5 643.3h0M50.4 642.8h0M51.1 642.7h0M48.4 642.5h0M48.9 642.4h0M49.7 642.3h0M50.6 641.8h0M51.8 641.7h0M48.1 641.3h0M48.9 641.3h0M49.4 641.1h0M49.7 641h0M50.5 640.9h0M50.9 640.8h0M51.8 640.6h0M48 640.4h0M48.8 640.4h0M49.5 640.2h0M50.3 640.1h0M51 640h0M51.5 639.5h0M49.1 638.8h0M50.1 638.8h0M51 638.6h0M50 637.6h0M48.4 637.4h0M49 637.1h0M49.8 637h0M50.8 636.6h0M51.4 636.6h0M49 636.4h0M49.8 635.8h0M51 635.6h0M49.3 635.4h0M49.8 635.3h0M50.5 635.2h0M49.9 634.1h0M49.7 633.5h0M50.6 633.1h0M50.2 631.8h0M49.7 631h0M49.7 630.1h0M49.7 629.2h0M50.1 628.7h0M49.8 628h0M50 625.1h0M50 621.8h0"/>
<path id="dviii3" d="M57.5 658.2h0M57.2 649.5h0M58 649.2h0M57.6 647.1h0M57.1 645.9h0M58 645.8h0M56.1 645.4h0M57.2 645.1h0M58 645.1h0M58.8 644.8h0M56.4 644.5h0M57.2 644.4h0M58.2 643.9h0M58.8 643.5h0M56.5 643.4h0M57.3 642.9h0M58 642.9h0M59.1 642.5h0M57.3 642.4h0M58.1 642.1h0M57 640.3h0M58.1 639.8h0M56.5 639.4h0M57.2 639.3h0M58 638.9h0M59 638.7h0M56 638.1h0M56.7 637.8h0M57.5 637.8h0M58.6 637.8h0M59.1 637.7h0M56.9 636.8h0M57.9 636.7h0M57.5 636.2h0M55.8 635.5h0M56.7 635.3h0M57.8 635.2h0M58.5 635.2h0M59.4 634.7h0M55.8 633.4h0M56.6 633.3h0M57.5 633.2h0M58.2 633h0M59.2 632.7h0M56.1 632.5h0M56.8 632.4h0M57.6 632h0M58.6 631.8h0M59.1 631.6h0M56.1 631.4h0M57.3 631.4h0M58.1 631.2h0M59.1 630.6h0M56.8 630.5h0M57.3 630.4h0M58.4 630.1h0M55.8 629.4h0M56.8 629.4h0M57.4 629.1h0M58.3 629h0M59.1 628.7h0M56.9 628.3h0M57.5 628.1h0M58.6 627.5h0M57 627h0M57.8 626.9h0M56.1 626.4h0M56.8 626.4h0M57.2 626h0M58 625.7h0M58.5 625.6h0M59.4 625.5h0M56.8 625.3h0M57.5 624.7h0M58.5 624.7h0M56.9 623h0M57.6 622.9h0M58.3 622.8h0M56.9 622h0M57.7 621.5h0M58.5 621.5h0M57.3 620.6h0M57 620.3h0M57.9 619.5h0M56.1 619.4h0M57.2 619.4h0M57.8 619.1h0M58.9 618.5h0M56.7 618.2h0M57.6 618h0M58.4 617.6h0M57.2 617.4h0M58.2 616.6h0M56.6 616.1h0M57.4 616h0M58.5 615.9h0M57.1 615.1h0M58.2 614.8h0M56.8 613.1h0M57.7 612.9h0M58.6 612.8h0M57.5 611.1h0M57.8 610.4h0M56.9 608.5h0M57.8 608.5h0M57 608.2h0M58 608h0M57.7 606.6h0"/>
<path id="dviii4" d="M65 623.3h0M64.9 620.5h0M65.7 620.2h0M65.5 617.1h0M65.3 615.9h0M65 615.2h0M64.8 614.3h0M65.5 613.7h0M65.3 613.1h0M65.1 611.4h0M64.2 610.3h0M65.1 610.3h0M66.2 609.8h0M63.4 607.9h0M64.1 607.8h0M65.1 607.8h0M66.1 607.7h0M67.2 607.6h0M65.2 606.7h0M63.7 606.2h0M64.4 605.9h0M64.7 605.9h0M65.4 605.6h0M66.2 605.6h0M67.1 605.5h0M64 605.3h0M64.9 605.2h0M65.9 604.7h0M66.6 604.7h0M63.7 604.4h0M64.6 604.2h0M65.2 604.2h0M66.1 603.8h0M66.9 603.8h0M63.4 603.5h0M64.1 603.4h0M64.9 603.2h0M65.3 603h0M65.9 602.9h0M66.3 602.8h0M66.9 602.6h0M65.4 601.8h0M63.4 601.3h0M64.4 601.1h0M65 601h0M65.9 600.7h0M66.8 600.6h0M64 600.5h0M65 600.3h0M65.7 599.9h0M66.7 599.5h0M64.7 599.2h0M65.5 598.8h0M64.4 598.5h0M65.4 598.4h0M66.2 598.2h0M63.4 597.4h0M64.3 597.4h0M65.4 597.2h0M66.3 596.8h0M67 596.6h0M64.6 596h0M65.5 595.6h0M65 595.1h0M65.8 594.7h0M64.6 594.4h0M65.2 594h0M66.2 593.8h0M64.6 593.4h0M65.4 593.3h0M66 592.9h0M64.6 591.5h0M65 591.4h0M66.1 591.4h0M65.4 589.9h0"/>
<path id="dviii5" d="M73 615.3h0M73 613.3h0M72.8 609h0M72.6 608h0M73.2 607.7h0M72.2 607.4h0M72.7 607.3h0M73.8 607.2h0M72.1 605.3h0M72.8 605h0M73.6 604.8h0M72.8 604.2h0M73 603.2h0M73.1 601.6h0M72.1 600.9h0M72.9 600.8h0M73.8 600.7h0M71.8 600.5h0M73.1 600.4h0M73.8 599.6h0M72.2 599.5h0M73.1 599.2h0M73.7 598.8h0M72.1 598.5h0M72.8 598h0M73.6 597.8h0M72.1 597.2h0M72.8 597.2h0M74 596.7h0M72.1 596.3h0M72.7 596.3h0M73.5 596.2h0M71.4 595.4h0M71.5 595.3h0M72 595.1h0M72.7 595h0M73.2 595h0M73.6 594.9h0M74 594.8h0M74.8 594.5h0M72.9 594.1h0M71.3 593.5h0M72.3 593.1h0M73 593h0M73.5 593h0M74.5 592.6h0M73 591.6h0M71.1 591.3h0M71.6 590.9h0M72.4 590.9h0M73.1 590.7h0M73.7 590.7h0M73.8 590.6h0M74.4 590.5h0M72.8 589.6h0M72.5 589.4h0M73.4 588.7h0M71.9 588.4h0M72.6 587.8h0M73.5 587.8h0M74 587.7h0M72.2 586.7h0M73.3 586.6h0M72.2 586.5h0M73.1 586.2h0M73.8 585.6h0M72.7 585.2h0M73.5 585h0M71.1 584.4h0M72 584.2h0M72.8 584h0M73.8 584h0M74.6 583.9h0M72.9 583.1h0M73 582.2h0M72.9 580.2h0M73.1 578.2h0"/>
<path id="dviii6" d="M80.3 619.7h0M79.9 616.7h0M80.8 616.7h0M79.8 616.5h0M80.7 616h0M81.3 615.7h0M80.4 612.5h0M80 612.5h0M81.2 612.4h0M80 611.3h0M81 610.9h0M79.5 609.9h0M80.4 609.9h0M81.2 609.6h0M80.7 608.9h0M80.1 608.4h0M81.1 607.9h0M80.3 607.4h0M81.1 606.7h0M80.1 604.9h0M80.8 604.5h0M79.9 604.3h0M80.5 603.8h0M81.3 603.6h0M80.5 603.5h0M78.8 602h0M79.6 601.9h0M80.3 601.8h0M81.1 601.7h0M81.5 601.6h0M82.2 601.5h0M78.7 601.4h0M79.4 601.1h0M80.2 600.9h0M81.1 600.8h0M81.6 600.8h0M82.3 600.5h0M78.9 600.4h0M79.8 600.1h0M80.7 599.8h0M81.5 599.8h0M82 599.7h0M79.9 599h0M81.2 598.5h0M79.3 598.3h0M80.1 598.2h0M80.9 598.1h0M81.9 597.8h0M78.7 597.3h0M79.5 597.2h0M79.9 597h0M80.4 596.9h0M80.8 596.8h0M81.1 596.7h0M82 596.6h0M82.3 596.5h0M80 596.5h0M81 596.1h0M79.4 595h0M80.2 595h0M81.1 594.8h0M81.7 594.7h0M78.9 594.3h0M79.3 594h0M80.5 593.8h0M80.7 593.8h0M81.5 593.8h0M82.4 593.6h0M80.1 593.4h0M81.1 593.3h0M80.3 591.9h0M78.8 590.5h0M79.6 590.3h0M80.5 590.3h0M81.7 590.2h0M82.2 589.6h0M80.3 588.4h0M80.6 587.3h0M80.1 584.9h0M81.2 584.5h0M80.2 584.4h0M81.2 584h0M80.1 583.5h0M80.9 583.2h0M80.7 581.2h0M80.4 580.5h0M80.3 578.1h0M81 578h0M80.2 577.4h0M81.1 576.8h0"/>
<path id="dviii7" d="M88.3 589.9h0M88.2 587.5h0M87.1 587.1h0M87.9 587h0M88.6 586.9h0M89.6 586.8h0M86.4 586.4h0M87.3 586.3h0M88.2 586h0M88.9 586h0M90 585.8h0M88.3 584.7h0M88.3 584.1h0M87.4 583.3h0M88.3 583.2h0M89.3 582.9h0M87.1 582.3h0M87.6 581.9h0M88.8 581.8h0M89.5 581.6h0M87.6 581h0M88.7 580.8h0M87.5 580.5h0M88.2 580.2h0M89.2 580h0M88.3 579.3h0M87.3 578.5h0M88.3 577.9h0M89 577.8h0M87 576.8h0M87.9 576.8h0M88.5 576.6h0M89.4 576.5h0M87.1 576h0M88 575.9h0M89 575.5h0M86.7 575.2h0M86.9 575.2h0M87.6 575h0M88.3 575h0M89 574.9h0M89.3 574.7h0M90 574.6h0M87.5 574.4h0M88.2 574.2h0M89 574.1h0M87.1 573.5h0M87.7 573.4h0M88.6 573.1h0M89.6 572.7h0M87.2 572.1h0M88.3 572.1h0M88.8 571.8h0M87.4 571h0M88.1 570.9h0M88.9 570.7h0M87.3 569h0M88.2 569h0M89 569h0M87.6 568h0M88.2 567.9h0M89.2 567.6h0M87.3 567.2h0M88 566.9h0M89.1 566.9h0M87 565.4h0M87.7 564.7h0M88.7 564.7h0M89.6 564.5h0M88.1 563.8h0M87.8 563.4h0M88.7 562.6h0M88 561h0M88.7 560.6h0M88 560h0"/>
<path id="dviii8" d="M95.9 610.2h0M95.9 607.5h0M95.4 607.4h0M96.1 607.3h0M95.9 605.1h0M95.7 604.4h0M94.9 603.3h0M95.7 602.8h0M96.6 602.6h0M95.9 602.1h0M94.3 601.4h0M94.7 601.4h0M95.5 601.2h0M95.8 601.2h0M96.4 601.2h0M97 600.8h0M97.8 600.7h0M94.9 600.4h0M95.7 600h0M96.7 599.7h0M94.3 599.3h0M95 599.2h0M95.8 598.7h0M96.7 598.5h0M97.4 598.5h0M94 598.5h0M94.6 598.5h0M95.1 598.2h0M95.7 598h0M96.6 597.9h0M97.1 597.7h0M97.5 597.5h0M94.8 597.4h0M95.5 597.1h0M96.6 597h0M97.2 596.8h0M94.2 596.4h0M95 596.3h0M95.8 596.2h0M96.6 595.9h0M97.4 595.7h0M94.1 595.2h0M95 595.2h0M95.5 595.2h0M96 595.1h0M96.3 594.9h0M96.9 594.9h0M97.7 594.8h0M94.1 594.4h0M94.7 594.4h0M95.3 594.3h0M96.2 594h0M97 593.9h0M97.3 593.5h0M94.2 593.4h0M94.6 593.2h0M95.2 593.1h0M95.9 593.1h0M96.3 593h0M97 593h0M97.4 592.7h0M94.8 592.3h0M95.4 591.8h0M96.2 591.8h0M97.3 591.7h0M95.1 590.3h0M95.8 590.3h0M96.9 590h0M95.4 589.1h0M96.2 588.6h0M96 587.9h0M95.3 586.3h0M96.2 586.2h0M95.6 584.1h0M95.7 580.4h0"/>
<path id="dviii9" d="M103.5 645.1h0M102.5 644.1h0M103.5 644.1h0M104.3 643.9h0M102.5 639.4h0M103.4 639.4h0M103.9 639.1h0M104.6 638.7h0M103.4 636.7h0M102.9 636.3h0M103.7 636.1h0M104.3 636.1h0M101.7 635.1h0M102.5 634.9h0M103.7 634.8h0M104.3 634.8h0M105.4 634.7h0M103.6 634.4h0M102.1 633.4h0M102.6 633.3h0M103.2 633.3h0M104.1 633.2h0M104.7 633.1h0M105.2 632.6h0M102.3 631.4h0M103.1 631.3h0M103.8 630.9h0M104.8 630.7h0M102 630.3h0M102.7 630.2h0M103.2 630.1h0M103.7 630h0M104.6 629.7h0M105.3 629.6h0M102.2 629.4h0M103.2 628.8h0M103.9 628.6h0M104.7 628.6h0M101.8 627.4h0M102.8 627.4h0M103.2 627.3h0M103.7 627.1h0M104.4 627h0M105.1 626.9h0M102.5 626.3h0M103.6 625.7h0M104.5 625.6h0M102.5 624.9h0M103.3 624.8h0M104.4 624.6h0M101.8 624.5h0M102.3 624.3h0M103.4 624.2h0M103.8 624.2h0M104.7 623.7h0M105.1 623.6h0M102 623.2h0M102.9 623.1h0M104.2 622.6h0M105 622.5h0M102.5 622.3h0M103.3 621.7h0M104.4 621.6h0M101.9 621.3h0M102.9 621.3h0M103.7 621.3h0M104.2 621.1h0M105 620.7h0M103 619.6h0M104.1 619.5h0M103.3 619h0M103.8 618.8h0M102.7 618.2h0M103.4 617.9h0M104.5 617.7h0M102.1 617.4h0M103.2 617.2h0M104 617.2h0M105 617.2h0M102.9 616.1h0M103.8 615.6h0M103.6 615h0M103.8 613.8h0M103.3 612.3h0M104 612.2h0M101.9 611.4h0M102.6 611.1h0M103.1 611.1h0M103.8 610.9h0M104.3 610.9h0M105 610.8h0M102.8 610.3h0M103.5 610.1h0M104.6 610h0M103.6 609.1h0M103.8 607.7h0M103.1 607.1h0M103.8 606.7h0M103.8 604.4h0M102.3 600.1h0M103 600h0M104 600h0M105 599.8h0M103.6 599.4h0M102.5 596.9h0M103.7 596.7h0M104.5 596.5h0M102.2 593.4h0M103 592.9h0M103.8 592.8h0M104.9 592.7h0M102.5 592.5h0M103.3 592.4h0M104.3 592.3h0M102.9 590.4h0M104.2 589.9h0"/>
<path id="dviii10" d="M111.1 654.6h0M110.7 652.4h0M111.6 651.7h0M111.2 650.8h0M111.1 650h0M111 649.3h0M110.7 648.1h0M111.7 648h0M111.1 646.8h0M109.9 646.4h0M110.6 646.2h0M111.8 646.2h0M112.5 645.6h0M110.3 645.2h0M111.4 645.1h0M112.3 644.7h0M109.9 644.2h0M110.6 643.9h0M111.8 643.6h0M112.7 643.6h0M110 643.4h0M110.9 643.1h0M111.4 643.1h0M112.7 642.7h0M109.9 642.5h0M111 641.7h0M111.4 641.7h0M112.5 641.5h0M109.4 641.4h0M110.1 641.1h0M110.4 641h0M111.4 640.9h0M111.8 640.8h0M112.1 640.8h0M113 640.7h0M109.3 640.5h0M110.3 640.4h0M110.7 640.4h0M111.4 640.2h0M112.1 640.2h0M113 639.6h0M109.7 639.5h0M110 639.4h0M111 639.2h0M111.6 638.9h0M112.3 638.8h0M112.9 638.8h0M110.5 638.3h0M111 638.2h0M112.2 638.2h0M109.9 637.5h0M110.8 637.4h0M111.4 637.3h0M112.5 636.5h0M110.1 635.4h0M111.4 635.1h0M111.9 634.8h0M109.5 634.4h0M110.5 634h0M111.1 633.9h0M112.1 633.9h0M113.1 633.7h0M110.2 632.9h0M111.3 632.8h0M112 632.5h0M110.1 632.1h0M110.8 631.7h0M111.8 631.6h0M112.3 631.5h0M109.7 631h0M110.6 630.8h0M111.6 630.8h0M112.6 630.7h0M109.8 630.2h0M110.9 630.2h0M111.8 630.1h0M112.5 629.6h0M109.7 629.3h0M110.4 629.2h0M111 628.8h0M111.4 628.6h0M112 628.5h0M113 628.5h0M109.6 628.4h0M110.3 628.3h0M110.9 628.1h0M111.4 628.1h0M112 627.8h0M113 627.6h0M110.5 627.4h0M111 627.4h0M112.2 626.9h0M111.2 626.4h0M111.3 625h0M110.8 624.1h0M111.5 624h0M111.1 622.8h0M110.8 621.7h0M111.8 621.5h0M111.2 621h0M110.7 620.3h0M111.4 620.1h0M111 618.3h0M111.5 618.1h0M110.9 617h0M111.8 616.6h0M111.3 616.5h0M110.9 613.9h0M111.6 613.8h0M111.2 611.2h0M111.3 610.2h0M111.1 609.3h0M111 607.6h0M111.2 605.4h0M111 603.9h0M111.1 599.3h0"/>
</defs>
<g fill="none" stroke-linecap="round">
<use href="#dviii0" stroke="#1c1c1c" stroke-width="2.4"/>
<use href="#dviii1" stroke="#1c1c1c" stroke-width="2.4"/>
<use href="#dviii2" stroke="#1c1c1c" stroke-width="2.4"/>
<use href="#dviii3" stroke="#1c1c1c" stroke-width="2.4"/>
<use href="#dviii4" stroke="#1c1c1c" stroke-width="2.4"/>
<use href="#dviii5" stroke="#1c1c1c" stroke-width="2.4"/>
<use href="#dviii6" stroke="#1c1c1c" stroke-width="2.4"/>
<use href="#dviii7" stroke="#1c1c1c" stroke-width="2.4"/>
<use href="#dviii8" stroke="#1c1c1c" stroke-width="2.4"/>
<use href="#dviii9" stroke="#1c1c1c" stroke-width="2.4"/>
<use href="#dviii10" stroke="#1c1c1c" stroke-width="2.4"/>
<g opacity="0.42">
<use href="#dviii0" stroke="#6a2040" stroke-width="0.6"/>
<use href="#dviii1" stroke="#2a2d68" stroke-width="0.6"/>
<use href="#dviii2" stroke="#a08060" stroke-width="0.6"/>
<use href="#dviii3" stroke="#5e5e2a" stroke-width="0.6"/>
<use href="#dviii4" stroke="#6a6a6a" stroke-width="0.6"/>
<use href="#dviii5" stroke="#2a6a38" stroke-width="0.6"/>
<use href="#dviii6" stroke="#9a5a20" stroke-width="0.6"/>
<use href="#dviii7" stroke="#2a3a70" stroke-width="0.6"/>
<use href="#dviii8" stroke="#987088" stroke-width="0.6"/>
<use href="#dviii9" stroke="#8a98aa" stroke-width="0.6"/>
<use href="#dviii10" stroke="#948a22" stroke-width="0.6"/>
</g>
</g>
<path d="M29.8 626.2h86.5" stroke="#111" stroke-width="0.9"/>
<g font-size="7.6" fill="#333" text-anchor="end">
<text transform="translate(37.3,701.5) rotate(-90)">PAC</text>
<text transform="translate(44.96,701.5) rotate(-90)">CC</text>
<text transform="translate(52.62,701.5) rotate(-90)">GEEC</text>
<text transform="translate(60.28,701.5) rotate(-90)">GMC</text>
<text transform="translate(67.94,701.5) rotate(-90)">MTC</text>
<text transform="translate(75.6,701.5) rotate(-90)">EC</text>
<text transform="translate(83.26,701.5) rotate(-90)">FB</text>
<text transform="translate(90.92,701.5) rotate(-90)">MC</text>
<text transform="translate(98.58,701.5) rotate(-90)">NP</text>
<text transform="translate(106.24,701.5) rotate(-90)">TC</text>
<text transform="translate(113.9,701.5) rotate(-90)">PC</text>
</g>
<g font-size="7.4" fill="#333" text-anchor="end">
<text x="26.5" y="701.5">-1.0</text>
<text x="26.5" y="686.96">-0.8</text>
<text x="26.5" y="672.42">-0.6</text>
<text x="26.5" y="657.88">-0.4</text>
<text x="26.5" y="643.34">-0.2</text>
<text x="26.5" y="628.8">0.0</text>
<text x="26.5" y="614.26">0.2</text>
<text x="26.5" y="599.72">0.4</text>
<text x="26.5" y="585.18">0.6</text>
<text x="26.5" y="570.64">0.8</text>
<text x="26.5" y="556.1">1.0</text>
</g>
<text x="72.4" y="729.5" font-size="8.4" fill="#333" text-anchor="middle"><tspan font-style="italic">Ref.T.</tspan> Panel</text>
<rect x="126.1" y="552.9" width="87.2" height="36.95" fill="#fbf0f6"/>
<text x="129" y="563.8" font-size="9.9" fill="#333">ix. NP</text>
<g stroke="#222" stroke-width="0.9" fill="none">
<path d="M125.5 553.5V699H212.7"/>
<path d="M125.5 698.9h-2.6M125.5 684.36h-2.6M125.5 669.82h-2.6M125.5 655.28h-2.6M125.5 640.74h-2.6M125.5 626.2h-2.6M125.5 611.66h-2.6M125.5 597.12h-2.6M125.5 582.58h-2.6M125.5 568.04h-2.6M125.5 553.5h-2.6M130.3 699v2.6M137.96 699v2.6M145.62 699v2.6M153.28 699v2.6M160.94 699v2.6M168.6 699v2.6M176.26 699v2.6M183.92 699v2.6M191.58 699v2.6M199.24 699v2.6M206.9 699v2.6" stroke-width="0.8"/>
</g>
<defs>
<path id="dix0" d="M131.2 664h0M132.3 660.5h0M128.2 659.5h0M128.3 658h0M132.5 657.4h0M132.2 656.9h0M131.2 655h0M129.5 654.3h0M128.7 653.4h0M131.9 652.2h0M129.8 650.1h0M130.7 646.9h0M130.7 645.2h0M128.1 645.1h0M128.6 639.6h0M130.1 639.2h0M132 636.3h0M132 635.5h0M129.7 634.7h0M131.7 631.4h0M131.7 628.9h0M131.6 626.2h0"/>
<path id="dix1" d="M138.9 655.3h0M139.7 651.9h0M135.9 650.1h0M135.9 646.9h0M138.8 646.2h0M139.5 645.3h0M139.2 645h0M136.2 643.9h0M138.1 643.3h0M136.1 642.1h0M137 641.7h0M137.5 640h0M136.2 638.5h0M138.6 638.4h0M139 636.4h0M138.8 636h0M137.8 635.7h0M139.9 635.2h0M139.3 630.3h0M139.6 629.9h0M136.3 629.7h0M138.5 622.6h0"/>
<path id="dix2" d="M147.1 647.3h0M143.8 646h0M143.6 645.8h0M147.4 644.8h0M146.8 644.1h0M144.3 643.9h0M147 643.2h0M143.5 641.2h0M144.7 639.2h0M144.2 638.8h0M144 636.4h0M145.6 635.1h0M144.2 634.2h0M143.4 633.4h0M145.3 630.2h0M143.4 628h0M143.4 626.5h0M144.1 626.5h0M147.9 626.1h0M144.8 623h0M144.8 621.9h0M146 616.7h0"/>
<path id="dix3" d="M152 645.1h0M151.6 640.7h0M153.4 639h0M154.3 637.6h0M153 636.4h0M153.9 635.5h0M151.8 633.6h0M155.1 633.1h0M152.7 632.7h0M152 632.4h0M153.1 630.7h0M151.3 629.2h0M153.4 626.9h0M151 625.6h0M153.8 623.6h0M152.1 621.2h0M152.4 621h0M154.7 619.9h0M153.7 619.9h0M152.2 618.1h0M153.6 616.7h0M154.3 605.8h0"/>
<path id="dix4" d="M161.4 621.8h0M162.4 619.3h0M159.9 619.2h0M160.7 618h0M159.7 617.4h0M158.8 613.6h0M160.5 611.6h0M161.2 611.2h0M159.9 611.2h0M160.5 610.6h0M159.7 610.2h0M158.8 609.8h0M160.8 609.6h0M160.6 609.3h0M159.6 608.9h0M160.7 608.7h0M163.2 608.2h0M159.1 607.4h0M161.6 606.9h0M161.3 606.2h0M159.3 604.6h0M162.6 600.8h0"/>
<path id="dix5" d="M169.2 621.8h0M166.9 619.7h0M167.6 618.9h0M166.4 617.8h0M168.2 616.9h0M167.7 616.2h0M169.2 614.1h0M168.7 608.9h0M169.8 608.6h0M170.6 606.8h0M170.4 604.3h0M169.7 604h0M167.7 602.6h0M167.9 602.5h0M170.3 601.8h0M170.3 601.3h0M167 599.6h0M170.3 597.1h0M168.4 596.5h0M168.8 595h0M168.8 593.3h0M168.5 589.9h0"/>
<path id="dix6" d="M176.2 626.2h0M178 619.2h0M174.6 618.3h0M174.7 607.8h0M178.5 607.4h0M177.7 606.6h0M176.8 603.3h0M174.8 603.2h0M175.7 602.7h0M175.3 602.7h0M174.6 602.2h0M177.4 601.3h0M174.4 600.5h0M176.7 600.2h0M174.5 600.2h0M177.9 600.1h0M174.6 599.4h0M174.4 598.5h0M178.1 598.3h0M178.2 597h0M178.2 593.8h0M175.2 588.4h0"/>
<path id="dix7" d="M185.8 606.6h0M186 600.1h0M184.4 598.8h0M183.3 598.8h0M181.7 598.5h0M185.5 596.4h0M185.6 596.3h0M185 595.2h0M182.3 595h0M184.3 594.9h0M184.7 594.5h0M181.6 594.2h0M183.4 593.7h0M184.9 593.7h0M182.6 593.2h0M182.3 592.4h0M185.8 591.4h0M185.8 591h0M183.8 590.4h0M183.9 590.1h0M183.3 588.5h0M183.9 582.6h0"/>
<path id="dix8" d="M189.3 589.9h0M192.9 585.1h0M190.6 584.7h0M192.9 584.6h0M191.8 584.5h0M191.3 584.3h0M192.9 582.7h0M192.1 580.1h0M191.7 579.3h0M193.5 578.1h0M193.3 575.9h0M191.9 575.3h0M192.2 573.9h0M192 572.4h0M191.3 571.4h0M190.4 571.1h0M193.2 570.7h0M191.5 570.4h0M191.9 570.4h0M190 569.6h0M192.6 568.7h0M190 560.8h0"/>
<path id="dix9" d="M197.4 645.8h0M200.1 641h0M197.5 637.8h0M197 637.1h0M197.8 636h0M197.3 635.8h0M200.4 635.6h0M198.7 633.9h0M197.6 633.1h0M198.3 629.4h0M198.2 628.8h0M198 627.1h0M198.1 625.8h0M197.2 623.3h0M199.8 621.9h0M198 621.1h0M199.2 620.9h0M198.7 615.8h0M199.4 615.5h0M200.3 613.3h0M198 612.8h0M197.8 605.8h0"/>
<path id="dix10" d="M208.4 644.4h0M208.9 637.4h0M206.3 637.2h0M207.3 635.8h0M206.4 635.5h0M206.8 635.3h0M205.2 634.3h0M207 633.1h0M206.2 632.2h0M206.7 631.3h0M206.9 631.1h0M208.4 630.5h0M206.9 630.4h0M207.1 629.5h0M205.6 629.4h0M206.6 626.3h0M205 625.3h0M208.9 624.7h0M204.9 624.3h0M207.8 623.9h0M207.1 618.8h0M204.7 607.3h0"/>
</defs>
<g fill="none" stroke-linecap="round">
<use href="#dix0" stroke="#1c1c1c" stroke-width="2.6"/>
<use href="#dix1" stroke="#1c1c1c" stroke-width="2.6"/>
<use href="#dix2" stroke="#1c1c1c" stroke-width="2.6"/>
<use href="#dix3" stroke="#1c1c1c" stroke-width="2.6"/>
<use href="#dix4" stroke="#1c1c1c" stroke-width="2.6"/>
<use href="#dix5" stroke="#1c1c1c" stroke-width="2.6"/>
<use href="#dix6" stroke="#1c1c1c" stroke-width="2.6"/>
<use href="#dix7" stroke="#1c1c1c" stroke-width="2.6"/>
<use href="#dix8" stroke="#1c1c1c" stroke-width="2.6"/>
<use href="#dix9" stroke="#1c1c1c" stroke-width="2.6"/>
<use href="#dix10" stroke="#1c1c1c" stroke-width="2.6"/>
<use href="#dix0" stroke="#601334" stroke-width="1.2"/>
<use href="#dix1" stroke="#161a4c" stroke-width="1.2"/>
<use href="#dix2" stroke="#97704e" stroke-width="1.2"/>
<use href="#dix3" stroke="#4c4e1f" stroke-width="1.2"/>
<use href="#dix4" stroke="#656565" stroke-width="1.2"/>
<use href="#dix5" stroke="#1c7030" stroke-width="1.2"/>
<use href="#dix6" stroke="#944e16" stroke-width="1.2"/>
<use href="#dix7" stroke="#203163" stroke-width="1.2"/>
<use href="#dix8" stroke="#8c6880" stroke-width="1.2"/>
<use href="#dix9" stroke="#7c8896" stroke-width="1.2"/>
<use href="#dix10" stroke="#998d10" stroke-width="1.2"/>
</g>
<path d="M125.5 626.2h86.5" stroke="#111" stroke-width="0.9"/>
<g font-size="7.6" fill="#333" text-anchor="end">
<text transform="translate(133,701.5) rotate(-90)">PAC</text>
<text transform="translate(140.66,701.5) rotate(-90)">CC</text>
<text transform="translate(148.32,701.5) rotate(-90)">GEEC</text>
<text transform="translate(155.98,701.5) rotate(-90)">GMC</text>
<text transform="translate(163.64,701.5) rotate(-90)">MTC</text>
<text transform="translate(171.3,701.5) rotate(-90)">EC</text>
<text transform="translate(178.96,701.5) rotate(-90)">FB</text>
<text transform="translate(186.62,701.5) rotate(-90)">MC</text>
<text transform="translate(194.28,701.5) rotate(-90)">NP</text>
<text transform="translate(201.94,701.5) rotate(-90)">TC</text>
<text transform="translate(209.6,701.5) rotate(-90)">PC</text>
</g>
<text x="169" y="729.5" font-size="8.4" fill="#333" text-anchor="middle"><tspan font-style="italic">Ref.T.</tspan> Panel</text>
<rect x="222" y="552.9" width="87.2" height="36.95" fill="#eef4fb"/>
<text x="224.9" y="563.8" font-size="9.9" fill="#333">x. TC</text>
<g stroke="#222" stroke-width="0.9" fill="none">
<path d="M221.4 553.5V699H308.6"/>
<path d="M221.4 698.9h-2.6M221.4 684.36h-2.6M221.4 669.82h-2.6M221.4 655.28h-2.6M221.4 640.74h-2.6M221.4 626.2h-2.6M221.4 611.66h-2.6M221.4 597.12h-2.6M221.4 582.58h-2.6M221.4 568.04h-2.6M221.4 553.5h-2.6M226.2 699v2.6M233.86 699v2.6M241.52 699v2.6M249.18 699v2.6M256.84 699v2.6M264.5 699v2.6M272.16 699v2.6M279.82 699v2.6M287.48 699v2.6M295.14 699v2.6M302.8 699v2.6" stroke-width="0.8"/>
</g>
<defs>
<path id="dx0" d="M224.4 632h0M227.3 628.1h0M225.1 621.1h0M227.5 620.9h0M225.6 620.2h0M227.7 616.8h0M225 614.7h0M224.2 614.5h0M226.4 614h0M224.1 611.8h0M227.3 609.7h0M224.2 608.4h0M225.9 608.2h0M227.9 607.7h0M228.4 606.6h0M227.5 605h0M224.7 604.3h0M225.5 603.2h0M226.7 598.3h0M224.9 596.8h0M226.4 594.2h0M226.1 586.9h0"/>
<path id="dx1" d="M233.8 637.8h0M234.5 629.4h0M232.4 627.3h0M234.8 626.6h0M232.6 625.7h0M233.7 625.2h0M235.7 624.8h0M235.3 624.5h0M232.6 619.4h0M234.4 618.1h0M232.5 616.4h0M234.1 616.3h0M235.4 615.3h0M232 614.2h0M234.4 612.4h0M234.3 612h0M232.2 611.5h0M232.9 606.6h0M236 605.5h0M232 604.1h0M232 599.8h0M233.2 594.9h0"/>
<path id="dx2" d="M243.2 620.4h0M241 607.7h0M242.9 607.1h0M241.7 604.6h0M242.5 603.2h0M241.5 601.9h0M243.4 601.9h0M243 601.2h0M243.3 601.1h0M243.2 598.6h0M239.8 598.6h0M240.7 598.1h0M243.5 597.7h0M242.8 595.2h0M243.1 594.3h0M243.2 593.9h0M239.5 593.5h0M243.4 593.1h0M240.1 592.4h0M240.9 592.3h0M239.4 591.3h0M242.9 586.9h0"/>
<path id="dx3" d="M248.3 611.7h0M248 604.5h0M251 602.4h0M251.4 599.7h0M248.9 598.3h0M247.1 595.7h0M248.6 595h0M247.3 593.8h0M247.9 590.8h0M248.2 590.4h0M247.1 590.3h0M248.2 589h0M246.9 588.2h0M248.3 587.6h0M248.9 586.7h0M251.2 585.8h0M246.9 585.1h0M250.9 584.6h0M247.1 584.4h0M250.9 584.3h0M247.2 583.8h0M249.8 572.4h0"/>
<path id="dx4" d="M257.2 610.2h0M256.2 607.6h0M259.1 605h0M256.5 604.4h0M256 604.1h0M254.8 602.8h0M257.4 602.8h0M256.5 602.5h0M255.2 602.2h0M259 601.4h0M257.2 601.1h0M254.9 600.9h0M255.7 600.8h0M255.1 600.6h0M258.1 600.5h0M254.6 600.1h0M257.6 600h0M258.5 599.9h0M255.1 597.3h0M255.7 596.9h0M256.9 596.6h0M255.3 592h0"/>
<path id="dx5" d="M262.7 653.1h0M265.5 648.7h0M265.2 645.3h0M262.4 645.3h0M264.6 643.1h0M265.2 642.9h0M264.1 640.5h0M263.5 639.7h0M263.6 638.7h0M265 638.7h0M264.4 637.5h0M263.6 637h0M264 636.5h0M263.6 634.2h0M265.3 633.1h0M265.3 630.6h0M266.2 629.8h0M265.3 627.5h0M262.9 623.7h0M264.5 620.2h0M266.2 616.8h0M262.6 610.9h0"/>
<path id="dx6" d="M273.6 658.2h0M271.4 647.3h0M272.6 647.1h0M273.2 644.6h0M271.5 644.4h0M271.2 644.1h0M269.9 643.2h0M270.4 642.5h0M271.9 642.4h0M274.3 640.7h0M271.4 639.8h0M271.2 639.6h0M273.4 638.6h0M270.4 636.2h0M272.5 636.1h0M274.4 634.2h0M270.5 632.6h0M271.4 630.7h0M270.4 627.6h0M272.3 627.3h0M271 627.2h0M271.5 610.9h0"/>
<path id="dx7" d="M281 632.7h0M279 627.1h0M280 627h0M281.9 623.6h0M281.8 622.3h0M279.4 621.5h0M281.2 620.2h0M280.4 620.1h0M280.1 620h0M279.5 619.6h0M281 619.2h0M281.3 619.2h0M281.9 618.6h0M282 617.5h0M281.5 616.5h0M280.4 616.2h0M280.9 615.7h0M280 611.2h0M280.4 609.4h0M279.4 606.2h0M280.6 604.9h0M280.2 600h0"/>
<path id="dx8" d="M289.7 630.6h0M288.7 629h0M285.6 628.4h0M286.5 628h0M286.1 626h0M286.7 625.5h0M288.4 625.1h0M286.6 624.7h0M285.6 624.2h0M286.9 623.3h0M286.9 621.3h0M287.1 621.2h0M289.7 619.3h0M286.6 618.6h0M287.2 613.9h0M287.4 613h0M287.9 611.9h0M285.7 608.5h0M285.9 606.2h0M287.4 604.6h0M287.7 604h0M285.6 600.8h0"/>
<path id="dx9" d="M293.4 588.4h0M296.7 580.7h0M294.1 579.6h0M297.2 579.4h0M293.1 577.6h0M295.8 574.1h0M294.8 573.6h0M294.6 573.3h0M293.3 570.9h0M294 570.6h0M293.9 570.1h0M296.9 570h0M297.2 569.1h0M297 567.5h0M294.1 566.3h0M295.4 565.9h0M297.3 563.7h0M293.5 563.4h0M294.4 563h0M294 561.6h0M294.7 561.4h0M295.3 557.9h0"/>
<path id="dx10" d="M303.5 607.3h0M302.3 600.1h0M304.7 599.2h0M300.8 598h0M301.8 594h0M303 592.1h0M302.8 588.9h0M301.3 588.9h0M301.7 588.4h0M304.9 588.1h0M302.8 585.8h0M302.4 583.3h0M303.7 582.4h0M304.9 582.3h0M301.8 581.7h0M302.9 581.3h0M301.9 580.6h0M304.9 579.8h0M303 579.5h0M304.1 579.3h0M303.1 578.6h0M300.7 571.7h0"/>
</defs>
<g fill="none" stroke-linecap="round">
<use href="#dx0" stroke="#1c1c1c" stroke-width="2.6"/>
<use href="#dx1" stroke="#1c1c1c" stroke-width="2.6"/>
<use href="#dx2" stroke="#1c1c1c" stroke-width="2.6"/>
<use href="#dx3" stroke="#1c1c1c" stroke-width="2.6"/>
<use href="#dx4" stroke="#1c1c1c" stroke-width="2.6"/>
<use href="#dx5" stroke="#1c1c1c" stroke-width="2.6"/>
<use href="#dx6" stroke="#1c1c1c" stroke-width="2.6"/>
<use href="#dx7" stroke="#1c1c1c" stroke-width="2.6"/>
<use href="#dx8" stroke="#1c1c1c" stroke-width="2.6"/>
<use href="#dx9" stroke="#1c1c1c" stroke-width="2.6"/>
<use href="#dx10" stroke="#1c1c1c" stroke-width="2.6"/>
<use href="#dx0" stroke="#601334" stroke-width="1.2"/>
<use href="#dx1" stroke="#161a4c" stroke-width="1.2"/>
<use href="#dx2" stroke="#97704e" stroke-width="1.2"/>
<use href="#dx3" stroke="#4c4e1f" stroke-width="1.2"/>
<use href="#dx4" stroke="#656565" stroke-width="1.2"/>
<use href="#dx5" stroke="#1c7030" stroke-width="1.2"/>
<use href="#dx6" stroke="#944e16" stroke-width="1.2"/>
<use href="#dx7" stroke="#203163" stroke-width="1.2"/>
<use href="#dx8" stroke="#8c6880" stroke-width="1.2"/>
<use href="#dx9" stroke="#7c8896" stroke-width="1.2"/>
<use href="#dx10" stroke="#998d10" stroke-width="1.2"/>
</g>
<path d="M221.4 626.2h86.5" stroke="#111" stroke-width="0.9"/>
<g font-size="7.6" fill="#333" text-anchor="end">
<text transform="translate(228.9,701.5) rotate(-90)">PAC</text>
<text transform="translate(236.56,701.5) rotate(-90)">CC</text>
<text transform="translate(244.22,701.5) rotate(-90)">GEEC</text>
<text transform="translate(251.88,701.5) rotate(-90)">GMC</text>
<text transform="translate(259.54,701.5) rotate(-90)">MTC</text>
<text transform="translate(267.2,701.5) rotate(-90)">EC</text>
<text transform="translate(274.86,701.5) rotate(-90)">FB</text>
<text transform="translate(282.52,701.5) rotate(-90)">MC</text>
<text transform="translate(290.18,701.5) rotate(-90)">NP</text>
<text transform="translate(297.84,701.5) rotate(-90)">TC</text>
<text transform="translate(305.5,701.5) rotate(-90)">PC</text>
</g>
<text x="266.8" y="729.5" font-size="8.4" fill="#333" text-anchor="middle"><tspan font-style="italic">Ref.T.</tspan> Panel</text>
<rect x="318" y="552.9" width="87.2" height="36.95" fill="#fbf8dd"/>
<text x="320.9" y="563.8" font-size="9.9" fill="#333">xi. PC</text>
<g stroke="#222" stroke-width="0.9" fill="none">
<path d="M317.4 553.5V699H404.6"/>
<path d="M317.4 698.9h-2.6M317.4 684.36h-2.6M317.4 669.82h-2.6M317.4 655.28h-2.6M317.4 640.74h-2.6M317.4 626.2h-2.6M317.4 611.66h-2.6M317.4 597.12h-2.6M317.4 582.58h-2.6M317.4 568.04h-2.6M317.4 553.5h-2.6M322.2 699v2.6M329.86 699v2.6M337.52 699v2.6M345.18 699v2.6M352.84 699v2.6M360.5 699v2.6M368.16 699v2.6M375.82 699v2.6M383.48 699v2.6M391.14 699v2.6M398.8 699v2.6" stroke-width="0.8"/>
</g>
<defs>
<path id="dxi0" d="M322.1 607.3h0M322 605.5h0M321.1 604.1h0M321.6 603.8h0M322.5 603.7h0M323.5 603.7h0M321.5 601.8h0M322.2 601.8h0M323.2 601.8h0M322.3 601.5h0M322.4 600.1h0M321.6 599.2h0M322.7 599h0M322.1 598.2h0M321.3 597.4h0M322.1 596.9h0M323.1 596.6h0M321.6 595.9h0M322.4 595.6h0M321.8 594.5h0M322.5 594.2h0M322.3 592.9h0M322.3 592h0M320.3 591.3h0M321 591.1h0M321.8 591h0M322.3 590.9h0M322.7 590.9h0M323.1 590.6h0M323.7 590.5h0M321.2 590.5h0M321.9 590.2h0M322.9 589.9h0M323.4 589.5h0M320.9 589.4h0M321.9 589.2h0M322.7 589h0M323.5 588.8h0M321.4 588.4h0M322.3 588.3h0M323.2 587.9h0M320.3 587.5h0M321.1 587.3h0M321.6 587.3h0M322.5 587.1h0M323 586.9h0M324 586.7h0M321.6 586.1h0M322 586h0M323.2 585.9h0M320.3 585.4h0M321.2 585.4h0M322 585h0M323.2 584.9h0M323.8 584.6h0M320.7 584.3h0M320.7 584.3h0M321.2 584.3h0M321.6 584.3h0M322.2 584.2h0M322.5 584.1h0M322.7 584h0M323 583.7h0M323.4 583.6h0M323.7 583.5h0M320.4 583.5h0M321.5 583.4h0M322.2 583.3h0M323 582.9h0M324.1 582.8h0M321.2 582.3h0M321.9 582.1h0M322.4 582h0M323.3 581.6h0M322.1 579.7h0"/>
<path id="dxi1" d="M329.6 613.8h0M329.7 613.2h0M330.3 612.6h0M329.7 610.5h0M329.1 609.7h0M329.9 609.6h0M330.7 609.6h0M330.1 609.4h0M328.6 608h0M329.3 607.7h0M330.2 607.6h0M331.3 607.5h0M329.4 606.9h0M330.5 606.8h0M328.3 603.3h0M329.2 603.2h0M329.6 603.2h0M330.5 602.7h0M331.6 602.5h0M329.2 602.3h0M329.9 602.2h0M330.8 602.1h0M328.9 601.2h0M329.9 600.7h0M330.9 600.6h0M329.6 599.2h0M330.2 598.8h0M329.2 597.9h0M330.1 597.8h0M329.5 597.5h0M330.4 597.1h0M329.2 596h0M330.4 595.6h0M328.4 595.4h0M328.7 595.2h0M329.5 595.1h0M330 595h0M330.7 594.6h0M331.7 594.6h0M329.8 593.8h0M328.2 593.4h0M328.6 593.4h0M329.7 593.3h0M330.1 592.8h0M331 592.7h0M331.5 592.6h0M328.8 592.5h0M329.6 592.3h0M330.8 591.7h0M328.3 591.4h0M328.5 591.3h0M329 591.3h0M329.6 591.1h0M330.3 590.7h0M330.7 590.7h0M331.1 590.6h0M331.4 590.5h0M328.2 590.4h0M328.6 590.4h0M329.1 590.4h0M329.3 590.1h0M330.1 590h0M330.3 589.9h0M330.6 589.9h0M331.1 589.8h0M331.6 589.6h0M328.2 589.2h0M329 589.2h0M329.9 588.6h0M330.8 588.6h0M331.7 588.6h0M329.7 587.9h0M330 587.2h0M329.8 586.5h0M329.9 584.8h0"/>
<path id="dxi2" d="M337.6 608.8h0M336.8 605h0M337.6 604.9h0M338.5 604.7h0M337 604.1h0M337.7 603.8h0M337.2 603.1h0M337.7 602.5h0M337.1 602.4h0M337.7 602.4h0M336.1 601.2h0M336.9 600.9h0M338 600.7h0M339 600.6h0M336.7 600h0M337.6 599.9h0M338.6 599.6h0M337.4 598.7h0M335.6 597.4h0M336.4 597.3h0M337.1 597.2h0M337.9 596.9h0M338.4 596.8h0M339.1 596.8h0M336.5 595.9h0M337.5 595.8h0M338.4 595.7h0M336.2 595.4h0M337.2 595.3h0M337.7 594.9h0M338.7 594.8h0M336.5 594.4h0M337.6 593.9h0M338.1 593.7h0M335.6 593.3h0M336.3 593.1h0M336.9 593h0M337.3 592.9h0M337.8 592.8h0M338.1 592.7h0M338.9 592.6h0M339.3 592.5h0M336.1 592.1h0M336.6 592.1h0M337.4 592h0M337.6 591.9h0M338.7 591.8h0M339.3 591.7h0M336 591.5h0M336.6 591.3h0M337 591.2h0M337.9 590.9h0M338.6 590.8h0M339.1 590.6h0M335.7 590.4h0M336.5 590.2h0M337.4 590.1h0M338.3 589.6h0M339.3 589.6h0M335.8 589.4h0M336.6 589.1h0M337 589h0M337.5 588.9h0M338.2 588.9h0M338.5 588.9h0M339.3 588.8h0M335.7 588.5h0M336.3 588.4h0M337 588.2h0M338.1 588h0M338.7 588h0M339.4 587.5h0M336.7 587.3h0M337.7 587.2h0M338.5 586.9h0"/>
<path id="dxi3" d="M343.6 593.5h0M344.3 593.4h0M345 593h0M345.9 592.9h0M346.9 592.5h0M344.4 592.1h0M345 592.1h0M345.8 591.7h0M344.8 590.2h0M345.4 590.2h0M344.9 589.2h0M345.5 588.8h0M343.6 588.3h0M344.5 588.1h0M345 588h0M346.2 587.8h0M346.8 587.6h0M344.5 587.5h0M345.3 587.3h0M345.9 587.2h0M344.6 585.9h0M345.8 585.9h0M343.3 585.5h0M344.5 585.3h0M345.2 585.2h0M346.1 584.9h0M347.1 584.9h0M345 584.1h0M344.3 583.4h0M345.1 583h0M346.1 582.7h0M343.4 582.2h0M344 582.1h0M344.4 581.8h0M345 581.8h0M345.7 581.8h0M346.5 581.6h0M346.8 581.6h0M343.4 581.4h0M344.3 581.4h0M344.7 581.3h0M345.6 581.3h0M346.4 581.2h0M346.7 581.2h0M343.5 580.1h0M344.2 580.1h0M344.4 580h0M345 580h0M345.9 579.9h0M346.2 579.7h0M347 579.6h0M343.4 579.4h0M343.8 579.3h0M344.2 579.2h0M344.7 578.9h0M345.6 578.8h0M345.8 578.7h0M346.3 578.6h0M346.9 578.6h0M343.6 578.5h0M344.4 578.2h0M345 578.1h0M345.7 578h0M346.2 578h0M347 577.5h0M344 576.8h0M344.7 576.8h0M345.5 576.7h0M346.6 576.6h0M345.2 575.6h0M344.1 575.5h0M344.7 575.1h0M345.6 575h0M346.4 574.7h0M345.2 573.9h0"/>
<path id="dxi4" d="M352.6 614.6h0M352.5 614.3h0M353.1 614.2h0M352.2 612.6h0M353.2 612.5h0M352.2 612.1h0M353.4 611.7h0M352.2 611.3h0M353 610.9h0M353.5 610.7h0M350.9 610.5h0M352.2 610.4h0M352.8 610.3h0M353.5 610h0M354.3 609.8h0M351.4 609.4h0M352.6 608.9h0M353.1 608.6h0M354.3 608.5h0M351.3 608.4h0M352.1 608.4h0M353.1 608.3h0M353.9 607.8h0M354.4 607.5h0M351.5 607.4h0M352.5 607.1h0M353.1 606.7h0M354.4 606.7h0M351.2 606.4h0M352.1 606.1h0M352.7 605.8h0M353.6 605.8h0M354.6 605.6h0M351 605.4h0M351.5 605.4h0M351.6 605.1h0M351.7 605.1h0M352.2 604.9h0M352.7 604.9h0M352.7 604.9h0M352.9 604.9h0M353.1 604.8h0M353.5 604.7h0M354 604.7h0M353.9 604.6h0M354.3 604.6h0M354.3 604.6h0M351.1 604.3h0M351.6 604.1h0M352.1 603.9h0M352.8 603.8h0M353.7 603.8h0M353.8 603.7h0M354.6 603.6h0M351.3 603.5h0M351.5 603.4h0M352.3 603.4h0M352.8 602.9h0M353.3 602.7h0M354.1 602.7h0M354.4 602.6h0M351.3 602.4h0M351.8 602.1h0M352.8 602h0M353.9 602h0M354.7 601.5h0M351.3 601.1h0M352.1 601.1h0M352.8 601h0M353.6 600.7h0M354.5 600.5h0M352.3 600.4h0M353.3 599.6h0M352.6 598.9h0M353.3 598.6h0"/>
<path id="dxi5" d="M359.5 666.2h0M360.5 665.6h0M361.5 665.6h0M359.4 665.2h0M359.9 665.2h0M360.8 665.2h0M361.6 664.9h0M358.7 664.5h0M359.4 664.4h0M360.1 664.4h0M360.4 664.2h0M360.9 664.1h0M361.4 664h0M362.2 663.6h0M358.6 663.4h0M359.1 663.3h0M359.6 663.2h0M359.8 663.1h0M360.4 663.1h0M360.5 663h0M361 662.6h0M361.5 662.6h0M361.6 662.6h0M362.4 662.5h0M359.5 662.5h0M360.5 662.4h0M361.3 662.4h0M358.6 661.4h0M359.2 661.4h0M359.7 661.1h0M360.2 660.9h0M360.9 660.8h0M361.2 660.7h0M361.8 660.7h0M362.2 660.6h0M358.7 660.4h0M359.6 660.4h0M360 660.3h0M360.9 660.2h0M361.5 660.1h0M362.3 659.6h0M359 658.9h0M359.9 658.9h0M361.1 658.7h0M361.7 658.6h0M359.5 658.2h0M360.1 658.1h0M361.1 657.8h0M361.7 657.6h0M360 656.3h0M360.8 655.9h0M359.4 655.5h0M360.6 655h0M361.2 655h0M359.9 654.2h0M360.8 653.9h0M359.7 653.4h0M360.7 653.1h0M361.5 652.7h0M359.5 650.4h0M360.4 650h0M361.3 649.8h0M360.6 649h0M360.3 648.5h0M360.9 647.7h0M360.2 646.8h0M360.8 646.7h0M360.6 646.4h0M359.9 644.2h0M360.7 643.7h0M360.2 643.4h0M361 643.4h0M359.8 642.2h0M361.1 642.2h0M360.4 639.3h0"/>
<path id="dxi6" d="M367.9 666.9h0M368.7 666.7h0M367.3 666.3h0M368 665.8h0M369.1 665.8h0M366.7 665.5h0M367.2 665.4h0M367.6 665.3h0M368.2 665.2h0M368.7 665h0M369.1 664.9h0M369.8 664.7h0M366.3 664.2h0M367.1 663.9h0M367.5 663.9h0M368.2 663.9h0M368.2 663.8h0M368.7 663.8h0M369.4 663.6h0M369.7 663.5h0M366.6 663.5h0M367 663.4h0M367.7 663.3h0M368.3 663.1h0M368.6 662.8h0M369.5 662.8h0M369.8 662.7h0M366.7 662.4h0M367.2 662.2h0M368.3 662.1h0M369.1 662.1h0M370.1 661.5h0M366.9 661.4h0M367.7 661.4h0M368.7 661.2h0M369.5 661.1h0M367.2 660.4h0M368.2 659.8h0M369.2 659.5h0M367.1 659.4h0M368.2 659.3h0M368.9 658.5h0M367.5 658.4h0M368.4 657.8h0M369.3 657.8h0M367.5 657.2h0M368.3 657h0M369.1 656.9h0M367.7 656.1h0M368.7 655.8h0M368.2 655.1h0M368 653.6h0M367.7 652.8h0M368.5 652.5h0M367.1 652.5h0M368.1 652.1h0M369 651.6h0M367.9 651.4h0M368.7 650.8h0M368.4 650h0M368.1 649.3h0M366.2 648.4h0M367 648.1h0M368 648.1h0M368.5 647.9h0M369.3 647.6h0M369.8 647.5h0M368.1 647.4h0M368.2 645.8h0M367.9 645.2h0M368.6 644.7h0M368.2 644.1h0M368.2 643.2h0M368.4 640.8h0M368.3 638.6h0"/>
<path id="dxi7" d="M375.6 643.6h0M375.5 643.4h0M376 643.2h0M374.8 642.1h0M375.2 642.1h0M376.2 642.1h0M376.9 641.6h0M374 641h0M374.8 641h0M375.6 640.8h0M376.8 640.7h0M377.3 640.5h0M374.1 640.4h0M374.6 640.4h0M375.3 640.4h0M376.1 640.3h0M376.8 640h0M377.4 639.8h0M374.3 639.5h0M374.6 639.3h0M375.6 639.3h0M376 639.1h0M376.7 639h0M377.4 638.6h0M374.9 638.4h0M376 637.8h0M376.9 637.8h0M374.8 637.4h0M375.9 636.8h0M376.8 636.5h0M373.9 636.5h0M374.7 636.4h0M375.8 635.8h0M376.6 635.7h0M377.6 635.7h0M374.1 635.5h0M375 635.4h0M375.7 635.4h0M376 635.2h0M377 634.9h0M377.5 634.9h0M375.5 633.5h0M376.4 633.5h0M374.2 633.4h0M374.9 633.3h0M375.4 633.2h0M376.3 633h0M377 633h0M377.3 632.6h0M374 632.5h0M375.2 632.2h0M375.9 632.1h0M376.9 631.6h0M377.5 631.5h0M374.8 631.4h0M375.7 631.1h0M376.5 630.5h0M375.4 630.5h0M376.3 630h0M375.6 628.9h0M375.7 628.3h0M375.9 625.8h0M375.4 624.2h0M376.1 623.8h0M375.2 622.3h0M376.3 621.6h0M375.1 621.4h0M375.6 621h0M376.6 621h0M375.5 620.4h0M376.1 620.3h0M375.7 618.1h0M375.6 617.2h0M375.9 616.2h0M375.8 614.6h0"/>
<path id="dxi8" d="M383.6 637.8h0M382.9 635.6h0M383.9 635.5h0M381.5 635h0M382.5 634.8h0M383.2 634.8h0M384 634.8h0M384.5 634.7h0M385.3 634.7h0M382 634.3h0M382.7 634h0M383 633.8h0M383.6 633.8h0M384.7 633.7h0M385.2 633.5h0M381.6 633.3h0M382.2 633.3h0M382.7 633.2h0M382.9 633.1h0M383.3 633.1h0M383.3 633h0M384.1 632.8h0M384.2 632.8h0M384.5 632.7h0M384.7 632.6h0M385 632.6h0M381.8 632.4h0M382.2 632.2h0M383.1 632.1h0M383.9 632h0M384.4 631.8h0M385.1 631.7h0M381.6 631.5h0M382.2 631.4h0M382.8 631.3h0M382.8 631.2h0M383.7 631.2h0M383.8 631.1h0M384.4 630.9h0M384.6 630.8h0M385.1 630.8h0M381.8 630.2h0M382.8 630h0M383.6 629.7h0M384.5 629.7h0M385.1 629.6h0M381.8 629.4h0M382.5 629.3h0M382.8 629.3h0M383.3 629.2h0M384.1 629.1h0M384.7 629.1h0M385.3 628.8h0M382.8 628.5h0M383.5 628.3h0M384.3 627.6h0M381.9 627.2h0M382.7 626.9h0M383.4 626.8h0M384.4 626.7h0M385.2 626.5h0M382.4 626.3h0M383.4 625.9h0M384.3 625.7h0M383.5 624.7h0M382.4 624.4h0M383.6 624.1h0M384.5 623.8h0M382.9 622.8h0M383.8 622.7h0M383.5 622.3h0M382.9 619.7h0M384.1 619.7h0M383.6 618.5h0M383.5 616.7h0"/>
<path id="dxi9" d="M391 594.9h0M390.7 593.7h0M391.6 593.6h0M391.4 592.7h0M391.4 592.1h0M390.9 590.6h0M390.5 588.5h0M391.2 588.4h0M392 587.9h0M391.1 585.9h0M390.6 585.1h0M391.3 584.6h0M390.9 584.4h0M391.5 583.9h0M390.6 583.2h0M391.7 583.1h0M391.1 582.1h0M389.8 581.3h0M390.9 581.2h0M391.6 580.7h0M392.6 580.7h0M390.3 580.2h0M391 579.8h0M392.1 579.7h0M389.6 579.3h0M389.9 579.3h0M390.9 579h0M391.7 578.9h0M392.3 578.9h0M392.6 578.9h0M389.3 578.4h0M390.3 578.3h0M390.8 578.1h0M391.5 578.1h0M392.1 577.9h0M392.9 577.6h0M389.6 577.5h0M389.7 577.4h0M390.2 577.3h0M390.7 577.3h0M391 577.3h0M391.6 577.2h0M391.9 577.1h0M392.5 576.8h0M392.9 576.7h0M390.1 576h0M390.9 575.8h0M391.9 575.7h0M389.7 575.3h0M389.8 575.3h0M390.8 575.1h0M391.3 575h0M391.8 575h0M392.5 574.8h0M393 574.8h0M389.5 574.4h0M389.7 574.2h0M390.6 574h0M391 574h0M391.2 573.8h0M391.8 573.7h0M392.5 573.7h0M392.9 573.7h0M390.1 573.5h0M390.7 572.8h0M391.5 572.8h0M392.5 572.6h0M390.8 571.9h0M391.3 571.7h0M389.8 571.3h0M390.5 571.2h0M391.3 571h0M392.6 570.9h0M390.8 570.5h0M391.7 570.2h0"/>
<path id="dxi10" d="M398.4 581.1h0M399.4 580.7h0M398.5 579.6h0M399.2 579.6h0M398.6 579.5h0M398.6 578.2h0M398.6 574.5h0M398.1 574.4h0M398.6 573.7h0M399.6 573.7h0M397 573.4h0M397.8 573.1h0M398.9 573h0M399.6 572.8h0M400.3 572.7h0M398.3 572.3h0M399.5 571.5h0M397 571.4h0M397.8 571.2h0M398.9 570.8h0M399.8 570.7h0M400.7 570.6h0M398.3 569.1h0M399 568.5h0M398.7 568h0M397.7 566.1h0M398.9 565.8h0M399.5 565.6h0M397.1 565.5h0M397.9 565.4h0M399 565.1h0M399.6 565h0M400.7 564.9h0M397.1 564.1h0M397.6 564h0M398.4 563.9h0M398.6 563.7h0M399.5 563.7h0M399.7 563.7h0M400.4 563.6h0M398.3 562.6h0M399.4 562.6h0M397.9 562.4h0M398.9 561.9h0M399.9 561.7h0M397.2 561.4h0M397.3 561.1h0M398 561.1h0M398.6 561h0M399 560.9h0M399.4 560.8h0M399.8 560.8h0M400.1 560.8h0M400.3 560.7h0M398.4 560.3h0M399.3 560.1h0M398.7 559.2h0M397.2 558.4h0M397.9 558.3h0M398.2 558.2h0M398.8 558.1h0M399.4 558h0M400 557.9h0M400.4 557.8h0M398 557.1h0M399 557.1h0M399.4 556.6h0M397.5 556.3h0M398.2 556.1h0M399.4 556.1h0M399.9 555.6h0M398.2 555.4h0M399 555.3h0M399.5 554.8h0M398.9 554.2h0"/>
</defs>
<g fill="none" stroke-linecap="round">
<use href="#dxi0" stroke="#1c1c1c" stroke-width="2.4"/>
<use href="#dxi1" stroke="#1c1c1c" stroke-width="2.4"/>
<use href="#dxi2" stroke="#1c1c1c" stroke-width="2.4"/>
<use href="#dxi3" stroke="#1c1c1c" stroke-width="2.4"/>
<use href="#dxi4" stroke="#1c1c1c" stroke-width="2.4"/>
<use href="#dxi5" stroke="#1c1c1c" stroke-width="2.4"/>
<use href="#dxi6" stroke="#1c1c1c" stroke-width="2.4"/>
<use href="#dxi7" stroke="#1c1c1c" stroke-width="2.4"/>
<use href="#dxi8" stroke="#1c1c1c" stroke-width="2.4"/>
<use href="#dxi9" stroke="#1c1c1c" stroke-width="2.4"/>
<use href="#dxi10" stroke="#1c1c1c" stroke-width="2.4"/>
<g opacity="0.42">
<use href="#dxi0" stroke="#6a2040" stroke-width="0.6"/>
<use href="#dxi1" stroke="#2a2d68" stroke-width="0.6"/>
<use href="#dxi2" stroke="#a08060" stroke-width="0.6"/>
<use href="#dxi3" stroke="#5e5e2a" stroke-width="0.6"/>
<use href="#dxi4" stroke="#6a6a6a" stroke-width="0.6"/>
<use href="#dxi5" stroke="#2a6a38" stroke-width="0.6"/>
<use href="#dxi6" stroke="#9a5a20" stroke-width="0.6"/>
<use href="#dxi7" stroke="#2a3a70" stroke-width="0.6"/>
<use href="#dxi8" stroke="#987088" stroke-width="0.6"/>
<use href="#dxi9" stroke="#8a98aa" stroke-width="0.6"/>
<use href="#dxi10" stroke="#948a22" stroke-width="0.6"/>
</g>
</g>
<path d="M317.4 626.2h86.5" stroke="#111" stroke-width="0.9"/>
<g font-size="7.6" fill="#333" text-anchor="end">
<text transform="translate(324.9,701.5) rotate(-90)">PAC</text>
<text transform="translate(332.56,701.5) rotate(-90)">CC</text>
<text transform="translate(340.22,701.5) rotate(-90)">GEEC</text>
<text transform="translate(347.88,701.5) rotate(-90)">GMC</text>
<text transform="translate(355.54,701.5) rotate(-90)">MTC</text>
<text transform="translate(363.2,701.5) rotate(-90)">EC</text>
<text transform="translate(370.86,701.5) rotate(-90)">FB</text>
<text transform="translate(378.52,701.5) rotate(-90)">MC</text>
<text transform="translate(386.18,701.5) rotate(-90)">NP</text>
<text transform="translate(393.84,701.5) rotate(-90)">TC</text>
<text transform="translate(401.5,701.5) rotate(-90)">PC</text>
</g>
<text x="363.8" y="729.5" font-size="8.4" fill="#333" text-anchor="middle"><tspan font-style="italic">Ref.T.</tspan> Panel</text>
<text transform="translate(12.6,449.5) rotate(-90)" font-size="9.6" fill="#333" text-anchor="middle">Mean correlation</text>
<text transform="translate(12.6,624) rotate(-90)" font-size="9.6" fill="#333" text-anchor="middle">Mean correlation</text>
<text x="0.1" y="369.5" font-weight="bold" font-size="19.5" fill="#111">D</text>
<text x="41.2" y="369.6" font-size="10.3" fill="#333">Cell type enriched transcripts</text>
<rect x="27.2" y="759.5" width="210" height="18.8" fill="#c2e6cb"/>
<text x="33" y="772.7" font-size="10" fill="#333"><tspan font-weight="bold">i.</tspan> Endothelial cell (EC)</text>
<rect x="27.4" y="784.2" width="19.5" height="82.9" fill="#e6f4e9"/>
<rect x="27.4" y="867.1" width="19.5" height="41.44" fill="#d6efdb"/>
<rect x="27.4" y="908.54" width="19.5" height="62.16" fill="#a6dab2"/>
<rect x="27.4" y="970.7" width="19.5" height="20.8" fill="#90d09f"/>
<path d="M48.8 789.4H42.7V799.76H48.8M42.7 794.58H38.6V810.12H48.8M48.8 820.48H42.7V830.84H48.8M38.6 802.35H34.4V825.66H42.7M48.8 851.56H42.7V861.92H48.8M48.8 841.2H38.6V856.74H42.7M34.4 814H30.5V848.97H38.6M48.8 872.28H42.7V882.64H48.8M48.8 893H42.4V903.36H48.8M42.7 877.46H38.4V898.18H42.4M30.5 831.49H26.4V887.82H38.4M48.8 913.72H42.8V924.08H48.8M42.8 918.9H38.4V934.44H48.8M48.8 944.8H42.8V955.16H48.8M42.8 949.98H38.4V965.52H48.8M38.4 926.67H34.5V957.75H38.4M48.8 975.88H42.4V986.24H48.8M34.5 942.21H30.5V981.06H42.4M26.4 859.65H22V961.63H30.5" fill="none" stroke="#2a2a2a" stroke-width="0.9"/>
<circle cx="48.8" cy="789.4" r="3.8" fill="#ee262e"/>
<circle cx="48.8" cy="799.76" r="3.8" fill="#ee262e"/>
<circle cx="48.8" cy="810.12" r="3.7" fill="#6a4ab8"/>
<circle cx="48.8" cy="820.48" r="3.8" fill="#ee262e"/>
<circle cx="48.8" cy="830.84" r="3.7" fill="#ee262e"/>
<circle cx="48.8" cy="841.2" r="3.9" fill="#d81f66"/>
<circle cx="48.8" cy="851.56" r="3.9" fill="#ee262e"/>
<circle cx="48.8" cy="861.92" r="3.9" fill="#ee262e"/>
<circle cx="48.8" cy="872.28" r="3.9" fill="#4050b4"/>
<circle cx="48.8" cy="882.64" r="3.8" fill="#4a4cb8"/>
<circle cx="48.8" cy="893" r="2.2" fill="#4050b4"/>
<circle cx="48.8" cy="903.36" r="1.6" fill="#5648b6"/>
<circle cx="48.8" cy="913.72" r="3.1" fill="#4050b4"/>
<circle cx="48.8" cy="924.08" r="3.1" fill="#6a4ab8"/>
<circle cx="48.8" cy="934.44" r="3" fill="#4050b4"/>
<circle cx="48.8" cy="944.8" r="3.3" fill="#5648b6"/>
<circle cx="48.8" cy="955.16" r="3.5" fill="#7e3cb6"/>
<circle cx="48.8" cy="965.52" r="3.6" fill="#4050b4"/>
<circle cx="48.8" cy="975.88" r="2.5" fill="#4050b4"/>
<circle cx="48.8" cy="986.24" r="2.9" fill="#5648b6"/>
<g font-size="7" fill="#262626">
<text x="54.9" y="791.9" font-weight="bold" fill="#111">vasculature development</text>
<text x="54.9" y="802.26" font-weight="bold" fill="#111">blood vessel development</text>
<text x="54.9" y="812.62">circulatory system development</text>
<text x="54.9" y="822.98" font-weight="bold" fill="#111">blood vessel morphogenesis</text>
<text x="54.9" y="833.34" font-weight="bold" fill="#111">angiogenesis</text>
<text x="54.9" y="843.7" font-weight="bold" fill="#111">anatomical structure formation in morphogenesis</text>
<text x="54.9" y="854.06" font-weight="bold" fill="#111">tube development</text>
<text x="54.9" y="864.42" font-weight="bold" fill="#111">tube morphogenesis</text>
<text x="54.9" y="874.78">tissue development</text>
<text x="54.9" y="885.14">cell adhesion</text>
<text x="54.9" y="895.5">epithelial cell development</text>
<text x="54.9" y="905.86">endothelium development</text>
<text x="54.9" y="916.22">positive regulation of cell motility</text>
<text x="54.9" y="926.58">positive regulation of cell migration</text>
<text x="54.9" y="936.94">positive regulation of locomotion</text>
<text x="54.9" y="947.3">regulation of cell motility</text>
<text x="54.9" y="957.66">regulation of cell migration</text>
<text x="54.9" y="968.02">regulation of locomotion</text>
<text x="54.9" y="978.38">endothelial cell migration</text>
<text x="54.9" y="988.74">ameboidal−type cell migration</text>
</g>
<defs><linearGradient id="eg0" x1="0" y1="0" x2="0" y2="1">
<stop offset="0" stop-color="#4a52b2"/>
<stop offset="0.25" stop-color="#8a36b0"/>
<stop offset="0.5" stop-color="#c8178c"/>
<stop offset="0.75" stop-color="#ee1c50"/>
<stop offset="1" stop-color="#f2202c"/>
</linearGradient></defs>
<text x="146.4" y="855.2" font-size="7" fill="#222">Log p.adj</text>
<rect x="152.1" y="858.1" width="7.4" height="38.5" fill="url(#eg0)"/>
<g stroke="#fff" stroke-width="0.7">
<line x1="152.1" y1="862.4" x2="153.6" y2="862.4"/><line x1="158" y1="862.4" x2="159.5" y2="862.4"/>
<line x1="152.1" y1="873.5" x2="153.6" y2="873.5"/><line x1="158" y1="873.5" x2="159.5" y2="873.5"/>
<line x1="152.1" y1="885.7" x2="153.6" y2="885.7"/><line x1="158" y1="885.7" x2="159.5" y2="885.7"/>
</g>
<g font-size="7" fill="#222">
<text x="162.6" y="864.9">−6</text>
<text x="162.6" y="876">−7</text>
<text x="162.6" y="888.2">−8</text>
<text x="183.1" y="855.2">Number of genes</text>
<text x="193" y="864.6">10</text>
<text x="193" y="872.5">15</text>
<text x="193" y="880.6">20</text>
<text x="193" y="890">25</text>
</g>
<circle cx="186" cy="862.1" r="2.1" fill="#000"/>
<circle cx="186" cy="870" r="2.9" fill="#000"/>
<circle cx="186" cy="878.1" r="3.4" fill="#000"/>
<circle cx="186" cy="887.5" r="4.1" fill="#000"/>
<rect x="256.7" y="759.5" width="210.2" height="18.8" fill="#f9d6bb"/>
<text x="260.1" y="772.7" font-size="10" fill="#333"><tspan font-weight="bold">ii.</tspan> Fibroblast</text>
<rect x="256.8" y="784.2" width="20" height="53.34" fill="#f5b07d"/>
<rect x="256.8" y="837.54" width="20" height="61.92" fill="#f8c9a3"/>
<rect x="256.8" y="899.46" width="20" height="20.64" fill="#fbdabf"/>
<rect x="256.8" y="920.1" width="20" height="71.4" fill="#fde9da"/>
<path d="M277.9 791.1H271.2V801.42H277.9M277.9 822.06H271.2V832.38H277.9M277.9 811.74H265.7V827.22H271.2M271.2 796.26H260.3V819.48H265.7M277.9 842.7H271.2V853.02H277.9M277.9 863.34H271.2V873.66H277.9M277.9 883.98H271.2V894.3H277.9M271.2 868.5H265.7V889.14H271.2M271.2 847.86H260.3V878.82H265.7M277.9 904.62H271.3V914.94H277.9M277.9 935.58H271.3V945.9H277.9M277.9 925.26H265.6V940.74H271.3M277.9 956.22H271.3V966.54H277.9M277.9 976.86H271.3V987.18H277.9M271.3 961.38H265.6V982.02H271.3M265.6 933H260.4V971.7H265.6M271.3 909.78H255.6V952.35H260.4M260.3 863.34H250.3V931.07H255.6M260.3 807.87H245.4V897.2H250.3" fill="none" stroke="#2a2a2a" stroke-width="0.9"/>
<circle cx="277.9" cy="791.1" r="3.6" fill="#ee262e"/>
<circle cx="277.9" cy="801.42" r="3.3" fill="#4050b4"/>
<circle cx="277.9" cy="811.74" r="4.1" fill="#ee262e"/>
<circle cx="277.9" cy="822.06" r="4.1" fill="#ee262e"/>
<circle cx="277.9" cy="832.38" r="4.1" fill="#ee262e"/>
<circle cx="277.9" cy="842.7" r="1.7" fill="#4050b4"/>
<circle cx="277.9" cy="853.02" r="1.7" fill="#4050b4"/>
<circle cx="277.9" cy="863.34" r="2.6" fill="#6a4ab8"/>
<circle cx="277.9" cy="873.66" r="2.6" fill="#4050b4"/>
<circle cx="277.9" cy="883.98" r="3.6" fill="#e81e4e"/>
<circle cx="277.9" cy="894.3" r="2.6" fill="#6a4ab8"/>
<circle cx="277.9" cy="904.62" r="2" fill="#4050b4"/>
<circle cx="277.9" cy="914.94" r="2" fill="#4050b4"/>
<circle cx="277.9" cy="925.26" r="3.8" fill="#4050b4"/>
<circle cx="277.9" cy="935.58" r="3.5" fill="#4050b4"/>
<circle cx="277.9" cy="945.9" r="3.5" fill="#4050b4"/>
<circle cx="277.9" cy="956.22" r="4.1" fill="#7e3cb6"/>
<circle cx="277.9" cy="966.54" r="3.5" fill="#4050b4"/>
<circle cx="277.9" cy="976.86" r="3" fill="#5648b6"/>
<circle cx="277.9" cy="987.18" r="4" fill="#4050b4"/>
<g font-size="7" fill="#262626">
<text x="283.2" y="793.6" font-weight="bold" fill="#111">collagen fibril organization</text>
<text x="283.2" y="803.92">supramolecular fiber organization</text>
<text x="283.2" y="814.24" font-weight="bold" fill="#111">external encapsulating structure organization</text>
<text x="283.2" y="824.56" font-weight="bold" fill="#111">extracellular matrix organization</text>
<text x="283.2" y="834.88" font-weight="bold" fill="#111">extracellular structure organization</text>
<text x="283.2" y="845.2">intramembranous ossification</text>
<text x="283.2" y="855.52">direct ossification</text>
<text x="283.2" y="865.84">collagen catabolic process</text>
<text x="283.2" y="876.16">extracellular matrix disassembly</text>
<text x="283.2" y="886.48" font-weight="bold" fill="#111">collagen metabolic process</text>
<text x="283.2" y="896.8">collagen biosynthetic process</text>
<text x="283.2" y="907.12">elastic fiber assembly</text>
<text x="283.2" y="917.44">extracellular matrix assembly</text>
<text x="283.2" y="927.76">circulatory system development</text>
<text x="283.2" y="938.08">blood vessel development</text>
<text x="283.2" y="948.4">vasculature development</text>
<text x="283.2" y="958.72">cell adhesion</text>
<text x="283.2" y="969.04">regulation of cell adhesion</text>
<text x="283.2" y="979.36">ossification</text>
<text x="283.2" y="989.68">regulation of multicellular organismal development</text>
</g>
<defs><linearGradient id="eg1" x1="0" y1="0" x2="0" y2="1">
<stop offset="0" stop-color="#4a52b2"/>
<stop offset="0.25" stop-color="#8a36b0"/>
<stop offset="0.5" stop-color="#c8178c"/>
<stop offset="0.75" stop-color="#ee1c50"/>
<stop offset="1" stop-color="#f2202c"/>
</linearGradient></defs>
<text x="388.2" y="855.2" font-size="7" fill="#222">Log_p.adj</text>
<rect x="394" y="858.7" width="7.4" height="37.7" fill="url(#eg1)"/>
<g stroke="#fff" stroke-width="0.7">
<line x1="394" y1="862.1" x2="395.5" y2="862.1"/><line x1="399.9" y1="862.1" x2="401.4" y2="862.1"/>
<line x1="394" y1="872.9" x2="395.5" y2="872.9"/><line x1="399.9" y1="872.9" x2="401.4" y2="872.9"/>
<line x1="394" y1="884" x2="395.5" y2="884"/><line x1="399.9" y1="884" x2="401.4" y2="884"/>
<line x1="394" y1="894.6" x2="395.5" y2="894.6"/><line x1="399.9" y1="894.6" x2="401.4" y2="894.6"/>
</g>
<g font-size="7" fill="#222">
<text x="402.8" y="864.6">−5</text>
<text x="402.8" y="875.4">−10</text>
<text x="402.8" y="886.5">−15</text>
<text x="402.8" y="897.1">−20</text>
<text x="424.8" y="855.2">Number of genes</text>
<text x="435.6" y="864.6">10</text>
<text x="435.6" y="872.3">20</text>
<text x="435.6" y="881.2">30</text>
</g>
<circle cx="429.6" cy="862.1" r="2.5" fill="#000"/>
<circle cx="429.6" cy="869.8" r="3.4" fill="#000"/>
<circle cx="429.6" cy="878.7" r="4.1" fill="#000"/>
<rect x="487.4" y="759.5" width="209.5" height="18.8" fill="#e6eff9" stroke="#c7d9ee" stroke-width="0.8"/>
<text x="492.2" y="772.7" font-size="10" fill="#333"><tspan font-weight="bold">iii.</tspan> T-cell</text>
<rect x="489" y="784.2" width="19.5" height="52.11" fill="#a8c2e0"/>
<rect x="489" y="836.31" width="19.5" height="72.66" fill="#ccdbed"/>
<rect x="489" y="908.97" width="19.5" height="62.28" fill="#dde7f3"/>
<rect x="489" y="971.25" width="19.5" height="20.25" fill="#e8eff8"/>
<path d="M511.3 789.6H504.8V799.98H511.3M511.3 810.36H504.8V820.74H511.3M504.8 794.79H501V815.55H504.8M501 805.17H497.2V831.12H511.3M511.3 841.5H504.8V851.88H511.3M504.8 846.69H501V862.26H511.3M501 854.48H497.2V872.64H511.3M497.2 818.14H493.4V863.56H497.2M511.3 883.02H504.7V893.4H511.3M504.7 888.21H500.9V903.78H511.3M493.4 840.85H489.6V896H500.9M511.3 914.16H504.7V924.54H511.3M504.7 919.35H500.9V934.92H511.3M500.9 927.13H497.3V945.3H511.3M497.3 936.22H493.5V955.68H511.3M493.5 945.95H489.6V966.06H511.3M511.3 976.44H504.1V986.82H511.3M489.6 956H485.9V981.63H504.1M489.6 868.42H482.3V968.82H485.9" fill="none" stroke="#2a2a2a" stroke-width="0.9"/>
<circle cx="511.3" cy="789.6" r="2.9" fill="#6a4ab8"/>
<circle cx="511.3" cy="799.98" r="3.1" fill="#9a34b0"/>
<circle cx="511.3" cy="810.36" r="3.5" fill="#9a34b0"/>
<circle cx="511.3" cy="820.74" r="3.3" fill="#c41c92"/>
<circle cx="511.3" cy="831.12" r="4" fill="#ee262e"/>
<circle cx="511.3" cy="841.5" r="4" fill="#ee262e"/>
<circle cx="511.3" cy="851.88" r="4" fill="#ee262e"/>
<circle cx="511.3" cy="862.26" r="3.9" fill="#ee262e"/>
<circle cx="511.3" cy="872.64" r="3.9" fill="#ee262e"/>
<circle cx="511.3" cy="883.02" r="1.5" fill="#6a4ab8"/>
<circle cx="511.3" cy="893.4" r="1.5" fill="#9a34b0"/>
<circle cx="511.3" cy="903.78" r="2.9" fill="#4050b4"/>
<circle cx="511.3" cy="914.16" r="3.3" fill="#c41c92"/>
<circle cx="511.3" cy="924.54" r="3.3" fill="#c41c92"/>
<circle cx="511.3" cy="934.92" r="3.3" fill="#c41c92"/>
<circle cx="511.3" cy="945.3" r="3.3" fill="#9a34b0"/>
<circle cx="511.3" cy="955.68" r="3.3" fill="#6a4ab8"/>
<circle cx="511.3" cy="966.06" r="3.3" fill="#9a34b0"/>
<circle cx="511.3" cy="976.44" r="2.5" fill="#4050b4"/>
<circle cx="511.3" cy="986.82" r="2.5" fill="#9a34b0"/>
<g font-size="7" fill="#262626">
<text x="516.8" y="792.1">adaptive immune response</text>
<text x="516.8" y="802.48">regulation of immune response</text>
<text x="516.8" y="812.86">regulation of immune system process</text>
<text x="516.8" y="823.24">positive regulation of immune system process</text>
<text x="516.8" y="833.62" font-weight="bold" fill="#111">immune response</text>
<text x="516.8" y="844" font-weight="bold" fill="#111">cell activation</text>
<text x="516.8" y="854.38" font-weight="bold" fill="#111">leukocyte activation</text>
<text x="516.8" y="864.76" font-weight="bold" fill="#111">lymphocyte activation</text>
<text x="516.8" y="875.14" font-weight="bold" fill="#111">T cell activation</text>
<text x="516.8" y="885.52">T cell selection</text>
<text x="516.8" y="895.9">positive T cell selection</text>
<text x="516.8" y="906.28">lymphocyte differentiation</text>
<text x="516.8" y="916.66">immune response−activating signal transduction</text>
<text x="516.8" y="927.04">immune response−activating signaling pathway</text>
<text x="516.8" y="937.42">immune response−regulating signaling pathway</text>
<text x="516.8" y="947.8">activation of immune response</text>
<text x="516.8" y="958.18">immune response−regulating signaling pathway</text>
<text x="516.8" y="968.56">positive regulation of immune response</text>
<text x="516.8" y="978.94">antigen receptor−mediated signaling pathway</text>
<text x="516.8" y="989.32">T cell receptor signaling pathway</text>
</g>
<defs><linearGradient id="eg2" x1="0" y1="0" x2="0" y2="1">
<stop offset="0" stop-color="#4a52b2"/>
<stop offset="0.25" stop-color="#8a36b0"/>
<stop offset="0.5" stop-color="#c8178c"/>
<stop offset="0.75" stop-color="#ee1c50"/>
<stop offset="1" stop-color="#f2202c"/>
</linearGradient></defs>
<text x="600.3" y="855.2" font-size="7" fill="#222">Log p.adj</text>
<rect x="605.5" y="858" width="7.9" height="39.3" fill="url(#eg2)"/>
<g stroke="#fff" stroke-width="0.7">
<line x1="605.5" y1="863.7" x2="607" y2="863.7"/><line x1="611.9" y1="863.7" x2="613.4" y2="863.7"/>
<line x1="605.5" y1="871.4" x2="607" y2="871.4"/><line x1="611.9" y1="871.4" x2="613.4" y2="871.4"/>
<line x1="605.5" y1="879.5" x2="607" y2="879.5"/><line x1="611.9" y1="879.5" x2="613.4" y2="879.5"/>
<line x1="605.5" y1="887.4" x2="607" y2="887.4"/><line x1="611.9" y1="887.4" x2="613.4" y2="887.4"/>
<line x1="605.5" y1="895.7" x2="607" y2="895.7"/><line x1="611.9" y1="895.7" x2="613.4" y2="895.7"/>
</g>
<g font-size="7" fill="#222">
<text x="615" y="866.2">−7</text>
<text x="615" y="873.9">−8</text>
<text x="615" y="882">−9</text>
<text x="615" y="889.9">−10</text>
<text x="615" y="898.2">−11</text>
<text x="637.5" y="855.2">Number of genes</text>
<text x="648.9" y="864.1">5.0</text>
<text x="648.9" y="871.6">7.5</text>
<text x="648.9" y="879.5">10.0</text>
<text x="648.9" y="887.4">12.5</text>
<text x="648.9" y="897.4">15.0</text>
</g>
<circle cx="641.5" cy="861.6" r="1.4" fill="#000"/>
<circle cx="641.5" cy="869.1" r="2.3" fill="#000"/>
<circle cx="641.5" cy="877" r="2.9" fill="#000"/>
<circle cx="641.5" cy="884.9" r="3.3" fill="#000"/>
<circle cx="641.5" cy="894.9" r="3.8" fill="#000"/>
<text x="0.3" y="748.5" font-weight="bold" font-size="19.5" fill="#111">E</text>
<text x="40.2" y="749" font-size="10.25" fill="#333">Gene ontology terms for predicted cell-type enriched genes</text>
<rect x="478.7" y="556.3" width="202.3" height="164.5" fill="#fff"/>
<g stroke="#ebebeb" stroke-width="0.5">
<line x1="491.44" y1="556.3" x2="491.44" y2="720.8" stroke-width="0.9"/>
<line x1="509.7" y1="556.3" x2="509.7" y2="720.8" stroke-width="0.45"/>
<line x1="527.96" y1="556.3" x2="527.96" y2="720.8" stroke-width="0.9"/>
<line x1="546.22" y1="556.3" x2="546.22" y2="720.8" stroke-width="0.45"/>
<line x1="564.48" y1="556.3" x2="564.48" y2="720.8" stroke-width="0.9"/>
<line x1="582.74" y1="556.3" x2="582.74" y2="720.8" stroke-width="0.45"/>
<line x1="601" y1="556.3" x2="601" y2="720.8" stroke-width="0.9"/>
<line x1="619.26" y1="556.3" x2="619.26" y2="720.8" stroke-width="0.45"/>
<line x1="637.52" y1="556.3" x2="637.52" y2="720.8" stroke-width="0.9"/>
<line x1="655.78" y1="556.3" x2="655.78" y2="720.8" stroke-width="0.45"/>
<line x1="674.04" y1="556.3" x2="674.04" y2="720.8" stroke-width="0.9"/>
<line x1="478.7" y1="719.7" x2="681" y2="719.7" stroke-width="0.9"/>
<line x1="478.7" y1="701.35" x2="681" y2="701.35" stroke-width="0.45"/>
<line x1="478.7" y1="683" x2="681" y2="683" stroke-width="0.9"/>
<line x1="478.7" y1="664.65" x2="681" y2="664.65" stroke-width="0.45"/>
<line x1="478.7" y1="646.3" x2="681" y2="646.3" stroke-width="0.9"/>
<line x1="478.7" y1="627.95" x2="681" y2="627.95" stroke-width="0.45"/>
<line x1="478.7" y1="609.6" x2="681" y2="609.6" stroke-width="0.9"/>
<line x1="478.7" y1="591.25" x2="681" y2="591.25" stroke-width="0.45"/>
<line x1="478.7" y1="572.9" x2="681" y2="572.9" stroke-width="0.9"/>
</g>
<rect x="478.7" y="556.3" width="202.3" height="164.5" fill="none" stroke="#333" stroke-width="0.9"/>
<g stroke="#333" stroke-width="0.8">
<line x1="491.44" y1="720.8" x2="491.44" y2="723"/>
<line x1="527.96" y1="720.8" x2="527.96" y2="723"/>
<line x1="564.48" y1="720.8" x2="564.48" y2="723"/>
<line x1="601" y1="720.8" x2="601" y2="723"/>
<line x1="637.52" y1="720.8" x2="637.52" y2="723"/>
<line x1="674.04" y1="720.8" x2="674.04" y2="723"/>
<line x1="476.5" y1="719.7" x2="478.7" y2="719.7"/>
<line x1="476.5" y1="683" x2="478.7" y2="683"/>
<line x1="476.5" y1="646.3" x2="478.7" y2="646.3"/>
<line x1="476.5" y1="609.6" x2="478.7" y2="609.6"/>
<line x1="476.5" y1="572.9" x2="478.7" y2="572.9"/>
</g>
<g font-size="6.6" fill="#4d4d4d">
<text x="491.44" y="730" text-anchor="middle">-60</text>
<text x="527.96" y="730" text-anchor="middle">-40</text>
<text x="564.48" y="730" text-anchor="middle">-20</text>
<text x="601" y="730" text-anchor="middle">0</text>
<text x="637.52" y="730" text-anchor="middle">20</text>
<text x="674.04" y="730" text-anchor="middle">40</text>
<text x="475.5" y="722.1" text-anchor="end">-40</text>
<text x="475.5" y="685.4" text-anchor="end">-20</text>
<text x="475.5" y="648.7" text-anchor="end">0</text>
<text x="475.5" y="612" text-anchor="end">20</text>
<text x="475.5" y="575.3" text-anchor="end">40</text>
</g>
<text x="583.5" y="741" font-size="8.3" fill="#222" text-anchor="middle">Principal Component 1 (81.4%)</text>
<text transform="translate(458,642.5) rotate(-90)" font-size="8.1" fill="#222" text-anchor="middle">Principal Component 2</text>
<text transform="translate(467,642.5) rotate(-90)" font-size="8.1" fill="#222" text-anchor="middle">(13.9%)</text>
<circle cx="615.1" cy="592.7" r="3.4" fill="#a0a0a0" stroke="#222" stroke-width="0.8"/>
<circle cx="664.5" cy="623.9" r="3.4" fill="#7c6a2a" stroke="#222" stroke-width="0.8"/>
<circle cx="648.3" cy="631.8" r="3.4" fill="#c9dcf2" stroke="#222" stroke-width="0.8"/>
<circle cx="660.3" cy="644.6" r="3.4" fill="#f2e21a" stroke="#222" stroke-width="0.8"/>
<circle cx="532.5" cy="624.3" r="3.4" fill="#2f4aa0" stroke="#222" stroke-width="0.8"/>
<circle cx="549.5" cy="638.8" r="3.4" fill="#f0bcd8" stroke="#222" stroke-width="0.8"/>
<circle cx="501.7" cy="660" r="3.4" fill="#2eb64e" stroke="#222" stroke-width="0.8"/>
<circle cx="495.1" cy="663.7" r="3.4" fill="#f07f24" stroke="#222" stroke-width="0.8"/>
<circle cx="639.6" cy="666.6" r="3.4" fill="#f4b57f" stroke="#222" stroke-width="0.8"/>
<circle cx="657.4" cy="679.1" r="3.4" fill="#a01b4b" stroke="#222" stroke-width="0.8"/>
<circle cx="644.5" cy="684.5" r="3.4" fill="#232572" stroke="#222" stroke-width="0.8"/>
<g font-size="8.1" fill="#3a3a3a">
<text x="618.4" y="585.8" text-anchor="middle">Mitotic cell</text>
<text x="637.9" y="616.6" text-anchor="middle">Gastric mucous cell</text>
<text x="641.6" y="633.6" text-anchor="end">T-cell</text>
<text x="655.3" y="644" text-anchor="end">Plasma cell</text>
<text x="514.6" y="618.3" text-anchor="middle">Macrophage</text>
<text x="546.2" y="636.5" text-anchor="end">Neutrophil</text>
<text x="481.8" y="654.4" text-anchor="start">Endothelial cell</text>
<text x="481.8" y="674.7" text-anchor="start">Fibroblast</text>
<text x="632.9" y="669.3" text-anchor="end">Gastric enteroendocrine cell</text>
<text x="652" y="678.9" text-anchor="end">Parietal cell</text>
<text x="637.9" y="690.5" text-anchor="end">Chief cell</text>
</g>
<text x="446.5" y="566.4" font-weight="bold" font-size="19.5" fill="#111">F</text>
</svg>
</body></html>
